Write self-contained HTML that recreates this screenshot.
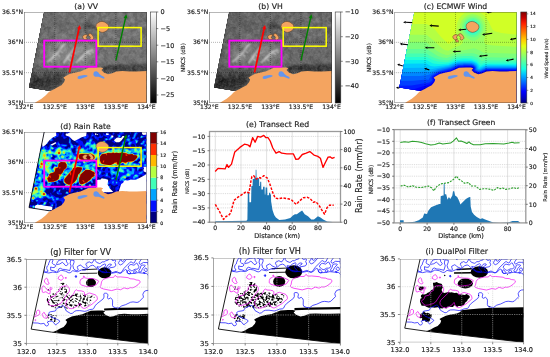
<!DOCTYPE html><html><head><meta charset="utf-8"><style>html,body{margin:0;padding:0;background:#fff;overflow:hidden}svg{display:block}</style></head><body><svg width="550" height="357" viewBox="0 0 550 357" font-family="DejaVu Sans, Liberation Sans, sans-serif"><defs><filter id="speck" x="0" y="0" width="1" height="1"><feTurbulence type="fractalNoise" baseFrequency="0.45" numOctaves="2" seed="3"/><feColorMatrix type="matrix" values="0 0 0 0 0.5  0 0 0 0 0.5  0 0 0 0 0.5  0 0 0 1.6 -0.55"/></filter><clipPath id="clipframe"><rect x="0" y="0" width="122.2" height="91.0"/></clipPath><clipPath id="clipswath"><polygon points="20.6,-3.0 4.8,75.6 25.1,78.8 124.0,91.2 124.0,-3.0"/></clipPath><linearGradient id="gg150" x1="0" y1="0" x2="0" y2="1"><stop offset="0" stop-color="#fff"/><stop offset="1" stop-color="#000"/></linearGradient><linearGradient id="gg335" x1="0" y1="0" x2="0" y2="1"><stop offset="0" stop-color="#fff"/><stop offset="1" stop-color="#000"/></linearGradient><linearGradient id="gj520" x1="0" y1="0" x2="0" y2="1"><stop offset="0.000" stop-color="#800000"/><stop offset="0.062" stop-color="#c40000"/><stop offset="0.125" stop-color="#ff1e00"/><stop offset="0.188" stop-color="#ff5900"/><stop offset="0.250" stop-color="#ff9400"/><stop offset="0.312" stop-color="#ffd000"/><stop offset="0.375" stop-color="#e4ff13"/><stop offset="0.438" stop-color="#b1ff46"/><stop offset="0.500" stop-color="#7dff7a"/><stop offset="0.562" stop-color="#49ffad"/><stop offset="0.625" stop-color="#16ffe1"/><stop offset="0.688" stop-color="#00c0ff"/><stop offset="0.750" stop-color="#0080ff"/><stop offset="0.812" stop-color="#0040ff"/><stop offset="0.875" stop-color="#0000ff"/><stop offset="0.938" stop-color="#0000c8"/><stop offset="1.000" stop-color="#000080"/></linearGradient></defs><rect width="550" height="357" fill="#fff"/><g transform="translate(24.20 12.00) scale(1.0000 1.0000)"><g clip-path="url(#clipframe)">
<rect x="0" y="0" width="122.2" height="91.0" fill="#fff"/>
<g clip-path="url(#clipswath)">
<rect x="-3" y="-3" width="128.2" height="97.0" fill="#060606"/>
<rect x="-3" y="-3" width="128.2" height="97.0" fill="#121212"/>
<rect x="-3" y="-3" width="128.2" height="97.0" fill="#1e1e1e"/>
<path d="M-1.5,-2.0L124.5,-2.0 124.5,93.0 -2.0,93.0 -2.0,-2.0ZM12.5,67.5L11.3,68.0 10.6,69.0 10.7,70.5 11.5,70.8 15.1,69.0 14.5,67.8 13.0,67.4ZM15.9,71.0L15.7,72.0 16.6,72.5 16.9,71.5 16.0,70.9ZM9.0,72.5L8.1,73.5 9.0,74.6 9.7,73.0 9.0,72.5Z" fill="#2a2a2a" fill-rule="evenodd"/>
<path d="M-1.5,-2.0L124.5,-2.0 124.5,93.0 -2.0,93.0 -2.0,-2.0ZM91.9,56.0L92.0,56.5 92.5,56.0 92.0,56.0ZM80.8,57.0L81.6,57.0 81.0,56.7ZM109.4,57.0L109.5,58.0 110.7,58.0 110.4,57.0 110.0,56.5 109.5,56.7ZM9.6,65.0L9.9,67.0 9.4,70.0 8.9,71.0 6.7,72.5 6.5,73.5 7.0,75.1 8.5,76.1 10.1,76.0 11.1,75.0 11.5,73.1 12.5,72.4 13.5,72.7 16.0,74.5 17.5,74.5 18.3,73.5 19.3,69.5 19.0,68.4 13.5,66.1 11.5,65.8 10.0,64.7ZM22.9,66.0L22.9,68.5 20.5,70.0 20.4,70.5 21.5,72.7 23.5,73.3 24.6,70.5 26.8,69.0 26.7,68.0 25.5,66.7 24.0,65.7 23.0,65.8Z" fill="#363636" fill-rule="evenodd"/>
<path d="M-1.5,-2.0L124.5,-2.0 124.5,93.0 -2.0,93.0 -2.0,-2.0ZM108.9,53.5L107.8,56.0 107.7,58.0 109.5,59.3 111.7,59.0 112.3,58.0 111.1,54.0 110.0,53.3 109.0,53.4ZM94.1,54.0L89.0,55.0 88.1,56.0 88.2,57.0 89.0,57.9 92.5,58.5 96.4,54.5 96.0,53.8 94.5,53.8ZM117.2,54.0L116.4,54.5 116.4,55.0 117.5,55.9 118.8,55.0 118.5,54.2 117.5,54.0ZM98.2,55.0L97.0,56.1 96.6,58.0 98.0,59.1 100.0,59.1 101.7,58.5 101.8,57.0 100.0,55.0 98.5,54.9ZM80.3,55.5L79.6,56.5 79.7,58.0 80.5,58.7 81.9,58.5 85.3,55.5 85.0,55.1 80.5,55.4ZM122.5,56.5L121.3,58.0 121.4,58.5 122.5,58.6 123.3,58.0 123.0,56.6 122.5,56.5ZM6.5,61.5L6.2,63.0 7.6,64.5 8.7,69.0 8.0,70.3 6.0,70.8 5.5,71.5 5.0,74.5 5.5,75.5 7.5,76.9 9.0,77.2 12.0,76.8 14.5,77.2 19.5,75.6 21.0,77.1 23.0,77.3 25.3,76.5 27.7,75.0 29.0,72.2 29.9,71.5 31.0,71.4 32.5,72.7 33.5,72.4 36.6,69.5 35.8,66.5 36.5,64.5 33.0,62.1 32.0,62.2 30.0,63.5 29.5,66.4 28.0,67.0 24.5,64.2 21.0,62.7 18.5,65.9 16.0,66.3 11.0,63.0 9.0,62.3 7.5,61.0 7.0,61.2Z" fill="#424242" fill-rule="evenodd"/>
<path d="M-1.5,-2.0L124.5,-2.0 124.5,55.0 122.5,53.5 121.5,53.3 113.5,53.5 109.5,52.3 106.0,54.1 99.0,53.6 95.5,52.6 92.0,53.9 85.0,53.8 80.0,54.6 79.0,55.5 78.8,57.0 79.4,59.0 81.0,59.7 85.5,57.7 88.0,59.1 91.5,59.7 95.0,58.6 99.0,59.9 105.0,58.8 110.0,60.0 115.5,58.7 120.5,59.6 124.5,59.1 124.5,93.0 -2.0,93.0 -2.0,7.1 -1.3,6.5 -2.0,5.3 -2.0,-2.0ZM62.4,13.5L61.5,14.5 62.0,15.1 65.5,15.0 66.5,14.5 65.3,13.5 62.5,13.5ZM7.7,59.5L6.5,60.1 5.5,61.3 5.0,63.0 5.1,65.5 4.0,67.4 4.5,70.0 3.6,74.5 4.1,76.0 7.5,78.1 14.5,78.0 17.5,77.4 22.5,78.7 29.5,75.8 32.5,75.4 35.5,73.1 37.9,69.5 37.8,66.5 40.0,65.0 39.5,62.8 36.0,62.5 32.5,60.6 30.0,61.9 28.0,62.2 26.0,61.6 24.5,62.2 23.0,61.1 21.5,61.0 19.5,61.7 17.5,64.6 16.5,65.2 10.4,61.5 8.0,59.5ZM113.5,55.8L115.0,56.0 115.8,57.5 115.0,58.2 114.5,58.1 113.4,56.0ZM27.0,63.4L27.5,63.3 28.2,64.0 28.5,65.0 28.2,65.5 26.9,65.0 26.9,63.5Z" fill="#4e4e4e" fill-rule="evenodd"/>
<path d="M-1.5,-2.0L124.5,-2.0 124.5,53.7 122.5,52.6 120.5,52.2 115.0,52.6 109.0,51.6 106.0,52.8 101.0,52.9 95.5,52.0 92.0,53.3 88.0,52.8 84.5,53.1 82.0,53.9 79.0,53.8 78.4,54.5 78.2,56.0 78.7,59.0 80.0,60.3 81.0,60.6 85.5,59.4 91.5,60.4 95.0,59.5 98.5,60.4 124.5,60.2 124.5,93.0 -2.0,93.0 -2.0,60.2 -0.7,60.0 -0.4,59.5 -2.0,58.8 -2.0,48.2 -1.2,47.0 -2.0,45.3 -2.0,19.5 -1.1,18.5 -1.1,18.0 -2.0,17.5 -2.0,8.3 0.5,9.0 2.0,11.8 3.5,11.5 4.4,10.5 3.8,9.5 1.3,8.0 -1.0,3.8 -2.0,3.1 -2.0,-2.0ZM14.0,2.5L12.6,3.5 12.7,4.5 13.5,4.8 14.5,4.4 15.0,3.5 14.0,2.5ZM6.4,9.5L5.8,10.5 7.6,11.0 8.1,9.5 7.5,9.1 6.5,9.4ZM62.9,10.5L60.5,12.3 59.7,13.5 60.0,15.0 61.0,16.3 71.5,16.0 71.7,15.5 71.2,15.0 67.5,12.8 65.2,12.0 63.5,10.4 63.0,10.4ZM16.7,12.0L17.5,12.2 17.0,11.9ZM3.3,24.5L3.5,26.1 4.2,26.0 4.5,24.7 4.0,24.1 3.5,24.2ZM1.9,30.5L0.8,32.0 0.6,33.5 2.0,33.9 3.5,33.4 4.0,32.5 3.9,31.5 3.0,30.4 2.0,30.4ZM11.1,36.5L10.9,38.0 12.0,38.1 12.6,37.0 11.5,36.4ZM10.9,41.5L10.9,43.0 12.0,43.4 12.4,43.0 12.1,42.0 11.0,41.4ZM8.2,56.0L5.5,59.7 3.5,64.0 2.5,64.7 1.0,64.6 0.6,65.5 0.7,66.5 3.1,70.0 2.2,73.0 2.3,75.5 6.0,79.6 9.5,79.6 12.0,78.8 17.0,78.3 22.5,80.0 26.0,78.1 37.0,74.8 37.7,74.0 38.0,71.5 39.9,69.5 41.5,66.5 40.9,63.5 41.3,61.0 40.0,59.5 39.5,59.2 38.0,61.0 37.0,61.3 32.5,59.5 31.5,59.6 29.5,60.8 28.5,60.5 27.0,58.8 23.0,57.8 22.2,58.0 21.1,59.5 19.0,60.5 17.0,62.3 16.0,62.4 10.9,60.5 9.7,58.5 9.0,56.0 8.5,55.8ZM2.1,57.0L2.0,58.0 3.0,57.8 3.1,57.0 2.5,56.6ZM13.6,57.5L13.7,59.0 14.5,59.6 14.7,58.0 14.0,57.0ZM2.5,89.0L2.0,89.5 2.5,89.7 2.8,89.5 2.5,89.0Z" fill="#5a5a5a" fill-rule="evenodd"/>
<path d="M-1.5,-2.0L1.4,-2.0 2.0,-0.9 2.9,-2.0 6.7,-2.0 6.2,0.5 9.5,4.0 9.9,5.5 9.0,7.0 5.0,8.4 3.4,7.5 1.4,4.5 1.5,1.0 -2.0,1.8 -2.0,-2.0ZM15.5,-2.0L30.5,-2.0 32.0,-1.1 32.9,-2.0 86.6,-2.0 87.0,-1.6 87.6,-2.0 124.5,-2.0 124.5,52.7 120.5,51.1 115.0,51.9 108.5,50.1 106.0,51.7 103.5,51.5 101.0,52.3 96.0,51.2 91.5,52.7 87.5,52.0 81.5,53.2 78.5,52.3 77.6,53.0 77.3,54.5 77.8,58.5 79.7,61.5 79.5,63.5 81.0,63.2 81.6,62.0 82.9,61.0 85.0,60.6 90.5,61.3 95.5,60.2 98.5,60.9 105.5,60.8 108.5,61.4 122.0,60.9 124.5,61.2 124.5,83.4 123.4,84.0 122.8,85.0 124.5,85.9 124.5,93.0 48.2,93.0 47.5,92.4 46.9,93.0 16.8,93.0 16.3,92.0 15.0,91.7 14.0,92.0 13.3,93.0 9.9,93.0 9.5,92.1 8.5,91.7 7.6,92.0 7.3,93.0 -2.0,93.0 -2.0,83.3 0.0,82.9 3.0,84.5 5.0,82.9 8.5,81.6 11.5,81.2 13.5,79.7 16.0,79.1 18.6,79.5 20.9,81.5 22.0,81.9 24.0,81.5 25.5,79.5 26.5,79.0 28.0,79.1 30.5,80.3 31.8,78.5 32.5,78.5 32.6,80.0 34.0,80.3 34.8,77.5 38.5,75.5 40.1,74.0 40.8,71.0 43.5,67.0 42.1,64.0 43.0,61.5 42.4,59.0 42.9,56.5 42.0,54.4 41.0,54.6 37.5,57.9 33.7,57.5 32.2,55.0 31.0,54.3 29.0,56.9 26.0,57.6 16.0,54.9 12.0,51.3 11.3,51.5 10.0,53.0 9.0,52.7 8.6,51.0 10.0,49.5 10.6,46.5 15.3,44.5 13.2,40.5 14.5,36.5 13.0,34.6 10.0,34.5 9.0,35.5 8.1,39.0 10.1,45.5 8.0,45.6 6.9,46.5 6.2,49.0 4.7,51.5 4.7,54.0 4.5,54.3 2.5,53.6 1.5,54.6 0.2,57.5 -2.0,57.7 -2.0,53.0 -0.8,52.5 -1.0,50.5 1.0,47.1 3.0,45.5 3.4,44.0 2.9,42.5 1.0,40.7 0.5,40.7 -1.0,42.6 -2.0,43.0 -2.0,37.6 0.5,36.5 2.0,38.3 3.2,38.0 5.3,32.5 4.9,30.0 5.5,28.3 6.5,27.9 9.0,30.5 10.0,30.7 10.7,30.0 11.1,28.0 17.0,23.0 17.5,21.0 17.0,20.1 16.0,19.9 14.5,20.5 13.5,20.0 13.4,19.0 14.5,18.5 14.8,17.5 14.0,16.5 13.2,16.5 10.0,18.9 9.1,21.5 9.3,23.5 7.5,24.6 6.5,24.6 4.7,20.5 4.6,16.5 2.0,15.2 -2.0,15.2 -2.0,9.2 -0.5,9.8 1.0,12.4 2.0,13.2 5.0,12.1 9.0,12.7 10.0,12.0 10.3,10.5 11.0,10.0 13.0,12.4 19.6,15.0 19.9,16.0 19.5,18.5 21.1,17.5 22.0,16.1 24.4,18.0 23.6,21.0 24.5,21.4 25.1,20.5 24.6,18.0 26.3,16.0 26.5,15.0 24.0,14.1 23.0,14.5 22.0,15.9 19.1,11.0 15.5,9.3 14.0,7.5 14.0,6.5 14.5,6.0 16.0,5.5 17.5,6.1 20.5,5.2 22.0,6.2 22.7,6.0 21.0,4.4 19.5,1.7 18.5,1.5 17.0,2.1 15.5,1.1 15.0,0.0 15.3,-2.0ZM101.3,-0.5L100.5,0.5 100.4,1.5 102.0,4.9 102.5,0.8 102.0,-0.5 101.5,-0.6ZM57.8,1.0L57.5,2.0 58.0,3.0 59.1,1.0 58.0,0.9ZM24.9,1.5L25.0,2.1 26.5,2.8 28.8,2.5 29.0,2.0 28.0,1.3 25.0,1.4ZM110.4,2.0L110.7,2.5 110.5,1.8ZM68.4,4.0L67.1,5.0 67.5,5.9 68.5,6.0 69.7,5.0 69.5,4.4 68.5,4.0ZM35.1,5.5L34.7,6.0 35.0,6.5 35.5,5.5ZM120.9,6.5L120.3,7.5 120.4,8.5 121.0,9.3 122.0,9.3 122.4,7.5 122.0,6.6 121.0,6.5ZM62.7,8.5L59.2,12.0 58.5,13.5 59.9,17.0 59.9,19.0 61.7,20.5 62.0,24.3 63.5,24.0 64.4,22.5 64.1,21.5 62.1,19.5 61.9,18.5 62.5,17.5 65.5,16.7 70.0,17.2 72.5,17.9 73.5,17.7 73.8,16.0 73.0,14.7 69.4,13.0 65.5,8.8 64.0,8.1 63.0,8.3ZM53.4,9.0L53.5,10.0 54.5,10.7 54.5,9.4 53.5,8.9ZM41.9,10.0L41.3,11.0 41.9,12.5 42.5,13.1 43.8,13.0 44.6,12.0 44.4,10.5 43.5,9.8 42.0,9.9ZM85.3,10.5L83.3,12.0 83.5,13.1 84.5,13.2 86.3,12.0 86.9,11.0 86.5,10.3 85.5,10.4ZM30.0,11.0L29.6,11.5 30.0,12.2 32.5,12.3 33.0,11.5 32.5,10.6 30.0,11.0ZM37.5,11.0L34.1,13.5 34.2,15.0 36.0,15.7 39.2,11.5 39.0,11.0 37.5,11.0ZM105.6,13.0L104.5,14.0 105.0,14.5 107.0,13.7 107.2,13.0 106.0,12.7ZM53.3,16.0L53.1,17.5 54.4,18.5 52.8,20.0 52.6,21.5 54.0,22.2 55.4,21.5 55.7,20.0 55.1,18.5 55.6,17.0 54.5,15.9 53.5,15.7ZM119.4,16.0L118.2,17.0 118.0,19.0 118.6,21.5 120.0,23.4 120.5,23.0 121.4,18.5 121.0,16.9 119.5,16.0ZM36.9,17.5L36.5,18.5 37.0,19.4 38.0,19.6 39.2,19.0 39.5,17.5 37.0,17.4ZM94.6,22.5L94.3,23.5 95.7,24.0 96.2,23.0 95.0,22.3ZM28.6,23.5L27.6,24.5 27.4,25.5 28.0,25.9 29.0,25.3 29.7,24.0 29.5,23.2 29.0,23.2ZM19.4,27.5L14.6,28.0 18.5,30.3 21.0,30.6 21.9,29.5 21.6,28.0 20.9,27.5 19.5,27.5ZM85.2,28.0L85.0,29.0 86.0,29.3 86.7,28.5 85.5,27.9ZM107.9,29.0L108.0,29.6 110.1,29.5 109.0,28.5 108.0,28.9ZM112.2,31.0L112.2,32.0 113.0,32.2 113.1,31.5 112.5,30.9ZM76.0,36.5L76.1,37.5 77.0,37.9 77.5,37.0 76.5,36.2ZM50.9,60.0L49.5,60.3 48.6,61.0 48.9,62.0 49.5,62.1 51.4,60.5 51.0,60.0ZM61.7,60.0L60.7,61.5 61.1,62.5 62.5,63.0 64.0,62.5 64.5,61.5 64.0,60.2 63.0,59.5 62.0,59.8ZM107.8,69.0L106.3,71.0 106.9,72.0 107.6,72.0 109.1,69.5 108.9,69.0 108.0,68.9ZM62.4,70.5L62.1,73.0 62.5,74.0 63.5,74.3 64.6,73.5 65.0,72.0 64.5,71.0 63.5,70.2 62.5,70.4ZM102.8,70.5L102.1,71.0 101.9,72.0 102.4,75.0 101.7,77.0 102.5,77.2 103.5,76.2 105.2,72.0 104.5,71.0 103.0,70.5ZM91.8,75.0L91.7,75.5 92.8,75.5 93.1,75.0 92.0,74.9ZM114.5,75.0L113.6,76.0 113.9,77.0 114.5,77.3 115.4,76.0 114.5,75.0ZM77.4,77.5L77.7,77.5 77.5,77.1ZM77.4,81.5L76.8,82.0 77.0,82.7 77.6,82.0 77.5,81.5ZM14.2,84.0L14.4,85.0 15.0,85.3 17.5,85.0 16.7,84.0 14.5,83.7ZM61.9,85.5L62.5,86.5 64.4,86.5 64.2,85.5 62.0,85.4ZM2.0,87.0L-0.0,89.0 0.1,90.5 2.0,91.6 4.0,91.5 5.2,91.0 5.6,89.5 4.6,87.5 3.0,86.7 2.0,87.0ZM65.5,88.0L65.3,89.0 65.7,89.5 67.5,89.7 68.5,89.2 68.7,88.5 68.2,88.0 65.5,88.0ZM99.7,89.5L99.5,90.5 100.5,90.8 101.0,90.0 100.0,89.3ZM1.0,19.0L2.3,20.0 2.6,22.0 1.5,24.5 1.5,27.5 -0.5,31.5 -1.5,32.4 -2.0,32.6 -2.0,20.8 0.9,19.0ZM2.5,59.9L3.5,59.7 4.0,60.4 3.0,62.6 2.0,62.7 0.7,62.0 2.4,60.0ZM-1.8,62.5L-1.1,63.5 -2.0,65.3 -2.0,62.5ZM-0.5,69.3L0.9,69.5 1.3,70.5 0.6,73.0 0.7,77.0 0.0,77.7 -2.0,77.7 -2.0,70.1 -0.8,69.5ZM3.0,78.5L3.6,79.0 3.5,80.3 3.0,80.0 3.0,78.5Z" fill="#666666" fill-rule="evenodd"/>
<path d="M-1.5,-2.0L0.1,-2.0 -0.0,-1.0 -0.5,0.2 -2.0,0.9 -2.0,-2.0ZM16.5,-2.0L19.7,-2.0 19.0,-0.7 17.5,-0.4 16.7,-1.0 16.5,-2.0ZM23.0,-2.0L28.0,-2.0 27.1,-0.5 24.5,-0.2 23.1,-0.5 22.8,-2.0ZM34.5,-2.0L37.1,-2.0 38.0,-0.6 41.0,-0.8 42.0,-0.2 41.7,5.0 40.4,6.5 40.6,8.0 39.0,9.0 38.0,8.7 37.6,8.0 38.7,6.0 37.5,4.5 36.5,3.6 34.0,3.2 33.0,2.5 32.8,1.5 34.4,-2.0ZM49.5,-2.0L58.3,-2.0 55.3,0.5 54.2,6.0 53.5,6.3 52.5,5.5 51.5,3.4 48.0,0.6 49.3,-2.0ZM63.5,-1.7L66.5,-0.2 67.1,-1.0 66.9,-2.0 68.3,-2.0 69.5,-1.3 70.1,-2.0 75.0,-2.0 74.8,-1.0 71.7,1.5 71.8,2.0 74.4,3.0 75.6,4.0 74.3,6.0 74.0,8.0 76.0,12.5 77.0,12.8 78.5,12.3 79.8,11.0 79.5,10.0 77.8,8.0 78.1,6.0 81.0,5.6 83.3,4.5 86.5,1.0 88.0,0.4 89.5,0.8 91.0,2.7 92.0,3.0 92.5,2.0 92.7,-0.5 90.5,-1.3 90.0,-2.0 93.2,-2.0 93.5,-1.3 95.1,-2.0 98.6,-2.0 98.9,2.0 99.9,4.5 100.1,6.5 101.0,7.8 102.0,8.2 104.0,7.7 104.8,6.5 103.6,3.5 103.6,-2.0 116.2,-2.0 116.5,0.5 115.9,1.5 115.6,4.5 118.2,6.5 114.5,8.6 112.9,5.0 113.2,0.5 111.0,-0.7 110.0,-0.3 108.9,1.0 108.6,2.5 109.0,4.0 111.2,6.0 110.9,8.0 111.1,11.0 110.1,13.0 110.9,14.5 110.5,15.7 108.5,17.7 106.0,18.1 105.8,18.5 106.3,20.0 107.5,20.7 109.0,19.2 111.0,19.2 112.0,18.5 113.7,14.5 114.5,10.3 116.5,10.3 118.5,9.4 121.5,10.6 123.3,10.0 122.9,5.5 122.0,4.7 119.5,4.8 119.0,1.5 120.1,-2.0 124.5,-2.0 124.5,0.5 123.6,1.5 123.3,2.5 123.7,3.5 124.5,3.8 124.5,37.5 123.0,36.4 122.5,36.6 121.8,37.5 119.5,38.6 118.1,40.5 115.1,41.5 114.7,42.5 116.0,45.4 117.0,46.1 118.8,45.5 122.0,41.8 124.5,43.1 124.5,51.3 121.5,49.2 119.5,49.6 116.9,51.0 114.5,51.0 112.1,49.5 110.8,47.5 109.5,46.5 106.5,47.2 105.5,46.9 104.0,43.8 103.0,43.3 100.5,43.8 99.0,46.0 96.9,47.0 97.5,47.9 100.5,48.4 101.7,50.0 101.8,51.0 101.1,51.5 98.5,51.3 94.8,49.5 94.3,47.0 94.7,45.0 93.0,42.0 94.0,41.1 97.0,42.9 98.5,43.0 99.2,42.0 99.0,39.0 100.8,38.0 98.0,37.1 94.0,39.7 92.5,39.0 90.5,36.9 89.5,36.6 88.5,37.0 87.7,38.5 87.9,39.5 89.7,42.0 89.3,45.0 91.1,47.0 91.7,49.0 93.6,50.0 93.5,50.5 92.0,51.7 88.5,50.5 85.5,51.3 84.0,51.0 83.3,50.0 83.7,48.0 83.3,45.5 84.4,42.5 83.0,39.0 82.5,38.3 80.5,37.9 78.5,34.8 76.5,34.5 74.8,36.0 72.7,42.5 73.5,43.0 74.5,42.5 76.0,39.9 78.5,39.8 79.5,40.3 80.5,43.0 79.5,46.5 80.6,48.5 80.8,50.0 80.5,50.6 77.0,50.3 75.0,52.2 71.0,51.7 70.5,52.0 70.3,53.0 70.6,54.5 71.5,55.4 75.5,54.9 76.5,56.5 78.2,61.5 75.0,64.0 73.0,67.2 72.0,67.5 69.5,66.9 68.5,67.0 66.0,69.6 63.5,68.6 61.5,68.6 60.9,69.0 61.0,72.0 60.0,74.0 57.5,75.4 54.5,75.1 52.0,76.6 50.5,76.2 50.0,75.5 49.9,70.5 51.8,66.5 50.7,65.0 50.4,63.5 51.5,61.9 54.0,60.9 55.0,60.0 55.6,58.5 55.3,57.5 53.5,57.2 51.0,58.5 47.0,59.3 44.6,56.0 43.6,53.5 42.5,52.9 40.0,53.3 38.7,56.0 37.0,56.9 35.0,56.1 31.5,52.3 31.0,52.3 29.6,53.5 28.1,56.0 26.0,56.8 24.5,56.4 21.8,54.5 21.5,54.0 22.1,53.0 20.0,50.3 18.5,50.5 16.4,53.0 14.6,52.5 13.2,50.0 13.4,48.5 15.0,47.2 17.5,47.4 18.9,46.5 18.5,45.0 15.6,40.5 15.5,38.5 16.5,37.1 19.0,36.3 19.3,35.5 18.0,33.5 16.0,34.2 15.0,33.8 13.5,31.0 14.5,30.3 15.9,30.5 18.5,32.9 20.0,32.9 22.0,33.8 23.5,32.5 24.2,31.0 24.3,27.5 23.5,26.0 22.0,25.8 18.0,26.4 16.8,26.0 16.6,25.5 18.0,23.6 19.0,21.3 21.0,19.9 21.5,20.1 22.3,22.5 24.5,25.6 25.3,30.5 26.3,31.5 29.0,32.7 29.3,32.0 28.9,28.5 31.3,25.0 31.5,22.0 30.8,21.0 29.5,20.3 27.5,20.4 27.1,19.0 27.5,18.0 28.9,17.0 29.0,14.9 29.9,14.0 31.2,14.5 30.5,16.7 34.0,17.2 34.9,18.0 34.8,20.0 33.0,21.5 33.5,22.3 34.0,22.6 36.0,21.1 40.0,21.0 43.5,22.5 45.5,25.2 50.0,26.6 51.5,26.4 52.6,24.5 56.0,22.9 57.5,20.8 58.5,20.3 59.5,20.5 60.5,21.5 60.6,22.5 59.7,25.0 60.5,26.4 62.0,27.1 63.4,27.0 66.0,23.4 68.0,22.2 68.7,22.5 70.0,24.4 74.0,28.2 76.0,29.5 77.2,29.0 79.0,25.2 80.0,24.9 82.5,25.3 82.8,23.5 82.1,21.0 82.0,19.0 81.5,18.5 80.0,18.2 77.9,19.0 77.5,19.5 78.8,21.5 78.8,23.0 78.0,23.7 76.5,23.9 73.5,23.7 70.0,19.5 70.5,19.1 74.1,19.0 75.0,18.5 75.2,17.5 75.0,14.0 70.4,12.5 68.2,9.0 68.4,7.5 70.8,5.5 71.0,4.0 70.5,3.1 67.5,2.6 65.3,3.5 64.8,6.0 62.4,7.0 59.0,10.8 57.0,11.7 55.7,9.0 55.5,7.3 59.6,6.0 60.2,2.5 63.1,-1.5ZM90.9,5.5L89.0,7.2 86.5,6.6 85.1,9.0 81.9,10.5 81.4,11.0 81.2,12.0 81.8,13.5 83.5,14.9 85.0,14.9 87.5,13.7 90.5,16.2 92.0,16.2 92.2,15.5 91.5,13.0 92.0,11.0 93.5,10.3 96.5,11.3 96.9,10.5 94.9,6.5 92.0,5.3 91.0,5.4ZM105.2,11.5L102.2,13.5 102.3,15.0 105.0,17.0 107.5,15.8 109.9,13.0 107.0,11.3 105.5,11.3ZM96.4,13.5L95.9,14.5 96.8,16.5 96.5,17.3 92.0,18.7 88.5,17.4 87.3,18.5 89.0,20.6 92.4,22.0 93.1,24.5 95.3,26.0 95.0,28.4 94.0,29.0 92.0,28.2 90.5,28.3 87.5,26.1 84.0,26.5 83.3,27.0 83.0,28.0 83.5,31.4 89.0,30.0 95.5,33.5 96.2,31.0 96.8,30.5 103.0,30.3 105.5,31.2 108.7,31.5 109.2,32.0 109.6,34.5 114.5,35.1 116.9,37.5 118.1,37.5 119.3,34.5 118.6,32.0 118.0,31.7 115.5,32.5 114.0,29.0 112.0,28.0 109.0,24.5 107.5,25.0 106.0,27.9 103.5,27.5 101.0,28.7 99.5,28.4 98.6,26.5 98.2,24.5 100.3,22.0 97.9,21.0 97.3,20.0 97.6,18.0 99.0,15.0 97.5,13.3 96.5,13.3ZM118.4,15.0L117.2,16.0 116.8,21.0 119.0,25.4 120.5,26.1 122.4,24.0 122.0,21.5 122.1,17.5 121.0,15.3 118.5,15.0ZM114.0,22.5L113.5,23.5 114.0,24.3 114.7,23.0 114.0,22.5ZM114.9,26.0L114.3,27.0 114.5,28.3 116.0,28.4 117.2,27.0 116.5,26.3 115.0,26.0ZM43.9,26.5L42.0,27.5 40.0,27.6 39.2,29.0 39.5,29.6 41.5,30.1 44.5,29.4 45.1,28.5 45.2,27.0 45.0,26.4 44.0,26.4ZM54.5,27.5L54.2,28.0 55.0,29.3 57.9,30.0 57.6,29.0 54.5,27.5ZM68.4,28.5L65.4,30.0 65.3,31.5 66.5,32.3 70.5,31.8 71.1,31.0 70.9,30.0 70.0,28.8 68.5,28.5ZM49.5,31.0L50.0,31.4 50.3,31.0 50.0,30.5 49.5,31.0ZM79.8,31.5L79.1,33.0 79.5,34.3 81.0,34.5 82.5,33.5 83.3,31.5 81.0,31.0 80.0,31.3ZM30.7,37.0L30.4,38.0 32.0,38.5 33.1,37.0 31.0,36.9ZM106.0,38.5L104.4,41.0 104.4,42.5 106.0,41.8 108.0,39.2 111.0,41.9 112.3,42.0 112.6,40.5 111.0,38.5 110.0,38.2 108.5,38.9 107.0,38.2 106.0,38.5ZM20.7,40.0L19.9,41.5 20.0,42.0 21.0,42.1 21.8,41.0 21.5,40.0 21.0,39.8ZM21.5,46.5L21.0,47.0 21.5,47.7 22.6,47.0 22.0,46.4ZM67.5,48.0L66.1,52.0 67.0,52.3 69.2,51.5 69.9,50.5 70.0,48.5 69.5,47.8 68.0,47.7ZM62.0,58.5L58.5,60.5 58.6,61.5 59.7,63.0 60.8,64.0 62.0,64.2 66.0,63.1 65.9,61.5 64.1,58.5 63.0,58.0 62.0,58.5ZM70.0,62.0L69.1,63.0 69.5,64.1 70.5,64.6 72.0,64.1 72.2,63.5 71.5,62.1 70.0,62.0ZM55.2,63.5L52.4,66.5 53.5,67.1 56.0,67.0 57.3,68.0 58.5,68.0 59.1,67.0 58.2,65.0 57.0,63.7 55.5,63.4ZM78.5,-2.0L81.7,-2.0 82.2,2.0 81.2,3.0 78.0,4.6 76.8,3.5 76.4,0.5 78.4,-2.0ZM5.0,2.4L8.2,4.5 8.3,5.5 7.5,6.5 6.0,7.1 4.9,6.5 4.9,2.5ZM47.5,4.7L48.5,5.4 52.2,10.5 52.5,11.5 52.0,12.7 51.0,13.0 49.5,11.0 47.0,10.3 45.0,8.4 42.2,7.0 45.0,6.4 47.1,5.0ZM20.0,7.5L22.1,9.0 22.6,11.0 22.0,11.8 19.0,9.0 19.2,8.0 20.0,7.5ZM-1.5,10.2L-0.7,11.0 -0.4,12.5 -1.0,13.1 -2.0,13.2 -2.0,10.1ZM26.0,11.0L27.0,11.5 26.7,12.5 26.0,12.8 24.4,12.0 25.8,11.0ZM56.5,12.4L57.0,13.5 57.0,15.3 55.2,14.0 55.4,13.0 56.3,12.5ZM44.0,14.4L45.0,14.0 45.7,14.5 45.5,15.5 44.5,16.5 43.5,16.6 42.7,16.0 42.7,15.0 43.6,14.5ZM49.5,14.3L51.0,14.2 51.5,15.5 50.4,18.5 50.4,21.0 49.7,22.0 44.5,21.9 43.6,20.0 43.8,19.0 44.5,18.2 47.0,18.7 48.5,18.0 48.4,15.5 49.2,14.5ZM9.0,14.9L10.5,15.0 10.5,15.9 10.0,16.3 8.9,16.0 8.8,15.0ZM17.5,15.8L18.1,16.5 17.5,17.5 16.8,17.0 17.0,16.0ZM64.5,17.9L66.2,18.0 66.4,18.5 66.0,19.1 64.5,19.2 63.9,18.5 64.2,18.0ZM6.5,18.3L7.5,18.2 7.8,19.5 7.0,19.8 6.5,19.5 6.4,18.5ZM0.0,21.9L0.3,22.0 0.0,22.6 -0.2,22.0ZM-1.5,25.5L-0.6,27.0 -1.1,29.5 -2.0,30.8 -2.0,25.3ZM5.0,39.4L6.0,39.4 6.5,40.0 6.5,41.0 6.0,41.7 5.0,41.5 3.9,40.5 4.9,39.5ZM4.0,47.9L4.2,48.5 2.8,50.5 2.0,50.8 1.8,50.0 3.9,48.0ZM81.0,50.8L82.0,51.2 82.0,51.6 81.4,52.0 80.8,51.0ZM-1.5,55.1L-0.8,56.0 -2.0,56.4 -2.0,55.0ZM95.0,60.9L98.5,61.5 105.5,61.7 106.7,62.5 105.5,66.4 102.0,69.0 100.7,70.5 101.2,74.5 99.0,77.0 98.7,78.0 99.5,79.5 101.0,79.9 102.5,79.7 105.0,78.1 106.0,78.1 107.1,79.0 107.4,80.5 104.1,82.5 102.7,85.0 102.8,86.0 103.5,86.6 107.0,85.7 110.0,85.9 112.5,84.7 113.1,84.0 113.3,82.5 111.4,81.0 111.4,80.0 112.5,79.3 115.5,79.4 116.9,78.5 116.6,75.0 114.5,73.5 113.5,73.4 112.6,74.0 111.8,77.5 111.0,78.3 108.5,77.7 106.5,76.3 106.5,74.6 108.5,73.9 109.6,71.0 111.0,69.4 114.5,69.3 115.7,68.5 116.8,66.5 118.5,66.1 119.5,66.2 120.5,67.0 121.0,69.0 124.5,68.3 124.5,74.2 121.5,74.3 120.5,75.5 120.7,76.5 121.5,77.2 124.5,76.5 124.5,81.8 121.5,83.8 115.5,86.0 114.9,87.0 116.5,89.3 117.0,89.3 118.5,87.1 124.5,87.4 124.5,90.7 123.2,91.5 122.9,93.0 120.7,93.0 120.0,92.1 118.0,91.5 117.9,93.0 114.1,93.0 112.2,89.0 111.0,87.9 110.0,88.3 108.9,90.0 109.5,93.0 93.5,93.0 90.5,91.3 90.0,91.5 89.9,93.0 78.4,93.0 78.0,92.0 77.5,91.8 76.5,92.1 75.7,93.0 61.7,93.0 63.0,90.6 68.5,90.8 70.5,88.5 70.4,87.5 67.0,86.1 67.3,83.5 67.0,83.0 66.0,82.8 64.0,83.5 61.5,83.1 59.3,85.0 58.9,90.0 60.6,93.0 50.0,93.0 50.2,91.5 52.0,89.0 52.5,88.6 55.5,88.6 56.6,87.0 56.2,85.5 52.5,83.2 49.5,85.3 48.1,89.5 46.0,91.6 45.3,93.0 42.7,93.0 44.7,89.5 45.2,85.5 45.0,84.7 44.5,84.7 43.0,85.7 42.9,88.5 41.5,90.6 38.9,92.0 38.2,93.0 34.3,93.0 34.1,90.0 33.5,88.0 33.4,83.5 34.0,82.5 35.6,81.5 36.5,78.5 37.5,77.5 39.9,77.5 41.5,79.3 43.0,78.2 45.5,78.4 47.0,77.2 48.0,77.1 50.5,79.5 52.5,79.8 55.0,79.4 57.5,77.2 58.5,77.1 60.5,78.0 61.4,81.0 62.0,81.5 62.7,81.0 63.3,78.5 66.0,73.7 67.5,71.9 69.0,71.4 71.2,73.5 73.5,73.8 78.5,67.1 79.5,66.8 83.0,67.2 84.5,66.6 84.9,65.5 84.0,63.0 85.0,62.3 86.0,62.9 86.6,65.0 88.0,67.0 88.1,70.0 88.5,70.4 89.5,70.2 91.0,68.5 90.7,66.0 93.2,64.5 93.3,62.0 94.8,61.0ZM96.8,71.5L94.5,73.2 90.5,74.0 89.0,76.1 86.5,78.3 82.0,76.9 80.9,73.0 79.5,72.9 78.1,73.5 75.6,76.5 75.5,77.5 76.3,79.5 76.1,80.5 74.1,84.5 71.9,87.0 72.0,87.5 73.0,87.8 75.0,87.8 76.7,85.0 79.1,82.5 80.0,78.5 81.0,78.6 82.3,80.5 84.0,81.5 87.0,79.0 90.5,79.8 91.9,77.5 94.5,76.8 97.3,73.5 97.7,72.0 97.0,71.4ZM94.6,81.5L93.4,83.5 92.3,87.5 92.5,88.0 94.0,88.3 96.4,87.5 96.5,84.0 97.2,82.0 96.5,81.3 95.0,81.2ZM83.6,83.5L82.0,85.0 82.1,87.5 80.0,88.0 79.4,89.0 79.5,90.0 80.5,90.8 85.0,91.9 86.9,91.5 90.5,89.0 91.0,88.0 88.8,86.5 86.5,85.8 84.5,83.3 84.0,83.3ZM36.7,85.0L37.6,87.0 38.5,87.3 39.1,87.0 39.4,86.0 39.0,85.4 37.0,84.6ZM98.6,88.0L98.1,89.0 98.5,91.4 99.0,92.3 100.0,92.6 101.7,91.5 102.7,89.0 101.8,88.0 99.0,87.9ZM45.5,61.9L46.0,61.6 47.0,62.3 48.1,64.5 46.5,74.0 45.5,74.8 43.5,74.7 42.7,74.0 42.0,72.0 42.7,69.5 45.2,67.5 45.2,66.5 43.9,64.0 45.5,62.0ZM111.5,62.0L114.1,62.5 115.0,63.5 115.1,64.5 114.7,65.5 111.5,67.2 110.0,66.7 109.2,65.5 109.9,63.0 111.3,62.0ZM121.5,62.0L122.7,62.0 124.5,62.9 124.5,65.0 121.4,63.0 121.1,62.5 121.4,62.0ZM-1.5,73.3L-0.9,75.0 -2.0,75.9 -2.0,73.1ZM15.5,80.3L16.9,80.5 17.2,81.0 16.8,81.5 15.3,81.5 15.0,80.5ZM26.0,82.4L27.5,82.4 30.0,84.4 30.9,86.0 31.3,88.0 29.5,89.1 24.0,88.8 21.9,93.0 18.1,93.0 17.5,91.3 14.0,90.0 13.6,89.0 14.7,87.5 16.5,86.7 24.0,88.2 24.0,87.3 21.0,87.3 19.9,83.5 25.7,82.5ZM9.0,82.9L11.0,82.7 12.0,83.5 12.2,88.0 12.8,89.5 12.2,90.5 11.0,90.7 8.1,90.0 6.7,88.5 6.4,85.5 8.9,83.0ZM-1.5,84.7L-0.7,85.0 -0.3,86.0 -1.0,86.9 -2.0,87.0 -2.0,84.6ZM61.5,88.6L62.5,88.9 62.5,89.5 61.3,89.0ZM-1.5,91.0L0.9,93.0 -2.0,93.0 -2.0,90.8ZM27.0,91.8L27.6,92.0 27.7,93.0 25.9,93.0 26.8,92.0Z" fill="#727272" fill-rule="evenodd"/>
<path d="M-1.5,-2.0L-0.8,-2.0 -0.9,-1.0 -2.0,-0.0 -2.0,-2.0ZM24.5,-2.0L26.8,-2.0 25.5,-1.2 24.5,-1.4 24.0,-2.0ZM72.5,-2.0L73.1,-2.0 72.5,-1.6 72.1,-2.0ZM105.5,-2.0L108.7,-2.0 108.0,-1.0 106.0,-0.6 105.1,-2.0ZM53.0,-0.6L53.0,-0.0 52.8,-0.5ZM79.0,-0.5L80.2,-0.5 80.7,0.5 80.5,1.7 79.5,2.2 78.5,1.6 78.3,0.5 79.0,-0.5ZM96.0,-0.6L97.0,-0.7 97.6,0.0 97.5,4.5 95.5,4.6 94.1,3.5 94.3,1.0 95.9,-0.5ZM35.5,-0.3L36.5,0.3 36.7,1.5 35.5,1.9 34.7,1.5 35.1,0.0ZM106.0,0.7L107.1,1.5 107.0,3.7 106.0,4.2 104.9,3.5 104.9,2.0 105.6,1.0ZM39.5,1.2L40.5,1.5 40.5,2.8 40.0,3.3 38.9,3.0 39.0,1.5ZM62.0,2.8L62.6,3.0 62.5,4.6 61.5,4.3 61.7,3.0ZM82.5,6.4L83.5,6.4 84.0,7.0 83.8,8.0 83.0,8.4 80.7,8.0 80.6,7.5 82.1,6.5ZM107.5,6.3L108.5,6.2 109.5,6.8 110.0,9.5 109.5,10.7 108.0,10.7 105.8,9.5 105.8,8.5 107.2,6.5ZM124.5,6.3L124.5,8.5 124.3,6.5ZM98.0,7.4L98.7,8.0 98.5,8.7 97.5,8.0 97.8,7.5ZM57.5,8.2L58.6,8.5 58.2,9.5 57.5,9.5 57.2,8.5ZM120.5,12.0L122.5,12.2 124.5,13.7 124.5,21.4 123.2,20.5 122.4,14.5 119.1,13.0 120.5,12.0ZM93.5,12.2L94.2,12.5 94.0,13.4 93.4,13.5 93.1,12.5ZM79.5,14.9L80.5,14.6 81.5,14.9 82.8,16.0 82.7,17.0 77.0,17.1 77.0,15.9 79.4,15.0ZM114.5,16.4L115.5,16.5 116.1,17.5 115.8,19.0 115.0,19.9 114.0,19.9 113.3,19.0 113.5,17.5 114.3,16.5ZM101.0,16.8L101.8,17.0 102.4,18.0 102.5,19.5 102.0,20.0 100.5,20.2 99.5,19.5 100.8,17.0ZM74.5,20.4L76.6,21.5 76.8,22.0 76.2,22.5 75.0,22.5 74.0,22.0 73.6,21.0 74.3,20.5ZM84.0,20.2L86.3,20.5 88.0,22.4 91.2,22.5 92.0,24.0 91.5,25.8 90.0,26.1 88.0,24.0 85.5,24.8 84.6,24.5 83.5,22.0 83.6,20.5ZM110.0,20.8L111.0,20.8 111.6,21.5 111.7,23.0 111.2,24.0 110.5,24.0 109.2,23.0 109.0,22.0 109.6,21.0ZM38.0,22.4L40.0,22.2 42.2,23.5 43.1,25.0 42.3,26.0 37.5,25.5 37.3,23.5 37.9,22.5ZM105.0,22.3L106.2,23.0 106.0,23.8 105.0,23.8 104.8,22.5ZM20.0,23.2L20.5,23.5 20.3,24.0 19.8,24.0 19.8,23.5ZM100.0,24.3L101.1,24.5 101.8,25.5 101.7,26.5 101.0,27.0 100.0,26.9 99.5,26.3 99.7,24.5ZM56.0,25.0L57.5,24.7 58.4,26.5 58.0,26.9 56.4,26.0 56.0,25.0ZM67.0,24.8L68.0,24.9 68.7,26.0 67.5,27.4 66.5,27.7 65.6,27.0 65.6,26.0 66.6,25.0ZM35.5,26.5L37.1,26.5 38.4,30.5 41.0,30.7 43.4,32.5 43.9,33.5 43.7,35.5 45.0,38.5 46.0,38.1 46.8,36.5 45.2,34.0 45.2,33.0 46.0,31.9 49.5,33.6 51.0,33.3 53.0,31.9 55.0,32.6 58.5,32.2 59.5,31.4 60.5,28.4 62.0,28.5 62.9,29.0 63.7,32.0 64.2,32.5 66.5,33.6 68.5,33.6 69.9,35.5 71.0,36.1 71.7,35.5 71.7,33.5 72.5,31.8 73.5,30.8 74.4,31.5 74.9,33.5 72.1,37.5 70.6,43.0 70.9,45.0 70.5,45.6 65.5,47.0 65.0,47.1 64.0,46.2 63.4,46.5 63.5,47.1 64.7,47.5 64.7,49.5 62.5,50.8 62.5,53.8 60.6,55.5 61.1,57.0 60.0,58.3 58.8,57.5 59.6,55.5 58.4,54.5 55.8,53.5 55.0,51.7 52.5,52.3 50.0,51.6 49.3,55.5 47.5,56.1 45.6,55.0 44.0,52.1 39.5,52.3 38.5,51.8 37.9,50.5 38.0,47.9 36.5,48.5 35.7,51.0 36.0,53.1 38.0,53.9 38.3,54.5 37.5,55.8 36.1,55.5 35.0,54.0 33.5,53.1 32.7,50.0 31.0,49.2 30.1,49.5 29.5,51.5 27.9,53.0 27.0,55.1 26.0,55.6 25.0,55.1 25.3,54.0 27.0,53.0 27.6,52.0 26.0,50.6 24.5,51.3 23.0,51.4 21.7,50.0 21.8,49.0 23.7,47.0 24.1,46.0 21.2,44.5 23.2,41.5 23.1,38.0 25.7,36.5 24.6,34.5 25.5,33.3 26.5,33.6 27.2,34.5 27.3,35.5 26.7,36.5 27.4,37.5 30.5,39.3 32.0,39.2 33.0,38.5 34.0,37.0 33.9,36.0 30.5,35.7 29.9,35.0 31.9,30.5 34.4,27.0 35.4,26.5ZM60.2,33.5L60.5,35.0 61.5,36.5 63.1,36.5 63.4,36.0 62.1,33.5 60.5,33.2ZM47.0,27.1L48.9,28.0 48.8,29.0 48.0,30.1 46.5,31.0 46.2,30.5 46.6,27.5ZM86.5,31.9L87.5,31.5 88.5,31.9 89.9,34.0 88.0,34.6 87.0,34.3 86.1,33.0 86.4,32.0ZM106.0,32.8L107.0,32.5 107.6,33.0 107.8,35.0 107.0,36.0 106.0,36.0 105.3,35.5 105.1,34.0 105.7,33.0ZM91.0,34.1L92.5,34.4 94.2,35.5 94.9,36.5 94.7,37.5 93.5,38.0 92.5,37.5 90.7,34.5ZM17.5,37.8L19.0,37.9 19.6,38.5 18.5,40.8 17.5,40.7 16.8,40.0 16.6,39.0 17.1,38.0ZM77.5,42.3L78.5,42.2 79.0,43.0 78.5,45.0 76.0,46.8 75.0,46.8 74.4,46.0 74.9,44.5 77.4,42.5ZM106.5,44.8L106.9,45.0 106.4,45.0ZM72.5,47.9L74.0,48.1 74.3,49.0 73.9,50.0 73.0,50.2 72.0,49.7 72.4,48.0ZM116.0,47.8L117.9,48.0 118.0,48.5 117.0,49.4 115.5,49.4 115.6,48.0ZM53.5,53.8L55.1,54.0 54.9,55.0 54.0,55.8 51.6,56.0 51.8,55.0 53.0,54.0ZM67.0,54.5L68.5,54.4 70.1,57.5 69.7,60.0 68.5,61.2 67.5,61.2 66.5,60.1 64.6,56.0 65.0,55.2 66.9,54.5ZM73.0,57.4L74.7,57.5 76.3,60.0 76.1,61.0 74.5,62.2 73.5,62.2 72.9,61.5 72.8,57.5ZM52.5,62.9L52.5,63.6 52.1,63.5 52.3,63.0ZM97.0,62.7L99.2,63.0 98.5,65.2 98.0,65.5 97.0,65.0 96.5,64.0 96.6,63.0ZM104.0,63.4L104.5,63.2 104.6,64.0 104.0,64.0 104.0,63.5ZM79.5,69.0L80.5,69.5 80.7,70.5 79.5,71.6 78.5,71.3 78.2,70.5 78.6,69.5 79.4,69.0ZM92.5,68.9L94.0,68.6 95.0,69.5 95.2,70.5 94.5,71.8 93.0,72.6 90.5,72.3 90.5,71.5 92.5,69.0ZM58.5,70.0L59.5,70.1 60.0,71.5 59.5,72.6 58.5,73.3 57.5,73.5 56.8,73.0 57.5,71.0 58.4,70.0ZM116.5,69.8L118.0,69.8 119.8,72.0 119.6,73.0 118.5,74.3 114.0,72.0 110.5,73.4 110.2,72.0 111.3,70.5 114.0,70.7 116.0,70.0ZM123.5,69.9L124.5,69.7 124.5,73.0 123.0,72.8 122.1,72.0 122.2,71.0 123.2,70.0ZM44.0,70.2L44.7,70.5 44.5,71.6 43.8,71.5 43.8,70.5ZM52.0,70.4L53.0,70.3 53.0,71.3 52.0,71.6 51.9,70.5ZM70.5,75.5L71.5,76.0 71.0,76.7 69.9,76.0 70.4,75.5ZM57.5,78.9L58.5,78.5 59.5,79.5 59.1,82.0 56.0,83.0 55.0,82.5 55.0,81.4 57.4,79.0ZM65.5,78.9L66.6,79.0 67.3,80.0 67.2,81.0 66.5,81.3 64.6,81.0 64.4,80.0 65.2,79.0ZM48.0,79.8L49.0,81.0 48.5,81.2 47.6,80.0ZM119.5,79.8L120.5,79.6 122.0,80.5 122.1,81.5 121.5,82.5 119.0,83.4 117.0,83.0 116.8,82.5 119.3,80.0ZM38.0,80.3L39.0,80.6 41.3,83.0 40.0,83.2 37.9,82.5 37.4,81.5 37.9,80.5ZM87.5,81.3L91.5,82.3 91.6,83.5 91.0,84.6 88.0,84.6 87.0,84.2 86.6,83.0 87.1,81.5ZM10.0,84.1L10.7,84.5 10.5,85.3 10.0,85.5 9.6,84.5ZM69.5,84.9L70.0,85.1 69.5,85.4 69.3,85.0ZM79.0,84.9L79.6,85.0 79.1,86.0 78.4,86.0 78.8,85.0ZM28.0,85.4L29.5,85.7 29.9,86.5 29.5,87.5 28.0,87.0 27.7,85.5ZM16.5,87.9L18.5,88.3 18.9,89.0 18.5,89.6 16.0,89.1 16.3,88.0ZM39.0,89.0L40.5,88.7 40.4,89.5 37.0,91.7 36.5,91.5 36.8,90.0 38.9,89.0ZM95.0,89.5L96.5,89.4 97.0,89.9 97.1,91.0 96.5,91.6 93.2,90.5 94.8,89.5ZM71.5,89.9L72.5,89.5 74.0,89.8 74.4,90.5 74.0,91.1 71.5,92.0 70.9,91.0 71.4,90.0ZM105.0,90.4L107.0,91.3 107.6,93.0 102.7,93.0 103.5,91.1 104.6,90.5ZM52.5,91.9L52.9,93.0 51.9,93.0 52.4,92.0ZM66.0,92.5L66.8,93.0 64.2,93.0 65.9,92.5ZM58.0,92.6L58.4,93.0 57.7,93.0ZM80.5,92.6L81.2,93.0 80.2,93.0Z" fill="#7e7e7e" fill-rule="evenodd"/>
<path d="M108.0,8.4L108.5,8.6 108.5,9.1 108.0,9.1 107.9,8.5ZM35.5,28.4L36.5,29.2 36.5,31.1 34.2,32.5 33.9,34.0 33.0,34.5 32.0,34.0 33.8,32.0 34.1,30.0 35.2,28.5ZM39.5,31.0L41.0,31.2 41.8,32.0 42.1,33.5 41.3,35.5 42.9,37.5 43.0,39.0 42.0,39.5 40.0,39.5 39.4,41.0 38.5,41.5 36.5,40.8 36.1,41.0 35.4,42.0 36.9,44.5 36.1,46.5 34.5,47.9 33.0,47.8 32.0,48.5 31.0,48.4 30.0,47.5 28.2,49.0 28.5,50.0 28.0,50.8 26.0,49.9 23.5,50.9 22.4,50.0 22.5,49.0 25.7,45.0 24.6,43.5 25.6,40.5 27.0,39.7 30.5,40.1 32.5,39.4 34.2,37.5 35.2,34.0 36.3,32.5 39.4,31.0ZM57.5,34.0L59.0,35.0 59.5,36.5 57.8,40.5 55.6,41.5 53.5,43.6 51.5,43.5 49.3,41.5 48.5,41.5 48.5,42.5 49.9,43.5 50.1,44.5 49.5,45.5 47.6,46.5 47.2,49.5 46.0,50.2 44.0,49.2 42.1,51.0 40.0,51.9 38.9,51.5 38.3,50.0 40.5,46.0 41.5,42.5 45.5,39.6 49.5,34.6 51.0,34.3 55.0,35.3 57.2,34.0ZM68.0,36.0L69.5,36.8 70.5,38.0 70.5,40.5 70.0,41.4 67.9,42.0 66.0,44.8 63.0,43.4 63.9,45.0 63.0,45.8 61.2,46.0 60.8,48.5 60.0,49.4 57.5,48.8 52.5,51.7 51.0,51.0 50.8,50.0 54.0,46.1 55.0,43.8 57.2,42.5 62.0,38.1 67.8,36.0ZM105.5,92.0L106.5,93.0 104.4,93.0 105.4,92.0Z" fill="#8a8a8a" fill-rule="evenodd"/>
<path d="M39.5,31.4L41.0,31.6 41.3,33.0 36.9,38.5 39.0,39.8 39.0,40.9 38.0,41.0 36.0,39.9 34.6,42.0 36.1,43.5 36.0,44.8 35.0,45.1 33.3,44.0 31.4,45.5 32.3,47.0 32.0,48.0 31.5,48.2 30.0,46.9 29.5,47.1 27.7,48.5 28.1,50.0 27.6,50.5 26.0,49.5 23.5,50.5 22.9,50.0 22.9,49.0 26.8,45.0 28.2,42.0 33.5,39.0 36.9,33.0 39.2,31.5ZM50.0,34.9L51.5,35.2 52.0,36.5 49.0,39.5 51.5,40.2 52.3,41.0 51.0,41.9 48.5,40.5 48.0,41.0 47.3,42.5 49.4,44.5 48.5,45.4 46.5,44.6 46.0,46.5 46.9,48.0 46.5,49.3 45.5,49.4 44.0,48.3 43.5,48.4 41.5,50.6 40.0,51.5 39.0,51.1 38.7,50.0 41.0,46.3 42.1,43.5 45.0,40.9 49.8,35.0ZM67.0,36.9L68.0,36.7 69.3,37.5 69.7,41.0 69.0,41.4 67.0,40.7 66.9,42.5 66.0,43.3 63.5,42.5 62.2,43.0 61.9,43.5 63.4,45.0 63.0,45.4 60.9,45.0 59.3,46.5 59.2,47.0 60.1,48.0 59.9,49.0 57.0,48.3 52.5,51.3 51.5,50.8 51.5,49.7 55.6,44.5 62.0,38.8 66.8,37.0ZM54.0,38.4L55.5,39.2 55.0,40.2 53.5,40.5 53.2,39.5 53.9,38.5Z" fill="#969696" fill-rule="evenodd"/>
<path d="M39.5,31.8L40.7,32.0 40.7,33.0 36.3,38.5 36.3,39.0 38.7,40.5 37.8,40.5 36.0,39.2 34.0,42.0 36.0,44.0 35.5,44.6 33.5,43.2 33.0,43.3 30.6,45.5 31.7,47.0 31.5,47.7 30.0,46.4 29.5,46.5 27.1,48.5 27.0,49.4 26.5,48.9 23.5,50.0 23.4,49.0 27.0,45.5 29.3,42.5 33.5,39.5 35.1,37.5 37.0,33.6 39.2,32.0ZM50.0,35.4L51.1,35.5 51.4,36.5 48.7,39.0 46.7,42.5 49.0,44.5 48.5,45.0 46.2,44.0 45.3,46.0 45.2,46.5 46.6,48.5 46.2,49.0 43.5,47.8 40.1,51.0 39.5,51.0 39.2,50.0 42.8,43.5 46.0,40.5 49.8,35.5ZM67.0,37.4L68.0,37.1 68.6,37.5 69.0,38.5 68.6,39.5 69.4,40.0 69.5,40.7 69.0,41.0 66.5,40.0 65.9,40.5 66.7,42.0 66.0,42.8 63.5,41.9 62.0,42.5 61.3,43.5 62.2,44.5 60.5,44.3 58.5,46.5 59.5,48.0 59.5,48.7 57.0,47.8 52.5,50.8 51.9,50.5 52.2,49.5 56.0,44.7 62.0,39.3 64.0,38.2 66.8,37.5ZM50.0,40.4L51.5,40.8 51.0,41.5 49.6,40.5Z" fill="#a2a2a2" fill-rule="evenodd"/>
<path d="M39.5,32.4L40.0,32.5 39.4,34.0 38.0,35.9 36.5,37.1 36.2,36.5 37.0,34.3 39.3,32.5ZM50.5,35.8L50.7,36.5 50.0,37.0 50.1,36.0ZM67.0,37.9L68.0,37.6 68.5,38.5 64.9,40.5 66.1,41.5 66.3,42.0 66.0,42.4 63.5,41.5 62.0,42.0 57.9,46.5 58.1,47.5 57.0,47.3 53.5,49.5 53.3,49.0 56.0,45.2 62.4,39.5 64.0,38.5 66.8,38.0ZM35.0,38.7L33.6,42.5 27.0,48.0 24.5,49.0 25.0,48.0 30.0,42.6 34.8,39.0ZM45.5,41.8L46.0,41.5 46.2,42.0 44.7,46.5 46.0,48.6 43.5,47.3 40.5,50.1 39.9,50.0 43.0,44.0 45.3,42.0Z" fill="#aeaeae" fill-rule="evenodd"/>
<path d="M38.0,33.8L38.5,33.6 38.7,34.0 38.0,35.2 37.2,35.5 37.8,34.0ZM64.0,39.0L65.1,39.0 65.2,39.5 64.0,41.0 62.0,41.3 61.6,41.0 63.9,39.0ZM32.5,41.3L33.1,41.5 32.4,42.5 28.0,46.6 27.5,46.8 27.4,46.5 29.5,43.8 32.2,41.5ZM64.5,41.3L65.3,41.5 64.4,41.5ZM44.5,43.2L45.1,43.5 44.5,45.5 43.0,47.1 42.2,47.0 42.4,46.0 44.1,43.5ZM59.0,43.4L59.7,43.5 59.1,44.5 56.0,47.6 55.0,47.5 55.9,46.0 58.9,43.5Z" fill="#bababa" fill-rule="evenodd"/>
<path d="M44.0,44.5L43.5,46.0 43.2,45.5 44.0,44.5Z" fill="#c6c6c6" fill-rule="evenodd"/>
<rect x="0" y="0" width="122.2" height="91.0" filter="url(#speck)" opacity="0.25"/>
</g>
<line x1="30.55" y1="0" x2="30.55" y2="91.0" stroke="#000" stroke-width="0.50" stroke-dasharray="0.6 1.4"/>
<line x1="61.10" y1="0" x2="61.10" y2="91.0" stroke="#000" stroke-width="0.50" stroke-dasharray="0.6 1.4"/>
<line x1="91.65" y1="0" x2="91.65" y2="91.0" stroke="#000" stroke-width="0.50" stroke-dasharray="0.6 1.4"/>
<line x1="0" y1="30.33" x2="122.2" y2="30.33" stroke="#000" stroke-width="0.50" stroke-dasharray="0.6 1.4"/>
<line x1="0" y1="60.67" x2="122.2" y2="60.67" stroke="#000" stroke-width="0.50" stroke-dasharray="0.6 1.4"/>
<polygon points="9.8,92.0 11.1,90.6 17.3,86.7 21.6,83.2 24.7,80.1 26.8,78.8 30.3,77.1 33.8,74.9 37.3,73.2 39.9,70.1 40.8,67.5 39.1,65.7 40.8,64.4 45.4,62.0 50.2,60.8 56.2,59.6 60.8,57.5 64.6,55.8 71.8,55.4 76.5,55.5 79.0,56.2 77.2,58.0 79.6,60.4 83.8,62.2 87.4,61.6 92.2,59.4 98.2,59.0 105.4,59.4 112.6,59.4 124.0,59.0 124.0,92.0" fill="#f4a460"/>
<polygon points="53.4,65.1 54.7,64.1 57.3,63.5 60.0,63.1 62.6,63.3 63.6,64.1 61.9,65.1 59.3,65.7 56.7,66.7 54.7,67.1 53.5,66.4" fill="#6495ed"/>
<polygon points="69.5,60.5 70.4,59.5 72.4,59.2 74.0,60.2 75.0,61.8 77.0,63.5 79.6,64.8 80.6,66.1 79.6,66.7 77.0,65.7 74.4,64.8 71.1,64.8 69.8,64.1 69.1,62.5" fill="#6495ed"/>
<polygon points="72.1,12.4 73.7,10.7 75.8,9.7 77.9,9.4 80.2,10.0 82.6,11.4 84.2,13.1 84.6,15.4 83.6,17.8 81.9,19.1 79.9,20.1 77.9,20.4 75.8,19.8 73.7,18.4 72.4,16.7 71.7,14.4" fill="#f4a460" stroke="#5a3a20" stroke-width="0.5"/>
<polygon points="58.3,24.8 59.6,23.1 61.6,22.5 63.3,23.1 62.7,24.5 61.6,25.5 63.0,26.5 62.3,27.8 60.3,27.5 59.0,26.5" fill="#f4a460" stroke="#5a3a20" stroke-width="0.5"/>
<polygon points="64.3,22.1 66.3,21.6 68.0,22.8 69.0,24.5 69.7,26.1 68.4,27.5 66.7,28.2 65.7,26.8 66.3,25.5 65.3,24.1 64.3,23.5" fill="#f4a460" stroke="#5a3a20" stroke-width="0.5"/>
<polygon points="61.0,28.2 63.0,27.8 64.3,28.8 63.7,30.0 61.6,30.0" fill="#f4a460" stroke="#5a3a20" stroke-width="0.5"/>
<rect x="20.0" y="28.6" width="52.2" height="26.1" fill="none" stroke="#ff00ff" stroke-width="1.8"/>
<rect x="73.9" y="15.6" width="43.0" height="18.6" fill="none" stroke="#ffff00" stroke-width="1.5"/>
<line x1="45.2" y1="60.5" x2="54.8" y2="16.8" stroke="#ff0000" stroke-width="1.7"/>
<polygon points="55.7,12.9 56.8,17.2 52.9,16.4" fill="#ff0000"/>
<line x1="91.7" y1="48.4" x2="101.3" y2="6.1" stroke="#008000" stroke-width="1.4"/>
<polygon points="102.2,2.2 103.3,6.5 99.4,5.7" fill="#008000"/>
<rect x="0" y="0" width="122.2" height="91.0" fill="none" stroke="#333" stroke-width="0.70"/>
</g></g>
<text x="86.2" y="8.5" font-size="7.70" text-anchor="middle" fill="#262626" stroke="#262626" stroke-width="0.18">(a) VV</text>
<text x="23.2" y="13.9" font-size="6.10" text-anchor="end" fill="#262626" stroke="#262626" stroke-width="0.18">36.5°N</text>
<text x="23.2" y="44.2" font-size="6.10" text-anchor="end" fill="#262626" stroke="#262626" stroke-width="0.18">36°N</text>
<text x="23.2" y="74.6" font-size="6.10" text-anchor="end" fill="#262626" stroke="#262626" stroke-width="0.18">35.5°N</text>
<text x="23.2" y="104.9" font-size="6.10" text-anchor="end" fill="#262626" stroke="#262626" stroke-width="0.18">35°N</text>
<text x="24.2" y="108.6" font-size="6.10" text-anchor="middle" fill="#262626" stroke="#262626" stroke-width="0.18">132°E</text>
<text x="54.8" y="108.6" font-size="6.10" text-anchor="middle" fill="#262626" stroke="#262626" stroke-width="0.18">132.5°E</text>
<text x="85.3" y="108.6" font-size="6.10" text-anchor="middle" fill="#262626" stroke="#262626" stroke-width="0.18">133°E</text>
<text x="115.9" y="108.6" font-size="6.10" text-anchor="middle" fill="#262626" stroke="#262626" stroke-width="0.18">133.5°E</text>
<text x="146.4" y="108.6" font-size="6.10" text-anchor="middle" fill="#262626" stroke="#262626" stroke-width="0.18">134°E</text>
<rect x="150.4" y="12.0" width="5.9" height="91.0" fill="url(#gg150)" stroke="#333" stroke-width="0.6"/>
<line x1="156.3" y1="12.0" x2="158.3" y2="12.0" stroke="#333" stroke-width="0.6"/>
<text x="160.6" y="14.3" font-size="6.50" text-anchor="start" fill="#262626" stroke="#262626" stroke-width="0.18">0</text>
<line x1="156.3" y1="28.6" x2="158.3" y2="28.6" stroke="#333" stroke-width="0.6"/>
<text x="160.6" y="30.9" font-size="6.50" text-anchor="start" fill="#262626" stroke="#262626" stroke-width="0.18">−5</text>
<line x1="156.3" y1="45.2" x2="158.3" y2="45.2" stroke="#333" stroke-width="0.6"/>
<text x="160.6" y="47.5" font-size="6.50" text-anchor="start" fill="#262626" stroke="#262626" stroke-width="0.18">−10</text>
<line x1="156.3" y1="61.8" x2="158.3" y2="61.8" stroke="#333" stroke-width="0.6"/>
<text x="160.6" y="64.1" font-size="6.50" text-anchor="start" fill="#262626" stroke="#262626" stroke-width="0.18">−15</text>
<line x1="156.3" y1="78.4" x2="158.3" y2="78.4" stroke="#333" stroke-width="0.6"/>
<text x="160.6" y="80.7" font-size="6.50" text-anchor="start" fill="#262626" stroke="#262626" stroke-width="0.18">−20</text>
<line x1="156.3" y1="95.0" x2="158.3" y2="95.0" stroke="#333" stroke-width="0.6"/>
<text x="160.6" y="97.3" font-size="6.50" text-anchor="start" fill="#262626" stroke="#262626" stroke-width="0.18">−25</text>
<text transform="translate(184.9 57.5) rotate(-90)" font-size="5.60" text-anchor="middle" fill="#262626" stroke="#262626" stroke-width="0.15">NRCS (dB)</text>
<g transform="translate(209.30 12.00) scale(1.0000 1.0000)"><g clip-path="url(#clipframe)">
<rect x="0" y="0" width="122.2" height="91.0" fill="#fff"/>
<g clip-path="url(#clipswath)">
<rect x="-3" y="-3" width="128.2" height="97.0" fill="#060606"/>
<rect x="-3" y="-3" width="128.2" height="97.0" fill="#121212"/>
<path d="M-1.5,-2.0L124.5,-2.0 124.5,93.0 -2.0,93.0 -2.0,-2.0ZM11.8,68.0L11.0,68.7 10.9,70.0 11.5,70.5 12.5,70.2 14.5,69.0 14.6,68.5 13.5,67.7 12.0,67.9ZM8.7,73.5L9.0,73.7 9.0,73.3Z" fill="#1e1e1e" fill-rule="evenodd"/>
<path d="M-1.5,-2.0L124.5,-2.0 124.5,93.0 -2.0,93.0 -2.0,-2.0ZM10.7,66.5L9.5,70.5 6.8,73.0 7.2,75.0 8.5,75.9 10.0,75.8 10.8,75.0 11.5,72.6 13.0,72.0 16.0,74.1 17.0,74.3 18.2,73.0 18.5,68.5 13.5,66.3 11.0,66.4ZM23.5,66.5L23.0,68.9 20.9,70.5 21.5,72.1 23.0,72.6 24.2,70.5 26.5,68.5 25.6,67.0 24.0,66.2Z" fill="#2a2a2a" fill-rule="evenodd"/>
<path d="M-1.5,-2.0L124.5,-2.0 124.5,93.0 -2.0,93.0 -2.0,-2.0ZM94.7,54.0L89.5,55.1 88.6,56.0 89.0,57.5 92.0,58.4 93.4,57.5 95.8,54.5 95.0,53.9ZM108.8,54.0L107.9,57.0 108.3,58.5 110.0,59.2 111.9,58.5 112.0,57.5 110.8,54.0 110.0,53.5 109.0,53.8ZM116.8,54.5L117.0,55.4 118.0,55.5 118.3,54.5 117.0,54.4ZM80.8,55.5L80.0,56.0 79.7,57.5 80.4,58.5 81.5,58.5 82.8,57.5 83.4,56.0 81.0,55.5ZM98.1,55.5L96.8,57.5 97.2,58.5 99.0,59.2 101.3,58.5 101.7,57.5 100.7,56.0 99.5,55.2 98.5,55.3ZM122.3,57.5L121.9,58.0 122.7,58.0 122.5,57.3ZM7.0,61.5L6.5,62.9 7.9,64.0 8.8,69.0 8.1,70.5 5.8,71.5 5.2,73.5 5.8,75.5 7.5,76.7 9.0,77.0 12.0,76.6 14.5,77.1 20.0,74.9 21.5,76.8 23.0,77.0 25.0,76.4 27.2,75.0 28.1,74.0 28.7,72.0 29.5,71.4 31.0,71.0 32.5,72.0 33.5,71.9 36.0,70.1 36.5,69.0 35.4,67.0 35.6,64.5 34.0,63.7 32.9,62.5 32.0,62.5 30.4,63.5 29.8,66.5 28.0,67.3 24.5,64.5 21.5,63.2 20.5,63.5 19.0,66.0 17.5,66.6 16.0,66.5 11.0,63.2 8.5,62.6 7.6,61.5 7.0,61.5ZM33.0,67.8L33.0,68.3 32.5,68.0Z" fill="#363636" fill-rule="evenodd"/>
<path d="M-1.5,-2.0L124.5,-2.0 124.5,55.4 123.0,54.0 121.5,53.5 117.5,53.2 113.5,53.9 109.5,52.5 106.0,54.4 104.0,53.9 101.5,54.2 95.5,52.8 92.0,54.0 85.0,53.9 80.0,54.8 79.2,55.5 79.0,57.0 79.2,58.5 80.5,59.5 82.0,59.3 85.5,57.4 86.5,57.6 88.4,59.0 91.0,59.5 92.5,59.5 95.0,58.4 99.0,59.8 105.0,58.3 108.0,59.5 110.5,59.9 112.3,59.5 113.8,58.5 112.9,56.0 113.0,55.1 113.5,54.8 115.5,56.0 116.8,58.0 119.5,59.3 122.5,59.5 124.5,58.8 124.5,93.0 -2.0,93.0 -2.0,-2.0ZM63.6,13.5L62.2,14.5 64.0,15.0 65.7,14.5 65.5,14.0 64.0,13.5ZM6.9,60.0L5.8,61.0 5.3,62.5 5.3,64.0 6.2,66.0 6.0,66.6 5.0,66.7 4.4,67.5 4.8,70.0 3.8,74.5 4.4,76.0 6.5,77.6 8.5,78.0 11.5,77.6 14.0,77.9 18.0,77.3 22.0,78.5 30.0,75.3 33.0,74.9 37.5,70.0 37.8,69.0 37.4,66.5 39.5,65.3 39.8,64.5 39.0,62.8 36.0,62.7 33.4,61.0 32.0,60.9 28.2,63.0 28.8,65.0 28.0,65.9 27.0,65.4 26.0,63.4 22.5,61.4 21.0,61.3 19.5,62.0 17.5,65.0 16.5,65.5 10.1,61.5 8.5,60.0 7.0,59.9ZM120.0,56.4L119.5,57.2 119.2,57.0 119.8,56.5Z" fill="#424242" fill-rule="evenodd"/>
<path d="M-1.5,-2.0L124.5,-2.0 124.5,53.8 122.5,52.7 120.5,52.4 115.0,52.7 109.0,51.7 106.0,53.0 101.5,53.1 95.5,52.1 92.0,53.4 88.0,53.0 84.5,53.2 82.0,54.0 79.1,54.0 78.5,54.6 78.3,56.5 78.8,59.0 80.0,60.2 81.0,60.4 85.5,59.2 91.5,60.3 95.0,59.4 98.5,60.3 105.5,59.9 110.0,60.5 117.0,59.9 124.5,60.0 124.5,93.0 -2.0,93.0 -2.0,59.6 -1.6,59.5 -2.0,59.3 -2.0,47.7 -1.6,47.0 -2.0,45.9 -2.0,19.2 -1.4,18.5 -2.0,17.8 -2.0,8.2 0.0,8.2 0.5,7.5 -0.5,5.1 -2.0,3.5 -2.0,-2.0ZM13.6,3.0L13.0,4.0 14.0,4.3 14.6,3.5 14.0,2.9ZM1.0,9.0L2.0,11.5 3.2,11.5 4.0,10.5 2.6,9.0 1.0,8.9ZM6.5,10.0L6.6,10.5 7.5,10.5 7.5,9.7 7.0,9.7ZM62.2,11.5L59.9,13.5 60.0,14.6 61.0,16.0 62.0,16.3 70.9,15.5 67.5,13.1 63.5,11.4 62.5,11.4ZM1.8,31.0L0.9,33.0 1.6,33.5 3.0,33.5 3.8,32.5 3.6,31.5 3.0,30.9 2.0,30.9ZM11.4,42.0L11.1,42.5 11.5,43.0 11.8,42.5 11.5,42.0ZM8.4,57.5L5.9,59.5 4.0,63.7 1.9,66.5 3.4,70.0 2.5,73.0 2.5,75.5 6.5,79.4 17.0,78.2 22.5,79.7 26.0,78.0 33.0,76.1 37.0,74.4 37.7,71.5 39.5,69.5 41.1,66.5 41.0,61.5 40.5,60.5 39.5,60.2 38.0,61.4 36.5,61.5 34.0,60.1 32.0,59.7 30.0,60.9 29.0,61.0 26.8,59.0 23.0,58.1 21.5,59.6 19.0,60.8 17.0,62.7 16.0,62.8 11.0,60.8 8.5,57.4Z" fill="#4e4e4e" fill-rule="evenodd"/>
<path d="M-1.5,-2.0L7.0,-2.0 6.5,0.5 9.8,4.0 10.2,5.5 9.0,7.4 5.0,8.6 3.0,7.5 1.0,4.8 1.0,1.8 -2.0,1.9 -2.0,-2.0ZM11.5,-1.8L13.2,0.5 12.5,1.1 11.5,0.8 11.0,-0.5 11.3,-1.5ZM15.5,-2.0L124.5,-2.0 124.5,52.8 120.5,51.3 115.0,52.1 109.0,50.6 106.0,51.9 103.5,51.7 101.0,52.4 95.5,51.3 91.5,52.8 87.5,52.1 81.5,53.3 78.5,52.7 77.9,53.0 77.5,54.5 78.1,59.0 80.5,62.0 84.5,60.4 91.0,61.1 95.0,60.1 98.5,60.8 105.5,60.7 109.0,61.2 124.5,61.0 124.5,83.7 123.4,85.0 124.5,85.6 124.5,93.0 16.6,93.0 16.0,92.1 15.0,91.9 13.7,93.0 9.6,93.0 8.5,92.1 7.6,93.0 -2.0,93.0 -2.0,83.1 0.0,82.4 3.0,83.8 5.0,82.4 8.5,81.3 11.0,81.1 13.0,79.7 15.5,79.0 19.0,79.5 22.0,81.6 24.0,81.0 26.0,78.9 30.0,79.0 31.5,77.9 34.0,77.4 38.8,75.0 39.8,73.5 40.2,71.5 43.2,67.0 41.9,64.0 42.7,61.5 42.0,59.0 42.6,57.0 42.0,55.0 41.0,55.1 38.5,57.5 37.0,58.2 33.3,58.0 31.5,54.9 30.8,55.0 29.0,57.3 27.0,57.8 17.0,55.8 14.5,54.2 12.0,51.7 10.0,53.5 8.8,53.0 8.2,51.0 9.5,49.3 9.8,48.0 9.6,46.5 9.0,46.0 7.2,46.5 6.3,49.5 5.2,51.0 5.0,55.3 2.5,54.2 0.5,57.5 -0.5,58.0 -2.0,57.8 -2.0,50.8 0.1,48.0 0.2,45.0 0.5,44.7 2.0,45.6 3.1,44.0 2.5,42.5 1.0,41.3 0.3,41.5 -1.0,43.2 -2.0,43.4 -2.0,37.1 1.0,36.0 2.0,37.5 3.0,37.5 3.2,35.5 5.1,32.5 4.7,29.5 5.5,27.6 6.0,27.2 6.5,27.4 9.0,29.9 10.0,30.1 10.9,27.5 16.5,23.1 17.1,21.5 16.5,20.5 14.0,20.9 12.9,20.0 12.3,18.5 11.0,18.5 10.1,19.5 9.6,21.0 9.9,23.0 9.6,24.0 6.5,25.1 3.9,20.5 4.6,17.5 4.1,16.5 1.5,15.5 -2.0,15.7 -2.0,9.1 -0.5,9.6 1.0,12.1 2.0,12.9 5.0,11.9 8.5,12.5 9.3,12.0 10.3,9.5 11.0,9.3 13.3,12.0 15.5,13.3 17.0,13.8 20.0,14.1 19.0,11.2 15.2,9.5 13.7,7.5 14.0,6.0 16.0,5.0 16.9,3.5 14.6,0.5 15.1,-2.0ZM101.2,0.5L101.0,2.0 101.5,3.0 102.0,2.7 102.0,0.6 101.5,0.2ZM18.3,2.0L17.7,2.5 17.5,3.5 18.5,4.5 19.5,4.6 20.1,4.0 20.0,3.0 19.5,2.2 18.5,1.9ZM26.0,2.0L27.6,2.0 26.0,2.0ZM67.8,4.5L67.6,5.5 69.0,5.6 69.4,5.0 69.2,4.5 68.0,4.4ZM120.8,7.0L120.6,8.5 121.0,9.0 122.0,9.1 122.0,7.0 121.0,6.8ZM63.2,8.5L58.8,13.0 58.8,14.5 60.2,17.0 60.5,19.0 61.3,19.0 62.1,17.5 65.0,16.6 73.0,17.6 73.6,16.5 73.0,15.0 69.5,13.2 65.2,9.0 63.5,8.4ZM42.0,10.5L41.8,11.5 42.2,12.5 43.0,12.9 44.0,12.5 44.4,11.5 44.0,10.6 43.0,10.1 42.0,10.5ZM84.9,11.0L83.8,12.0 84.0,12.7 85.0,12.5 86.2,11.0 85.0,11.0ZM30.4,11.5L30.8,12.0 31.6,12.0 32.0,11.4 30.5,11.4ZM35.7,12.5L34.5,13.5 34.4,14.5 35.0,15.2 36.0,15.3 37.3,12.5 36.0,12.4ZM23.8,14.5L23.1,16.0 24.5,17.1 25.9,16.0 26.0,15.0 24.0,14.4ZM54.0,16.5L53.9,17.0 54.5,17.3 54.8,17.0 54.0,16.5ZM118.8,16.5L118.2,17.5 118.2,19.5 119.0,21.8 120.0,22.7 121.2,18.0 120.5,16.6 119.0,16.3ZM13.5,17.5L14.0,17.5 13.5,17.5ZM37.2,18.0L37.1,19.0 38.4,19.0 38.7,18.0 37.5,17.8ZM53.6,20.0L53.2,20.5 53.3,21.5 54.0,21.8 55.0,21.5 55.1,20.0 54.0,19.8ZM62.3,21.5L62.5,23.7 63.8,23.0 63.9,22.0 62.5,21.1ZM18.1,28.0L16.7,28.5 17.1,29.0 19.0,30.2 20.5,30.3 21.5,29.5 21.1,28.0 18.5,27.9ZM9.8,35.0L8.4,38.5 9.3,42.5 11.0,45.2 14.0,44.8 14.5,44.5 14.6,43.5 12.8,40.0 13.9,38.0 14.1,36.5 13.0,34.9 10.0,34.9ZM62.0,60.0L61.1,61.0 61.1,62.0 62.0,62.8 63.7,62.5 64.3,61.5 64.0,60.5 63.0,59.8 62.0,60.0ZM49.8,60.5L49.1,61.0 49.5,61.6 50.4,61.0 50.5,60.5 50.0,60.5ZM107.4,70.0L107.1,71.0 107.5,71.4 108.0,71.0 108.4,70.0 108.0,69.5 107.5,69.9ZM62.7,71.0L62.6,73.5 63.5,74.0 64.3,73.5 64.5,71.6 63.0,70.5ZM102.5,71.0L102.2,73.0 103.0,75.0 103.5,74.9 104.7,72.0 104.0,71.1 103.0,70.8ZM114.0,76.0L114.7,76.5 114.5,75.6ZM1.8,87.5L0.1,89.5 0.5,90.6 2.5,91.4 5.0,90.6 5.3,89.5 4.5,87.8 3.0,87.1 2.0,87.3ZM65.9,88.5L65.9,89.0 66.5,89.3 68.2,89.0 68.0,88.3 66.0,88.4ZM99.9,90.0L100.0,90.4 100.5,90.2 100.0,89.8ZM0.5,18.7L2.0,19.0 3.4,21.0 1.8,24.5 1.8,27.5 -1.0,32.4 -2.0,32.8 -2.0,20.6 0.2,19.0ZM3.0,59.5L4.0,59.4 4.3,60.0 3.5,62.4 2.5,63.0 0.0,62.6 -2.0,65.8 -2.0,61.9 0.0,61.9 3.0,59.5ZM-0.5,69.0L0.7,69.0 1.6,70.0 0.9,73.5 1.3,77.5 0.8,78.0 -2.0,78.8 -2.0,69.7 -0.6,69.0ZM2.5,77.9L3.5,78.1 4.1,79.0 4.3,80.5 3.5,81.3 2.6,80.5 2.1,78.0Z" fill="#5a5a5a" fill-rule="evenodd"/>
<path d="M-1.5,-2.0L0.2,-2.0 0.2,-1.0 -0.5,0.4 -2.0,1.0 -2.0,-2.0ZM16.5,-2.0L20.0,-2.0 19.6,-0.5 17.5,-0.0 16.6,-0.5 16.3,-2.0ZM23.0,-2.0L28.2,-2.0 28.1,-1.5 27.0,-0.2 23.0,0.3 22.6,2.5 22.0,2.6 21.2,1.0 22.4,0.0 22.5,-2.0ZM34.5,-2.0L37.4,-2.0 38.5,-0.8 41.5,-1.3 42.1,-2.0 45.0,-2.0 45.0,-1.5 42.8,-0.5 42.3,1.5 42.4,5.5 44.0,6.1 45.5,5.7 46.7,4.5 46.7,3.0 45.6,-0.5 48.0,-0.9 48.8,-2.0 58.7,-2.0 55.5,0.8 54.7,5.0 55.0,6.3 55.5,6.5 59.5,5.6 59.8,3.0 62.2,-2.0 75.3,-2.0 75.0,-0.6 73.1,0.5 72.3,1.5 75.5,3.0 76.2,2.5 76.0,-0.0 78.1,-2.0 82.1,-2.0 82.5,2.0 82.0,2.8 79.4,4.5 79.1,5.0 80.0,5.5 82.7,4.5 86.0,1.0 87.5,0.3 89.0,0.2 91.0,2.2 92.0,2.3 92.3,0.0 90.0,-1.2 89.6,-2.0 98.9,-2.0 99.1,2.0 100.0,4.1 100.4,6.5 101.1,7.5 102.5,7.9 103.8,7.5 104.4,6.5 103.4,3.5 103.4,-2.0 116.5,-2.0 117.0,-0.1 118.0,1.4 119.9,-2.0 124.5,-2.0 124.5,1.0 123.8,2.5 124.5,3.3 124.5,38.1 120.0,38.8 118.5,40.6 115.7,41.5 115.2,42.5 116.1,45.0 117.5,45.9 118.9,45.0 122.0,41.3 124.5,42.8 124.5,51.6 121.0,49.7 119.5,49.9 116.5,51.2 114.0,51.0 111.5,49.5 110.4,47.5 109.5,46.8 106.5,47.4 105.5,47.2 103.5,44.0 102.5,43.7 100.9,44.0 98.5,47.0 101.0,48.4 101.7,49.5 102.1,51.0 101.0,51.7 99.0,51.6 95.0,50.2 92.0,51.9 88.0,50.8 85.5,51.5 83.5,51.3 81.5,52.3 79.0,50.8 77.0,50.7 75.9,52.0 75.5,53.5 78.4,61.5 75.8,63.5 73.5,67.2 72.0,67.9 69.5,67.2 68.5,67.4 66.5,70.0 63.5,68.8 61.5,69.0 61.1,72.5 60.0,74.5 57.5,76.0 54.5,75.6 53.0,76.8 52.0,77.0 49.6,76.0 49.6,70.5 51.0,67.0 50.1,63.5 51.2,62.0 54.6,60.0 55.2,58.5 54.5,57.5 53.5,57.4 51.5,58.6 48.0,59.6 46.9,60.5 46.8,61.5 48.1,63.5 48.4,65.0 46.9,74.0 46.0,75.2 43.0,75.1 42.4,74.5 41.8,71.0 42.5,69.4 44.9,67.0 43.5,64.0 44.9,62.0 44.4,60.0 45.6,58.0 43.2,53.5 42.0,53.1 40.1,53.5 38.8,56.0 37.0,57.0 35.0,56.3 32.0,53.1 31.0,52.6 29.8,53.5 28.4,56.0 27.0,56.8 25.5,56.9 20.6,54.5 20.9,52.5 20.0,50.7 18.5,50.8 16.9,53.0 16.0,53.4 14.0,52.1 12.7,49.5 12.9,48.5 14.5,47.0 17.5,47.1 18.4,46.5 18.2,45.0 15.8,41.5 15.1,39.5 16.0,37.2 18.7,36.0 18.8,35.5 18.0,34.5 16.0,34.6 14.8,34.0 12.9,31.5 13.0,30.5 14.5,30.0 16.0,30.3 18.5,32.1 22.0,33.3 23.0,32.7 23.7,31.5 23.6,27.5 23.0,26.4 21.5,26.1 18.0,26.7 16.1,26.0 16.0,25.5 17.5,24.0 19.4,20.5 21.6,19.5 22.5,22.3 25.2,25.5 25.8,30.5 27.0,31.6 28.5,32.1 28.7,28.0 30.8,25.5 31.2,24.0 31.0,22.0 30.0,20.9 28.5,20.8 27.0,22.0 26.8,21.5 26.8,18.5 28.2,16.5 29.1,14.0 30.0,13.7 31.4,14.0 31.7,16.5 34.0,16.9 35.0,17.5 35.5,20.6 40.0,20.7 43.0,21.8 44.0,17.5 42.5,16.5 42.0,15.0 45.0,13.7 46.0,13.8 46.1,15.0 44.6,17.5 47.5,18.3 48.3,17.5 48.3,15.0 50.2,13.5 49.5,11.6 47.0,11.0 45.5,9.2 44.0,8.3 41.5,8.1 39.0,9.3 37.5,8.7 37.2,8.0 38.0,6.0 37.6,5.0 36.5,3.9 33.5,3.4 32.6,2.5 32.5,1.5 34.2,-2.0ZM110.0,0.0L108.9,1.5 109.0,3.5 111.8,6.0 111.1,8.0 111.5,11.0 111.1,13.0 111.3,15.0 109.2,18.0 110.0,18.8 111.5,18.6 113.0,14.9 113.9,9.0 112.3,5.5 112.8,1.0 112.0,-0.0 110.5,-0.3ZM117.3,2.0L116.5,3.0 116.4,4.5 117.5,4.9 118.2,4.5 118.4,2.5 118.0,1.6 117.5,1.8ZM67.2,3.0L65.5,4.0 65.2,6.5 62.5,7.3 57.3,12.5 57.7,15.0 58.5,16.5 58.0,17.5 54.8,14.0 54.8,13.0 56.3,11.5 55.0,7.5 52.5,6.2 51.0,3.5 50.0,3.1 49.2,3.5 48.8,5.0 52.4,10.5 52.8,12.0 51.5,14.0 51.7,16.0 50.7,18.5 50.5,21.6 49.5,22.4 46.5,22.1 45.0,22.4 44.7,23.5 45.5,24.7 50.5,26.4 52.8,24.0 56.0,22.6 57.5,20.4 59.0,20.1 60.7,21.5 60.1,25.5 61.0,26.5 62.5,26.9 63.3,26.5 66.5,22.5 68.5,21.7 70.0,24.0 72.0,25.4 74.1,28.0 75.5,29.0 76.5,29.1 79.0,24.5 82.0,25.0 82.5,24.6 81.7,19.0 80.0,18.4 78.5,19.0 78.1,19.5 79.1,21.5 79.0,23.5 78.5,24.1 75.5,24.3 73.0,23.8 71.5,21.6 68.8,19.5 68.4,19.0 69.0,18.4 72.5,19.1 74.5,18.5 75.0,17.5 74.9,16.0 74.2,14.0 70.5,12.7 69.2,11.5 67.8,8.0 70.2,6.0 70.8,4.5 70.0,3.2 67.5,2.9ZM75.5,5.0L74.3,6.5 74.5,8.7 76.5,12.1 77.5,12.3 78.9,11.5 79.3,10.5 77.5,8.0 77.3,5.5 76.5,4.7 75.5,5.0ZM119.7,5.5L118.8,8.5 120.5,10.2 122.5,10.3 123.2,9.0 122.6,5.5 121.5,5.0 120.0,5.3ZM91.0,6.0L89.0,7.8 86.5,7.6 85.0,9.4 82.0,11.0 81.6,12.0 82.0,13.5 83.5,14.7 85.0,14.6 88.0,13.3 90.0,15.1 91.0,15.4 92.0,10.5 93.0,9.9 96.2,10.5 94.5,6.8 92.0,5.8 91.0,6.0ZM116.1,8.0L115.4,9.5 117.0,9.7 117.9,8.5 117.5,7.9 116.5,7.8ZM105.5,11.5L102.4,14.0 103.5,15.9 105.5,16.3 108.0,15.0 109.1,13.5 108.8,12.5 108.1,12.0 106.0,11.3ZM96.9,14.0L96.6,15.0 98.0,15.7 98.0,14.6 97.0,14.0ZM117.9,15.5L117.2,17.0 117.2,21.5 119.5,25.5 121.0,25.3 122.1,23.5 121.8,17.0 120.5,15.3 118.0,15.4ZM95.2,18.0L92.5,19.1 88.5,18.1 88.1,19.0 89.4,20.5 92.5,21.6 93.4,24.5 95.5,26.0 95.2,29.5 95.5,30.0 97.5,29.9 99.9,29.5 99.0,28.3 98.0,25.0 99.3,22.0 97.3,21.0 96.9,18.5 95.5,17.9ZM106.9,19.0L106.8,19.5 107.5,20.0 107.5,19.0 107.0,19.0ZM107.8,25.0L106.5,27.9 105.5,28.4 103.5,28.0 102.1,29.0 102.0,29.5 105.5,30.9 109.2,31.5 110.0,34.1 113.5,34.4 114.7,34.0 115.1,33.0 114.0,29.7 111.5,28.0 109.5,25.1 108.0,24.9ZM85.6,26.5L84.0,26.9 83.3,28.0 83.6,30.0 85.0,30.7 89.7,29.0 88.0,26.7 86.0,26.5ZM115.2,26.5L114.8,27.0 115.0,27.9 116.0,28.0 116.7,27.0 115.5,26.4ZM43.5,27.0L42.0,27.8 40.1,28.0 39.5,29.0 40.0,29.6 41.5,29.8 44.5,29.1 45.0,28.0 44.9,27.0 44.5,26.6 43.5,27.0ZM67.9,29.0L65.6,30.5 65.7,31.5 67.0,32.0 70.3,31.5 70.8,30.5 70.0,29.2 69.0,28.7 68.0,29.0ZM93.2,31.0L94.4,32.5 95.3,32.5 95.0,30.8 93.5,30.7ZM79.9,32.0L79.5,33.0 80.0,33.8 81.0,33.9 82.0,33.1 82.2,32.5 81.5,31.7 80.0,31.9ZM117.1,32.5L115.9,33.5 115.6,34.5 116.5,36.5 117.6,37.0 118.5,35.8 118.9,34.0 118.5,32.6 117.5,32.3ZM76.0,35.0L74.7,36.5 74.8,39.0 79.5,39.7 80.7,43.0 79.8,46.5 81.5,49.5 82.5,49.7 83.2,48.0 83.1,45.0 84.1,43.0 83.0,39.5 82.0,38.5 80.0,38.3 77.9,35.0 76.0,35.0ZM31.5,37.0L30.8,37.5 30.9,38.0 32.0,38.2 32.7,37.5 32.6,37.0 32.0,36.9ZM89.2,37.0L88.0,38.5 88.3,39.5 90.2,42.0 89.7,45.0 91.5,47.0 92.0,48.5 93.5,49.1 94.2,45.0 92.4,42.0 93.2,40.0 90.5,37.2 89.5,36.9ZM96.1,39.0L94.6,40.0 94.6,40.5 97.0,42.5 98.4,42.5 98.8,41.5 98.2,39.0 97.5,38.5 96.5,38.8ZM109.4,39.0L109.4,40.0 110.0,40.7 111.0,41.3 112.0,41.0 112.0,40.0 111.2,39.0 110.5,38.7 109.5,38.9ZM106.4,39.5L104.9,41.0 105.0,41.7 105.5,41.6 106.5,39.5ZM20.6,40.5L20.3,41.5 21.0,41.7 21.4,41.0 21.0,40.3ZM73.9,40.5L73.4,42.0 74.0,42.2 74.5,41.7 74.5,40.4 74.0,40.4ZM67.8,48.5L66.8,51.5 67.5,51.7 68.9,51.0 69.5,50.0 69.5,48.8 69.0,48.2 68.0,48.3ZM71.4,52.0L70.6,53.0 70.9,54.5 71.5,55.1 73.0,55.2 74.3,54.5 74.9,53.5 73.5,52.2 71.5,52.0ZM62.4,58.5L59.3,60.5 59.1,61.5 59.6,62.5 61.5,63.9 65.5,63.0 65.8,62.0 64.6,59.5 63.5,58.4 62.5,58.4ZM69.8,62.5L69.5,63.5 69.9,64.0 71.5,64.0 71.8,63.5 71.5,62.5 71.0,62.1 70.0,62.3ZM55.0,64.0L53.5,65.5 53.5,66.2 58.0,67.2 58.2,66.0 57.4,64.5 56.5,63.8 55.0,64.0ZM4.5,1.3L8.4,4.5 8.4,6.0 7.0,7.0 5.5,7.3 4.5,6.5 4.1,1.5ZM19.5,7.3L20.5,7.3 22.2,8.5 23.5,11.3 27.0,10.6 27.5,11.5 27.0,12.7 25.5,13.1 23.5,12.1 21.5,12.2 18.7,9.0 19.2,7.5ZM-1.6,10.0L-0.5,11.0 -0.2,12.5 -0.5,13.3 -2.0,13.4 -2.0,9.9ZM4.5,13.7L5.5,14.0 5.1,14.5 4.1,14.0ZM9.0,14.4L10.5,14.5 11.0,15.0 10.9,16.0 10.0,16.7 8.7,16.5 7.6,15.5 7.5,15.0 8.5,14.5ZM17.5,15.4L18.4,16.5 17.5,17.9 16.6,17.5 16.3,16.5 17.2,15.5ZM7.0,17.4L8.2,18.5 8.2,19.5 7.5,20.3 6.5,20.0 6.0,19.2 6.2,18.0 6.8,17.5ZM65.0,17.5L66.0,17.6 67.3,18.5 65.5,19.7 64.2,19.5 63.5,18.5 64.8,17.5ZM-0.5,21.5L0.8,21.5 0.5,23.0 -0.5,23.3 -1.1,23.0 -1.3,22.5 -0.6,21.5ZM-1.5,24.7L-0.3,26.0 -0.0,27.0 -1.0,30.2 -2.0,31.2 -2.0,24.6ZM6.5,30.0L7.0,30.7 6.5,30.8 6.5,30.0ZM5.0,38.9L6.0,38.8 6.9,40.0 6.5,42.6 4.0,41.5 3.2,40.5 4.9,39.0ZM4.5,46.8L5.0,47.1 5.0,48.1 3.0,51.0 1.5,51.3 1.1,50.5 4.2,47.0ZM-1.5,54.7L-0.5,55.2 -0.3,56.0 -0.6,56.5 -2.0,56.7 -2.0,54.7ZM94.5,60.9L105.5,61.5 107.1,62.5 105.5,67.5 102.5,68.9 101.0,70.5 101.2,75.0 99.4,77.0 99.0,78.0 99.5,79.0 100.5,79.5 102.5,79.3 106.0,77.3 106.0,74.5 108.5,73.4 109.5,71.0 111.0,69.0 111.5,68.7 114.0,69.2 115.7,68.0 115.7,66.5 115.0,66.1 111.5,67.7 109.1,66.5 108.8,65.5 109.2,63.5 110.5,62.0 112.5,61.8 114.9,62.5 115.8,63.5 116.5,65.5 120.0,66.2 121.5,68.3 124.5,68.0 124.5,74.5 122.0,74.6 121.0,75.5 121.3,76.5 122.0,76.8 124.5,76.2 124.5,82.1 118.0,86.0 116.0,86.1 115.3,87.0 115.6,88.0 116.5,88.6 118.5,86.5 124.5,87.1 124.5,91.0 123.5,91.7 123.2,93.0 120.1,93.0 119.0,92.3 118.3,93.0 113.9,93.0 112.0,89.2 111.0,88.5 110.0,89.0 109.6,90.0 110.7,93.0 93.1,93.0 91.0,91.8 90.5,92.0 90.2,93.0 78.1,93.0 77.5,92.4 76.5,93.0 49.7,93.0 49.9,91.5 52.0,88.2 55.0,88.5 56.3,87.0 55.7,85.5 52.5,83.8 49.5,85.9 48.4,89.5 46.0,92.0 45.6,93.0 42.3,93.0 44.2,89.5 44.6,86.0 44.0,85.5 43.3,86.5 43.2,89.0 41.6,91.0 39.2,92.0 38.4,93.0 33.9,93.0 33.9,90.5 33.0,88.0 33.3,83.0 35.5,81.1 36.5,78.0 37.5,77.2 42.0,76.8 45.0,77.8 47.0,76.6 48.0,76.6 49.0,77.1 50.2,79.0 52.0,79.4 55.0,79.2 58.0,76.6 60.5,77.5 61.3,78.5 62.0,80.6 63.7,76.5 67.5,71.3 69.5,70.8 70.9,73.0 73.0,73.5 73.7,73.0 74.5,70.9 76.5,69.5 78.5,66.4 79.5,66.1 82.5,66.8 84.0,66.5 84.4,65.5 83.6,62.5 84.5,61.9 86.4,62.5 87.0,65.0 88.4,67.0 88.5,69.5 89.5,69.9 90.7,68.5 90.2,66.0 92.4,64.5 92.9,62.0 94.3,61.0ZM95.9,72.5L94.5,73.5 91.5,73.8 90.2,74.5 87.8,78.0 88.4,79.0 90.0,79.4 91.5,77.4 94.0,76.7 94.9,76.0 97.2,73.0 97.0,72.1 96.0,72.4ZM78.7,73.5L75.9,76.5 75.7,77.5 76.5,80.0 74.5,84.8 72.5,86.5 73.0,87.5 74.5,87.5 78.9,82.5 79.2,79.0 80.0,77.9 81.0,77.6 81.4,78.0 82.3,80.0 83.5,80.9 84.5,80.9 85.6,79.5 85.2,78.5 81.5,77.3 80.9,73.5 79.0,73.4ZM112.9,74.0L112.3,75.5 112.4,78.5 114.5,79.1 116.2,78.5 116.7,77.0 116.4,75.0 114.5,73.7 113.0,73.9ZM107.8,78.5L108.5,79.9 110.0,79.6 109.8,79.0 108.0,78.4ZM95.3,81.5L93.7,83.5 92.9,87.5 93.5,88.0 95.0,88.0 95.9,87.5 96.4,86.5 96.1,84.0 96.6,82.0 95.5,81.4ZM106.9,81.5L104.6,82.5 103.4,85.0 103.5,85.8 110.0,85.4 112.5,84.1 112.6,82.5 110.0,81.3 107.0,81.5ZM61.7,83.5L59.8,85.0 59.5,86.5 60.0,87.6 63.0,88.5 63.5,90.0 64.2,90.5 68.0,90.7 69.5,89.7 70.2,88.0 66.9,86.5 66.6,85.5 66.9,83.5 66.0,83.1 64.0,83.8 62.0,83.4ZM83.3,84.0L82.2,85.5 82.9,87.5 80.0,88.5 79.9,90.0 81.5,90.8 85.5,91.6 86.5,91.4 89.7,88.0 88.5,86.8 86.0,85.9 84.5,83.8 83.5,83.9ZM37.3,85.5L38.0,86.8 39.0,86.5 38.6,85.5 37.5,85.1ZM98.6,88.5L98.4,90.0 99.0,91.8 100.0,92.3 101.0,91.9 102.1,90.5 102.3,89.0 101.5,88.3 99.0,88.2ZM59.8,89.5L59.5,90.5 60.0,91.5 61.0,92.5 61.5,92.3 62.0,90.5 60.0,89.4ZM121.0,61.9L122.5,61.7 124.5,62.4 124.5,65.5 120.8,63.0 120.4,62.5 120.7,62.0ZM-1.5,72.9L-0.9,73.5 -0.6,75.0 -1.0,75.8 -2.0,76.2 -2.0,72.8ZM15.5,80.0L17.7,80.5 18.0,81.5 17.0,82.0 15.5,82.0 14.6,81.5 14.5,80.5 15.3,80.0ZM27.0,81.5L27.5,81.4 30.5,84.8 31.7,88.0 30.0,89.4 24.5,89.2 22.2,93.0 17.9,93.0 17.4,91.5 16.0,90.8 13.5,90.5 11.5,91.4 8.0,90.2 6.5,88.5 5.9,85.0 9.0,82.7 11.5,82.7 12.3,83.5 12.9,87.5 13.5,88.0 16.0,86.6 20.0,86.7 19.6,83.0 23.5,82.9 27.0,81.5ZM-1.5,84.4L-0.2,85.0 0.1,86.0 -0.5,87.1 -2.0,87.3 -2.0,84.4ZM-1.8,90.5L1.4,93.0 -2.0,93.0 -2.0,90.4ZM27.5,90.7L28.3,91.5 28.3,93.0 25.5,93.0 27.0,91.0Z" fill="#666666" fill-rule="evenodd"/>
<path d="M-1.5,-2.0L-0.6,-2.0 -0.8,-1.0 -2.0,0.2 -2.0,-2.0ZM24.0,-2.0L27.0,-2.0 26.5,-1.3 25.5,-1.0 24.5,-1.1 23.8,-2.0ZM52.0,-1.6L52.2,-2.0 55.6,-2.0 54.1,-1.0 53.0,1.3 51.9,0.5 52.0,-1.5ZM72.0,-2.0L73.5,-2.0 72.5,-1.1 71.7,-2.0ZM105.0,-2.0L109.2,-2.0 107.5,0.5 107.5,3.5 106.5,4.7 105.5,4.5 104.6,3.5 105.2,0.5 104.8,-2.0ZM122.0,-1.9L122.4,-1.0 122.0,0.6 121.5,1.0 120.9,0.5 121.7,-1.5ZM79.5,-1.2L80.0,-1.2 80.8,0.0 80.9,1.5 80.5,2.1 79.0,2.5 78.1,1.5 78.2,0.0 79.3,-1.0ZM96.5,-1.1L97.5,-0.8 97.8,0.0 98.2,4.0 97.5,5.2 95.0,4.8 93.8,3.5 94.2,0.5 96.3,-1.0ZM35.5,-0.8L36.5,-0.2 37.3,1.0 37.1,2.0 34.5,1.9 34.3,1.0 35.2,-0.5ZM39.5,0.8L40.5,0.9 40.9,1.5 40.8,3.0 40.0,3.8 38.8,3.5 37.8,2.0 39.0,1.0ZM62.5,2.0L63.2,2.0 63.2,2.5 62.7,5.0 61.6,5.0 61.0,4.0 61.2,3.0 62.4,2.0ZM88.0,1.9L89.1,2.5 89.0,3.7 87.8,3.5 87.5,2.5 87.8,2.0ZM73.0,3.9L73.5,4.5 72.6,6.0 72.5,8.0 72.0,8.7 70.0,8.7 69.7,8.0 72.3,6.0 72.8,4.0ZM107.5,5.7L109.0,5.9 109.7,6.5 110.1,9.5 109.5,11.0 108.5,11.0 105.5,9.9 103.5,10.9 103.1,10.5 103.5,9.7 105.5,8.4 107.1,6.0ZM124.5,5.8L124.5,8.9 123.9,7.5 124.3,6.0ZM81.5,6.5L83.0,6.0 84.0,6.3 84.3,7.5 83.5,8.6 81.5,8.8 80.0,8.0 80.0,7.5 81.4,6.5ZM97.5,6.8L98.5,6.9 99.5,9.1 99.0,9.5 97.5,8.7 97.0,8.0 97.4,7.0ZM47.5,7.4L48.2,8.0 48.0,8.5 47.1,8.0 47.2,7.5ZM57.5,7.8L59.0,8.0 59.2,8.5 58.0,10.0 57.0,9.5 57.0,8.0ZM72.5,10.2L73.5,10.6 73.5,11.6 72.0,11.7 72.1,10.5ZM-1.8,11.5L-2.0,11.8 -2.0,11.2ZM93.0,12.0L94.5,12.3 94.5,13.5 94.0,14.0 93.0,13.7 92.7,13.0 93.0,12.0ZM119.0,12.0L122.5,11.8 124.5,13.2 124.5,21.9 123.5,21.6 123.0,20.8 122.6,16.5 122.0,14.7 117.6,13.0 119.0,12.0ZM79.5,14.5L80.5,14.2 82.0,15.0 83.5,16.5 83.0,17.3 76.9,17.5 76.3,16.5 76.8,15.5 79.5,14.5ZM101.0,16.3L102.0,16.6 102.7,17.5 103.0,20.2 101.0,20.5 99.3,20.0 99.2,19.0 100.7,16.5ZM114.0,16.4L115.0,16.0 116.0,16.6 116.2,18.5 115.5,19.9 114.0,20.3 113.1,19.5 113.1,18.0 113.9,16.5ZM84.0,19.7L86.0,20.1 88.5,22.1 91.5,22.5 92.2,24.5 91.5,26.1 90.0,26.4 87.5,24.4 85.5,25.0 84.5,24.8 83.2,21.5 83.7,20.0ZM73.5,20.5L75.0,20.1 75.9,20.5 77.1,21.5 77.0,22.5 75.5,22.9 74.2,22.5 73.3,21.5 73.5,20.5ZM110.0,20.5L111.8,21.0 112.0,23.0 111.5,24.4 110.5,24.3 108.8,23.0 108.9,21.5 110.0,20.5ZM104.5,21.3L106.9,23.0 106.0,24.6 105.0,24.6 104.2,24.0 104.2,21.5ZM38.5,21.9L40.0,22.0 41.5,22.8 43.0,24.0 43.4,25.0 42.0,26.4 39.5,26.1 38.1,26.5 37.8,27.5 38.3,30.0 44.5,31.9 45.5,30.9 46.5,27.1 47.5,26.8 49.3,28.0 49.1,29.0 47.2,31.5 47.7,32.5 49.0,33.2 51.0,32.9 53.0,31.0 55.0,32.1 58.5,31.8 59.5,30.7 59.8,28.5 60.5,28.0 63.3,29.0 63.8,31.5 64.6,32.5 66.5,33.4 69.3,33.5 70.5,35.4 71.2,35.0 71.3,33.5 73.0,29.9 73.5,29.8 74.7,31.0 75.3,33.5 72.3,38.0 71.1,42.5 71.7,45.5 71.1,46.0 67.5,46.5 65.8,47.5 65.0,50.1 63.3,51.5 62.9,54.5 61.9,55.5 61.3,57.5 60.0,58.6 58.6,58.0 58.6,55.5 57.0,54.3 56.0,54.3 54.1,56.0 50.8,56.5 50.7,55.5 54.4,53.0 54.5,52.2 52.5,52.5 50.5,52.2 49.8,56.0 48.0,56.5 45.7,55.5 44.5,53.0 43.5,52.2 39.5,52.5 38.5,52.0 37.7,50.5 37.5,48.4 36.2,49.5 35.8,51.5 36.4,53.0 38.3,54.0 38.4,55.0 37.5,56.0 36.0,55.7 33.5,53.3 32.0,49.8 30.7,50.0 27.5,55.0 26.0,55.9 24.9,55.5 24.5,54.5 26.8,52.5 26.9,51.5 26.0,50.9 23.5,51.6 21.7,50.5 21.6,49.0 23.7,46.5 23.5,45.8 20.5,44.5 23.0,41.0 22.0,37.5 22.3,37.0 24.5,36.5 24.3,34.0 25.0,33.1 26.0,32.9 28.1,35.0 27.7,37.0 28.7,38.0 31.0,39.2 32.8,38.5 33.7,37.0 33.5,36.0 29.3,35.5 31.0,31.5 30.2,29.0 31.0,28.4 32.0,29.4 32.5,29.2 34.0,26.9 36.6,25.5 36.9,23.0 38.2,22.0ZM60.6,34.0L61.5,35.9 62.7,36.0 62.0,34.0 61.0,33.6ZM44.4,35.0L45.2,38.0 46.0,37.7 46.4,37.0 46.1,36.0 44.5,34.8ZM58.5,21.7L59.5,22.0 58.1,24.0 59.0,27.2 58.5,27.5 57.0,27.0 55.2,25.0 57.8,23.5 58.2,22.0ZM20.0,22.4L21.0,23.3 20.7,24.5 19.3,24.5 19.9,22.5ZM100.5,24.0L101.7,24.5 102.2,25.5 101.6,27.0 100.5,27.3 99.5,26.7 99.1,25.5 99.5,24.3 100.5,24.0ZM67.0,24.4L68.0,24.3 69.0,25.5 69.2,26.5 68.6,27.0 66.5,28.0 65.5,27.4 65.3,26.0 66.8,24.5ZM124.0,25.8L124.5,25.7 124.5,29.1 123.1,27.0 123.6,26.0ZM80.0,26.7L81.0,27.1 81.0,28.6 79.9,28.5 79.5,28.0 79.5,27.0ZM87.0,31.4L88.5,31.5 90.0,33.0 92.5,33.9 94.7,35.5 95.2,37.0 94.0,38.2 92.5,37.7 90.5,35.2 89.5,34.8 87.5,35.0 86.5,34.5 85.7,32.5 86.7,31.5ZM106.0,32.4L107.5,32.4 108.0,33.0 107.9,35.5 107.0,36.3 105.5,36.2 104.8,35.0 104.8,33.5 105.9,32.5ZM121.0,32.3L121.5,32.5 121.5,33.2 121.0,33.3 120.8,32.5ZM98.5,32.9L99.2,33.5 99.0,34.7 98.0,34.1 98.3,33.0ZM17.0,37.9L18.5,37.5 19.9,38.5 18.5,41.2 17.5,41.1 16.6,40.0 16.4,39.0 16.9,38.0ZM85.0,37.9L85.8,38.5 85.5,39.7 85.0,39.8 84.5,39.3 84.9,38.0ZM101.0,40.5L102.4,40.5 102.2,41.5 101.0,41.5 101.0,40.5ZM78.0,41.4L79.2,42.5 79.0,44.6 77.5,46.6 75.0,47.7 74.5,50.0 73.5,50.5 71.8,50.0 71.8,48.0 72.5,47.2 73.5,47.0 74.0,45.0 77.5,41.5ZM106.5,43.8L107.7,44.0 107.4,45.5 106.5,45.8 106.0,45.5 106.2,44.0ZM116.0,47.4L118.9,48.0 116.5,50.0 115.0,49.5 114.9,48.5 115.7,47.5ZM99.0,49.5L100.3,50.0 100.0,50.7 98.9,50.5 98.5,50.0 98.9,49.5ZM15.0,49.9L16.0,49.5 16.2,50.5 15.5,51.1 15.0,50.0ZM67.5,53.9L68.7,54.0 70.0,56.2 71.0,57.0 74.0,56.7 75.0,57.1 76.8,60.5 74.5,62.6 73.5,62.6 72.9,62.0 72.4,59.0 71.5,58.2 68.5,61.6 67.0,61.1 63.7,55.5 64.0,55.0 67.3,54.0ZM96.0,62.5L99.5,62.6 99.8,63.0 98.6,66.0 97.5,65.9 96.4,65.0 96.0,62.5ZM52.0,62.8L53.0,62.6 53.3,63.0 53.0,63.7 52.0,64.1 51.8,63.0ZM104.0,62.8L105.2,63.0 105.2,64.0 104.5,64.8 103.5,64.3 103.6,63.0ZM112.0,63.4L112.8,64.0 112.5,64.8 111.8,64.5 111.9,63.5ZM46.0,64.1L46.3,64.5 45.8,64.5ZM63.0,65.4L64.7,65.5 64.2,66.5 63.5,66.8 61.8,66.5 62.6,65.5ZM99.5,66.8L101.0,67.5 100.0,68.8 99.2,68.5 99.2,67.0ZM86.0,68.4L86.0,71.5 85.0,72.6 84.4,70.5 85.5,68.5ZM93.0,68.3L94.5,68.6 95.4,70.0 95.3,71.0 94.0,72.4 92.5,72.8 89.7,72.5 92.7,68.5ZM79.0,68.8L80.0,68.8 80.8,69.5 81.0,70.5 80.4,71.5 79.0,71.8 78.2,71.5 77.9,70.5 78.7,69.0ZM118.0,68.8L120.3,72.0 118.5,74.8 114.0,72.3 113.0,72.4 111.0,73.9 110.5,73.9 110.0,73.0 110.2,71.5 111.5,70.2 114.5,70.4 117.8,69.0ZM44.0,69.7L45.1,70.0 44.7,72.5 44.0,72.5 43.5,72.0 43.2,71.0 43.6,70.0ZM52.0,69.8L53.6,70.0 53.9,71.0 53.5,71.7 52.5,72.3 51.5,72.1 51.2,71.0 51.7,70.0ZM58.0,69.9L59.0,69.7 60.1,70.5 60.2,71.5 59.5,72.9 57.5,73.9 56.4,73.5 56.5,72.5 57.9,70.0ZM123.0,69.9L124.5,69.5 124.5,73.2 122.9,73.0 121.6,72.0 122.8,70.0ZM99.5,73.1L100.0,73.5 99.8,74.5 98.8,74.5 99.1,73.5ZM69.0,74.5L71.0,75.0 72.7,76.0 72.6,77.0 71.5,77.8 69.0,76.5 68.5,75.0 69.0,74.5ZM83.0,74.4L84.0,74.3 84.1,75.5 83.0,75.6 82.9,74.5ZM97.0,76.4L97.0,79.2 96.0,79.3 95.5,78.5 96.9,76.5ZM58.0,78.3L59.1,78.5 59.8,79.5 59.8,81.5 59.0,82.6 56.0,83.4 54.7,82.5 54.9,81.0 57.6,78.5ZM65.0,78.8L66.0,78.6 67.2,79.0 67.8,80.5 67.5,81.2 65.5,81.7 64.5,81.3 64.2,80.0 64.7,79.0ZM47.5,79.3L48.5,79.5 50.6,81.5 50.5,82.1 49.5,82.6 48.5,82.2 47.0,80.5 47.3,79.5ZM74.0,79.1L74.7,79.5 74.5,80.6 73.7,80.5 73.6,79.5ZM119.5,79.3L120.5,79.2 122.2,80.0 122.5,81.0 121.8,82.5 119.0,83.6 115.9,83.5 116.0,82.0 119.3,79.5ZM38.0,79.7L41.0,81.7 42.5,82.1 42.8,82.5 42.1,83.5 40.5,84.2 37.5,82.6 37.1,81.5 37.6,80.0ZM87.5,80.9L90.0,81.6 92.0,81.5 92.0,83.5 91.0,85.3 86.9,84.5 86.3,82.5 87.2,81.0ZM81.5,82.4L81.5,83.1 80.9,83.0 81.3,82.5ZM9.5,84.0L10.5,83.8 11.0,84.2 11.1,85.0 10.5,85.9 9.3,86.0 9.5,84.0ZM25.0,83.9L26.0,83.9 29.5,85.4 30.1,87.0 29.5,87.8 28.0,87.4 26.5,85.6 24.0,84.8 23.8,84.5 24.8,84.0ZM69.0,84.3L70.5,84.5 70.7,85.5 70.0,85.9 69.0,85.8 68.6,85.0 68.9,84.5ZM79.0,84.4L80.0,84.1 80.3,84.5 80.2,85.5 79.5,86.3 77.9,86.5 77.9,85.5 78.9,84.5ZM22.5,84.8L23.4,85.0 22.1,85.0ZM8.5,86.7L9.3,87.0 9.5,88.5 9.0,88.8 8.0,88.4 8.1,87.0ZM47.0,87.4L47.0,88.2 46.5,88.2 46.6,87.5ZM16.0,87.9L17.0,87.6 18.6,88.0 19.4,89.0 19.0,90.0 16.0,89.5 15.5,89.0 15.9,88.0ZM40.5,88.0L41.2,88.5 40.8,89.5 37.9,91.5 36.7,93.0 36.2,93.0 35.9,92.0 36.2,89.5 40.4,88.0ZM96.0,89.0L97.0,89.4 97.4,90.5 97.2,91.5 96.5,92.1 94.0,91.5 92.5,90.5 93.0,89.8 95.9,89.0ZM71.5,89.5L73.5,89.3 75.0,90.0 74.7,91.0 72.4,93.0 71.2,93.0 70.4,91.5 70.6,90.5 71.5,89.5ZM104.0,90.4L105.0,90.1 106.5,90.6 107.4,91.5 107.8,93.0 102.3,93.0 103.8,90.5ZM53.0,91.0L53.5,91.5 53.4,93.0 51.4,93.0 52.0,91.5 52.9,91.0ZM57.5,91.8L58.9,93.0 57.1,93.0 57.3,92.0ZM64.0,92.4L66.5,92.1 67.3,93.0 63.5,93.0 63.9,92.5ZM80.0,92.4L81.0,92.2 81.7,93.0 79.8,93.0 79.9,92.5Z" fill="#727272" fill-rule="evenodd"/>
<path d="M-1.9,-1.5L-2.0,-2.0 -1.7,-2.0ZM108.0,7.9L108.9,8.5 108.5,9.7 107.4,9.0 107.8,8.0ZM124.5,17.4L124.5,19.2 124.1,18.5 124.4,17.5ZM85.0,21.5L86.0,22.0 86.0,22.8 85.0,23.0 84.7,22.0ZM90.5,23.5L90.9,24.0 90.5,24.7 89.9,24.0 90.4,23.5ZM35.0,28.2L36.0,28.2 36.5,28.6 37.5,31.3 40.0,30.7 41.7,31.5 42.3,33.0 42.1,35.5 43.5,38.5 43.0,39.6 40.1,40.0 39.6,41.0 38.5,41.7 36.5,41.0 35.8,42.0 36.8,43.5 37.2,45.5 35.0,48.3 34.5,48.6 33.0,48.2 31.5,48.7 30.0,47.8 28.4,49.0 28.7,50.0 28.0,51.0 26.0,50.1 23.5,51.0 22.5,50.5 22.1,49.5 25.1,45.5 25.0,44.7 23.8,44.0 23.7,43.5 25.5,39.7 27.5,39.2 31.0,39.9 32.9,39.0 34.0,37.5 34.5,34.9 32.0,34.8 31.5,34.0 34.7,28.5ZM56.5,33.9L58.0,33.8 59.5,35.5 59.9,37.0 59.0,38.9 59.0,40.1 61.7,38.0 67.5,35.7 69.5,36.6 70.8,38.5 70.5,41.0 69.5,42.0 68.0,42.5 66.8,45.0 66.0,45.4 64.5,44.5 63.5,45.8 61.8,46.0 60.8,49.0 60.0,49.6 57.5,49.0 53.0,51.8 51.2,51.5 50.6,50.5 50.7,49.5 53.5,46.5 54.2,45.0 54.0,44.1 53.0,44.0 51.0,44.5 48.5,46.5 47.9,47.5 47.7,49.5 47.0,50.4 45.5,50.7 44.0,49.9 42.6,51.0 40.0,52.0 39.0,51.8 38.2,50.5 40.5,45.5 41.1,42.5 46.0,38.8 48.5,35.0 50.0,34.2 54.5,34.7 56.2,34.0ZM56.3,41.5L55.3,42.5 55.5,43.0 56.0,42.9 57.6,41.5 56.5,41.4ZM47.0,53.3L47.6,53.5 47.5,54.2 46.8,54.0 46.8,53.5ZM93.5,70.0L93.8,71.0 93.0,71.6 92.3,71.0 93.4,70.0ZM105.0,91.8L106.0,91.8 106.7,93.0 104.1,93.0 104.6,92.0Z" fill="#7e7e7e" fill-rule="evenodd"/>
<path d="M39.0,31.4L40.5,31.2 41.6,32.5 39.2,36.5 37.2,38.5 39.0,39.6 39.1,41.0 38.0,41.2 36.0,40.3 34.9,42.0 36.3,43.5 36.0,45.0 35.0,45.4 33.5,44.5 32.0,45.4 31.8,46.0 32.4,47.0 32.2,48.0 31.5,48.3 30.0,47.1 29.5,47.3 28.0,48.5 28.0,50.5 27.5,50.7 26.0,49.6 23.5,50.6 22.7,50.0 22.7,49.0 26.5,45.0 27.2,42.0 33.0,39.3 34.4,37.5 36.7,33.0 38.8,31.5ZM49.5,35.0L50.5,34.7 51.5,35.0 52.4,36.5 51.9,37.5 49.4,39.5 52.5,40.0 53.0,38.4 54.0,37.7 55.0,38.1 56.4,39.5 55.4,40.5 51.5,42.1 48.3,41.0 47.6,42.5 49.6,44.5 48.5,45.6 47.0,45.1 46.5,45.5 46.4,46.5 47.1,48.5 46.5,49.5 45.5,49.5 44.0,48.4 41.3,51.0 40.0,51.6 39.0,51.3 38.6,50.0 41.0,46.0 42.2,43.0 45.0,40.6 49.5,35.0ZM66.5,37.0L68.0,36.5 69.5,37.5 69.9,41.0 69.0,41.5 67.0,41.0 67.0,42.5 66.0,43.5 63.5,42.8 62.5,43.0 62.2,43.5 63.6,45.0 63.0,45.6 61.0,45.2 59.7,46.5 59.5,47.0 60.4,48.5 60.0,49.1 59.5,49.3 57.5,48.4 52.5,51.5 51.4,51.0 51.4,49.5 55.5,44.4 62.0,38.6 66.5,37.0Z" fill="#8a8a8a" fill-rule="evenodd"/>
<path d="M40.0,31.4L41.0,32.0 41.0,33.0 36.5,38.5 39.0,40.5 38.5,40.9 36.0,39.6 34.3,42.0 36.0,43.7 35.9,44.5 35.0,44.7 33.5,43.4 33.0,43.6 30.9,45.5 32.0,47.6 31.5,48.0 30.0,46.7 29.5,46.7 27.3,48.5 27.5,50.2 26.5,49.2 23.5,50.2 23.0,49.5 23.1,49.0 26.8,45.5 29.0,42.5 33.5,39.3 36.8,33.5 39.7,31.5ZM50.0,35.2L51.4,35.5 51.7,36.5 48.7,39.5 51.5,40.5 51.8,41.0 51.0,41.7 48.5,40.2 48.0,40.5 47.0,42.5 49.2,44.5 48.5,45.2 46.5,44.1 46.1,44.5 45.4,46.5 46.6,48.0 46.5,49.0 45.5,49.1 44.0,48.0 40.0,51.2 39.2,51.0 38.9,50.0 42.6,43.5 45.2,41.0 49.6,35.5ZM67.5,37.0L68.5,37.2 69.1,38.0 68.9,39.5 69.6,40.0 69.5,40.9 69.0,41.2 66.5,40.3 66.2,41.0 66.8,42.0 66.5,42.7 65.5,42.9 63.5,42.1 62.0,42.8 61.6,43.5 63.1,45.0 60.5,44.6 58.7,46.5 60.0,48.4 59.5,49.0 57.0,48.0 52.5,51.1 51.6,50.5 51.9,49.5 56.0,44.5 62.0,39.1 63.5,38.2 67.5,37.0Z" fill="#969696" fill-rule="evenodd"/>
<path d="M40.0,31.9L40.5,32.0 40.3,33.0 36.3,38.0 33.8,42.0 35.5,43.7 35.5,44.3 33.0,42.9 30.3,45.5 30.9,46.5 29.5,46.2 27.0,48.3 24.0,49.8 23.4,49.5 23.7,49.0 29.5,42.7 33.8,39.5 37.3,33.5 39.5,32.0ZM50.5,35.5L51.1,36.5 48.3,39.0 46.4,42.5 48.8,44.5 48.0,44.6 46.0,43.5 45.0,46.0 44.9,46.5 46.4,48.5 46.0,48.9 43.5,47.6 40.0,50.8 39.5,50.7 39.4,50.0 42.8,44.0 50.5,35.5ZM67.5,37.4L68.7,38.0 68.0,39.5 69.3,40.5 69.0,40.8 66.5,39.7 65.3,40.5 66.5,41.9 66.0,42.6 63.5,41.7 62.0,42.3 61.0,43.5 61.5,44.2 60.5,44.1 58.1,46.5 59.0,48.1 57.0,47.5 52.5,50.5 52.3,50.0 52.9,49.0 56.0,45.0 62.5,39.2 67.2,37.5Z" fill="#a2a2a2" fill-rule="evenodd"/>
<path d="M39.0,32.8L39.6,33.0 39.1,34.0 37.0,36.4 36.5,36.5 36.5,36.0 37.0,34.6 38.6,33.0ZM67.5,37.9L68.1,38.0 68.0,38.6 66.5,38.7 64.6,40.5 66.0,42.2 63.5,41.2 62.0,41.8 57.5,47.0 55.0,48.5 54.0,48.5 56.0,45.5 62.6,39.5 64.0,38.7 66.0,38.6 67.3,38.0ZM33.5,40.3L34.0,40.0 34.2,40.5 32.8,42.5 26.5,48.0 25.5,48.4 25.8,47.5 29.9,43.0 33.2,40.5ZM45.0,42.5L45.5,42.3 45.6,43.0 44.3,46.5 45.2,47.5 45.0,47.8 43.5,47.1 40.9,49.0 43.0,44.3 45.0,42.5Z" fill="#aeaeae" fill-rule="evenodd"/>
<path d="M63.5,39.4L64.7,39.5 63.8,40.5 62.4,41.0 62.3,40.5 63.3,39.5ZM32.0,42.0L32.0,42.5 30.0,44.6 29.5,44.8 29.7,44.0 32.0,42.0ZM44.0,43.8L44.5,43.6 44.7,44.5 43.5,46.5 43.0,46.8 42.5,46.5 43.8,44.0ZM58.5,43.9L59.1,44.0 58.5,45.0 56.5,47.0 55.5,47.0 56.0,46.2 58.4,44.0Z" fill="#bababa" fill-rule="evenodd"/>
<rect x="0" y="0" width="122.2" height="91.0" filter="url(#speck)" opacity="0.25"/>
</g>
<line x1="30.55" y1="0" x2="30.55" y2="91.0" stroke="#000" stroke-width="0.50" stroke-dasharray="0.6 1.4"/>
<line x1="61.10" y1="0" x2="61.10" y2="91.0" stroke="#000" stroke-width="0.50" stroke-dasharray="0.6 1.4"/>
<line x1="91.65" y1="0" x2="91.65" y2="91.0" stroke="#000" stroke-width="0.50" stroke-dasharray="0.6 1.4"/>
<line x1="0" y1="30.33" x2="122.2" y2="30.33" stroke="#000" stroke-width="0.50" stroke-dasharray="0.6 1.4"/>
<line x1="0" y1="60.67" x2="122.2" y2="60.67" stroke="#000" stroke-width="0.50" stroke-dasharray="0.6 1.4"/>
<polygon points="9.8,92.0 11.1,90.6 17.3,86.7 21.6,83.2 24.7,80.1 26.8,78.8 30.3,77.1 33.8,74.9 37.3,73.2 39.9,70.1 40.8,67.5 39.1,65.7 40.8,64.4 45.4,62.0 50.2,60.8 56.2,59.6 60.8,57.5 64.6,55.8 71.8,55.4 76.5,55.5 79.0,56.2 77.2,58.0 79.6,60.4 83.8,62.2 87.4,61.6 92.2,59.4 98.2,59.0 105.4,59.4 112.6,59.4 124.0,59.0 124.0,92.0" fill="#f4a460"/>
<polygon points="53.4,65.1 54.7,64.1 57.3,63.5 60.0,63.1 62.6,63.3 63.6,64.1 61.9,65.1 59.3,65.7 56.7,66.7 54.7,67.1 53.5,66.4" fill="#6495ed"/>
<polygon points="69.5,60.5 70.4,59.5 72.4,59.2 74.0,60.2 75.0,61.8 77.0,63.5 79.6,64.8 80.6,66.1 79.6,66.7 77.0,65.7 74.4,64.8 71.1,64.8 69.8,64.1 69.1,62.5" fill="#6495ed"/>
<polygon points="72.1,12.4 73.7,10.7 75.8,9.7 77.9,9.4 80.2,10.0 82.6,11.4 84.2,13.1 84.6,15.4 83.6,17.8 81.9,19.1 79.9,20.1 77.9,20.4 75.8,19.8 73.7,18.4 72.4,16.7 71.7,14.4" fill="#f4a460" stroke="#5a3a20" stroke-width="0.5"/>
<polygon points="58.3,24.8 59.6,23.1 61.6,22.5 63.3,23.1 62.7,24.5 61.6,25.5 63.0,26.5 62.3,27.8 60.3,27.5 59.0,26.5" fill="#f4a460" stroke="#5a3a20" stroke-width="0.5"/>
<polygon points="64.3,22.1 66.3,21.6 68.0,22.8 69.0,24.5 69.7,26.1 68.4,27.5 66.7,28.2 65.7,26.8 66.3,25.5 65.3,24.1 64.3,23.5" fill="#f4a460" stroke="#5a3a20" stroke-width="0.5"/>
<polygon points="61.0,28.2 63.0,27.8 64.3,28.8 63.7,30.0 61.6,30.0" fill="#f4a460" stroke="#5a3a20" stroke-width="0.5"/>
<rect x="20.0" y="28.6" width="52.2" height="26.1" fill="none" stroke="#ff00ff" stroke-width="1.8"/>
<rect x="73.9" y="15.6" width="43.0" height="18.6" fill="none" stroke="#ffff00" stroke-width="1.5"/>
<line x1="45.2" y1="60.5" x2="54.8" y2="16.8" stroke="#ff0000" stroke-width="1.7"/>
<polygon points="55.7,12.9 56.8,17.2 52.9,16.4" fill="#ff0000"/>
<line x1="91.7" y1="48.4" x2="101.3" y2="6.1" stroke="#008000" stroke-width="1.4"/>
<polygon points="102.2,2.2 103.3,6.5 99.4,5.7" fill="#008000"/>
<rect x="0" y="0" width="122.2" height="91.0" fill="none" stroke="#333" stroke-width="0.70"/>
</g></g>
<text x="270.5" y="8.5" font-size="7.70" text-anchor="middle" fill="#262626" stroke="#262626" stroke-width="0.18">(b) VH</text>
<text x="208.3" y="13.9" font-size="6.10" text-anchor="end" fill="#262626" stroke="#262626" stroke-width="0.18">36.5°N</text>
<text x="208.3" y="44.2" font-size="6.10" text-anchor="end" fill="#262626" stroke="#262626" stroke-width="0.18">36°N</text>
<text x="208.3" y="74.6" font-size="6.10" text-anchor="end" fill="#262626" stroke="#262626" stroke-width="0.18">35.5°N</text>
<text x="208.3" y="104.9" font-size="6.10" text-anchor="end" fill="#262626" stroke="#262626" stroke-width="0.18">35°N</text>
<text x="209.3" y="108.6" font-size="6.10" text-anchor="middle" fill="#262626" stroke="#262626" stroke-width="0.18">132°E</text>
<text x="239.9" y="108.6" font-size="6.10" text-anchor="middle" fill="#262626" stroke="#262626" stroke-width="0.18">132.5°E</text>
<text x="270.4" y="108.6" font-size="6.10" text-anchor="middle" fill="#262626" stroke="#262626" stroke-width="0.18">133°E</text>
<text x="301.0" y="108.6" font-size="6.10" text-anchor="middle" fill="#262626" stroke="#262626" stroke-width="0.18">133.5°E</text>
<text x="331.5" y="108.6" font-size="6.10" text-anchor="middle" fill="#262626" stroke="#262626" stroke-width="0.18">134°E</text>
<rect x="335.2" y="12.0" width="5.6" height="91.0" fill="url(#gg335)" stroke="#333" stroke-width="0.6"/>
<line x1="340.8" y1="12.0" x2="342.8" y2="12.0" stroke="#333" stroke-width="0.6"/>
<text x="345.1" y="14.3" font-size="6.50" text-anchor="start" fill="#262626" stroke="#262626" stroke-width="0.18">−10</text>
<line x1="340.8" y1="36.7" x2="342.8" y2="36.7" stroke="#333" stroke-width="0.6"/>
<text x="345.1" y="39.0" font-size="6.50" text-anchor="start" fill="#262626" stroke="#262626" stroke-width="0.18">−20</text>
<line x1="340.8" y1="61.3" x2="342.8" y2="61.3" stroke="#333" stroke-width="0.6"/>
<text x="345.1" y="63.6" font-size="6.50" text-anchor="start" fill="#262626" stroke="#262626" stroke-width="0.18">−30</text>
<line x1="340.8" y1="86.0" x2="342.8" y2="86.0" stroke="#333" stroke-width="0.6"/>
<text x="345.1" y="88.3" font-size="6.50" text-anchor="start" fill="#262626" stroke="#262626" stroke-width="0.18">−40</text>
<text transform="translate(370.6 57.5) rotate(-90)" font-size="5.60" text-anchor="middle" fill="#262626" stroke="#262626" stroke-width="0.15">NRCS (dB)</text>
<g transform="translate(394.50 12.00) scale(0.9984 1.0000)"><g clip-path="url(#clipframe)">
<rect x="0" y="0" width="122.2" height="91.0" fill="#fff"/>
<g clip-path="url(#clipswath)">
<rect x="-3" y="-3" width="128.2" height="97.0" fill="#000092"/>
<rect x="-3" y="-3" width="128.2" height="97.0" fill="#0000bb"/>
<path d="M-1.5,-2.0L124.5,-2.0 124.5,93.0 34.7,93.0 54.0,92.0 124.0,92.4 124.4,92.0 124.4,59.5 124.0,59.1 92.0,59.1 87.5,61.6 83.5,62.1 82.0,61.1 80.0,60.6 77.4,58.0 78.9,56.5 78.0,55.6 77.0,55.6 76.5,55.1 64.5,55.8 57.5,59.4 54.5,60.0 54.0,60.5 54.0,76.5 53.5,76.8 30.5,77.0 25.0,79.7 17.5,85.8 10.5,89.5 8.6,91.5 8.9,93.0 -2.0,93.0 -2.0,-2.0Z" fill="#0000e3" fill-rule="evenodd"/>
<path d="M-1.5,-2.0L124.5,-2.0 124.5,58.7 92.0,58.5 87.0,61.0 84.0,61.5 80.5,60.0 78.3,58.0 79.5,56.5 78.5,55.2 76.5,54.5 64.5,55.1 55.5,59.2 45.5,61.7 39.2,65.5 40.6,68.0 39.3,70.5 36.4,73.0 24.0,78.3 18.9,82.0 14.0,84.5 2.5,88.9 -2.0,89.7 -2.0,-2.0ZM49.5,93.0L124.5,93.0 49.3,93.0Z" fill="#0000ff" fill-rule="evenodd"/>
<path d="M-1.5,-2.0L124.5,-2.0 124.5,58.1 92.0,57.9 87.0,60.3 84.0,60.8 80.5,59.3 79.2,58.0 80.0,57.0 79.7,55.5 77.0,54.0 70.0,53.9 68.5,54.5 64.2,54.5 57.0,57.9 45.0,61.0 40.5,63.6 38.3,65.5 38.3,66.5 39.2,68.0 38.9,69.0 38.2,70.0 35.5,72.0 19.5,77.3 13.0,78.9 -2.0,79.9 -2.0,-2.0Z" fill="#001cff" fill-rule="evenodd"/>
<path d="M-1.5,-2.0L124.5,-2.0 124.5,57.4 92.0,57.3 86.5,59.8 84.0,60.1 80.6,58.5 80.1,58.0 80.6,57.0 80.4,55.5 79.0,54.1 77.0,53.4 70.0,53.3 68.5,53.8 64.0,53.8 56.5,57.2 45.0,60.1 40.0,62.8 38.0,64.0 37.3,65.0 37.1,66.5 37.6,68.5 34.8,70.5 17.0,73.5 -2.0,74.0 -2.0,-2.0Z" fill="#0040ff" fill-rule="evenodd"/>
<path d="M-1.5,-2.0L124.5,-2.0 124.5,56.8 92.0,56.7 86.5,59.1 84.0,59.4 81.0,58.0 81.3,56.5 80.9,55.0 79.5,53.6 77.5,52.8 70.0,52.6 68.0,53.0 64.0,53.0 56.5,56.3 44.5,59.3 42.0,60.5 36.6,63.5 34.0,68.0 32.0,67.6 18.5,68.8 -2.0,69.0 -2.0,-2.0Z" fill="#0064ff" fill-rule="evenodd"/>
<path d="M-1.5,-2.0L124.5,-2.0 124.5,56.1 92.0,56.0 86.0,58.5 84.0,58.6 82.0,57.7 81.7,55.0 79.5,52.8 77.0,51.9 69.5,51.8 68.0,52.2 63.5,52.3 56.0,55.5 44.0,58.4 33.5,62.9 25.5,63.9 -2.0,64.0 -2.0,-2.0Z" fill="#0088ff" fill-rule="evenodd"/>
<path d="M-1.5,-2.0L124.5,-2.0 124.5,55.3 91.5,55.2 86.0,57.7 84.5,57.8 83.0,57.2 82.0,54.0 79.5,51.9 77.0,51.1 69.5,50.9 63.0,51.5 55.5,54.7 44.0,57.1 36.5,59.7 34.0,59.9 32.0,59.4 23.5,60.0 -2.0,60.1 -2.0,-2.0Z" fill="#00acff" fill-rule="evenodd"/>
<path d="M-1.5,-2.0L124.5,-2.0 124.5,54.4 91.5,54.3 86.0,56.7 84.5,56.9 83.8,56.5 82.5,53.1 80.0,51.1 77.0,50.2 69.5,50.0 63.0,50.4 54.0,54.0 36.5,57.2 34.5,57.0 32.0,55.7 -2.0,56.1 -2.0,-2.0Z" fill="#00ccff" fill-rule="evenodd"/>
<path d="M-1.5,-2.0L124.5,-2.0 124.5,53.4 91.5,53.2 85.0,55.7 83.7,53.0 81.9,51.0 78.5,49.4 76.5,49.1 63.5,49.2 54.0,52.9 40.0,54.5 36.0,54.1 32.0,51.5 -2.0,51.7 -2.0,-2.0ZM77.5,13.5L76.6,14.5 76.7,16.0 77.5,16.8 79.0,16.8 79.8,16.0 79.9,14.5 79.0,13.5 77.5,13.5Z" fill="#09f0ee" fill-rule="evenodd"/>
<path d="M-1.5,-2.0L124.5,-2.0 124.5,52.2 91.5,52.0 89.5,52.4 86.0,54.0 82.5,49.9 77.0,47.8 69.5,47.6 63.0,48.0 54.0,51.5 46.0,52.2 38.5,51.5 32.0,47.9 -2.0,47.9 -2.0,-2.0ZM77.1,11.0L75.5,11.8 74.5,13.0 74.0,16.0 74.6,17.5 76.0,18.9 77.5,19.5 79.2,19.5 80.5,18.9 81.8,17.5 82.3,14.5 81.8,13.0 80.5,11.5 79.0,10.9 77.5,10.9Z" fill="#26ffd1" fill-rule="evenodd"/>
<path d="M-1.5,-2.0L124.5,-2.0 124.5,50.7 91.5,50.4 89.0,50.9 86.5,52.0 83.0,48.3 77.0,46.2 69.5,46.0 63.0,46.5 58.5,47.9 54.0,50.0 51.0,50.3 42.9,49.5 37.5,47.8 32.0,45.1 -2.0,45.1 -2.0,-2.0ZM76.2,9.5L74.4,10.5 72.9,12.5 72.3,14.5 72.5,17.0 73.5,19.0 75.5,20.7 77.5,21.4 80.0,21.3 82.0,20.1 83.5,18.0 84.1,16.0 83.8,13.5 82.8,11.5 81.0,9.9 79.0,9.2 76.5,9.4Z" fill="#43ffb4" fill-rule="evenodd"/>
<path d="M-1.5,-2.0L124.5,-2.0 124.5,48.7 91.5,48.3 87.5,49.2 83.0,45.8 77.5,44.1 69.5,44.1 62.5,44.7 54.0,48.2 51.0,48.3 45.0,47.4 40.4,46.0 35.6,44.0 32.0,41.4 -2.0,41.4 -2.0,-2.0ZM75.8,8.0L73.3,9.5 71.5,11.8 70.7,14.5 71.0,17.5 72.2,20.0 74.5,22.2 77.5,23.3 80.5,23.0 83.0,21.5 84.9,19.0 85.7,16.0 85.3,13.0 84.0,10.5 81.5,8.4 79.0,7.6 76.0,7.9Z" fill="#60ff97" fill-rule="evenodd"/>
<path d="M-1.5,-2.0L124.5,-2.0 124.5,46.0 92.0,45.3 88.0,45.8 83.5,42.7 80.0,41.5 77.0,41.2 69.5,41.5 62.0,42.5 52.5,46.1 48.0,45.4 43.4,44.0 32.0,37.0 -2.0,37.0 -2.0,-2.0ZM75.4,6.5L72.5,8.1 70.2,11.0 69.2,14.5 69.5,18.0 71.0,21.3 73.5,23.7 77.0,25.3 80.5,25.3 83.6,23.5 86.1,20.5 87.2,17.0 87.0,13.0 85.2,9.5 82.5,7.1 79.0,6.0 75.5,6.5Z" fill="#7dff7a" fill-rule="evenodd"/>
<path d="M-1.5,-2.0L124.5,-2.0 124.5,41.9 89.5,40.8 85.0,38.2 80.0,36.2 62.0,39.4 54.0,42.9 52.0,43.1 47.1,41.5 42.7,39.0 39.6,37.0 32.0,30.3 -2.0,30.3 -2.0,-2.0ZM76.3,4.5L72.5,6.0 69.4,9.0 67.7,13.0 67.5,17.5 69.1,22.0 72.0,25.6 76.0,28.1 80.0,28.9 84.0,26.6 87.2,23.0 89.0,18.5 89.1,14.0 87.5,9.7 84.5,6.4 80.5,4.5 76.5,4.5Z" fill="#97ff60" fill-rule="evenodd"/>
<path d="M-1.5,-2.0L124.5,-2.0 124.5,35.0 99.5,33.5 91.5,32.4 90.3,31.0 89.7,29.0 91.7,18.0 91.5,14.0 90.4,10.5 88.3,7.0 85.5,4.4 82.0,2.7 78.0,2.1 74.0,3.0 70.5,4.9 67.6,8.0 65.9,11.5 65.3,14.5 65.3,18.0 66.2,22.0 68.7,28.5 68.5,31.0 65.5,33.6 60.0,35.6 54.0,38.8 51.0,38.2 48.4,37.0 39.1,28.5 32.0,22.8 -2.0,22.8 -2.0,-2.0Z" fill="#b4ff43" fill-rule="evenodd"/>
<path d="M-1.5,-2.0L124.5,-2.0 124.5,22.9 107.0,20.9 100.5,19.3 98.0,17.2 93.4,8.0 89.3,3.0 86.0,0.7 83.0,-0.6 80.0,-1.4 77.0,-1.2 73.5,-0.3 70.5,1.1 67.5,3.3 65.2,6.0 63.3,9.5 62.2,13.0 61.5,23.0 60.8,25.5 58.5,28.5 55.0,31.6 54.0,32.0 46.6,25.0 40.0,17.0 36.5,14.3 32.0,12.0 -2.0,12.0 -2.0,-2.0Z" fill="#d1ff26" fill-rule="evenodd"/>
</g>
<line x1="30.55" y1="0" x2="30.55" y2="91.0" stroke="#000" stroke-width="0.50" stroke-dasharray="0.6 1.4"/>
<line x1="61.10" y1="0" x2="61.10" y2="91.0" stroke="#000" stroke-width="0.50" stroke-dasharray="0.6 1.4"/>
<line x1="91.65" y1="0" x2="91.65" y2="91.0" stroke="#000" stroke-width="0.50" stroke-dasharray="0.6 1.4"/>
<line x1="0" y1="30.33" x2="122.2" y2="30.33" stroke="#000" stroke-width="0.50" stroke-dasharray="0.6 1.4"/>
<line x1="0" y1="60.67" x2="122.2" y2="60.67" stroke="#000" stroke-width="0.50" stroke-dasharray="0.6 1.4"/>
<polygon points="9.8,92.0 11.1,90.6 17.3,86.7 21.6,83.2 24.7,80.1 26.8,78.8 30.3,77.1 33.8,74.9 37.3,73.2 39.9,70.1 40.8,67.5 39.1,65.7 40.8,64.4 45.4,62.0 50.2,60.8 56.2,59.6 60.8,57.5 64.6,55.8 71.8,55.4 76.5,55.5 79.0,56.2 77.2,58.0 79.6,60.4 83.8,62.2 87.4,61.6 92.2,59.4 98.2,59.0 105.4,59.4 112.6,59.4 124.0,59.0 124.0,92.0" fill="#f4a460"/>
<polygon points="53.4,65.1 54.7,64.1 57.3,63.5 60.0,63.1 62.6,63.3 63.6,64.1 61.9,65.1 59.3,65.7 56.7,66.7 54.7,67.1 53.5,66.4" fill="#6495ed"/>
<polygon points="69.5,60.5 70.4,59.5 72.4,59.2 74.0,60.2 75.0,61.8 77.0,63.5 79.6,64.8 80.6,66.1 79.6,66.7 77.0,65.7 74.4,64.8 71.1,64.8 69.8,64.1 69.1,62.5" fill="#6495ed"/>
<polygon points="72.1,12.4 73.7,10.7 75.8,9.7 77.9,9.4 80.2,10.0 82.6,11.4 84.2,13.1 84.6,15.4 83.6,17.8 81.9,19.1 79.9,20.1 77.9,20.4 75.8,19.8 73.7,18.4 72.4,16.7 71.7,14.4" fill="#f4a460" stroke="#5a3a20" stroke-width="0.5"/>
<polygon points="58.3,24.8 59.6,23.1 61.6,22.5 63.3,23.1 62.7,24.5 61.6,25.5 63.0,26.5 62.3,27.8 60.3,27.5 59.0,26.5" fill="#f4a460" stroke="#5a3a20" stroke-width="0.5"/>
<polygon points="64.3,22.1 66.3,21.6 68.0,22.8 69.0,24.5 69.7,26.1 68.4,27.5 66.7,28.2 65.7,26.8 66.3,25.5 65.3,24.1 64.3,23.5" fill="#f4a460" stroke="#5a3a20" stroke-width="0.5"/>
<polygon points="61.0,28.2 63.0,27.8 64.3,28.8 63.7,30.0 61.6,30.0" fill="#f4a460" stroke="#5a3a20" stroke-width="0.5"/>
<line x1="17.8" y1="10.6" x2="11.2" y2="10.3" stroke="#000" stroke-width="1.1"/>
<polygon points="8.6,10.2 11.3,9.0 11.2,11.6" fill="#000"/>
<line x1="44.3" y1="14.1" x2="37.4" y2="13.6" stroke="#000" stroke-width="1.1"/>
<polygon points="34.9,13.4 37.5,12.3 37.4,14.9" fill="#000"/>
<line x1="13.4" y1="32.7" x2="7.8" y2="32.1" stroke="#000" stroke-width="1.1"/>
<polygon points="5.2,31.8 7.9,30.8 7.7,33.4" fill="#000"/>
<line x1="39.9" y1="35.8" x2="33.0" y2="35.7" stroke="#000" stroke-width="1.1"/>
<polygon points="30.4,35.6 33.1,34.4 33.0,37.0" fill="#000"/>
<line x1="71.9" y1="17.2" x2="66.4" y2="17.7" stroke="#000" stroke-width="1.1"/>
<polygon points="63.8,17.9 66.3,16.4 66.5,19.0" fill="#000"/>
<line x1="97.9" y1="21.3" x2="90.3" y2="22.4" stroke="#000" stroke-width="1.1"/>
<polygon points="87.7,22.8 90.1,21.1 90.5,23.7" fill="#000"/>
<line x1="121.8" y1="26.4" x2="118.0" y2="27.1" stroke="#000" stroke-width="1.1"/>
<polygon points="115.5,27.6 117.8,25.8 118.3,28.4" fill="#000"/>
<line x1="66.3" y1="39.3" x2="60.8" y2="39.5" stroke="#000" stroke-width="1.1"/>
<polygon points="58.2,39.6 60.7,38.2 60.8,40.8" fill="#000"/>
<line x1="8.3" y1="54.1" x2="5.2" y2="53.0" stroke="#000" stroke-width="1.1"/>
<polygon points="2.7,52.1 5.6,51.7 4.7,54.2" fill="#000"/>
<line x1="34.9" y1="57.9" x2="32.2" y2="57.1" stroke="#000" stroke-width="1.1"/>
<polygon points="29.7,56.3 32.6,55.8 31.8,58.3" fill="#000"/>
<line x1="5.0" y1="75.6" x2="4.0" y2="75.7" stroke="#000" stroke-width="1.1"/>
<polygon points="1.4,75.8 3.9,74.4 4.1,77.0" fill="#000"/>
<line x1="93.2" y1="43.3" x2="87.1" y2="44.0" stroke="#000" stroke-width="1.1"/>
<polygon points="84.5,44.3 87.0,42.7 87.3,45.3" fill="#000"/>
<line x1="119.3" y1="47.1" x2="113.9" y2="48.2" stroke="#000" stroke-width="1.1"/>
<polygon points="111.4,48.7 113.7,46.9 114.2,49.5" fill="#000"/>
<line x1="97.2" y1="0.0" x2="94.7" y2="0.2" stroke="#000" stroke-width="1.1"/>
<polygon points="92.2,0.4 94.6,-1.1 94.8,1.5" fill="#000"/>
<rect x="0" y="0" width="122.2" height="91.0" fill="none" stroke="#333" stroke-width="0.70"/>
</g></g>
<text x="455.5" y="8.5" font-size="7.70" text-anchor="middle" fill="#262626" stroke="#262626" stroke-width="0.18">(c) ECMWF Wind</text>
<text x="393.5" y="13.9" font-size="6.10" text-anchor="end" fill="#262626" stroke="#262626" stroke-width="0.18">36.5°N</text>
<text x="393.5" y="44.2" font-size="6.10" text-anchor="end" fill="#262626" stroke="#262626" stroke-width="0.18">36°N</text>
<text x="393.5" y="74.6" font-size="6.10" text-anchor="end" fill="#262626" stroke="#262626" stroke-width="0.18">35.5°N</text>
<text x="393.5" y="104.9" font-size="6.10" text-anchor="end" fill="#262626" stroke="#262626" stroke-width="0.18">35°N</text>
<text x="394.5" y="108.6" font-size="6.10" text-anchor="middle" fill="#262626" stroke="#262626" stroke-width="0.18">132°E</text>
<text x="425.0" y="108.6" font-size="6.10" text-anchor="middle" fill="#262626" stroke="#262626" stroke-width="0.18">132.5°E</text>
<text x="455.5" y="108.6" font-size="6.10" text-anchor="middle" fill="#262626" stroke="#262626" stroke-width="0.18">133°E</text>
<text x="486.0" y="108.6" font-size="6.10" text-anchor="middle" fill="#262626" stroke="#262626" stroke-width="0.18">133.5°E</text>
<text x="516.5" y="108.6" font-size="6.10" text-anchor="middle" fill="#262626" stroke="#262626" stroke-width="0.18">134°E</text>
<rect x="520.8" y="12.0" width="6.0" height="91.0" fill="url(#gj520)" stroke="#333" stroke-width="0.6"/>
<line x1="526.8" y1="103.0" x2="528.3" y2="103.0" stroke="#333" stroke-width="0.5"/>
<text x="530.3" y="104.5" font-size="4.20" text-anchor="start" fill="#262626" stroke="#262626" stroke-width="0.18">0</text>
<line x1="526.8" y1="90.3" x2="528.3" y2="90.3" stroke="#333" stroke-width="0.5"/>
<text x="530.3" y="91.8" font-size="4.20" text-anchor="start" fill="#262626" stroke="#262626" stroke-width="0.18">2</text>
<line x1="526.8" y1="77.5" x2="528.3" y2="77.5" stroke="#333" stroke-width="0.5"/>
<text x="530.3" y="79.0" font-size="4.20" text-anchor="start" fill="#262626" stroke="#262626" stroke-width="0.18">4</text>
<line x1="526.8" y1="64.8" x2="528.3" y2="64.8" stroke="#333" stroke-width="0.5"/>
<text x="530.3" y="66.3" font-size="4.20" text-anchor="start" fill="#262626" stroke="#262626" stroke-width="0.18">6</text>
<line x1="526.8" y1="52.1" x2="528.3" y2="52.1" stroke="#333" stroke-width="0.5"/>
<text x="530.3" y="53.6" font-size="4.20" text-anchor="start" fill="#262626" stroke="#262626" stroke-width="0.18">8</text>
<line x1="526.8" y1="39.4" x2="528.3" y2="39.4" stroke="#333" stroke-width="0.5"/>
<text x="530.3" y="40.9" font-size="4.20" text-anchor="start" fill="#262626" stroke="#262626" stroke-width="0.18">10</text>
<line x1="526.8" y1="26.6" x2="528.3" y2="26.6" stroke="#333" stroke-width="0.5"/>
<text x="530.3" y="28.1" font-size="4.20" text-anchor="start" fill="#262626" stroke="#262626" stroke-width="0.18">12</text>
<line x1="526.8" y1="13.9" x2="528.3" y2="13.9" stroke="#333" stroke-width="0.5"/>
<text x="530.3" y="15.4" font-size="4.20" text-anchor="start" fill="#262626" stroke="#262626" stroke-width="0.18">14</text>
<text transform="translate(548.3 58.5) rotate(-90)" font-size="4.50" text-anchor="middle" fill="#262626" stroke="#262626" stroke-width="0.15">Wind Speed (m/s)</text>
<g transform="translate(24.20 132.00) scale(1.0000 1.0000)"><g clip-path="url(#clipframe)">
<rect x="0" y="0" width="122.2" height="91.0" fill="#fff"/>
<line x1="30.55" y1="0" x2="30.55" y2="91.0" stroke="#000" stroke-width="0.50" stroke-dasharray="0.6 1.4"/>
<line x1="61.10" y1="0" x2="61.10" y2="91.0" stroke="#000" stroke-width="0.50" stroke-dasharray="0.6 1.4"/>
<line x1="91.65" y1="0" x2="91.65" y2="91.0" stroke="#000" stroke-width="0.50" stroke-dasharray="0.6 1.4"/>
<line x1="0" y1="30.33" x2="122.2" y2="30.33" stroke="#000" stroke-width="0.50" stroke-dasharray="0.6 1.4"/>
<line x1="0" y1="60.67" x2="122.2" y2="60.67" stroke="#000" stroke-width="0.50" stroke-dasharray="0.6 1.4"/>
<g clip-path="url(#clipswath)">
<rect x="-3" y="-3" width="128.2" height="97.0" fill="#000080"/>
<path d="M-1.5,-2.0L7.3,-2.0 7.0,-0.7 4.0,-1.1 3.0,1.0 1.0,0.1 0.0,-1.2 -1.0,-0.1 -2.0,0.1 -2.0,-2.0ZM12.0,-2.0L14.1,-2.0 13.9,-1.0 14.5,-0.5 19.5,0.6 19.8,1.5 18.6,2.5 17.9,4.5 16.5,5.7 14.7,6.0 16.5,8.5 17.8,9.5 18.2,10.5 18.0,11.4 17.0,11.5 16.2,12.5 16.5,13.1 18.0,13.3 19.0,14.0 21.5,13.7 22.5,14.0 23.4,15.0 22.9,16.0 24.0,16.8 24.6,16.5 23.7,15.5 24.5,15.0 25.6,12.5 26.5,12.0 28.0,12.1 28.3,12.5 27.9,14.5 28.5,14.8 32.5,15.1 32.8,14.0 31.2,11.0 32.0,10.5 33.0,10.7 33.5,9.4 34.0,9.2 36.0,12.2 38.0,11.8 43.1,12.5 43.2,13.5 42.6,14.5 40.1,15.5 41.5,16.7 43.0,16.7 44.0,14.9 45.0,15.6 45.5,15.4 46.0,13.5 44.3,11.0 45.0,6.0 44.8,5.5 43.5,4.6 42.0,6.1 40.0,7.2 39.5,7.0 38.0,4.2 37.0,4.8 36.9,4.5 37.0,3.4 38.1,2.0 38.0,0.5 39.0,-0.5 40.1,0.5 39.4,2.5 40.5,4.4 41.5,4.8 44.0,4.0 43.7,2.5 44.0,1.3 41.9,1.5 42.1,0.0 41.6,-2.0 43.1,-2.0 44.0,-0.0 45.9,0.0 46.5,0.7 48.5,-0.8 50.8,-0.5 50.2,1.5 47.9,2.5 49.0,4.0 48.9,4.5 46.7,5.5 46.3,6.5 46.7,9.5 47.7,11.5 49.0,13.0 50.5,12.6 52.5,13.5 54.0,13.0 54.5,12.0 54.2,11.5 52.4,11.0 48.9,7.0 52.6,6.5 53.1,5.0 55.0,4.6 56.3,6.0 54.8,7.5 58.5,9.5 59.5,12.8 60.0,12.7 62.0,10.4 62.0,8.4 64.0,8.2 66.3,5.5 67.2,2.0 68.3,0.0 67.2,-2.0 76.0,-2.0 75.0,-0.8 73.0,-0.3 71.0,-1.1 68.6,0.0 68.9,1.5 70.0,2.8 73.5,5.2 74.9,4.5 75.3,3.5 75.3,2.5 73.9,1.5 75.7,1.5 77.5,4.3 79.1,3.0 78.6,1.0 79.0,0.5 80.0,2.3 81.0,2.2 83.0,0.0 82.3,-2.0 85.5,-2.0 85.0,0.3 83.5,1.0 84.0,2.5 85.5,2.1 86.5,2.4 89.0,5.4 91.0,5.5 91.3,6.0 91.0,7.3 89.0,6.2 87.4,7.0 86.0,8.4 83.5,8.3 81.5,9.0 81.5,10.3 82.7,11.0 83.5,12.7 84.5,13.3 85.8,15.0 85.9,15.5 85.0,16.5 86.5,17.5 87.4,17.0 87.1,15.5 89.0,13.2 92.0,14.0 93.0,15.9 94.5,15.6 96.0,13.5 97.6,12.5 97.4,10.5 99.0,8.7 101.0,8.2 102.8,6.0 103.5,3.6 104.5,2.7 105.8,3.0 105.5,5.2 107.3,5.5 106.3,7.5 106.5,8.9 107.5,9.1 109.3,8.5 109.9,7.5 108.0,7.2 107.6,5.5 109.0,4.2 110.0,0.0 112.3,-0.5 112.1,-2.0 115.1,-2.0 115.1,0.0 116.5,1.0 114.0,1.0 112.9,3.0 111.8,4.0 111.2,6.0 111.2,6.5 112.5,6.7 113.5,5.1 115.2,6.0 115.0,6.5 113.4,7.0 113.2,7.5 114.4,8.0 114.5,8.5 113.2,11.0 111.4,12.0 113.0,15.7 114.0,15.8 114.5,14.5 115.5,13.8 117.5,16.7 120.5,16.0 119.8,14.0 117.9,13.0 116.5,12.9 115.9,11.5 120.0,7.4 122.5,6.4 123.6,7.5 123.5,8.1 122.0,8.8 120.8,11.5 121.0,12.0 122.5,11.3 123.5,12.0 123.3,13.5 122.2,14.5 122.2,16.5 122.5,17.4 124.0,18.2 124.5,19.6 123.0,21.0 120.4,19.5 119.7,21.0 120.0,22.1 121.0,22.6 123.0,22.7 124.5,21.7 124.5,24.0 123.5,26.0 124.0,26.5 124.5,25.9 124.5,35.1 122.5,36.3 118.6,35.5 119.4,37.5 118.6,38.0 119.5,39.0 119.5,41.4 121.3,42.5 121.3,43.0 119.8,44.0 120.7,45.5 120.6,47.0 121.0,48.1 122.0,48.5 123.0,46.5 122.8,45.5 124.4,43.5 123.9,41.5 123.1,40.5 124.0,38.5 124.5,38.2 124.5,49.0 122.5,48.9 121.8,50.5 121.0,51.0 115.0,47.9 114.0,48.1 112.0,49.6 110.0,47.9 109.5,50.2 106.5,49.6 106.1,50.0 106.0,53.3 104.5,53.4 104.0,53.0 103.5,51.1 99.0,50.3 97.5,53.0 98.0,55.0 97.0,55.7 96.0,53.9 95.0,53.8 95.1,57.0 92.8,58.5 95.0,61.2 95.5,59.7 96.8,60.5 96.0,63.0 91.4,66.5 91.8,68.0 90.5,71.7 89.5,71.6 89.1,71.0 89.4,67.0 90.4,65.5 90.2,64.0 92.1,63.5 92.0,63.0 91.5,62.1 90.0,61.6 89.9,61.0 91.6,59.0 91.0,57.0 91.1,55.5 94.0,53.5 93.0,52.6 90.0,54.1 87.5,52.8 86.5,51.4 83.0,53.6 81.8,51.0 83.0,49.3 85.0,49.3 85.5,48.5 86.5,48.1 86.5,45.6 85.5,46.2 84.0,45.4 82.0,45.5 79.0,43.9 77.5,45.2 75.5,45.9 73.5,44.4 71.6,47.5 68.5,48.0 69.0,50.5 68.5,51.6 66.0,49.8 65.0,50.7 61.4,52.0 61.4,53.5 62.5,55.2 64.5,55.4 65.3,56.0 65.1,56.5 63.8,57.0 63.5,58.6 63.0,58.7 62.4,58.0 62.3,57.0 63.0,56.5 59.0,56.1 58.0,57.9 57.5,58.0 55.0,56.3 53.0,56.0 51.0,56.5 49.5,54.3 46.2,55.5 49.6,58.0 49.0,59.4 47.0,60.4 46.0,60.2 43.5,57.4 42.5,58.0 42.0,57.8 41.0,56.3 40.0,57.7 38.5,57.9 37.1,57.0 38.5,54.1 39.5,53.8 41.0,55.2 41.6,55.0 40.7,54.0 40.8,52.5 38.5,50.0 38.5,48.9 37.5,48.4 37.0,49.2 34.5,48.7 34.2,49.0 34.2,49.5 36.4,52.0 36.2,52.5 34.5,52.4 33.0,53.1 32.5,53.0 31.7,50.0 31.0,49.5 29.6,50.5 29.9,52.5 29.5,53.2 28.0,52.5 26.9,53.0 27.0,54.7 29.5,53.8 32.0,54.5 31.9,58.5 29.0,60.5 28.0,60.5 29.0,58.9 29.0,57.1 27.1,56.5 26.5,55.5 25.7,56.0 25.0,57.3 22.5,57.0 22.0,57.4 20.8,59.5 23.0,62.3 25.1,62.0 25.0,63.0 26.0,64.0 26.5,63.0 25.8,61.5 26.5,60.5 27.0,61.0 27.2,62.5 30.0,63.7 31.5,64.9 34.0,65.1 35.5,66.5 37.2,66.0 39.5,63.7 41.5,63.5 42.7,64.5 42.8,66.5 40.1,68.5 40.2,69.5 39.6,71.0 41.8,73.0 41.6,76.5 41.0,76.4 40.6,77.0 42.0,79.5 42.4,82.5 43.8,84.0 43.7,84.5 43.0,84.6 38.5,84.1 38.1,83.5 38.2,82.5 39.5,81.9 40.2,81.0 40.2,80.5 38.1,78.5 39.6,76.5 38.4,74.5 37.5,70.0 37.0,69.3 34.5,68.5 32.7,69.0 32.0,70.0 32.8,72.5 32.4,75.0 34.0,75.9 35.5,74.6 36.5,74.8 37.6,76.0 37.5,77.4 34.0,76.9 35.1,79.0 34.7,80.5 34.0,81.1 33.4,81.0 31.9,78.0 30.4,76.5 30.9,74.5 30.5,73.5 31.1,72.0 30.5,71.4 29.5,71.3 29.2,74.0 27.5,75.5 26.7,77.0 26.7,79.5 27.7,81.0 26.5,80.5 25.5,82.5 22.5,83.0 21.9,81.0 22.5,80.6 23.7,81.0 23.1,79.0 23.8,78.0 23.9,75.5 26.5,72.7 24.7,70.5 24.9,70.0 28.0,70.4 28.7,69.5 27.0,67.7 24.0,66.9 22.0,65.6 20.5,65.6 18.4,67.5 18.5,68.3 20.5,68.9 22.0,67.7 23.0,67.6 24.0,69.5 23.0,70.1 22.0,73.0 20.0,74.1 19.0,77.7 17.5,77.5 16.5,76.0 14.5,76.5 13.0,74.8 11.0,74.7 10.5,76.5 9.0,78.4 7.5,79.2 6.3,77.5 8.0,76.5 8.0,75.6 7.4,75.0 6.0,75.0 4.5,74.3 3.5,76.2 1.5,77.6 1.0,77.5 0.9,77.0 2.4,76.0 1.7,74.5 2.5,73.6 6.0,73.1 7.5,73.6 9.5,73.1 11.0,73.7 12.0,73.3 12.5,71.8 13.6,71.0 11.5,69.3 11.0,67.6 9.2,68.5 9.3,69.5 8.7,70.0 7.5,70.0 7.0,69.0 4.5,70.1 2.5,72.0 1.5,72.2 1.0,71.5 0.7,68.0 -2.0,67.5 -2.0,66.0 -1.1,65.5 -0.7,64.5 -2.0,63.9 -2.0,62.5 -1.0,61.4 0.2,61.5 0.2,64.0 1.0,64.3 2.0,64.5 3.5,62.5 3.3,61.0 1.5,60.6 0.0,59.5 -2.0,59.7 -2.0,56.7 0.0,56.5 0.6,57.0 0.5,58.2 1.5,58.0 3.0,58.8 4.0,58.5 4.5,57.4 6.5,59.2 7.5,59.1 7.8,58.5 7.5,57.1 6.0,55.5 5.6,53.5 4.5,52.9 2.0,54.0 0.5,52.7 0.1,53.0 0.4,53.5 -0.1,54.5 -2.0,54.5 -2.0,50.4 0.5,52.5 2.5,50.0 6.0,50.8 6.6,50.5 7.0,49.5 5.5,47.6 3.0,47.5 1.0,46.0 -1.0,46.4 -2.0,47.5 -1.6,46.0 -2.0,45.8 -2.0,43.0 -1.0,43.0 -1.2,40.5 -0.7,39.5 -2.0,37.8 -2.0,31.7 -1.3,32.5 -1.1,34.5 1.0,39.4 1.6,39.0 2.0,37.4 4.0,38.3 4.3,39.0 3.0,41.3 1.0,41.1 -0.8,42.0 1.3,43.5 2.3,45.0 6.0,46.1 9.0,45.6 9.4,44.5 9.0,43.3 4.0,43.2 3.3,43.0 3.0,42.0 3.3,41.5 7.5,40.1 9.0,37.6 10.5,37.7 10.7,36.5 9.5,35.2 6.5,34.8 6.1,35.0 7.3,36.5 7.3,37.0 5.5,37.3 4.9,35.0 2.3,34.0 2.6,32.5 1.9,30.5 3.5,29.1 4.5,29.2 5.3,30.5 3.9,32.0 5.0,33.2 5.7,31.5 7.0,30.8 7.7,31.5 7.3,33.0 12.5,33.8 14.0,35.0 14.3,34.5 11.8,31.0 12.5,30.4 12.8,29.0 11.1,27.5 11.7,24.5 10.3,23.5 10.4,23.0 11.5,22.7 11.6,21.0 10.7,20.0 10.8,19.0 10.1,17.0 11.0,15.5 14.2,14.5 14.3,13.5 15.8,12.5 15.9,12.0 14.0,11.6 13.5,11.0 13.5,7.5 13.0,7.3 11.5,8.2 9.0,8.3 8.7,7.5 9.5,5.5 8.5,4.1 7.0,3.9 5.0,5.1 4.1,4.5 5.0,2.9 6.5,2.7 8.0,1.8 12.5,2.9 14.0,4.2 15.8,3.5 16.0,2.4 12.5,0.0 11.9,-2.0ZM79.2,3.5L78.7,5.0 77.5,6.0 74.5,6.1 74.7,8.0 74.0,8.6 73.0,8.4 72.0,7.0 71.0,7.0 69.5,4.2 68.1,4.5 67.2,5.5 69.0,7.0 68.1,9.0 68.5,9.5 69.5,8.9 71.0,9.9 71.4,11.5 73.3,12.5 74.8,14.5 78.0,14.1 79.4,15.0 80.0,16.0 81.5,15.5 82.0,15.0 81.3,12.0 78.5,11.0 78.2,10.0 78.5,9.0 80.3,8.0 80.1,7.0 80.5,6.1 83.2,6.0 82.7,5.0 81.0,4.6 79.5,3.2ZM84.6,4.5L84.7,5.5 85.5,5.5 85.6,4.5 85.0,4.2ZM102.9,9.5L102.0,10.0 100.5,11.9 100.9,13.5 100.6,15.5 101.5,16.4 105.0,16.9 105.5,16.5 105.4,14.5 103.2,12.5 104.1,10.5 103.0,9.5ZM55.4,10.5L55.9,10.5 55.5,10.0ZM107.8,12.0L106.7,13.0 106.6,14.0 107.5,15.6 108.5,16.3 109.5,16.2 110.7,15.0 110.8,13.5 109.9,12.0 108.0,11.8ZM57.1,13.5L56.3,14.5 56.5,15.9 58.1,14.0 57.5,13.4ZM49.8,14.5L50.5,15.4 50.7,14.5 50.0,14.3ZM63.4,14.5L64.0,15.4 64.4,15.0 64.0,14.2 63.5,14.3ZM50.3,16.0L47.9,17.5 47.9,19.0 49.0,20.8 50.0,21.5 51.3,20.0 50.9,18.0 51.5,16.5 50.5,15.6ZM83.3,16.0L83.5,16.6 85.0,16.5 83.5,15.8ZM29.4,17.5L27.8,18.5 29.7,18.5 29.5,17.4ZM66.9,17.5L66.1,18.5 66.5,18.9 67.5,18.6 67.5,17.6 67.0,17.4ZM12.9,19.0L13.0,19.6 13.0,19.0ZM109.3,22.0L110.0,22.6 111.3,22.5 111.7,22.0 109.5,21.7ZM116.1,22.5L116.0,27.1 114.5,27.3 112.5,29.1 111.0,28.9 109.2,30.5 113.5,31.3 114.7,29.5 116.0,28.6 117.2,28.5 116.9,27.5 117.4,25.5 117.1,23.0 116.5,22.4ZM28.5,23.0L28.5,24.5 27.7,26.0 28.5,27.2 29.5,27.5 30.0,26.0 31.5,24.5 28.5,23.0ZM52.4,23.5L53.1,24.5 53.2,23.5 53.0,23.2 52.5,23.4ZM74.9,25.5L74.5,26.5 75.0,27.1 75.0,25.4ZM121.5,26.5L120.6,29.5 122.0,29.6 122.3,26.5 121.5,26.5ZM46.2,28.0L45.9,28.5 47.5,28.9 48.0,28.0 47.5,27.6 46.5,27.9ZM71.4,28.0L69.9,29.5 71.7,30.0 72.0,28.0 71.5,27.9ZM117.0,32.0L116.2,32.5 117.0,33.6 117.5,33.5 117.5,31.5ZM28.7,32.5L27.6,35.5 28.5,35.9 30.3,33.5 29.0,32.4ZM73.7,33.5L71.6,35.5 71.5,36.7 74.0,37.4 76.0,37.4 76.7,35.5 78.0,34.5 77.0,33.9 76.0,34.5 75.5,33.4 74.0,33.4ZM31.7,34.0L32.5,34.0 32.0,33.8ZM92.0,34.0L91.8,37.0 89.9,38.0 90.5,38.7 93.0,38.7 92.7,36.5 93.0,35.5 94.0,34.7 95.7,34.5 95.5,33.9 94.0,34.3 92.5,33.7 92.0,34.0ZM81.5,34.5L80.5,35.7 79.0,35.8 78.3,37.0 78.0,38.0 79.5,39.5 80.5,38.8 81.3,36.5 82.6,35.5 82.6,34.5 82.0,34.4ZM108.5,34.5L109.2,35.5 111.0,35.9 111.5,36.5 111.2,39.5 112.5,39.3 112.5,35.0 109.0,34.1ZM84.0,36.5L83.5,38.0 84.5,38.8 85.5,38.7 85.4,36.5 84.0,36.5ZM116.9,37.0L115.0,37.3 114.4,38.5 114.5,39.0 116.5,39.2 118.4,38.0 118.0,36.7 117.0,37.0ZM106.0,37.5L106.3,38.5 107.1,38.5 107.0,37.4 106.5,37.1 106.0,37.4ZM10.3,39.0L10.3,41.0 11.5,42.2 12.4,41.5 11.5,39.2 10.5,38.7ZM72.2,39.0L71.9,41.0 73.0,42.1 73.4,42.0 74.2,40.5 73.3,39.0 72.5,38.8ZM77.9,40.5L77.0,42.0 77.5,42.8 78.5,42.9 81.0,41.7 81.0,40.8 80.0,40.1 78.0,40.4ZM84.5,40.5L84.0,41.0 83.7,42.5 84.5,43.7 85.9,44.0 86.5,45.4 86.9,44.5 86.5,42.5 85.5,40.4 84.5,40.5ZM96.9,41.5L97.5,41.7 97.0,41.5ZM7.6,42.0L8.5,43.0 9.4,42.0 8.0,41.8ZM89.4,43.0L88.5,45.0 90.5,44.5 90.8,43.5 90.5,43.0 89.5,42.9ZM116.4,43.0L114.4,45.0 115.0,46.4 116.0,47.0 116.5,47.1 119.9,45.0 117.5,42.7 116.5,42.9ZM102.5,45.5L101.2,47.0 101.5,47.2 104.0,46.8 105.2,46.0 105.3,45.5 104.5,45.2 102.5,45.4ZM90.6,46.0L90.5,47.2 91.0,47.6 91.8,47.5 91.9,46.5 91.0,45.8ZM94.0,47.0L93.8,47.5 94.5,49.4 96.0,50.4 96.2,50.0 94.7,49.0 95.2,47.5 94.5,46.8ZM106.7,47.0L108.2,47.0 107.0,46.7ZM18.3,48.0L17.8,49.5 18.5,49.8 19.4,49.5 19.4,48.0 19.0,47.5 18.5,47.8ZM21.8,50.0L21.1,50.5 21.1,51.0 22.0,52.6 22.9,51.5 23.0,50.5 22.0,50.0ZM53.3,51.0L52.1,52.5 53.5,53.2 54.5,51.5 54.0,50.8 53.5,50.9ZM9.4,52.5L9.0,54.0 9.7,54.0 9.5,52.3ZM55.7,53.5L55.3,54.0 55.5,54.8 58.0,55.3 59.0,56.0 59.5,55.7 59.5,54.4 57.5,54.8 56.5,53.1 56.0,53.3ZM43.4,55.5L43.5,56.9 44.0,56.5 44.4,55.5 43.5,55.4ZM6.4,64.5L5.6,65.0 6.0,66.1 7.3,64.5 6.5,64.5ZM2.6,66.5L2.3,67.5 4.0,68.2 4.6,67.0 4.4,66.5 3.0,66.1ZM13.3,67.0L14.0,67.4 14.1,67.0 13.5,66.9ZM39.4,68.5L39.9,68.5 39.5,68.4ZM16.3,70.0L16.0,71.5 14.7,72.0 15.0,74.1 16.3,73.5 16.9,72.5 18.5,72.0 19.0,71.2 19.0,70.3 16.5,69.7ZM23.8,81.5L24.0,82.0 24.0,81.2ZM19.0,-2.0L23.4,-2.0 24.1,-0.5 26.6,-0.5 27.5,0.5 26.3,2.5 26.0,5.0 28.5,6.2 29.4,9.0 26.0,9.4 25.0,7.4 22.0,5.8 22.5,7.6 24.0,7.4 24.2,8.0 23.8,11.5 22.5,12.2 21.5,11.8 20.4,10.5 19.7,6.5 21.5,3.2 23.0,2.9 23.4,0.0 21.5,-1.9 20.0,-0.3 19.5,-0.3 18.6,-2.0ZM28.0,-2.0L33.5,-2.0 32.5,-1.0 31.5,-0.7 30.0,-1.2 29.0,-0.4 28.1,-1.0 27.7,-2.0ZM54.0,-2.0L57.8,-2.0 58.2,-0.5 57.4,1.5 57.7,2.5 56.5,2.9 54.3,0.5 54.7,-1.0 54.0,-2.0ZM61.5,-2.0L65.9,-2.0 64.0,-0.4 62.0,-1.3 61.4,-2.0ZM79.0,-2.0L81.2,-2.0 80.0,-1.0 79.0,-1.3 78.6,-2.0ZM87.5,-2.0L89.5,-2.0 88.5,-1.3 87.3,-2.0ZM93.0,-2.0L98.1,-2.0 98.5,-0.9 100.1,0.5 99.5,1.9 97.1,3.0 97.3,4.0 96.7,5.0 94.7,6.0 95.3,7.5 94.5,9.0 92.5,8.0 93.3,6.0 94.2,5.5 92.7,2.5 94.5,2.0 95.4,0.0 95.0,-0.8 93.3,-1.0 92.6,-2.0ZM101.5,-2.0L108.0,-2.0 107.5,-1.4 106.5,-1.4 105.5,-0.7 104.0,-0.9 102.0,-0.3 101.0,-2.0ZM121.5,-2.0L123.0,-1.4 124.5,-2.0 124.5,1.8 122.5,1.8 122.5,4.0 120.5,5.3 116.0,6.5 115.7,5.5 117.0,3.6 120.0,3.8 120.9,3.0 121.1,-2.0ZM7.5,-0.6L7.5,-0.2 7.3,-0.5ZM35.5,-0.6L37.0,0.0 37.3,1.0 36.5,1.4 35.1,0.5 34.9,0.0 35.3,-0.5ZM106.0,-0.3L106.9,0.5 106.7,1.5 106.0,1.8 105.7,1.5 105.7,0.0ZM89.0,0.3L90.0,0.5 90.5,1.5 89.5,2.9 88.5,2.8 88.0,2.0 88.7,0.5ZM118.0,0.3L118.5,0.0 118.9,0.5 118.0,0.8 117.7,0.5ZM31.5,0.7L34.7,1.5 34.9,2.5 34.0,4.9 32.5,5.1 31.0,6.4 29.5,5.7 29.4,4.5 30.0,3.6 32.1,4.0 31.9,2.0 31.1,1.0ZM61.0,0.8L61.7,1.0 61.5,2.6 60.2,2.0 60.7,1.0ZM52.5,1.3L53.5,1.4 53.2,2.0 52.5,2.2 52.3,1.5ZM63.0,2.2L64.1,2.5 64.6,5.0 62.0,7.3 60.0,7.0 58.8,5.0 59.5,3.9 62.0,4.0 62.6,2.5ZM124.5,3.7L124.5,5.5 124.0,5.0 124.2,4.0ZM1.0,4.1L2.2,4.5 3.4,6.0 6.0,5.5 6.5,6.0 6.2,8.0 3.8,12.0 6.5,18.5 4.7,20.0 4.5,21.0 3.5,20.3 2.5,21.3 1.5,21.2 0.8,20.5 0.9,18.5 0.0,18.0 -1.9,19.0 -2.0,20.3 -2.0,15.7 1.5,14.8 2.5,11.5 2.2,11.0 2.5,9.2 2.0,8.4 -0.1,9.5 -0.5,7.5 -1.0,7.1 -2.0,7.3 -2.0,5.4 -0.5,6.3 0.5,4.5ZM2.9,17.0L2.0,18.1 2.5,18.5 4.0,18.3 4.3,17.5 3.0,17.0ZM38.5,8.4L38.6,9.0 38.4,8.5ZM87.5,8.7L91.0,8.6 91.4,9.5 91.0,10.8 90.5,11.2 87.2,9.0ZM0.5,11.7L0.9,12.0 0.5,12.3 0.4,12.0ZM10.5,11.9L11.0,11.5 11.7,12.0 10.5,12.8 10.4,12.0ZM124.5,16.8L124.5,17.5 124.1,17.0ZM5.0,20.9L6.5,22.5 8.0,22.7 8.7,23.5 9.2,26.5 8.5,29.3 8.0,28.6 8.2,27.5 7.5,26.8 5.5,27.0 3.5,26.0 3.2,25.0 5.8,23.0 4.3,22.0 4.8,21.5 4.6,21.0ZM0.5,23.9L2.5,23.8 3.0,24.5 -2.0,31.3 -2.0,25.1 0.0,24.0ZM74.0,34.5L74.5,34.6 74.5,35.2 73.9,35.0 74.0,34.5ZM80.0,46.5L82.0,46.2 82.5,47.0 81.9,48.0 80.3,49.0 80.8,51.0 79.5,52.5 78.0,51.7 75.5,52.3 74.1,50.0 73.2,49.5 73.1,48.5 74.5,47.0 76.0,48.9 77.0,49.1 79.5,47.9 80.0,46.5ZM30.5,52.0L31.1,52.0 31.0,52.5 30.5,52.7 30.4,52.0ZM69.0,51.9L70.0,52.5 71.5,51.7 71.8,52.5 71.5,53.2 70.5,53.1 69.9,54.5 68.1,55.5 67.3,56.5 68.0,57.0 68.0,58.0 69.5,58.5 70.2,60.0 73.5,60.9 74.1,60.0 73.3,58.5 74.5,57.7 75.2,58.5 75.2,60.5 74.0,62.5 72.0,63.8 71.5,66.1 70.5,66.2 69.0,64.2 67.5,64.4 65.5,63.9 64.5,65.5 63.1,64.5 64.5,63.1 65.0,61.7 66.5,61.0 67.3,58.5 67.0,57.0 65.7,56.0 65.5,55.0 63.4,53.5 63.6,53.0 65.5,52.1 66.5,52.2 67.2,53.0 67.5,54.6 68.9,52.0ZM117.0,52.3L120.0,53.0 120.7,54.0 120.5,54.5 118.0,56.8 117.0,56.9 116.0,54.5 116.8,52.5ZM78.5,52.9L79.0,52.6 81.0,55.9 82.4,56.5 78.5,57.8 78.0,58.4 77.5,58.5 76.1,57.0 76.1,56.5 77.5,55.5 77.0,53.5 78.1,53.0ZM109.0,52.9L109.7,54.0 111.0,53.4 114.1,54.0 112.5,55.8 110.5,57.1 109.5,59.0 108.0,59.2 106.5,57.8 106.0,58.2 105.8,59.0 106.5,59.8 108.5,60.5 110.2,62.0 109.9,63.0 108.5,64.6 107.0,64.0 106.7,62.0 106.0,61.4 104.6,63.0 103.0,63.5 102.4,63.0 102.0,60.8 101.5,60.5 100.0,60.7 98.5,62.3 97.5,61.9 97.1,60.5 99.6,58.0 99.5,56.0 100.5,56.4 100.9,58.0 102.5,58.5 104.5,56.0 106.3,56.0 106.8,54.5 108.0,54.5 108.8,53.0ZM85.5,53.4L86.0,53.0 86.6,53.5 86.3,57.0 86.9,59.0 84.5,61.1 84.0,60.0 80.8,59.5 81.3,61.5 82.9,63.0 82.5,63.8 81.1,64.5 81.0,65.3 82.5,64.1 85.0,63.8 87.9,66.0 88.2,68.0 87.0,68.7 85.5,68.3 84.6,71.0 83.0,71.7 82.0,71.1 81.7,69.5 83.9,68.0 83.9,67.5 81.0,66.1 79.9,68.0 81.1,70.5 80.5,71.7 79.3,70.5 79.4,69.0 77.6,67.0 78.3,65.0 76.6,62.0 76.9,61.0 77.7,60.5 78.0,59.3 81.0,58.8 83.8,57.5 84.5,56.5 84.4,54.5 85.4,53.5ZM124.0,54.5L124.5,54.1 124.5,60.2 122.9,61.0 122.1,62.0 122.8,63.0 123.0,64.9 124.5,65.6 124.5,67.0 123.0,67.6 122.4,68.5 123.5,70.1 124.5,70.5 124.5,71.7 121.5,71.6 119.8,74.0 119.7,75.0 120.7,76.0 121.0,77.5 120.5,78.8 118.5,78.8 117.7,80.0 117.3,85.5 117.5,86.1 118.5,84.7 121.5,84.4 123.5,81.3 124.5,80.9 124.5,86.8 121.0,86.9 119.0,87.9 117.0,87.3 116.1,88.0 117.2,89.5 117.0,90.6 116.0,90.4 115.0,89.5 116.0,88.0 114.2,86.0 114.9,84.5 114.0,83.5 113.9,82.5 114.5,81.7 115.5,81.8 117.1,80.0 117.3,77.5 116.7,75.5 115.8,74.5 116.3,72.5 117.3,71.0 120.0,69.0 119.9,68.0 120.8,66.5 120.0,64.9 118.0,65.5 116.5,64.0 114.5,64.0 113.4,62.5 111.6,61.5 112.0,60.5 113.0,60.1 114.5,61.6 116.5,61.7 117.5,63.4 119.5,64.0 120.0,63.5 120.0,61.9 121.1,61.0 121.7,59.0 122.7,58.0 122.9,55.5 124.0,54.5ZM2.0,54.6L2.5,55.5 2.3,56.0 1.8,56.0 1.7,55.0ZM71.0,55.0L71.0,56.0 70.0,56.9 69.0,56.6 68.9,56.0 69.5,55.2 70.8,55.0ZM73.5,54.8L74.0,54.5 74.1,55.0 74.0,55.3 73.5,55.0ZM89.5,55.3L90.0,56.6 89.2,56.5 89.3,55.5ZM3.0,55.9L3.5,56.1 2.7,56.0ZM35.5,57.0L36.5,56.5 36.8,57.0 36.3,57.5 36.2,59.5 35.4,60.5 37.3,61.0 37.8,61.5 37.6,62.5 34.0,62.7 32.0,61.0 32.5,59.4 33.0,58.9 34.0,59.0 35.5,57.0ZM89.0,58.1L89.3,58.5 89.0,59.0 88.9,58.5ZM53.0,58.8L55.2,61.0 56.0,63.8 56.5,61.6 57.7,62.0 57.5,64.1 58.6,63.5 58.2,62.5 59.2,61.0 59.4,59.5 60.0,59.2 61.0,59.6 62.2,64.0 60.9,66.5 59.5,67.7 57.5,67.0 56.0,64.6 54.5,64.5 52.5,62.8 52.0,61.0 52.6,59.0ZM42.5,59.2L44.5,59.9 44.7,62.0 46.0,63.4 46.5,62.9 48.5,63.8 50.0,63.1 50.7,64.5 50.5,69.0 51.5,70.1 52.0,69.3 54.5,68.7 56.5,70.8 56.5,71.6 55.3,73.5 54.5,73.4 54.0,71.0 52.0,70.2 51.0,72.5 49.3,75.0 48.8,77.5 47.5,78.0 46.0,77.0 45.9,76.0 47.2,74.5 47.5,73.0 46.1,70.5 47.5,69.8 49.6,70.5 48.0,67.9 47.0,67.4 46.0,67.6 44.5,68.9 43.5,68.6 43.7,67.5 46.0,66.4 46.5,65.0 46.0,63.6 44.1,63.5 43.0,62.2 41.0,61.8 41.2,60.5 42.0,59.5ZM98.0,63.2L99.0,63.5 99.8,66.0 102.4,67.5 100.5,71.7 97.0,70.5 95.5,70.7 93.5,72.4 92.5,72.4 91.8,71.5 94.1,69.5 93.8,68.0 93.0,67.5 93.5,66.5 94.3,67.0 94.2,68.0 95.0,68.3 96.0,68.2 96.9,67.5 97.6,63.5ZM74.5,64.0L75.6,64.5 76.0,65.6 74.4,64.5 74.5,64.0ZM107.0,65.3L108.5,65.9 111.5,66.0 112.5,65.4 113.0,66.8 115.3,67.5 115.4,68.5 113.8,71.5 113.9,73.5 113.0,74.6 111.5,74.2 111.0,72.6 109.0,72.2 108.4,72.5 108.1,74.5 107.0,74.8 106.0,74.8 104.5,73.9 103.0,73.8 103.0,73.0 104.0,72.2 104.2,70.5 104.8,70.0 104.3,69.0 104.4,67.0 106.5,65.5ZM107.5,67.5L106.3,68.0 105.1,70.5 105.4,71.0 107.5,72.0 109.5,69.9 111.0,69.9 111.5,70.6 112.0,69.5 111.5,67.6 109.0,68.0 107.5,67.5ZM61.5,66.4L62.5,66.4 64.5,67.4 67.0,66.7 68.5,69.0 71.1,68.0 71.5,68.5 71.3,70.5 68.7,72.0 69.5,73.1 72.5,71.3 74.0,69.6 74.5,69.4 75.4,70.5 75.6,71.5 75.0,72.4 73.0,71.9 71.5,74.1 70.0,73.6 69.1,74.0 69.0,77.0 68.0,78.3 67.0,78.2 66.6,76.5 67.0,75.0 68.0,74.0 65.0,73.6 63.9,71.0 64.0,70.5 66.2,69.5 66.3,69.0 65.0,67.6 63.0,68.7 62.5,68.5 61.3,66.5ZM60.0,71.3L61.4,71.5 60.9,75.0 61.6,76.0 61.6,77.0 61.0,77.4 58.0,76.8 57.1,78.0 58.0,78.5 60.5,78.5 61.3,80.0 61.0,80.8 55.0,82.2 54.0,80.5 54.5,79.1 56.7,79.0 56.9,78.5 55.6,77.0 56.0,75.0 56.5,74.1 58.5,73.5 59.8,71.5ZM79.0,71.6L79.5,71.5 79.7,72.0 79.5,72.7 79.0,72.0ZM-1.9,72.5L-0.9,73.5 -0.6,75.5 -1.0,76.3 -2.0,76.4 -2.0,72.5ZM86.0,72.4L88.0,73.6 88.6,76.0 89.0,76.3 90.1,75.0 91.2,75.0 92.6,77.5 92.2,79.0 88.5,79.0 88.4,76.0 86.0,74.7 85.5,75.2 85.3,77.0 84.5,78.0 84.0,78.2 82.5,77.5 81.0,78.3 79.0,81.0 78.0,81.1 76.0,80.0 74.3,77.5 75.1,76.0 75.0,74.1 79.0,73.7 80.5,74.8 81.5,74.9 84.5,73.0 85.5,73.3 85.9,72.5ZM77.2,76.5L77.0,78.0 77.5,78.5 79.5,78.3 80.5,77.6 80.6,76.5 79.0,76.1 77.5,76.4ZM124.5,73.0L124.5,76.7 123.9,73.5 124.4,73.0ZM52.0,74.4L52.5,74.3 52.7,75.0 51.7,76.0 52.5,76.5 52.9,77.5 52.0,78.0 49.8,77.0 51.2,76.0 52.0,74.5ZM99.5,74.5L101.4,75.0 101.0,75.9 99.1,75.5 99.5,74.5ZM103.0,74.3L104.0,74.3 104.3,76.0 105.0,76.9 107.0,76.8 107.5,78.4 109.0,78.0 110.0,78.2 111.0,79.7 112.8,80.5 110.1,81.5 109.5,82.8 106.0,82.6 105.3,83.5 106.2,85.5 105.5,85.7 105.0,84.0 103.5,83.1 102.0,83.3 101.8,83.0 101.8,80.0 102.6,78.5 101.9,77.0 102.9,74.5ZM104.3,78.0L103.3,78.5 103.3,79.5 105.0,81.8 106.0,81.6 107.1,79.5 107.0,78.5 104.5,77.9ZM93.5,75.0L94.0,75.5 94.0,76.6 93.5,76.5 93.5,75.0ZM96.5,75.7L97.5,75.9 98.7,77.0 99.3,80.5 100.9,83.0 100.7,83.5 99.5,83.9 96.9,83.0 97.1,79.5 96.3,76.0ZM113.5,76.9L115.0,77.5 114.7,78.5 113.0,78.3 113.3,77.0ZM71.5,77.5L73.0,77.9 73.1,79.0 71.4,80.5 71.2,82.0 72.0,82.8 75.6,83.5 76.2,85.0 75.5,86.3 73.0,86.6 72.0,86.2 71.5,87.3 69.7,88.0 71.0,85.2 71.5,85.2 72.0,85.9 72.4,85.5 70.7,83.5 67.8,81.5 70.4,80.0 70.6,78.5 71.4,77.5ZM27.5,78.0L27.5,78.5 27.3,78.0ZM63.0,78.0L65.9,79.0 66.8,80.5 65.7,82.0 66.3,83.0 65.8,86.0 66.7,88.5 65.5,90.5 64.0,90.4 62.5,89.4 61.0,90.3 60.0,90.4 58.8,89.5 59.1,88.0 61.0,86.7 63.0,86.5 63.5,86.0 61.6,83.5 62.0,82.7 64.0,82.5 64.9,82.0 64.3,80.0 62.9,78.0ZM1.0,78.9L2.0,78.8 3.7,81.0 3.9,81.5 3.1,83.5 4.0,84.7 3.9,85.5 3.0,86.3 2.2,84.0 0.5,83.1 -1.9,85.0 0.4,87.0 -0.5,87.7 -2.0,87.9 -2.0,82.6 -0.2,82.5 0.9,79.0ZM9.5,79.2L12.0,79.2 13.9,81.0 13.0,83.8 12.0,83.9 10.5,83.1 9.0,83.5 7.5,82.8 6.4,81.5 6.4,80.5 9.1,79.5ZM48.5,79.3L49.2,79.5 49.7,80.5 48.1,83.0 49.2,85.0 48.0,87.3 46.5,87.7 45.1,86.0 45.7,84.0 47.4,82.5 46.5,82.0 44.5,82.8 43.8,81.0 44.5,79.9 47.5,80.6 48.3,79.5ZM86.0,79.5L86.8,79.5 87.0,80.0 86.0,81.1 85.3,80.5 85.9,79.5ZM93.5,80.4L94.2,81.0 94.0,82.4 93.0,81.5 93.4,80.5ZM87.0,81.4L88.5,81.9 89.5,81.3 91.0,81.8 92.5,81.7 92.9,82.0 92.7,84.0 93.4,85.0 95.0,85.8 97.0,85.3 97.5,86.0 97.0,88.2 96.0,88.1 95.0,87.2 93.0,86.5 91.0,89.0 94.0,91.0 94.2,91.5 93.4,93.0 91.4,93.0 90.5,90.2 89.9,90.0 88.0,89.8 87.1,90.5 88.6,93.0 85.9,93.0 83.0,90.9 81.5,88.9 80.5,89.1 79.0,90.4 78.3,90.0 79.0,87.0 78.4,85.0 77.4,84.0 78.0,83.0 79.0,82.6 81.8,82.5 82.5,87.6 83.3,85.5 84.5,85.3 85.5,86.0 84.2,88.0 84.8,89.0 86.0,89.3 87.5,88.2 89.5,86.0 88.5,84.5 86.3,85.0 86.0,83.5 86.8,81.5ZM17.0,82.0L18.0,81.8 19.5,83.2 22.0,83.7 22.4,85.0 21.7,86.5 23.0,87.5 22.5,88.0 21.5,87.8 18.5,85.1 17.5,86.8 16.0,86.2 15.1,85.0 16.9,83.5 17.0,82.0ZM34.5,81.7L36.0,82.1 36.0,83.3 34.5,83.2 33.9,82.5 34.0,82.0ZM28.5,82.4L30.0,82.2 32.5,83.1 33.5,84.1 34.3,87.0 33.2,87.5 32.0,89.5 30.4,89.5 31.0,90.1 33.7,90.5 33.2,91.5 34.1,93.0 30.7,93.0 30.0,90.5 29.0,89.1 27.5,88.1 26.5,88.1 25.0,89.4 24.2,89.0 27.0,86.6 27.5,86.4 28.5,87.3 30.8,86.0 30.8,85.5 30.0,85.1 27.5,85.2 28.4,82.5ZM6.5,83.7L8.0,84.6 9.5,84.5 12.5,85.7 12.7,86.5 11.9,88.5 11.0,88.7 8.0,86.2 6.5,85.6 6.1,84.0ZM52.5,83.9L53.5,83.5 55.0,83.9 57.2,87.0 56.1,90.0 56.3,93.0 53.6,93.0 53.8,90.5 53.0,89.7 51.5,89.5 50.0,90.0 48.2,89.5 48.5,88.8 51.0,89.0 52.5,88.0 55.6,88.0 55.5,86.2 53.0,86.8 52.1,86.0 51.8,85.0 52.4,84.0ZM37.5,84.9L38.5,84.8 38.0,86.0 37.5,86.0 37.4,85.0ZM102.5,84.9L103.4,86.5 103.0,88.6 102.0,89.2 99.5,89.3 98.8,91.0 98.0,91.5 97.0,91.5 96.5,90.5 100.0,86.4 102.1,85.0ZM111.0,85.3L112.6,85.5 113.0,86.0 112.5,86.7 111.0,86.6 110.7,85.5ZM14.5,87.4L15.0,87.2 16.1,88.0 15.5,89.4 14.5,89.8 14.2,89.5 14.3,87.5ZM42.0,88.5L42.5,88.0 44.0,88.9 45.5,88.8 46.8,90.0 47.0,91.3 50.0,91.2 52.0,92.3 52.3,93.0 45.3,93.0 45.3,92.0 43.5,90.5 42.1,91.0 42.0,92.8 41.5,93.0 40.5,92.7 36.8,93.0 38.1,90.5 39.5,90.2 42.0,88.5ZM110.0,88.4L111.0,88.3 113.9,90.0 114.4,93.0 107.6,93.0 108.5,92.1 109.8,92.0 108.8,90.5 109.1,89.0 109.8,88.5ZM18.5,88.7L20.5,88.7 21.5,89.7 23.0,89.2 23.4,89.5 23.2,91.5 24.1,92.0 24.2,93.0 19.2,93.0 20.3,92.0 20.6,90.5 18.5,91.8 18.0,90.5 18.1,89.0ZM122.0,89.4L123.0,89.3 123.5,90.6 124.5,91.1 124.5,93.0 120.5,93.0 121.0,90.5 121.9,89.5ZM0.0,90.4L1.1,90.5 2.5,91.7 4.5,90.6 6.5,90.6 7.2,91.5 6.9,93.0 -2.0,93.0 -2.0,92.1 -1.0,92.0 -0.3,90.5ZM10.5,90.4L12.0,90.4 14.5,91.4 15.3,93.0 12.5,93.0 12.0,91.9 11.0,91.6 9.9,93.0 8.5,93.0 9.0,91.1 10.2,90.5ZM69.5,90.2L73.5,90.2 75.5,91.7 76.5,90.9 78.0,91.7 79.0,91.2 82.3,92.5 82.5,93.0 69.5,93.0 68.7,91.0 69.1,90.5ZM26.0,90.9L26.7,91.0 27.2,92.0 28.5,92.2 29.4,93.0 27.1,93.0 27.0,92.2 25.9,91.0ZM106.0,90.9L107.0,91.0 107.4,91.5 107.0,92.0 106.0,92.0 105.8,91.0ZM99.5,91.1L102.0,91.1 103.4,93.0 98.6,93.0 99.0,91.5ZM62.0,92.4L65.5,92.2 66.6,93.0 61.7,93.0 61.9,92.5Z" fill="#0010ff" fill-rule="evenodd"/>
<path d="M0.5,-2.0L3.4,-2.0 2.7,-0.5 2.0,-0.1 1.0,-0.5 0.3,-2.0ZM5.0,-2.0L6.7,-2.0 5.5,-1.4 4.5,-2.0ZM12.5,-2.0L13.0,-2.0 13.0,-0.8 12.5,-0.9 12.3,-2.0ZM28.5,-2.0L30.3,-2.0 29.0,-1.5 28.4,-2.0ZM31.0,-2.0L33.2,-2.0 32.0,-1.3 30.8,-2.0ZM62.0,-2.0L64.9,-2.0 64.0,-1.2 61.9,-2.0ZM72.0,-2.0L75.0,-2.0 73.0,-0.9 71.6,-2.0ZM79.0,-2.0L80.9,-2.0 80.0,-1.2 78.9,-2.0ZM84.0,-2.0L84.7,-2.0 84.7,-1.5 84.0,-0.6 83.6,-1.0 83.7,-2.0ZM94.0,-2.0L97.7,-2.0 98.7,0.0 98.1,1.0 96.5,1.6 96.4,0.5 95.0,-1.7 93.9,-2.0ZM101.5,-2.0L105.9,-2.0 105.5,-1.5 102.5,-1.0 101.5,-2.0ZM113.0,-2.0L114.8,-2.0 113.5,-1.1 112.5,-2.0ZM124.5,-1.5L124.5,1.4 123.1,1.0 122.3,0.0 123.0,-1.0 124.3,-1.5ZM56.0,-1.2L57.0,-1.4 57.3,0.5 56.5,1.4 56.0,1.1 55.6,0.5 55.9,-1.0ZM25.0,-0.1L26.5,-0.2 27.1,0.5 26.5,1.7 25.5,2.4 25.0,2.4 24.0,1.0 24.6,0.0ZM36.0,-0.0L36.6,0.5 36.0,0.7 35.6,0.0ZM49.0,0.4L49.3,0.5 48.8,0.5ZM111.5,0.5L112.5,0.1 113.1,1.0 112.1,1.5 110.5,6.0 109.0,7.1 108.5,7.0 108.3,6.0 109.6,5.0 109.6,3.5 111.2,0.5ZM89.0,0.9L89.4,1.0 89.3,1.5 88.8,1.5 88.9,1.0ZM18.0,1.4L18.7,1.5 17.8,1.5ZM46.5,1.7L47.5,4.0 46.0,5.2 45.5,4.8 45.3,3.5 46.3,2.5 46.0,2.0ZM8.0,3.0L12.0,3.2 12.9,4.0 12.5,4.3 10.0,4.4 8.0,3.0ZM17.0,3.0L17.5,2.6 17.7,3.5 16.5,5.3 15.0,5.1 14.8,4.5 17.0,3.0ZM24.5,2.9L25.3,3.0 25.3,5.0 27.2,6.5 27.8,8.5 26.3,9.0 25.5,7.1 23.2,5.0 23.1,4.5 24.4,3.0ZM68.0,2.9L68.5,2.7 69.1,3.5 68.0,3.9 68.0,3.0ZM81.5,2.9L82.5,3.0 82.3,3.5 81.5,3.5 81.4,3.0ZM95.5,2.9L96.4,4.0 95.5,5.2 94.5,5.1 94.0,4.5 94.1,3.5 95.2,3.0ZM105.0,3.0L105.5,4.0 104.0,5.2 103.7,4.0 104.8,3.0ZM5.0,3.4L6.3,3.5 6.0,4.2 4.9,4.5 4.9,3.5ZM33.0,3.4L33.4,4.0 33.0,4.3 33.0,3.5ZM117.0,3.9L117.5,3.7 119.5,4.5 119.1,5.0 116.5,5.9 116.3,5.0 116.9,4.0ZM30.0,4.4L31.0,4.6 31.3,5.5 30.5,5.8 30.0,5.5 29.9,4.5ZM76.0,4.4L76.4,5.0 76.0,5.3 75.7,5.0 75.9,4.5ZM86.5,4.4L87.8,5.0 88.0,6.0 85.5,7.9 84.2,7.5 85.5,6.3 86.4,4.5ZM1.5,4.9L1.9,6.5 1.5,6.8 0.8,6.0 1.2,5.0ZM40.0,5.1L40.5,5.5 39.9,5.5ZM54.5,5.2L55.1,5.5 54.7,6.0 54.1,5.5ZM60.0,5.1L61.9,5.5 61.0,6.6 59.9,5.5ZM71.5,5.3L72.2,6.0 71.5,6.1 71.3,5.5ZM9.5,6.4L12.1,6.5 12.3,7.0 11.5,7.7 9.5,8.1 9.1,7.5 9.4,6.5ZM45.5,6.4L46.3,8.0 46.3,10.5 45.5,11.2 44.8,10.5 45.5,6.5ZM82.0,6.4L83.8,7.0 83.9,7.5 82.5,8.2 81.2,8.0 81.1,7.0 81.8,6.5ZM103.5,6.4L105.2,6.5 105.6,7.5 105.1,9.5 107.8,10.5 106.0,12.7 105.0,13.0 103.8,12.0 105.0,10.0 105.0,9.5 102.5,8.3 102.5,7.5 103.4,6.5ZM3.5,6.8L4.9,7.0 5.0,7.5 4.5,9.0 4.5,10.5 4.0,11.0 3.0,11.0 2.8,10.5 2.6,8.0 3.3,7.0ZM20.5,6.8L21.0,7.0 20.5,7.0ZM66.5,6.8L67.4,7.0 67.6,8.0 67.5,9.3 66.7,10.0 67.0,12.0 68.0,12.4 69.0,12.1 70.5,10.6 71.0,12.0 72.5,12.8 73.3,14.5 74.6,15.0 74.9,15.5 74.6,17.0 75.0,17.2 76.2,17.0 76.7,15.0 77.5,14.7 78.5,15.2 79.5,16.9 82.0,15.8 82.5,16.7 84.0,17.8 87.0,18.0 87.6,17.5 87.6,15.5 89.0,14.2 90.5,16.8 91.5,17.0 95.5,15.8 96.5,17.1 99.0,16.3 103.3,17.0 105.5,18.1 108.0,16.9 109.5,16.8 111.5,15.4 113.0,16.6 114.0,16.8 115.5,15.1 117.5,17.5 118.5,17.6 120.5,16.6 121.5,16.9 122.3,18.5 123.0,18.6 123.5,19.5 122.5,20.1 121.5,18.8 119.5,18.9 119.3,22.0 120.0,22.9 122.8,23.5 123.3,24.5 120.6,26.5 120.3,28.5 119.0,31.2 118.3,30.5 117.7,27.5 118.0,23.0 117.5,22.0 116.5,21.4 115.0,22.0 115.8,24.0 115.5,26.5 114.5,26.5 114.0,25.9 112.5,28.5 111.0,28.5 107.9,31.0 108.5,31.5 110.5,31.3 113.0,32.2 114.5,31.9 115.0,32.3 115.1,33.5 116.2,34.0 116.4,35.0 116.0,36.0 114.7,36.5 113.8,38.5 113.2,38.5 112.9,38.0 113.0,35.5 113.5,34.5 112.5,33.7 110.5,33.9 108.0,33.2 106.5,34.2 104.5,34.5 103.0,33.4 100.5,33.4 99.5,32.5 99.0,31.0 98.5,30.9 94.5,33.7 91.5,32.8 90.8,36.0 90.5,36.5 89.0,36.7 88.4,37.5 90.5,39.5 93.7,39.5 93.8,36.0 96.0,34.9 96.5,33.6 97.0,33.4 99.5,34.7 101.0,34.4 102.5,36.0 102.0,37.0 99.5,37.0 99.3,37.5 100.4,39.5 100.1,40.5 99.5,40.9 94.5,40.1 94.9,43.0 93.0,45.7 92.2,45.0 91.0,42.3 89.0,42.2 88.0,43.4 87.5,43.3 86.3,41.0 86.2,36.5 83.5,35.5 83.5,34.2 81.5,33.8 80.5,33.0 76.5,33.2 75.5,32.6 73.5,32.6 70.5,35.2 70.4,36.5 71.0,37.4 73.4,37.5 75.5,39.8 77.0,39.1 76.8,41.0 75.5,42.9 75.0,42.9 74.5,42.0 74.9,40.5 73.8,39.0 73.0,38.3 71.7,38.5 71.1,40.5 73.1,43.5 72.5,45.1 72.0,45.9 70.0,46.9 69.0,46.9 68.5,46.0 67.8,47.5 68.5,50.7 67.5,50.7 66.5,49.0 66.0,49.1 61.0,51.9 60.8,53.0 62.0,55.5 61.3,56.0 60.3,56.0 59.5,53.8 58.0,54.5 57.2,54.0 57.0,53.0 56.5,52.8 55.0,53.3 54.9,51.5 54.0,48.5 53.6,50.0 51.5,52.0 51.0,52.1 50.0,51.0 48.5,52.0 49.5,53.0 48.8,54.0 47.5,54.2 46.5,53.8 43.5,54.7 41.5,54.4 40.9,53.5 41.7,52.0 40.0,51.2 39.1,50.0 39.5,45.6 39.0,45.7 38.5,47.1 37.0,46.9 36.5,48.7 35.0,47.9 34.0,48.1 33.3,49.5 34.3,51.0 34.0,51.3 33.0,51.4 32.1,49.5 31.5,49.3 29.0,50.3 26.6,50.5 27.9,51.5 26.3,53.0 26.1,55.0 23.0,56.3 21.9,55.5 23.4,52.0 23.0,49.1 21.0,49.5 20.5,49.2 19.0,46.0 18.2,46.5 16.7,50.0 20.0,50.5 21.0,52.0 20.9,53.0 19.3,53.5 19.6,54.5 21.5,56.5 21.1,58.0 20.0,59.5 22.0,61.5 22.6,63.0 24.4,63.5 25.5,65.2 26.5,65.1 27.5,64.0 29.3,65.0 29.3,67.0 30.4,67.5 30.0,68.8 28.7,68.5 27.5,66.1 24.5,66.4 21.5,64.3 19.3,64.5 18.5,65.9 16.5,66.5 13.5,65.5 8.5,68.2 7.3,67.5 7.0,66.5 8.3,64.0 5.5,63.9 4.5,65.1 3.0,65.2 2.7,64.5 4.0,63.0 4.0,61.0 4.5,60.4 7.9,59.5 9.1,58.0 9.0,56.0 9.5,55.5 11.5,54.4 13.1,54.5 14.8,53.0 14.0,52.2 11.5,53.5 10.7,53.0 10.3,52.0 9.0,51.5 8.0,51.5 7.0,52.3 6.4,52.0 7.9,49.5 8.1,47.0 9.8,45.5 10.0,42.3 10.5,42.1 11.5,42.8 13.9,43.0 11.3,46.0 11.5,46.5 13.0,47.1 14.0,45.0 15.5,44.0 14.6,43.0 15.2,42.0 13.5,41.3 12.7,40.0 13.7,38.5 13.6,37.5 12.0,37.3 10.8,35.0 11.5,34.5 12.5,34.7 14.0,37.1 15.2,36.5 14.8,35.5 15.0,33.5 13.5,32.0 13.1,28.5 11.8,25.5 12.5,23.5 12.0,21.5 13.0,20.6 15.0,19.9 15.1,19.0 13.0,17.9 11.5,19.0 10.7,17.5 11.0,16.3 16.0,15.5 16.9,17.5 17.5,17.6 18.5,17.0 19.0,15.5 20.5,15.0 20.4,16.5 23.0,18.3 24.5,18.0 25.9,16.5 25.5,16.0 26.0,15.0 26.1,13.0 27.0,12.5 27.4,14.5 29.8,16.0 29.4,17.0 28.5,17.7 27.0,17.3 27.1,18.5 27.5,19.1 30.0,19.8 31.0,19.0 31.0,17.2 34.5,14.9 36.0,14.6 38.5,16.5 42.5,17.6 44.1,16.5 46.0,16.3 46.5,13.5 46.0,11.3 46.5,11.3 48.5,13.3 49.3,15.0 49.0,16.1 46.5,16.6 47.8,20.0 49.5,23.2 53.0,25.2 53.5,25.0 53.5,22.5 52.0,22.1 51.5,21.5 52.3,19.5 51.8,18.0 52.5,16.5 52.5,14.8 55.0,13.6 55.3,16.0 56.0,16.7 59.0,15.5 60.5,17.6 62.0,17.5 63.0,16.2 64.5,16.8 65.3,15.0 64.5,13.4 63.5,13.3 61.5,15.1 60.5,14.6 60.4,13.5 62.5,10.3 64.5,10.0 65.2,8.0 66.3,7.0ZM66.9,16.0L65.5,17.5 64.0,17.2 63.0,18.0 63.1,18.5 65.0,19.6 68.0,19.3 68.4,18.5 68.1,16.5 67.0,15.9ZM37.1,17.5L37.0,18.1 37.8,18.5 38.3,17.5 38.0,17.1 37.5,17.3ZM70.5,17.5L69.3,21.0 69.5,21.6 70.4,21.5 72.2,20.0 72.0,18.0 71.0,17.3ZM22.5,18.5L21.9,19.5 23.0,19.5 22.5,18.4ZM99.5,19.5L100.0,20.0 100.5,19.5 99.5,19.5ZM107.9,20.0L106.4,21.5 107.8,21.0 108.4,20.0 108.0,19.9ZM74.2,20.5L74.1,21.0 75.2,22.0 75.0,23.9 77.0,21.6 78.6,21.0 75.5,20.9 74.5,20.5ZM109.3,21.0L108.8,21.5 109.5,22.6 112.5,22.5 112.9,22.0 112.0,20.9 109.5,20.9ZM41.8,21.5L40.6,22.5 41.0,23.0 42.0,23.0 42.0,21.2ZM44.2,21.5L44.5,22.6 45.5,22.0 45.4,21.5 44.5,21.1ZM22.5,22.5L22.7,23.5 23.6,23.5 24.0,23.0 23.6,22.5 22.5,22.5ZM27.5,22.5L28.4,24.0 27.9,25.0 26.7,25.5 26.6,26.5 28.0,28.2 31.0,28.7 30.4,26.5 32.8,25.0 32.5,23.5 30.5,23.3 28.5,22.3 27.5,22.5ZM36.9,23.0L35.6,24.0 36.5,24.2 37.5,23.0 37.0,23.0ZM43.7,24.5L42.0,24.9 41.8,25.5 42.5,26.5 43.5,26.6 44.7,25.0 44.5,24.0 44.0,24.3ZM74.6,25.0L69.0,29.2 66.5,29.4 65.0,30.3 62.5,31.0 62.6,32.0 64.0,32.3 68.0,30.2 69.3,31.0 72.5,31.0 72.2,29.0 73.0,27.4 74.0,27.5 75.0,28.7 75.4,26.0 75.0,24.6ZM47.5,26.5L46.0,27.4 44.0,27.8 43.8,29.0 45.0,28.8 46.2,29.5 46.5,32.6 48.5,30.5 49.4,28.5 48.5,26.4 47.5,26.5ZM36.8,27.5L37.0,29.3 38.2,29.0 38.6,28.0 38.3,27.5 37.0,27.3ZM53.3,28.5L50.9,29.5 51.5,30.4 54.0,31.3 55.5,30.2 57.1,31.5 56.4,33.0 54.5,33.5 54.4,34.0 55.7,34.5 58.5,33.8 59.8,32.0 58.7,30.5 58.7,29.5 57.0,28.9 55.0,29.1 54.5,28.5 53.5,28.4ZM103.7,30.5L104.0,31.7 104.8,30.5 104.0,30.3ZM28.3,32.0L26.9,35.0 27.5,37.4 29.5,35.6 30.5,34.0 33.0,35.0 33.4,34.5 33.0,33.2 31.2,33.0 29.5,31.9 28.5,31.8ZM53.5,32.5L53.9,33.5 54.5,33.5 53.5,32.1ZM66.8,33.0L65.6,34.0 65.7,34.5 67.0,34.5 67.8,33.0 67.0,32.9ZM87.9,33.5L86.5,34.0 86.5,35.3 88.4,34.5 88.0,33.4ZM42.7,36.0L40.1,38.5 40.0,39.1 42.5,37.8 45.4,37.5 45.7,37.0 45.3,36.5 43.0,35.7ZM58.9,36.0L58.4,37.0 59.0,37.8 60.0,38.0 61.0,37.5 60.8,36.5 59.0,35.8ZM65.4,37.0L65.2,37.5 67.3,38.0 66.5,36.9 65.5,36.9ZM17.6,38.5L17.9,40.0 17.5,41.5 18.0,42.5 19.0,42.3 21.0,40.8 20.9,40.0 18.0,38.1ZM23.1,42.0L23.0,43.8 23.5,44.2 24.3,42.5 24.2,42.0 23.5,41.8ZM39.1,42.0L40.0,43.1 41.0,43.0 41.2,42.5 40.6,42.0 39.5,41.8ZM11.9,49.0L12.0,50.6 13.5,50.5 14.5,51.5 15.6,51.0 16.2,50.0 15.5,49.5 12.0,48.9ZM25.0,51.0L24.4,52.0 25.0,52.1 25.9,51.0 25.5,50.6 25.0,51.0ZM14.5,57.0L15.0,57.3 14.5,56.9ZM122.5,6.9L123.1,7.5 122.8,8.0 121.9,8.0 121.6,7.5 122.1,7.0ZM14.5,7.5L15.7,8.0 15.5,8.4 14.5,7.5ZM51.5,7.0L52.7,7.5 51.0,7.5ZM21.0,7.6L22.8,9.5 23.3,11.5 22.5,11.9 21.1,11.0 20.6,8.0ZM111.0,7.7L113.6,8.5 113.0,10.8 112.5,11.2 111.5,11.1 111.4,9.5 110.7,8.0ZM52.5,8.7L53.2,9.0 53.3,10.0 52.5,10.0 52.2,9.0ZM79.0,8.9L80.5,8.7 81.4,11.0 78.9,11.0 78.4,10.0 78.8,9.0ZM119.0,8.8L120.0,8.8 120.5,9.5 119.0,12.2 117.0,12.6 116.3,12.0 116.9,11.0 118.1,11.0 118.7,9.0ZM99.5,9.4L100.5,9.4 100.9,10.0 99.6,12.0 100.2,13.5 99.5,15.3 98.5,15.9 96.8,15.0 96.7,14.5 98.4,12.5 98.4,11.0 99.4,9.5ZM34.0,10.5L35.9,13.0 35.5,13.4 34.5,13.3 34.0,12.8 34.0,10.5ZM81.5,11.3L82.5,11.5 82.7,13.0 82.5,13.6 81.5,11.5ZM58.0,11.9L58.5,12.0 57.9,12.0ZM122.5,11.9L123.2,12.5 122.5,13.9 121.0,14.3 120.3,13.5 120.3,13.0 122.4,12.0ZM3.0,12.4L3.5,13.0 3.6,14.0 4.5,14.9 4.5,16.3 3.0,16.3 2.3,15.5 2.8,14.5 2.5,13.0 2.9,12.5ZM37.5,12.8L42.0,12.9 42.4,13.5 42.0,14.0 40.0,14.3 37.5,13.6 37.0,13.0ZM15.5,13.3L16.0,13.5 16.0,14.5 15.0,14.2 15.0,13.5ZM50.5,13.2L51.5,13.5 52.0,14.1 51.0,14.1 50.2,13.5ZM83.0,13.9L84.0,13.8 84.5,15.0 83.5,14.9 82.9,14.0ZM-1.5,16.0L0.0,16.1 0.2,16.5 -1.0,17.9 -2.0,18.2 -2.0,16.0ZM5.5,18.1L5.6,18.5 5.1,18.5ZM1.5,20.0L2.0,19.7 2.1,20.5 1.5,20.0ZM124.0,22.4L124.5,22.1 124.5,23.1 123.9,22.5ZM5.5,23.9L7.0,24.0 6.7,26.0 6.0,26.7 4.5,26.3 3.7,25.5 4.0,24.7 5.3,24.0ZM-0.5,24.9L1.5,24.6 1.8,25.0 -0.2,26.5 -0.7,28.5 -2.0,29.8 -2.0,25.5 -0.6,25.0ZM116.5,29.0L117.2,29.5 117.4,30.5 116.5,31.7 114.5,31.2 114.2,30.5 116.0,29.0ZM4.0,29.9L4.0,30.6 3.5,30.5 3.8,30.0ZM124.5,30.4L124.5,31.7 124.0,31.0 124.3,30.5ZM122.0,31.9L123.5,33.0 122.5,33.8 121.0,34.2 119.2,33.0 119.5,32.4 121.9,32.0ZM-1.9,32.5L-1.1,36.0 -1.5,36.9 -2.0,36.9 -2.0,32.5ZM3.0,33.3L4.0,33.3 4.2,34.0 3.2,34.0 2.9,33.5ZM7.0,33.8L9.0,33.7 9.5,34.1 8.5,34.5 6.9,34.0ZM78.5,35.0L78.0,36.9 77.0,37.8 77.0,36.0 78.4,35.0ZM107.5,35.2L110.4,37.0 109.5,42.3 107.0,42.6 106.0,44.4 102.5,44.7 101.5,46.5 99.9,47.0 99.8,47.5 100.5,47.8 102.4,48.0 100.5,49.6 97.5,48.3 96.0,49.0 95.5,48.5 96.1,45.5 98.4,43.5 101.5,42.7 103.3,40.5 102.2,39.0 102.5,37.1 104.5,37.3 105.5,39.1 107.5,39.5 107.9,37.5 107.2,35.5ZM122.5,35.3L123.1,35.5 122.4,35.5ZM82.5,36.9L82.5,38.0 82.5,37.0ZM124.0,39.0L124.5,38.6 124.5,40.4 124.0,39.0ZM2.5,39.5L2.5,40.5 1.9,40.5 1.7,40.0 2.4,39.5ZM118.0,39.2L118.5,39.3 118.6,40.0 117.7,41.5 115.0,42.2 114.1,41.0 117.6,39.5ZM-0.5,39.9L0.2,40.0 0.5,40.5 0.1,41.0 -0.5,41.0 -0.6,40.0ZM8.0,40.5L8.5,40.1 9.0,40.7 8.4,41.0 8.0,40.5ZM6.0,41.0L6.7,41.0 6.7,41.5 5.0,42.6 4.2,42.5 4.2,42.0 5.9,41.0ZM82.5,40.9L83.2,41.0 83.5,44.2 82.5,44.3 81.1,43.5 82.3,42.5 82.4,41.0ZM124.5,41.4L124.5,42.8 124.5,41.5ZM111.0,42.4L112.5,42.2 114.4,43.5 113.5,45.2 111.5,45.5 110.0,46.9 109.0,46.5 108.7,45.0 110.9,42.5ZM-1.5,43.7L-0.3,44.5 -0.5,45.2 -1.0,45.3 -2.0,44.7 -2.0,43.6ZM85.0,44.4L85.5,44.6 84.7,44.5ZM124.0,44.9L124.5,44.5 124.5,45.6 124.0,45.5 123.9,45.0ZM89.0,45.4L90.0,45.3 90.0,46.4 88.0,47.5 87.3,47.0 87.2,46.0 88.7,45.5ZM3.0,45.7L4.2,46.5 3.0,47.1 2.6,46.0ZM119.0,46.0L120.0,46.5 121.0,49.5 120.5,50.0 118.6,49.5 117.4,48.0 117.7,47.0 119.0,46.0ZM80.5,46.5L81.5,47.0 81.1,48.0 80.2,48.0 80.5,46.5ZM113.5,46.3L114.1,46.5 113.5,47.7 112.0,48.7 111.4,48.0 111.5,47.5 113.3,46.5ZM124.0,46.9L124.5,46.8 124.5,48.4 123.4,48.0 123.8,47.0ZM106.0,47.5L107.0,47.5 107.8,48.0 108.0,48.5 107.5,49.0 106.0,48.7 105.6,48.0 106.0,47.5ZM74.5,47.9L76.5,49.7 78.5,48.8 79.5,48.8 80.2,51.0 79.5,51.8 75.0,50.2 73.7,49.0 74.4,48.0ZM89.0,49.0L89.5,49.0 89.4,51.5 88.5,51.7 87.9,50.5 87.8,50.0 89.0,49.0ZM92.0,49.8L93.0,49.7 93.4,51.0 92.0,51.7 91.5,51.0 91.8,50.0ZM3.0,50.4L4.0,50.4 5.0,51.5 4.8,52.0 2.5,53.3 1.5,53.2 1.2,52.5 2.8,50.5ZM83.5,50.1L84.5,50.8 84.4,52.0 83.5,52.7 82.5,52.0 82.4,51.0 83.2,50.5ZM-1.5,50.9L-0.6,52.5 -1.0,53.7 -2.0,54.0 -2.0,50.7ZM7.5,52.4L8.0,52.3 8.3,53.0 8.0,54.0 8.5,55.5 8.0,56.2 7.0,55.9 6.5,55.0 7.2,52.5ZM65.5,52.4L66.9,53.0 67.0,54.0 66.5,54.8 64.8,54.0 64.7,53.0 65.3,52.5ZM51.0,53.1L53.2,54.0 54.3,55.0 52.0,55.8 50.7,54.5 50.6,53.5ZM69.0,53.5L69.1,54.0 69.0,53.5ZM117.5,53.4L119.9,53.5 119.9,54.5 118.0,56.1 117.0,56.1 116.5,55.0 117.5,53.5ZM78.5,53.7L79.0,53.7 79.6,54.5 79.2,56.5 77.5,57.0 77.3,56.5 78.3,55.5 78.1,54.0ZM111.0,53.9L112.4,54.5 110.5,55.8 110.0,55.7 109.8,55.0 110.6,54.0ZM85.5,54.3L86.0,54.7 85.6,56.5 86.5,58.5 86.0,59.6 85.0,59.9 82.8,59.0 85.2,56.5 84.8,55.0 85.2,54.5ZM29.0,54.8L29.8,55.0 30.0,55.5 29.5,55.8 28.3,55.5 28.5,55.0ZM39.0,55.2L39.8,55.5 39.7,57.0 38.8,57.0 38.8,55.5ZM56.5,55.4L58.2,56.0 58.4,56.5 57.5,57.2 55.8,56.0 56.1,55.5ZM30.5,56.0L31.0,56.0 31.4,57.0 31.0,58.5 29.7,58.5 30.4,56.0ZM45.5,55.9L47.3,57.0 46.0,58.4 44.9,57.5 44.8,56.5 45.3,56.0ZM63.5,55.9L64.5,56.1 64.0,56.5 63.4,56.0ZM93.5,56.1L93.9,56.5 93.1,56.5ZM-1.5,56.9L-0.5,56.9 0.1,57.5 -0.2,58.5 -1.0,58.8 -2.0,58.6 -2.0,56.9ZM124.0,56.8L124.5,56.5 124.5,59.9 122.3,60.0 124.0,57.0ZM35.0,58.0L36.0,58.0 35.7,59.5 35.0,59.8 34.5,59.5 35.0,58.0ZM100.5,59.0L101.1,59.5 100.5,59.6 99.8,59.5 100.5,59.0ZM103.5,58.9L104.5,58.7 105.6,60.0 104.5,62.6 103.5,63.1 102.6,62.5 102.1,59.5 103.4,59.0ZM42.5,59.7L43.9,60.0 44.0,61.8 41.5,61.5 42.0,60.0ZM53.0,59.7L54.4,61.0 54.5,62.8 52.5,62.0 52.8,60.0ZM60.0,59.8L60.5,59.7 60.9,60.5 61.3,64.0 60.0,64.5 59.1,63.0 59.8,60.0ZM79.0,60.0L79.9,60.5 81.6,63.0 79.7,64.5 80.2,66.0 79.5,67.8 79.0,67.9 78.1,67.0 79.1,65.5 77.4,62.0 78.9,60.0ZM92.5,59.9L93.9,60.5 93.0,61.8 91.9,60.5 92.2,60.0ZM33.5,60.4L34.5,61.0 34.0,62.0 32.9,61.5 33.1,60.5ZM68.0,60.2L69.2,61.5 69.3,62.5 68.6,63.5 67.0,63.8 65.5,62.5 67.7,60.5ZM98.0,60.3L98.8,60.5 99.0,61.5 98.0,61.7 97.9,60.5ZM112.5,60.5L113.5,61.0 113.5,62.0 112.2,61.5 112.5,60.5ZM71.5,60.8L73.8,61.5 73.5,62.5 71.0,63.1 70.6,62.0 71.0,61.0ZM107.0,61.0L108.0,60.8 109.4,61.5 109.7,62.5 109.0,63.3 107.8,63.5 107.0,61.0ZM-1.0,61.9L-0.5,61.6 0.1,62.0 -0.5,63.9 -1.7,63.5 -1.8,63.0 -1.1,62.0ZM114.5,62.3L116.0,62.3 116.5,63.0 115.3,63.5 114.3,62.5ZM121.5,62.7L122.3,63.0 122.4,65.0 123.8,66.5 123.3,67.0 122.0,67.4 121.7,66.0 120.4,64.5 121.1,63.0ZM40.0,64.4L41.5,64.3 42.5,65.0 42.6,66.0 42.0,66.8 41.0,66.7 40.5,65.6 39.2,65.5 39.8,64.5ZM49.0,64.5L50.0,65.0 50.3,66.5 50.0,68.5 49.5,68.9 47.1,66.5 47.5,64.6 48.8,64.5ZM70.5,64.5L71.0,64.2 71.1,65.5 70.5,65.5 70.5,64.5ZM91.5,64.5L92.2,64.5 92.0,65.2 91.1,65.0 91.4,64.5ZM98.0,64.5L98.5,64.2 99.4,66.5 101.6,67.5 101.0,68.5 101.1,70.0 100.0,71.3 95.7,70.0 97.8,67.5 98.0,64.5ZM118.0,64.3L118.5,64.7 117.9,64.5ZM82.5,64.7L83.5,64.5 85.0,65.0 85.9,66.0 85.3,67.0 84.0,67.2 82.0,66.0 81.8,65.5 82.1,65.0ZM58.5,65.5L59.5,65.5 59.8,66.5 59.4,67.0 58.5,66.9 58.1,66.0 58.5,65.5ZM1.0,65.7L1.3,66.0 0.9,66.0ZM32.5,65.9L34.2,66.0 34.6,67.0 34.0,67.7 32.0,67.9 31.5,67.0 32.3,66.0ZM86.5,66.5L87.3,67.0 87.1,67.5 86.5,66.5ZM90.0,66.4L90.5,66.3 91.4,68.0 90.5,71.1 90.0,71.4 89.3,70.5 89.9,66.5ZM66.5,67.3L67.0,67.5 67.0,68.4 66.3,67.5ZM112.5,67.0L114.8,68.0 114.9,68.5 113.0,70.6 112.2,67.5ZM12.0,67.9L13.7,68.0 13.8,69.0 12.5,69.4 11.9,69.0 11.9,68.0ZM37.5,68.4L38.0,68.4 38.7,69.5 37.5,69.1 37.4,68.5ZM105.5,68.3L105.5,69.2 105.0,69.2 105.1,68.5ZM121.0,68.5L121.5,68.1 121.8,68.5 122.8,70.5 122.0,70.6 121.5,70.1 121.0,70.4 120.4,72.5 118.5,75.8 117.5,75.7 116.4,74.5 116.7,72.5 117.8,71.0 120.3,69.5 121.0,68.5ZM2.0,68.6L3.4,69.5 3.0,70.5 2.0,70.9 1.6,69.0ZM8.0,68.9L8.5,68.9 8.6,69.5 8.0,69.6 7.9,69.0ZM30.5,69.3L31.1,69.5 31.0,70.5 30.2,70.0 30.2,69.5ZM67.5,69.2L70.5,69.4 70.8,70.0 70.5,70.5 68.2,71.5 67.5,72.8 66.0,73.0 65.3,72.5 65.4,71.0 67.2,69.5ZM83.0,69.3L84.0,69.3 83.9,70.5 83.0,70.8 82.6,70.5 82.8,69.5ZM20.5,69.9L22.0,69.7 22.2,71.0 21.0,72.8 19.5,73.4 18.5,74.5 19.1,76.0 18.5,77.3 17.6,76.5 18.4,75.0 17.5,74.7 17.3,74.0 20.3,70.0ZM74.0,70.4L75.0,70.6 75.0,71.8 74.0,71.6 74.0,70.5ZM93.5,70.3L94.5,70.5 93.5,72.0 92.6,72.0 92.3,71.5 93.2,70.5ZM109.5,70.4L110.5,70.3 110.8,71.5 110.0,72.0 109.5,71.8 109.5,70.5ZM13.0,71.8L14.1,72.0 14.4,72.5 14.0,73.4 13.5,73.8 12.7,73.5 12.8,72.0ZM39.0,71.9L40.0,72.0 41.2,73.0 40.7,75.5 40.0,75.8 39.0,75.0 38.6,73.5 38.9,72.0ZM105.5,71.7L107.5,73.0 107.0,74.3 106.0,74.3 105.0,73.5 105.1,72.0ZM112.5,71.8L113.0,73.5 112.3,73.5 112.4,72.0ZM27.5,72.3L28.5,72.2 28.8,74.0 28.0,74.4 27.2,74.0 27.3,72.5ZM32.0,72.2L32.0,73.6 31.5,73.5 31.8,72.5ZM48.5,72.9L49.0,72.6 49.1,73.0 48.5,73.0ZM-1.9,73.5L-1.1,75.5 -2.0,76.0 -2.0,73.1ZM9.0,73.5L10.5,74.0 10.5,75.0 10.0,76.3 8.0,78.4 7.0,78.0 8.6,76.5 8.1,74.5 8.9,73.5ZM124.5,73.5L124.5,74.1 124.5,73.5ZM6.0,73.9L6.5,74.3 5.8,74.0ZM87.0,73.9L87.0,74.4 86.8,74.0ZM48.5,74.1L48.0,76.8 47.0,77.1 46.7,76.0 48.3,74.5ZM57.0,74.5L58.0,74.9 59.5,74.7 60.1,75.5 59.5,75.9 58.0,75.7 56.5,77.3 56.1,76.0 56.9,74.5ZM76.5,74.5L77.5,74.5 78.4,75.5 76.0,76.5 75.4,75.0 76.1,74.5ZM14.0,75.0L14.7,75.0 14.8,75.5 14.0,75.5 14.0,75.0ZM25.5,74.9L26.3,75.0 26.4,75.5 25.9,77.0 25.8,80.0 25.0,81.4 23.9,79.0 24.5,76.0 25.4,75.0ZM68.0,75.0L68.5,76.0 68.0,77.7 67.5,77.8 67.0,76.5 67.2,75.5 67.9,75.0ZM82.5,74.9L84.5,74.8 85.1,76.5 84.4,77.5 83.5,77.5 81.1,76.0 81.2,75.5 82.3,75.0ZM31.5,75.2L33.2,76.5 33.0,77.3 32.5,77.6 31.5,77.0 30.9,76.0 31.3,75.5ZM103.5,75.3L104.3,77.0 103.5,77.9 103.0,78.0 102.4,77.0 103.1,75.5ZM97.0,76.3L97.9,77.0 97.5,77.4 96.8,76.5ZM90.0,76.9L91.0,76.6 91.5,76.9 92.1,78.0 91.5,78.6 89.0,78.3 88.6,77.5 89.8,77.0ZM119.5,76.6L120.5,76.9 120.3,78.0 119.2,78.0 119.2,77.0ZM33.0,77.7L33.6,78.0 34.0,79.1 33.0,79.0 32.7,78.0ZM39.0,78.0L40.0,77.6 41.0,79.7 40.5,79.9 39.0,79.2 39.0,78.0ZM71.5,78.2L72.4,78.5 72.2,79.5 71.3,79.5 71.2,78.5ZM109.0,78.3L110.0,78.6 110.6,80.0 110.4,80.5 109.2,81.0 108.5,82.2 107.4,82.0 106.9,81.0 108.5,78.5ZM57.5,78.8L60.5,79.0 61.0,80.0 60.5,80.9 55.0,81.3 54.7,80.0 56.5,79.7 57.2,79.0ZM48.5,79.9L49.1,80.0 49.2,81.0 48.2,81.0 48.4,80.0ZM77.5,79.8L78.5,79.8 78.9,80.0 78.6,80.5 77.3,80.0ZM102.5,79.7L103.0,79.8 103.6,81.5 102.7,81.5 102.3,80.0ZM1.5,80.0L3.3,81.5 2.5,83.3 1.2,82.5 1.1,80.5ZM7.5,80.6L10.3,81.0 9.5,81.5 9.7,82.5 9.0,82.9 8.0,82.6 7.2,81.0ZM11.0,80.9L11.5,80.6 12.0,81.5 11.5,81.7 10.9,81.0ZM69.5,81.1L70.0,81.0 70.3,82.0 69.5,82.0 69.2,81.5ZM98.5,81.4L99.5,82.5 99.1,83.0 97.9,83.0 97.5,82.5 98.4,81.5ZM40.5,81.8L41.0,81.7 41.3,82.5 41.0,83.4 39.9,83.0 40.3,82.0ZM87.5,82.4L88.4,83.0 88.0,83.8 87.3,84.0 87.0,83.5 87.3,82.5ZM90.5,82.4L92.1,82.5 92.0,84.1 91.2,85.0 92.4,86.0 92.4,86.5 90.0,89.1 88.5,88.8 88.1,88.0 90.5,85.5 91.1,85.5 90.0,85.2 89.1,83.5 90.1,82.5ZM114.5,82.4L115.3,82.5 115.5,83.1 115.0,83.5 114.5,82.5ZM64.0,83.0L65.0,82.7 65.7,83.0 65.0,85.5 66.3,88.0 65.5,89.3 64.5,89.6 62.5,88.8 60.5,90.1 59.3,89.5 60.5,87.6 63.0,87.2 64.3,86.0 63.0,84.0 63.0,83.5 64.0,83.0ZM-1.5,83.3L-1.0,83.2 -0.7,83.5 -1.0,83.7 -2.0,83.4ZM30.0,83.3L32.5,83.5 33.8,85.5 33.5,86.7 32.5,86.5 31.0,84.7 29.3,84.0 29.6,83.5ZM47.0,83.4L48.0,83.6 48.7,85.0 48.6,86.0 47.5,87.1 46.5,87.0 45.5,86.0 46.9,83.5ZM79.0,83.4L80.5,83.9 81.5,83.1 81.1,84.5 81.7,85.5 81.3,88.0 80.0,88.5 79.9,85.0 78.9,83.5ZM20.0,83.8L20.9,84.5 20.5,85.8 20.0,85.5 19.7,84.0ZM74.0,83.9L75.1,84.0 75.5,85.5 74.0,85.1 73.8,84.0ZM17.0,84.4L17.4,85.5 17.0,86.1 15.9,85.0 16.6,84.5ZM53.5,84.3L54.8,85.0 54.0,85.9 52.8,85.5 53.1,84.5ZM115.5,84.9L116.0,84.9 116.3,85.5 116.0,86.4 115.1,86.0 115.4,85.0ZM121.5,84.9L124.5,85.1 124.5,86.3 121.0,86.5 119.5,87.3 118.5,87.2 118.1,86.5 118.5,85.4 121.2,85.0ZM-1.5,85.8L-0.8,86.5 -0.9,87.0 -2.0,87.5 -2.0,85.6ZM9.5,85.6L12.0,86.5 11.5,87.0 10.0,86.9 9.3,86.0ZM83.5,85.9L84.5,85.5 85.1,86.0 84.9,86.5 84.0,87.2 83.5,86.9 83.5,86.0ZM71.0,86.3L71.5,86.5 70.9,86.5ZM96.5,86.4L96.7,87.5 96.0,87.5 96.4,86.5ZM101.5,86.3L102.5,86.3 102.0,87.4 100.9,87.5 101.3,86.5ZM82.5,88.4L83.5,88.2 84.5,89.4 86.2,90.0 86.6,91.0 86.0,91.9 83.0,90.0 82.4,88.5ZM19.0,88.9L20.4,89.5 19.0,90.9 18.5,90.9 18.2,90.0 18.8,89.0ZM42.5,88.6L43.0,88.7 43.4,89.5 40.1,91.0 42.2,89.0ZM54.5,88.9L55.3,89.0 55.4,89.5 55.5,93.0 54.2,93.0 54.3,89.0ZM45.5,90.2L46.0,90.3 46.0,90.8 45.1,90.5ZM91.5,90.3L92.5,90.3 93.6,91.0 93.2,93.0 91.7,93.0 91.3,90.5ZM110.0,90.3L110.0,90.8 109.7,90.5ZM0.5,91.0L0.9,91.5 0.0,92.5 -0.2,91.5 0.3,91.0ZM4.5,90.8L6.5,91.1 6.7,93.0 0.6,93.0 0.7,92.5 2.5,92.3 4.0,91.0ZM21.5,90.9L22.0,90.6 22.4,91.0 22.8,93.0 20.7,93.0 21.4,91.0ZM31.0,90.9L32.2,91.0 32.0,92.9 31.4,93.0 30.9,91.0ZM39.5,91.0L40.0,91.5 39.5,93.0 37.2,93.0 39.1,91.0ZM71.0,90.9L73.5,90.9 74.9,93.0 69.9,93.0 70.2,91.5 70.7,91.0ZM112.5,90.7L113.2,91.0 114.1,93.0 110.2,93.0 112.4,91.5 112.2,91.0ZM100.5,91.5L102.0,92.0 102.7,93.0 99.4,93.0 99.6,92.0 100.3,91.5ZM122.0,91.1L123.5,91.6 124.5,91.4 124.5,93.0 121.0,93.0 121.7,91.5ZM13.5,91.6L14.5,91.9 14.8,93.0 12.9,93.0 13.2,92.0ZM47.0,92.0L48.8,93.0 46.0,93.0 47.0,92.0ZM79.0,91.8L81.6,93.0 78.5,93.0 78.7,92.0ZM49.5,92.5L50.5,92.1 51.7,93.0 49.1,93.0 49.4,92.5ZM65.0,92.5L66.1,93.0 63.7,93.0 64.8,92.5ZM77.0,92.7L77.2,93.0 76.6,93.0Z" fill="#00a4ff" fill-rule="evenodd"/>
<path d="M1.0,-2.0L2.6,-2.0 2.1,-1.0 1.5,-0.9 0.7,-2.0ZM32.0,-2.0L32.9,-2.0 32.5,-1.6 31.7,-2.0ZM72.5,-2.0L73.7,-2.0 73.0,-1.6 72.5,-2.0ZM79.5,-2.0L80.6,-2.0 80.0,-1.5 79.2,-2.0ZM95.5,-2.0L97.3,-2.0 97.7,-0.5 97.0,0.2 95.4,-2.0ZM102.0,-2.0L104.8,-2.0 103.0,-1.4 101.9,-2.0ZM113.0,-2.0L114.3,-2.0 113.5,-1.6 113.0,-2.0ZM124.0,-1.1L124.5,-1.2 124.5,1.1 123.0,0.0 123.7,-1.0ZM25.0,0.3L26.6,0.5 26.0,1.7 24.7,1.5 24.6,0.5ZM95.0,3.8L95.6,4.0 95.5,4.7 94.6,4.5 94.8,4.0ZM117.5,4.0L118.2,4.5 117.6,5.5 116.8,5.5 116.6,5.0 117.5,4.0ZM16.0,4.2L16.5,4.3 16.5,4.8 15.9,5.0 15.5,4.5ZM24.0,4.9L24.8,5.5 24.0,5.0ZM87.0,5.2L87.4,5.5 87.3,6.0 86.5,6.2 86.5,5.5ZM10.0,6.9L10.5,7.5 9.5,7.5 9.6,7.0ZM82.0,6.8L82.9,7.0 82.5,7.8 81.5,7.5 81.7,7.0ZM3.5,7.3L4.3,7.5 4.0,9.0 3.5,9.3 3.0,8.5 3.2,7.5ZM66.5,7.9L67.1,8.5 66.5,9.2 65.9,8.5 66.3,8.0ZM21.5,8.9L22.9,10.5 22.7,11.5 22.0,11.4 21.1,10.5 21.4,9.0ZM79.5,8.9L80.6,9.5 80.5,10.9 79.5,11.0 78.7,10.5 79.3,9.0ZM112.5,8.8L113.0,8.8 113.2,9.5 112.5,10.8 111.8,10.5 112.2,9.0ZM62.5,10.9L63.5,10.6 64.5,11.4 65.5,10.8 65.9,11.5 65.5,12.5 64.0,11.9 61.5,13.8 61.3,13.0 62.2,12.0 62.4,11.0ZM105.0,11.2L105.7,11.5 105.6,12.0 104.6,12.0 104.6,11.5ZM117.0,11.5L117.8,11.5 118.0,12.0 117.0,12.1 116.9,11.5ZM70.0,11.9L72.1,13.5 72.3,15.5 72.0,16.0 69.5,17.3 69.0,17.1 68.3,15.5 66.2,14.5 66.4,13.5 69.5,12.6 69.8,12.0ZM122.0,12.9L122.5,12.6 122.5,13.3 121.4,13.5 121.8,13.0ZM47.5,13.4L48.5,14.3 48.5,15.6 47.0,15.4 46.9,14.5 47.4,13.5ZM98.0,13.4L99.0,13.3 99.5,13.9 99.0,15.2 97.5,15.0 97.2,14.5 97.9,13.5ZM3.5,14.8L4.0,15.7 3.0,15.5 3.2,15.0ZM27.0,15.1L29.2,16.0 29.0,17.0 27.5,17.0 26.6,15.5ZM36.0,15.3L37.3,16.5 36.3,17.5 37.5,19.5 39.5,17.8 43.5,18.7 45.0,17.3 46.8,19.5 46.8,20.5 46.0,20.6 44.5,19.8 43.0,20.1 41.5,19.4 41.3,21.0 40.5,22.0 39.0,22.1 37.5,21.2 35.2,23.0 34.7,24.0 34.9,25.0 36.5,26.0 35.5,27.3 34.3,26.0 33.0,22.4 30.5,22.7 29.0,21.6 25.5,22.2 23.5,21.6 22.0,22.2 22.5,24.4 24.5,24.3 25.4,25.0 25.3,27.0 24.3,28.0 24.5,28.9 26.0,28.2 27.5,30.0 29.5,29.2 31.0,30.9 32.6,31.5 32.1,32.5 31.5,32.5 30.0,31.2 28.5,30.8 27.8,31.5 27.0,33.6 24.7,36.0 26.3,37.0 27.9,39.5 27.7,40.5 29.5,40.1 30.2,39.0 28.6,37.5 28.6,37.0 30.5,34.6 32.5,35.2 33.6,34.5 33.7,32.5 34.5,31.0 32.7,30.5 33.0,28.8 34.5,28.8 35.2,30.0 35.9,30.0 39.0,29.1 40.5,27.4 41.5,27.1 42.5,27.6 43.2,29.5 43.0,31.3 42.5,31.5 44.6,33.5 47.0,33.6 48.0,31.9 50.0,30.3 52.5,32.0 52.2,34.5 53.5,34.2 58.0,35.1 58.4,36.0 57.0,40.6 58.6,40.0 61.5,37.2 62.3,37.0 60.6,34.5 60.9,33.5 63.0,32.7 64.4,33.0 64.3,35.0 65.1,36.0 64.3,37.0 68.5,38.6 68.8,38.5 68.2,38.0 67.6,36.0 68.5,35.3 70.6,38.0 70.5,38.6 68.8,39.0 70.0,39.2 72.5,42.8 72.5,44.0 72.0,44.6 71.0,43.8 68.6,45.5 67.0,48.3 60.9,51.5 60.0,53.5 59.5,53.3 58.0,54.4 57.4,54.0 57.0,52.6 55.5,52.2 54.4,49.5 53.9,47.0 54.1,45.5 53.5,45.3 53.0,46.0 53.0,48.3 52.5,48.5 53.0,48.5 53.0,50.0 52.0,51.1 50.0,50.8 48.0,52.4 45.9,53.0 44.5,54.1 43.5,54.1 43.0,52.7 42.7,54.0 42.0,54.3 41.4,54.0 41.5,52.7 42.8,52.5 40.1,51.0 39.5,50.0 39.6,47.0 40.5,46.0 39.6,44.0 42.0,43.7 43.0,42.5 40.3,41.0 40.2,40.5 41.5,39.5 42.5,39.4 43.5,41.6 44.0,41.6 48.1,37.0 47.5,35.5 45.6,35.5 44.3,34.0 43.0,33.6 42.9,35.5 40.0,38.4 38.8,41.0 37.5,42.0 39.0,43.5 38.9,44.0 36.5,45.0 36.6,46.5 36.0,47.6 34.5,47.4 32.0,49.2 25.0,50.4 24.0,51.2 22.5,47.5 21.5,48.7 20.0,47.1 19.4,45.5 20.7,44.5 21.5,42.5 23.0,44.9 24.0,44.1 24.7,42.0 21.0,38.8 17.5,36.8 16.0,36.5 15.1,35.5 15.6,33.0 14.3,31.5 13.3,27.5 12.2,26.0 12.4,24.5 13.5,23.0 12.6,22.0 13.0,21.5 14.5,21.6 15.5,20.8 16.0,18.7 17.1,19.0 17.5,20.3 18.5,20.2 17.6,18.5 18.5,17.6 20.0,17.4 21.4,18.0 21.5,20.2 23.5,20.2 24.0,19.2 26.0,17.5 27.0,19.5 30.0,20.9 31.0,20.2 32.0,18.0 33.8,16.0 35.5,15.5ZM14.9,24.5L15.0,25.7 15.9,25.5 15.0,24.3ZM19.4,27.0L17.5,28.0 18.6,29.0 18.7,30.5 19.9,32.0 21.5,31.7 22.3,28.5 22.0,28.1 20.5,28.0 19.5,26.9ZM26.6,39.5L26.2,40.0 26.5,40.2 27.0,39.2ZM55.3,42.0L54.5,43.0 54.5,43.7 55.0,43.5 55.8,42.0 55.5,41.9ZM88.5,15.2L89.5,15.5 91.0,18.0 95.0,17.1 96.8,18.5 96.7,19.5 98.0,19.2 100.0,20.5 101.8,19.5 100.3,18.0 100.8,17.5 103.0,17.3 105.0,18.9 107.1,19.0 106.0,21.1 104.9,22.0 108.5,21.6 110.0,22.9 113.0,22.8 113.9,21.5 112.5,20.2 110.2,20.0 109.7,17.5 111.0,16.3 112.0,16.5 113.5,18.5 114.5,18.9 115.5,17.2 118.3,18.5 118.0,20.1 115.0,20.7 114.1,21.5 115.5,24.0 115.0,25.2 114.0,25.2 112.3,27.5 107.4,31.0 106.5,33.3 105.0,33.8 104.1,33.5 104.1,32.5 105.4,30.5 104.5,30.0 103.3,30.5 103.1,32.5 102.5,32.8 100.5,32.7 99.6,31.0 98.5,30.5 96.5,31.5 94.5,33.4 93.5,33.4 91.5,32.4 90.3,32.5 90.0,33.8 88.5,32.7 88.0,32.9 85.7,34.0 85.2,35.5 84.5,35.0 84.5,33.5 82.0,33.4 79.0,32.5 77.0,32.7 73.5,31.8 72.5,29.5 72.6,28.5 73.5,27.8 75.5,29.8 75.2,28.0 75.6,24.0 77.5,21.6 80.2,21.0 78.7,19.5 80.5,18.0 81.0,16.6 81.7,16.5 84.0,18.8 86.5,19.0 88.0,17.7 88.1,15.5ZM86.5,19.5L84.2,20.0 87.5,20.6 87.5,20.0 86.5,19.3ZM92.8,20.5L93.8,20.5 93.0,20.1ZM102.8,20.5L103.3,21.5 104.7,21.5 104.0,20.1 103.0,20.2ZM-1.5,16.4L-1.1,17.0 -2.0,17.6 -2.0,16.3ZM11.5,16.5L12.3,17.0 12.0,18.0 11.5,18.1 11.1,17.5 11.5,16.5ZM54.0,16.4L56.0,17.4 57.5,16.8 59.0,16.8 60.0,18.2 61.5,18.7 61.5,19.2 59.2,20.0 58.7,20.5 59.5,20.7 63.5,20.7 65.0,21.1 67.0,20.1 68.5,20.4 68.7,21.5 70.5,22.4 72.5,21.4 73.5,21.8 74.2,23.0 74.1,24.5 72.0,25.8 70.0,28.2 65.0,29.4 61.5,29.2 61.0,29.3 61.2,30.5 60.5,31.2 59.1,30.5 59.0,29.2 55.0,28.3 53.5,26.8 52.0,28.3 50.5,28.0 49.6,27.0 49.8,25.5 50.5,25.1 53.5,26.2 54.2,21.5 57.3,20.5 53.5,19.1 52.9,18.0 53.9,16.5ZM120.5,17.0L121.3,17.5 121.3,18.0 120.5,18.3 119.3,18.0 120.3,17.0ZM75.5,17.9L77.1,18.0 76.9,19.5 76.0,20.0 73.6,19.0 73.5,18.4 75.2,18.0ZM53.0,20.9L53.6,21.0 53.0,21.0ZM27.5,23.2L28.2,24.0 27.5,24.9 26.7,24.5 27.0,23.5ZM37.5,23.5L38.5,23.3 40.5,24.5 39.4,26.5 38.5,26.6 36.7,25.5 36.8,24.5 37.5,23.5ZM43.0,23.4L43.0,23.8 42.8,23.5ZM46.0,23.2L47.5,23.4 48.2,24.0 46.1,27.0 45.0,27.0 44.8,26.5 45.7,25.5 45.5,23.5ZM5.0,24.4L6.5,24.5 6.0,26.4 5.0,26.3 4.0,25.5 4.7,24.5ZM121.5,24.4L122.0,24.5 121.5,24.5ZM-1.5,26.0L-0.7,26.0 -2.0,27.4 -1.7,26.0ZM119.0,25.8L120.0,27.0 119.5,28.7 119.0,28.9 118.2,27.5 118.7,26.0ZM31.5,26.3L32.5,26.5 32.5,27.7 31.5,27.5 31.2,26.5ZM-1.5,27.7L-1.5,28.5 -2.0,28.8 -2.0,27.5ZM44.5,29.1L45.9,29.5 45.5,31.8 44.1,30.5 44.1,29.5ZM116.0,29.3L117.1,30.0 116.5,31.4 115.0,31.0 114.6,30.5 115.5,29.5ZM70.5,31.8L71.6,32.0 71.8,32.5 70.0,34.3 69.0,33.9 68.7,33.0 70.0,32.0ZM109.5,31.9L111.1,32.0 111.6,32.5 111.4,33.0 110.5,33.3 109.5,33.0 109.4,32.0ZM97.5,34.4L99.5,35.4 99.5,36.1 97.1,34.5ZM115.5,34.5L115.5,35.4 114.0,36.3 113.5,36.1 113.5,35.5 115.3,34.5ZM12.0,35.3L12.5,36.0 12.0,36.0 11.7,35.5ZM96.5,35.5L97.0,35.6 97.2,37.0 99.0,38.5 99.3,39.5 98.9,40.0 97.0,39.9 94.5,38.9 94.5,37.0 96.4,35.5ZM101.0,35.5L101.4,36.0 101.0,36.0 100.9,35.5ZM103.5,38.2L104.0,38.5 103.8,39.0 103.1,38.5ZM14.0,38.8L16.5,38.7 17.0,39.2 17.2,40.0 16.5,42.3 16.0,42.5 15.5,41.2 13.5,40.6 13.2,40.0 13.7,39.0ZM87.5,38.9L90.6,40.5 90.7,41.0 88.8,41.0 87.2,39.5 87.4,39.0ZM124.5,39.0L124.5,39.7 124.5,39.0ZM93.0,40.8L93.7,41.5 93.5,43.6 93.0,43.9 92.5,43.4 92.6,41.0ZM103.5,41.4L104.5,41.3 105.4,42.0 105.8,43.0 105.2,44.0 102.5,43.9 102.5,42.5 103.3,41.5ZM111.5,42.9L113.1,43.5 113.0,44.6 110.5,44.2 110.4,43.5 111.0,43.0ZM11.0,43.4L11.8,43.5 12.1,44.0 11.0,45.1 10.4,44.5 10.8,43.5ZM99.5,44.0L101.7,44.5 101.9,45.5 101.0,46.5 99.0,45.8 97.4,46.5 97.5,47.3 96.8,47.0 97.0,46.0 99.4,44.0ZM15.0,44.8L16.0,44.8 16.7,45.5 16.5,48.3 16.0,48.6 15.5,48.0 14.9,48.5 14.1,46.5 14.6,45.0ZM88.5,46.0L89.6,46.0 88.5,46.6 87.9,46.5 88.3,46.0ZM119.0,46.4L119.8,47.0 120.4,48.5 120.0,49.7 119.0,49.5 118.2,48.5 118.1,47.5 118.7,46.5ZM9.5,46.8L11.0,47.5 11.0,51.3 10.0,51.4 8.6,50.5 9.2,47.0ZM81.0,47.0L81.0,47.4 80.9,47.0ZM99.0,48.0L100.5,48.5 100.0,48.9 98.8,48.0ZM74.5,48.9L75.0,48.9 75.1,49.5 74.5,49.0ZM68.0,49.5L68.0,50.3 67.6,50.0 68.0,49.5ZM78.5,49.3L79.5,49.9 79.5,50.9 78.0,50.5 77.7,50.0 78.0,49.5ZM92.5,50.2L92.9,51.0 92.0,51.0 92.0,50.5ZM-1.9,51.0L-1.0,52.0 -2.0,53.4 -2.0,50.9ZM3.0,51.4L4.0,51.5 2.5,53.0 1.9,53.0 1.8,52.5 2.8,51.5ZM17.0,51.5L18.0,51.5 18.4,54.0 20.6,57.0 19.4,59.5 22.0,62.0 22.2,63.0 21.5,63.9 18.5,63.9 17.3,64.5 17.0,65.5 16.0,66.1 14.9,65.5 14.5,64.5 13.1,64.5 12.0,65.2 10.0,63.3 6.0,63.6 5.1,63.0 4.5,61.7 5.0,60.7 8.5,59.6 9.7,58.0 9.7,56.0 11.5,54.7 12.5,54.7 13.6,55.5 13.9,58.0 14.5,58.9 15.5,58.2 16.1,57.0 14.6,55.0 15.9,54.0 16.3,52.0 16.9,51.5ZM14.4,60.5L12.4,61.5 12.5,62.2 14.0,62.4 15.5,61.5 14.5,60.4ZM19.0,51.4L19.7,51.5 19.5,52.1 18.5,51.5ZM65.5,52.6L66.7,53.0 66.5,54.3 65.5,54.3 65.0,53.0ZM25.0,53.4L25.5,53.5 25.7,54.5 24.5,55.4 23.1,55.0 23.5,54.1 24.7,53.5ZM51.5,53.9L52.5,54.4 52.4,55.0 51.5,54.9 51.4,54.0ZM119.0,54.0L119.1,54.5 118.0,55.5 117.4,55.5 117.3,55.0 118.7,54.0ZM61.0,54.4L61.4,55.0 61.0,55.6 60.5,55.1 60.7,54.5ZM57.0,55.9L57.6,56.0 57.5,56.7 56.6,56.0ZM45.5,56.7L46.2,57.0 46.1,57.5 45.4,57.0ZM-1.5,57.3L-0.4,57.5 -0.5,58.2 -1.0,58.3 -2.0,58.1 -2.0,57.3ZM85.0,57.5L86.1,58.5 85.5,59.4 84.5,59.3 83.9,58.5 85.0,57.5ZM124.0,57.9L124.5,57.7 124.5,59.6 123.5,59.0 123.9,58.0ZM103.5,59.4L104.5,59.4 104.9,60.0 104.5,62.0 104.0,62.6 103.1,62.5 102.9,62.0 102.7,60.0 103.1,59.5ZM42.5,60.3L43.5,60.3 43.5,61.3 42.0,61.0 42.2,60.5ZM53.0,60.5L53.5,60.6 53.8,61.5 53.0,61.9 52.7,61.0ZM60.0,61.0L60.5,60.6 60.9,63.5 60.0,63.8 59.5,63.0 60.0,61.0ZM79.0,60.7L80.1,61.5 80.0,62.5 79.0,63.0 78.5,62.5 78.8,61.0ZM67.5,61.4L68.5,61.5 68.5,63.1 67.5,63.6 66.5,63.0 66.4,62.5 67.4,61.5ZM72.0,61.4L72.9,62.0 72.0,62.4 71.5,62.0 71.8,61.5ZM108.0,61.2L109.3,62.0 109.0,62.9 108.0,63.0 107.5,61.5ZM121.5,63.4L122.0,64.0 121.5,64.8 121.0,64.4 121.4,63.5ZM4.0,63.8L4.6,64.0 4.0,64.7 3.3,64.5 3.6,64.0ZM23.0,64.0L23.9,64.0 24.0,64.5 23.0,64.5 23.0,64.0ZM9.0,64.4L10.1,65.0 10.7,66.0 10.2,67.0 9.0,67.7 8.0,67.4 7.5,66.5 7.6,65.5 8.5,64.5ZM41.0,65.0L42.0,65.3 42.0,66.1 41.2,66.0 41.0,65.0ZM83.0,65.0L85.0,65.7 85.0,66.7 82.8,66.0 82.4,65.5 83.0,65.0ZM48.0,65.4L49.0,65.2 50.0,66.4 49.5,68.3 47.8,66.5 47.9,65.5ZM79.0,66.2L79.5,66.2 79.5,67.0 79.0,67.3 78.7,66.5ZM29.0,67.4L29.5,67.5 29.5,68.2 29.0,68.2 28.9,67.5ZM90.0,67.3L90.5,67.0 90.9,68.5 90.5,70.2 90.0,70.8 89.7,70.5 90.0,67.5ZM12.5,68.4L13.0,68.3 13.0,68.8 12.4,68.5ZM98.5,68.8L100.6,69.0 100.7,70.0 100.0,70.9 97.4,70.0 97.1,69.5 98.2,69.0ZM68.0,69.9L69.1,70.5 68.5,70.9 67.8,70.5 67.9,70.0ZM20.5,70.3L21.7,70.5 21.0,72.2 20.0,72.5 19.5,72.0 20.2,70.5ZM119.0,70.5L120.0,70.3 120.4,71.0 119.5,72.8 117.5,72.5 119.0,70.5ZM67.0,70.9L67.3,71.5 67.0,72.0 66.3,71.5 66.7,71.0ZM93.5,70.9L93.5,71.5 92.9,71.5 93.3,71.0ZM13.0,72.4L13.5,72.1 13.9,72.5 13.5,73.1 13.0,72.5ZM39.5,72.5L40.8,73.0 40.5,74.9 39.5,74.9 39.0,74.0 39.5,72.5ZM106.0,72.4L107.0,73.0 107.0,73.8 106.5,74.1 105.5,73.5 105.5,72.5ZM28.0,72.8L28.5,73.5 28.0,73.9 27.5,73.5 27.7,73.0ZM117.5,73.2L118.5,73.4 118.3,74.0 117.5,74.5 117.4,73.5ZM9.0,73.9L10.0,74.0 10.2,74.5 9.5,76.1 8.6,75.0 8.8,74.0ZM-1.7,75.0L-2.0,75.6 -2.0,74.6ZM76.5,75.0L77.2,75.0 77.0,75.5 76.4,75.5 76.5,75.0ZM57.0,75.2L57.0,76.1 56.8,75.5ZM83.0,75.4L84.0,75.4 84.5,76.0 84.0,77.1 82.4,76.0 82.7,75.5ZM103.0,76.5L103.5,76.5 103.5,77.2 103.0,77.1 103.0,76.5ZM39.5,78.2L40.0,78.2 40.4,79.0 39.5,79.1 39.2,78.5ZM59.0,79.0L60.0,79.0 60.5,79.5 60.5,80.5 59.5,80.9 56.6,80.5 57.5,79.3 58.8,79.0ZM109.0,78.8L110.1,79.5 109.5,80.4 108.2,80.0 108.6,79.0ZM25.0,79.1L25.0,80.1 24.7,79.5ZM8.0,81.0L9.1,81.5 9.0,82.4 7.9,82.0 8.0,81.0ZM2.0,81.3L2.7,81.5 2.5,82.6 1.8,82.5 1.8,81.5ZM98.5,81.9L98.9,82.5 98.0,82.5 98.4,82.0ZM91.0,83.0L91.2,83.5 90.5,84.1 90.1,83.5 90.9,83.0ZM64.5,83.5L64.5,84.5 63.6,84.0 64.2,83.5ZM31.5,83.8L32.5,84.1 33.5,86.0 32.5,86.1 31.2,84.0ZM47.0,83.9L47.7,84.0 48.3,85.0 47.7,86.5 47.0,86.7 45.9,86.0 46.9,84.0ZM119.0,85.7L120.3,86.0 120.0,86.5 119.0,86.9 118.7,86.0ZM-1.5,86.3L-1.5,87.0 -2.0,87.2 -2.0,86.0ZM91.0,86.2L91.5,86.0 91.9,86.5 90.2,88.5 89.0,88.6 88.5,88.0 90.7,86.5ZM64.5,86.6L65.0,86.6 65.8,87.5 65.5,88.8 64.0,89.0 63.1,88.5 64.0,87.0ZM60.5,88.0L61.5,88.1 61.0,89.5 59.9,89.5 60.5,88.0ZM19.0,89.4L19.6,89.5 19.5,90.0 19.0,90.3 18.9,89.5ZM85.0,90.0L86.0,90.2 86.0,91.3 84.8,91.0 85.0,90.0ZM4.5,91.0L5.7,91.0 6.4,91.5 6.5,93.0 1.4,93.0 2.5,92.9 4.5,91.0ZM91.5,91.0L92.0,90.5 93.2,91.0 93.5,91.5 93.0,93.0 91.9,93.0 91.5,91.0ZM71.5,91.5L73.5,91.8 73.1,93.0 70.4,93.0 71.4,91.5ZM14.0,92.0L14.6,93.0 13.2,93.0 13.9,92.0ZM100.5,92.0L102.0,93.0 99.9,93.0 100.4,92.0ZM112.5,92.0L113.5,92.0 113.9,93.0 110.9,93.0 112.4,92.0ZM124.0,91.8L124.5,91.7 124.5,93.0 123.1,93.0 123.7,92.0ZM79.5,92.4L80.7,93.0 79.0,93.0 79.2,92.5ZM122.0,92.3L122.6,93.0 121.5,93.0 121.9,92.5ZM38.0,92.7L38.9,93.0 37.7,93.0Z" fill="#40ffb7" fill-rule="evenodd"/>
<path d="M124.0,-0.7L124.5,-0.9 124.5,0.8 123.8,0.5 123.7,-0.5ZM25.5,0.7L26.0,1.0 25.1,1.0ZM117.5,4.4L117.5,5.1 117.1,5.0 117.3,4.5ZM79.5,9.3L80.2,9.5 80.3,10.5 79.0,10.6 79.1,9.5ZM112.5,9.4L112.5,10.0 112.5,9.5ZM21.5,9.9L22.0,9.8 22.6,11.0 21.9,11.0 21.5,10.0ZM70.0,13.5L70.8,13.5 70.5,14.5 69.6,14.0 69.9,13.5ZM98.0,14.0L98.7,14.0 98.5,14.9 97.8,14.5 98.0,14.0ZM27.5,15.9L28.5,15.9 28.9,16.5 28.0,16.8 27.4,16.0ZM88.5,15.8L89.0,15.7 89.6,16.5 90.3,19.0 89.5,20.0 90.0,20.6 92.0,20.3 95.5,20.6 98.0,19.7 100.0,20.7 102.0,20.2 102.9,21.5 105.0,22.2 108.0,21.7 109.5,22.8 112.0,23.0 113.5,24.1 114.0,22.7 115.0,24.0 114.5,24.5 114.0,24.1 112.5,26.8 107.0,30.8 105.0,30.0 103.7,30.0 103.0,30.5 102.6,32.0 102.0,32.4 100.5,32.1 100.0,31.0 98.5,30.4 96.2,31.5 95.0,33.1 93.5,33.2 92.0,32.3 90.5,32.2 88.5,32.3 85.5,33.8 77.0,32.2 75.5,31.3 74.0,31.6 72.7,29.0 73.5,28.2 75.5,30.3 75.7,30.0 75.3,28.0 75.6,24.5 77.3,22.0 84.5,20.3 88.0,20.5 88.4,20.0 88.3,16.0ZM34.0,16.9L35.0,16.6 35.5,17.0 36.7,19.5 36.8,21.0 36.3,22.0 34.5,22.8 33.0,21.6 30.9,22.0 31.3,20.5 33.9,17.0ZM57.0,17.4L58.5,17.4 59.2,18.5 58.6,19.5 57.5,19.8 56.1,19.0 56.9,17.5ZM111.0,17.1L111.9,17.5 111.7,19.0 111.0,19.1 110.7,17.5ZM18.5,17.8L19.8,18.5 19.3,19.0 18.2,19.0 17.8,18.5 18.2,18.0ZM45.0,17.9L45.0,18.7 44.9,18.0ZM94.0,18.0L95.2,19.0 95.0,19.9 93.1,19.0 93.8,18.0ZM102.0,17.8L103.4,18.0 103.8,18.5 103.5,19.2 102.5,19.2 101.7,18.0ZM25.5,18.6L26.3,19.0 27.0,21.0 25.5,21.5 24.5,21.0 24.4,20.0 25.1,19.0ZM39.0,19.0L39.8,19.0 40.8,20.0 40.5,21.5 39.5,21.7 38.6,21.0 38.4,20.0 39.0,19.0ZM117.0,18.8L117.5,19.2 116.7,19.0ZM16.5,19.1L17.0,20.6 16.5,20.8 16.0,19.5ZM20.0,19.7L21.0,20.9 22.5,20.3 23.3,21.0 22.5,21.7 21.5,21.3 21.3,22.0 22.0,25.4 24.0,25.4 24.2,26.5 23.5,26.9 22.5,26.4 22.0,27.5 21.0,27.9 20.2,27.5 20.0,25.6 19.0,25.7 18.0,26.7 17.1,26.5 18.6,25.0 18.3,23.0 19.9,20.0ZM58.0,20.9L65.0,21.5 67.5,21.1 71.0,23.3 72.0,22.5 73.0,22.5 73.5,23.5 73.1,24.5 71.7,25.0 70.8,27.0 69.0,28.4 65.0,29.1 58.5,28.8 55.3,28.0 53.8,26.0 53.9,23.5 55.0,21.5 57.6,21.0ZM15.5,22.4L16.0,22.1 16.2,23.0 15.5,23.0 15.4,22.5ZM27.5,23.4L28.1,24.0 27.5,24.7 26.8,24.0 27.3,23.5ZM13.5,23.8L14.5,24.5 14.3,26.5 15.8,27.0 14.5,28.9 13.9,27.0 12.5,26.0 12.5,25.0 13.1,24.0ZM37.5,23.8L39.0,24.1 39.2,25.0 38.8,25.5 37.4,25.5 37.3,24.0ZM4.5,25.0L6.0,24.8 5.8,26.0 5.0,26.0 4.5,25.0ZM35.0,25.6L35.7,26.0 35.5,26.4 34.8,26.0ZM45.5,26.5L46.0,26.5 45.5,26.5ZM51.5,26.6L52.1,27.0 51.2,27.0ZM17.0,28.6L18.3,29.0 18.3,30.5 19.3,31.5 19.5,32.7 21.0,32.7 22.0,33.6 23.5,33.8 25.5,33.2 23.1,36.5 25.0,38.0 24.7,39.0 25.3,40.5 25.0,40.9 23.5,40.0 21.7,37.5 21.9,36.5 20.5,35.0 19.0,34.8 18.0,34.0 18.3,35.0 17.8,36.0 16.0,36.3 15.3,35.5 15.3,34.5 16.6,33.5 15.3,31.5 16.5,30.4 16.6,29.0ZM40.5,28.9L41.5,29.0 41.9,29.5 41.9,31.0 42.8,32.5 42.7,35.5 40.0,38.2 38.8,40.5 37.3,42.0 37.0,43.0 37.5,44.0 35.5,44.5 35.3,45.5 35.9,46.5 32.5,48.8 29.0,49.9 24.0,50.4 23.0,47.7 20.5,46.6 20.2,45.5 21.5,44.8 23.0,45.3 24.0,44.3 25.5,41.3 27.0,40.6 28.5,40.7 30.0,39.9 30.5,39.0 29.3,37.0 30.5,35.2 32.5,35.5 33.5,35.2 33.9,32.5 35.5,30.2 40.2,29.0ZM44.5,29.4L45.6,29.5 45.5,30.7 44.3,30.5 44.3,29.5ZM59.5,29.2L60.5,29.2 60.7,30.5 59.5,30.7 59.3,29.5ZM115.5,29.8L116.8,30.0 116.5,31.1 115.0,30.7 115.2,30.0ZM24.0,30.3L25.0,30.5 25.7,31.5 25.0,32.9 23.6,32.0 23.2,31.0 23.6,30.5ZM49.5,31.5L50.5,31.2 51.5,32.0 51.5,32.5 50.0,33.3 49.7,34.0 50.8,35.0 54.0,34.6 57.5,35.2 58.2,36.0 57.1,39.5 54.4,42.5 54.2,44.0 53.0,45.8 52.8,47.5 51.5,50.0 48.0,52.2 44.0,53.7 43.1,52.5 40.1,50.5 39.6,48.5 41.0,44.5 42.5,43.6 48.0,37.7 48.4,35.0 49.5,34.0 48.5,33.5 48.5,32.5 49.5,31.5ZM105.5,32.0L106.0,31.9 105.9,32.5 105.2,32.5 105.5,32.0ZM69.5,32.8L70.4,33.0 70.0,33.8 69.2,33.5 69.2,33.0ZM63.0,33.4L63.0,34.3 62.4,34.0 62.8,33.5ZM62.0,37.3L64.0,37.3 69.5,39.3 70.9,41.0 71.2,43.0 65.5,48.7 59.0,52.6 58.4,54.0 58.0,54.2 57.3,53.5 57.8,52.5 56.0,52.3 54.8,50.5 54.7,45.5 56.5,41.5 61.6,37.5ZM95.0,38.0L95.5,37.5 96.1,38.5 95.5,38.7 95.0,38.0ZM97.5,38.8L98.1,39.0 97.4,39.0ZM14.0,39.3L15.5,39.2 16.2,40.0 15.9,40.5 14.0,40.7 13.8,39.5ZM104.0,42.0L104.8,42.5 104.5,43.5 103.5,43.6 103.0,43.0 103.8,42.0ZM100.5,44.4L101.6,45.0 101.0,46.3 100.0,46.1 99.7,45.5 100.3,44.5ZM15.0,45.4L16.0,45.5 16.0,47.0 15.0,46.9 14.9,45.5ZM119.0,46.9L120.0,48.3 120.0,49.2 119.0,49.1 118.6,48.5 118.4,47.5 118.8,47.0ZM10.0,48.2L10.8,49.5 10.5,50.9 9.2,50.5 9.6,48.5ZM52.0,49.9L52.0,50.2 51.7,50.0ZM-1.6,51.5L-1.4,52.5 -2.0,52.9 -2.0,51.3ZM42.0,52.7L42.8,53.5 42.4,54.0 41.5,53.9 41.5,53.0ZM65.5,52.9L66.5,53.1 66.5,54.0 65.5,54.1 65.4,53.0ZM17.0,53.7L18.0,54.8 18.6,56.5 17.5,56.9 16.6,56.5 16.3,55.5 16.8,54.0ZM11.5,54.8L12.7,55.0 13.6,56.5 12.9,58.5 13.6,59.0 13.9,60.0 13.0,60.7 11.5,60.7 10.5,62.2 9.0,61.7 8.6,62.5 7.5,63.2 6.0,63.1 5.4,62.5 5.1,61.5 5.6,61.0 7.0,60.4 8.5,60.5 10.2,58.5 10.1,56.0 11.2,55.0ZM17.5,57.2L18.5,58.3 18.7,60.0 20.5,60.4 21.2,61.0 21.8,62.5 21.4,63.5 19.5,63.7 16.7,63.0 16.5,62.5 17.0,62.0 15.4,59.5 17.1,57.5ZM85.0,58.1L85.5,58.6 85.0,59.0 84.6,58.5ZM124.5,58.3L124.5,59.3 124.0,59.0 124.1,58.5ZM104.0,60.0L104.2,61.5 103.5,62.1 103.3,60.5 103.8,60.0ZM79.5,61.4L79.5,62.4 79.0,62.3 79.0,61.5ZM67.5,62.0L68.0,61.9 68.3,62.5 68.0,63.1 67.0,63.0 67.5,62.0ZM108.0,61.9L108.9,62.0 108.5,62.6 108.0,62.0ZM60.0,62.2L60.4,62.5 60.0,63.0 59.9,62.5ZM15.5,64.3L16.7,64.5 16.5,65.7 15.3,65.5 15.3,64.5ZM8.5,64.8L9.5,64.8 10.2,65.5 9.8,67.0 9.0,67.3 8.0,66.8 7.8,66.0 8.3,65.0ZM48.5,65.9L49.6,66.5 49.5,67.7 48.9,67.5 48.4,66.0ZM98.5,69.4L100.2,69.5 100.0,70.3 99.5,70.5 98.3,70.0 98.2,69.5ZM20.5,70.8L21.1,71.0 21.0,71.6 20.5,71.9 20.0,71.5 20.3,71.0ZM119.0,71.0L119.9,71.0 119.5,72.3 118.7,72.0 119.0,71.0ZM40.0,72.9L40.5,73.5 40.0,74.3 39.5,74.0 39.5,73.0ZM9.5,74.3L9.5,75.1 9.1,74.5ZM58.5,79.4L60.0,79.3 60.3,80.0 60.0,80.5 57.7,80.0 58.1,79.5ZM47.0,84.7L47.8,85.0 47.6,86.0 46.6,86.0 46.7,85.0ZM64.5,87.2L65.4,87.5 65.2,88.5 63.9,88.5 64.1,87.5ZM89.5,87.5L90.0,87.5 90.0,88.1 89.0,88.1 89.4,87.5ZM92.0,91.0L93.1,91.5 92.7,93.0 92.0,92.1 92.0,91.0ZM4.5,91.2L6.1,91.5 6.2,93.0 3.1,93.0 4.0,91.5ZM112.5,92.3L113.0,92.2 113.6,93.0 111.7,93.0 112.2,92.5ZM124.0,92.2L124.5,92.0 124.5,93.0 123.5,93.0 123.7,92.5ZM13.5,92.9L14.0,92.5 14.2,93.0 13.5,93.0Z" fill="#b7ff40" fill-rule="evenodd"/>
<path d="M124.5,-0.5L124.5,0.4 124.1,0.0 124.5,-0.5ZM79.5,9.8L79.5,10.3 79.2,10.0ZM88.5,16.4L89.2,16.5 88.5,17.3 88.5,16.5ZM89.5,17.0L89.5,19.2 89.0,19.5 88.8,18.0 89.5,17.0ZM34.5,17.7L35.0,17.6 36.3,19.5 36.0,22.0 34.5,22.4 33.5,21.5 33.3,21.0 34.0,19.6 35.6,19.5 34.0,18.5 34.3,18.0ZM18.5,18.2L18.8,18.5 18.2,18.5ZM39.5,19.8L40.5,20.5 40.0,21.3 39.2,21.0 39.2,20.0ZM98.0,20.0L100.0,20.9 102.0,20.5 102.6,21.5 105.0,22.4 108.0,21.8 110.0,23.1 112.5,23.3 113.5,25.0 112.5,26.6 109.5,29.2 106.0,30.2 103.5,30.0 101.5,32.0 100.5,31.0 98.0,30.2 94.5,33.0 91.6,32.0 92.0,31.2 90.5,31.4 90.0,32.0 88.5,32.1 86.0,33.4 77.4,32.0 76.2,31.0 75.5,28.5 75.8,24.5 77.6,22.0 81.3,21.5 83.0,20.8 87.0,20.9 89.0,20.2 90.0,20.8 94.0,20.9 97.8,20.0ZM32.5,20.1L32.5,21.0 31.8,21.0 32.0,20.5ZM56.5,21.5L65.0,21.8 67.0,21.5 69.5,22.5 71.0,24.5 70.5,27.0 69.5,27.8 65.5,28.8 65.0,28.4 58.5,28.5 55.0,27.3 54.0,25.5 54.1,23.5 55.0,22.0 56.4,21.5ZM20.0,21.9L21.5,23.3 20.5,25.0 20.0,25.0 20.3,24.5 19.3,24.5 19.5,23.7 19.0,24.0 19.0,22.9 19.8,22.0ZM19.9,22.5L20.3,22.5 20.0,22.3ZM19.3,23.0L19.5,23.3 19.5,22.9ZM38.0,24.0L38.6,24.5 38.0,25.1 37.5,24.5 37.9,24.0ZM13.0,24.4L14.1,24.5 14.0,26.0 12.9,26.0 12.9,24.5ZM20.5,26.4L21.5,26.3 21.6,27.5 20.5,27.5 20.4,26.5ZM17.0,28.9L18.0,29.0 17.8,30.5 19.0,31.5 18.5,33.5 17.0,33.5 16.0,32.5 16.2,31.0 17.2,30.5 16.9,29.0ZM73.5,28.6L74.0,29.6 73.5,29.8 73.1,29.0ZM45.0,29.4L45.6,30.0 45.0,30.6 44.4,30.0 44.8,29.5ZM60.0,29.4L60.6,30.0 60.0,30.6 59.4,30.0 59.8,29.5ZM36.5,29.9L41.0,29.8 42.6,32.5 42.7,35.0 39.6,38.5 38.5,40.7 37.0,42.0 36.4,43.0 36.7,43.5 35.2,44.5 35.2,46.5 34.6,47.0 32.5,48.6 29.5,49.6 24.5,50.2 23.9,50.0 22.5,46.0 23.8,45.0 25.5,41.7 27.0,40.8 29.0,40.6 30.5,39.5 30.0,37.0 30.5,36.0 31.0,35.5 33.5,35.4 34.5,31.5 36.4,30.0ZM74.5,29.9L74.6,31.0 73.6,30.5 74.4,30.0ZM116.0,29.9L116.5,30.5 116.0,30.9 115.3,30.5 115.8,30.0ZM24.0,30.9L25.1,31.0 25.0,32.1 23.9,32.0 23.8,31.0ZM16.0,34.0L17.0,33.7 17.5,34.5 17.6,35.5 17.1,36.0 16.0,36.0 15.5,35.5 15.5,34.5 16.0,34.0ZM22.0,34.4L23.0,34.4 23.1,35.5 22.0,35.6 21.9,34.5ZM53.0,34.8L57.5,35.4 58.0,36.0 57.6,38.0 55.9,41.0 54.2,42.5 52.5,47.6 50.8,50.0 48.0,52.1 45.0,53.1 44.0,53.0 41.5,51.5 40.3,50.5 40.1,47.0 46.2,39.5 48.0,37.9 49.0,35.6 51.5,35.5 52.6,35.0ZM62.0,37.5L65.5,37.9 69.5,39.5 70.9,41.5 70.4,44.0 62.5,50.7 59.0,52.3 56.5,52.3 55.4,51.5 54.7,49.5 54.9,45.5 56.4,42.0 61.9,37.5ZM14.5,39.7L14.8,40.0 14.5,40.3 14.2,40.0ZM101.0,44.9L101.5,45.5 101.0,46.1 100.0,45.5 100.6,45.0ZM10.0,49.3L10.5,49.6 10.4,50.5 9.5,50.4 9.6,49.5ZM-1.8,52.0L-2.0,52.5 -2.0,51.7ZM42.0,52.9L42.6,53.5 42.1,54.0 41.4,53.5 41.9,53.0ZM58.0,52.9L58.6,53.5 58.1,54.0 57.4,53.5 57.9,53.0ZM66.0,52.9L66.6,53.5 66.0,54.1 65.4,53.5 65.8,53.0ZM11.0,55.4L12.5,55.2 13.4,56.5 13.0,57.7 12.0,58.4 11.2,58.5 10.5,57.7 10.3,56.5 10.7,55.5ZM16.5,58.9L17.6,59.0 17.6,60.0 16.5,60.1 16.4,59.0ZM19.0,60.7L20.0,60.5 20.9,61.0 21.5,62.7 20.0,63.5 19.0,63.2 18.1,62.0 18.7,61.0ZM6.5,61.3L7.7,61.5 7.5,62.7 6.3,62.5 6.3,61.5ZM16.0,64.5L16.5,65.0 16.1,65.5 15.5,65.0 15.9,64.5ZM9.0,65.0L10.0,66.0 9.0,67.0 8.0,66.0 8.9,65.0ZM59.0,79.7L59.5,79.5 59.9,80.0 58.8,80.0ZM4.5,91.5L6.0,91.8 5.8,93.0 3.5,93.0 4.0,91.9 4.7,92.0 4.4,91.5ZM124.5,92.4L124.5,93.0 123.9,93.0 124.3,92.5ZM112.5,92.8L113.3,93.0 112.3,93.0Z" fill="#ffb900" fill-rule="evenodd"/>
<path d="M34.5,19.9L35.9,20.5 35.5,22.0 34.5,22.1 33.9,21.5 33.9,20.5 34.4,20.0ZM98.0,20.4L101.5,21.1 105.0,22.6 108.0,21.9 109.5,23.0 112.5,23.5 113.2,24.5 113.1,25.5 110.5,28.3 109.0,29.2 104.0,29.7 101.5,30.9 98.0,30.0 94.0,32.9 92.2,32.0 92.7,31.0 92.0,30.2 91.2,31.0 90.0,31.0 89.5,31.7 86.0,33.3 77.5,31.7 76.7,31.0 75.5,27.5 75.9,24.5 77.9,22.0 81.5,21.6 84.5,20.7 87.0,21.0 89.0,20.5 90.0,20.9 92.0,20.7 94.5,21.1 97.8,20.5ZM56.0,21.9L60.5,21.7 68.7,22.5 70.0,23.5 70.5,25.0 70.3,26.5 69.3,27.5 61.5,28.3 56.0,27.5 54.8,26.5 54.3,25.0 54.6,23.0 55.8,22.0ZM13.5,24.8L13.7,25.0 13.3,25.0ZM37.0,29.9L41.0,30.2 42.4,32.5 42.5,35.3 39.8,38.0 38.5,40.5 36.0,43.2 35.5,42.6 34.7,43.0 35.6,43.5 34.9,44.5 34.8,46.5 34.4,47.0 32.5,48.4 29.0,49.7 24.0,49.7 23.0,46.1 24.0,45.2 25.5,41.9 27.0,41.0 29.0,40.7 30.5,39.7 30.9,36.5 31.5,36.0 33.9,35.5 34.3,32.0 36.6,30.0ZM17.5,30.9L18.5,31.5 18.5,32.5 18.0,33.0 16.5,32.5 16.5,31.5 17.0,31.0ZM24.5,31.3L24.7,31.5 24.3,31.5ZM16.5,34.4L17.1,35.0 16.5,35.6 15.9,35.0 16.2,34.5ZM53.0,35.0L57.4,35.5 57.9,36.0 57.6,37.5 55.7,41.0 54.1,42.5 52.4,47.5 50.4,50.0 47.9,52.0 44.5,52.8 41.8,51.5 40.2,49.5 40.2,47.0 46.3,39.5 48.1,38.0 49.0,36.0 51.5,35.8 52.9,35.0ZM61.5,37.8L65.7,38.0 70.0,40.0 70.7,41.5 70.2,44.0 67.9,45.5 65.5,48.3 62.5,50.6 59.0,52.1 57.0,52.3 55.6,51.5 54.8,49.5 54.9,46.0 56.3,42.5 61.2,38.0ZM42.0,53.3L42.2,53.5 41.8,53.5ZM58.0,53.3L58.2,53.5 57.8,53.5ZM66.0,53.3L66.0,53.7 65.8,53.5ZM11.5,55.4L12.8,56.0 12.9,57.0 12.5,57.6 11.5,57.8 10.7,57.0 10.8,56.0 11.3,55.5ZM19.5,60.9L20.8,61.5 20.8,62.5 20.3,63.0 19.5,63.1 18.8,62.5 18.8,61.5 19.3,61.0ZM9.0,65.5L9.5,66.0 9.1,66.5 8.5,66.0 8.9,65.5Z" fill="#ff3000" fill-rule="evenodd"/>
<path d="M34.5,20.4L35.4,20.5 35.4,21.5 34.4,21.5 34.4,20.5ZM83.5,20.9L87.0,21.2 89.0,20.8 90.5,21.2 92.0,20.8 95.5,21.2 98.0,20.6 104.5,22.6 108.0,22.1 109.5,23.2 112.0,23.3 113.0,24.5 112.9,25.5 110.5,28.2 109.0,29.1 104.0,29.6 101.0,30.5 98.0,29.7 94.0,32.7 92.7,32.0 93.1,31.0 92.0,29.8 91.0,30.6 90.0,30.5 89.4,31.5 86.0,33.2 78.5,32.1 77.0,30.9 75.8,28.5 76.0,24.5 77.5,22.5 78.5,22.0 82.0,21.9 81.9,23.0 82.5,23.6 83.0,22.0 82.4,21.5 83.3,21.0ZM101.3,22.5L101.5,23.7 103.0,23.9 103.2,23.5 102.5,22.3 101.5,22.3ZM78.9,28.5L78.5,30.5 79.0,30.8 79.5,30.5 80.3,28.5 79.0,28.4ZM58.0,22.0L67.5,22.5 69.6,23.5 70.2,25.5 69.5,27.0 62.5,28.0 57.5,27.7 55.2,26.5 54.6,25.0 55.0,23.1 56.0,22.3 57.7,22.0ZM37.0,30.0L41.0,30.6 42.3,32.5 42.4,35.0 41.4,36.5 39.5,37.8 38.0,40.9 36.5,42.3 35.5,41.9 34.1,42.5 35.0,44.0 34.2,47.0 32.5,48.2 29.0,49.6 24.5,49.7 23.3,46.5 24.3,45.5 24.5,44.5 26.5,45.9 26.8,45.5 26.5,44.2 26.0,43.3 25.0,43.9 25.0,42.6 26.5,41.5 28.5,41.0 30.3,40.0 31.6,36.5 34.3,35.5 34.2,33.0 34.7,31.5 36.9,30.0ZM35.4,35.0L34.6,36.5 36.0,36.4 36.3,35.5 36.0,34.9 35.5,34.9ZM28.0,47.0L29.2,47.5 29.3,47.0 28.0,46.9ZM17.5,31.5L18.0,32.0 17.5,32.5 17.0,32.0ZM53.0,35.2L57.1,35.5 57.7,36.0 57.5,37.5 55.6,41.0 53.8,42.5 53.6,44.0 52.2,47.5 50.2,50.0 48.0,51.7 45.0,52.6 42.5,51.7 40.4,49.5 40.2,47.5 45.0,41.7 45.7,41.5 46.0,43.4 46.5,43.3 47.1,42.0 46.5,39.5 48.3,38.0 49.0,36.3 50.0,35.9 51.5,36.3 52.5,35.5ZM50.2,37.0L49.4,38.0 50.5,38.4 51.2,37.5 50.5,36.9ZM61.5,37.9L65.4,38.0 67.5,39.0 68.0,39.8 70.0,40.2 70.5,41.5 69.5,42.5 70.3,43.5 70.0,44.0 67.5,45.2 67.0,46.5 65.6,48.0 64.0,48.7 62.5,50.4 60.5,50.7 58.5,52.1 57.0,52.2 55.7,51.5 54.9,49.5 55.1,46.0 56.0,44.5 56.5,42.5 61.4,38.0ZM58.2,48.5L59.5,50.2 60.5,50.1 59.0,48.1 58.5,48.1ZM11.5,55.9L12.6,56.5 12.0,57.3 11.2,57.0 11.4,56.0ZM19.5,61.4L20.3,61.5 20.3,62.5 19.3,62.5 19.3,61.5Z" fill="#800000" fill-rule="evenodd"/>
<path d="M20.5,-2.0L31.4,-2.0 32.1,0.5 31.8,2.0 32.3,3.0 32.0,3.8 28.6,5.5 25.5,8.0 21.3,13.0 18.5,14.9 17.3,10.0 17.6,7.0 18.9,3.0 18.7,1.0 20.2,-2.0ZM46.0,-2.0L62.6,-2.0 62.0,4.0 57.5,5.3 50.5,9.0 48.5,7.9 45.0,4.5 41.6,3.5 41.4,2.0 41.9,1.5 43.5,1.4 45.5,0.4 45.9,-2.0ZM117.5,-2.0L124.3,-2.0 124.3,1.0 123.6,2.5 119.5,2.9 118.0,2.2 117.2,-2.0ZM71.0,1.2L72.1,1.5 72.5,2.5 71.0,3.2 70.8,1.5ZM82.0,1.3L84.5,1.4 84.6,2.5 84.1,3.0 82.0,3.0 81.8,1.5ZM73.5,2.0L74.1,2.5 73.5,3.1 72.5,2.5 73.3,2.0ZM87.5,3.4L89.0,3.5 89.2,5.0 88.5,5.5 87.0,5.5 87.1,3.5ZM98.5,3.9L99.5,3.9 100.3,4.5 96.8,9.0 95.0,10.3 92.0,10.2 90.2,9.0 89.9,8.0 92.5,5.7 94.0,5.5 96.0,6.1 97.3,5.5 98.3,4.0ZM31.0,10.3L32.0,10.5 31.7,11.5 28.0,13.6 26.5,13.0 26.7,12.5 30.6,10.5ZM119.5,34.8L123.5,34.8 124.5,35.9 124.1,38.5 124.5,42.6 123.7,43.5 124.5,45.8 124.5,51.3 124.1,52.0 124.5,53.7 124.1,54.5 124.5,55.1 124.5,60.3 121.0,60.0 117.0,60.7 114.0,60.1 110.0,60.6 108.5,59.9 106.5,60.5 102.5,59.7 100.5,60.2 96.5,59.7 95.5,60.4 94.5,59.5 97.0,52.0 99.0,50.7 99.4,49.5 101.0,48.2 103.5,48.5 106.5,47.8 112.0,47.7 120.0,43.6 123.3,41.0 119.6,39.5 119.2,38.0 119.8,36.5 119.3,35.0ZM77.5,46.3L83.5,47.4 84.0,48.5 83.3,52.5 84.7,54.5 85.1,56.0 88.5,59.2 88.8,60.0 82.0,60.3 80.5,60.0 78.0,60.4 76.0,59.9 73.5,60.1 72.5,59.6 72.5,57.5 71.6,55.5 72.6,54.0 72.7,52.0 72.2,51.0 72.5,48.5 73.0,48.1 76.5,47.6 77.3,46.5ZM12.0,72.9L17.0,72.7 19.0,73.5 26.5,74.4 28.0,74.9 28.2,75.5 28.0,77.5 27.5,77.9 23.5,78.4 11.0,78.2 10.5,77.5 10.7,74.5 11.6,73.0Z" fill="#ffffff" fill-rule="evenodd"/>
</g>
<polyline points="20.6,-3.0 4.8,75.6 25.1,78.8 124.0,91.2" fill="none" stroke="#000" stroke-width="0.8"/>
<polygon points="9.8,92.0 11.1,90.6 17.3,86.7 21.6,83.2 24.7,80.1 26.8,78.8 30.3,77.1 33.8,74.9 37.3,73.2 39.9,70.1 40.8,67.5 39.1,65.7 40.8,64.4 45.4,62.0 50.2,60.8 56.2,59.6 60.8,57.5 64.6,55.8 71.8,55.4 76.5,55.5 79.0,56.2 77.2,58.0 79.6,60.4 83.8,62.2 87.4,61.6 92.2,59.4 98.2,59.0 105.4,59.4 112.6,59.4 124.0,59.0 124.0,92.0" fill="#f4a460"/>
<polygon points="53.4,65.1 54.7,64.1 57.3,63.5 60.0,63.1 62.6,63.3 63.6,64.1 61.9,65.1 59.3,65.7 56.7,66.7 54.7,67.1 53.5,66.4" fill="#6495ed"/>
<polygon points="69.5,60.5 70.4,59.5 72.4,59.2 74.0,60.2 75.0,61.8 77.0,63.5 79.6,64.8 80.6,66.1 79.6,66.7 77.0,65.7 74.4,64.8 71.1,64.8 69.8,64.1 69.1,62.5" fill="#6495ed"/>
<polygon points="72.1,12.4 73.7,10.7 75.8,9.7 77.9,9.4 80.2,10.0 82.6,11.4 84.2,13.1 84.6,15.4 83.6,17.8 81.9,19.1 79.9,20.1 77.9,20.4 75.8,19.8 73.7,18.4 72.4,16.7 71.7,14.4" fill="#f4a460" stroke="#5a3a20" stroke-width="0.5"/>
<polygon points="58.3,24.8 59.6,23.1 61.6,22.5 63.3,23.1 62.7,24.5 61.6,25.5 63.0,26.5 62.3,27.8 60.3,27.5 59.0,26.5" fill="#f4a460" stroke="#5a3a20" stroke-width="0.5"/>
<polygon points="64.3,22.1 66.3,21.6 68.0,22.8 69.0,24.5 69.7,26.1 68.4,27.5 66.7,28.2 65.7,26.8 66.3,25.5 65.3,24.1 64.3,23.5" fill="#f4a460" stroke="#5a3a20" stroke-width="0.5"/>
<polygon points="61.0,28.2 63.0,27.8 64.3,28.8 63.7,30.0 61.6,30.0" fill="#f4a460" stroke="#5a3a20" stroke-width="0.5"/>
<rect x="20.0" y="28.6" width="52.2" height="26.1" fill="none" stroke="#ff00ff" stroke-width="1.8"/>
<rect x="73.9" y="15.6" width="43.0" height="18.6" fill="none" stroke="#ffff00" stroke-width="1.5"/>
<line x1="45.2" y1="60.5" x2="54.8" y2="16.8" stroke="#ff0000" stroke-width="1.7"/>
<polygon points="55.7,12.9 56.8,17.2 52.9,16.4" fill="#ff0000"/>
<line x1="91.7" y1="48.4" x2="101.3" y2="6.1" stroke="#008000" stroke-width="1.4"/>
<polygon points="102.2,2.2 103.3,6.5 99.4,5.7" fill="#008000"/>
<rect x="0" y="0" width="122.2" height="91.0" fill="none" stroke="#333" stroke-width="0.70"/>
</g></g>
<text x="85.5" y="128.6" font-size="7.70" text-anchor="middle" fill="#262626" stroke="#262626" stroke-width="0.18">(d) Rain Rate</text>
<text x="23.2" y="133.9" font-size="6.10" text-anchor="end" fill="#262626" stroke="#262626" stroke-width="0.18">36.5°N</text>
<text x="23.2" y="164.2" font-size="6.10" text-anchor="end" fill="#262626" stroke="#262626" stroke-width="0.18">36°N</text>
<text x="23.2" y="194.6" font-size="6.10" text-anchor="end" fill="#262626" stroke="#262626" stroke-width="0.18">35.5°N</text>
<text x="23.2" y="224.9" font-size="6.10" text-anchor="end" fill="#262626" stroke="#262626" stroke-width="0.18">35°N</text>
<text x="24.2" y="228.6" font-size="6.10" text-anchor="middle" fill="#262626" stroke="#262626" stroke-width="0.18">132°E</text>
<text x="54.8" y="228.6" font-size="6.10" text-anchor="middle" fill="#262626" stroke="#262626" stroke-width="0.18">132.5°E</text>
<text x="85.3" y="228.6" font-size="6.10" text-anchor="middle" fill="#262626" stroke="#262626" stroke-width="0.18">133°E</text>
<text x="115.9" y="228.6" font-size="6.10" text-anchor="middle" fill="#262626" stroke="#262626" stroke-width="0.18">133.5°E</text>
<text x="146.4" y="228.6" font-size="6.10" text-anchor="middle" fill="#262626" stroke="#262626" stroke-width="0.18">134°E</text>
<rect x="150.3" y="211.58" width="6.5" height="11.38" fill="#000080"/>
<rect x="150.3" y="200.25" width="6.5" height="11.38" fill="#0010ff"/>
<rect x="150.3" y="188.93" width="6.5" height="11.38" fill="#00a4ff"/>
<rect x="150.3" y="177.60" width="6.5" height="11.38" fill="#40ffb7"/>
<rect x="150.3" y="166.28" width="6.5" height="11.38" fill="#b7ff40"/>
<rect x="150.3" y="154.95" width="6.5" height="11.38" fill="#ffb900"/>
<rect x="150.3" y="143.62" width="6.5" height="11.38" fill="#ff3000"/>
<rect x="150.3" y="132.30" width="6.5" height="11.38" fill="#800000"/>
<rect x="150.3" y="132.3" width="6.5" height="90.6" fill="none" stroke="#333" stroke-width="0.6"/>
<line x1="156.8" y1="222.9" x2="158.3" y2="222.9" stroke="#333" stroke-width="0.5"/>
<text x="160.3" y="224.5" font-size="4.60" text-anchor="start" fill="#262626" stroke="#262626" stroke-width="0.18">0</text>
<line x1="156.8" y1="211.6" x2="158.3" y2="211.6" stroke="#333" stroke-width="0.5"/>
<text x="160.3" y="213.2" font-size="4.60" text-anchor="start" fill="#262626" stroke="#262626" stroke-width="0.18">2</text>
<line x1="156.8" y1="200.2" x2="158.3" y2="200.2" stroke="#333" stroke-width="0.5"/>
<text x="160.3" y="201.8" font-size="4.60" text-anchor="start" fill="#262626" stroke="#262626" stroke-width="0.18">4</text>
<line x1="156.8" y1="188.9" x2="158.3" y2="188.9" stroke="#333" stroke-width="0.5"/>
<text x="160.3" y="190.5" font-size="4.60" text-anchor="start" fill="#262626" stroke="#262626" stroke-width="0.18">6</text>
<line x1="156.8" y1="177.6" x2="158.3" y2="177.6" stroke="#333" stroke-width="0.5"/>
<text x="160.3" y="179.2" font-size="4.60" text-anchor="start" fill="#262626" stroke="#262626" stroke-width="0.18">8</text>
<line x1="156.8" y1="166.3" x2="158.3" y2="166.3" stroke="#333" stroke-width="0.5"/>
<text x="160.3" y="167.9" font-size="4.60" text-anchor="start" fill="#262626" stroke="#262626" stroke-width="0.18">10</text>
<line x1="156.8" y1="155.0" x2="158.3" y2="155.0" stroke="#333" stroke-width="0.5"/>
<text x="160.3" y="156.6" font-size="4.60" text-anchor="start" fill="#262626" stroke="#262626" stroke-width="0.18">12</text>
<line x1="156.8" y1="143.6" x2="158.3" y2="143.6" stroke="#333" stroke-width="0.5"/>
<text x="160.3" y="145.2" font-size="4.60" text-anchor="start" fill="#262626" stroke="#262626" stroke-width="0.18">14</text>
<line x1="156.8" y1="132.3" x2="158.3" y2="132.3" stroke="#333" stroke-width="0.5"/>
<text x="160.3" y="133.9" font-size="4.60" text-anchor="start" fill="#262626" stroke="#262626" stroke-width="0.18">16</text>
<text transform="translate(176.8 182.2) rotate(-90)" font-size="6.80" text-anchor="middle" fill="#262626" stroke="#262626" stroke-width="0.15">Rain Rate (mm/hr)</text>
<line x1="215.3" y1="131.5" x2="215.3" y2="222.2" stroke="#d4d4d4" stroke-width="0.7"/>
<line x1="241.0" y1="131.5" x2="241.0" y2="222.2" stroke="#d4d4d4" stroke-width="0.7"/>
<line x1="266.6" y1="131.5" x2="266.6" y2="222.2" stroke="#d4d4d4" stroke-width="0.7"/>
<line x1="292.2" y1="131.5" x2="292.2" y2="222.2" stroke="#d4d4d4" stroke-width="0.7"/>
<line x1="317.9" y1="131.5" x2="317.9" y2="222.2" stroke="#d4d4d4" stroke-width="0.7"/>
<line x1="209.5" y1="136.4" x2="340.5" y2="136.4" stroke="#b8b8b8" stroke-width="0.5" stroke-dasharray="1.2 1.0"/>
<line x1="209.5" y1="150.7" x2="340.5" y2="150.7" stroke="#b8b8b8" stroke-width="0.5" stroke-dasharray="1.2 1.0"/>
<line x1="209.5" y1="165.0" x2="340.5" y2="165.0" stroke="#b8b8b8" stroke-width="0.5" stroke-dasharray="1.2 1.0"/>
<line x1="209.5" y1="179.3" x2="340.5" y2="179.3" stroke="#b8b8b8" stroke-width="0.5" stroke-dasharray="1.2 1.0"/>
<line x1="209.5" y1="193.6" x2="340.5" y2="193.6" stroke="#b8b8b8" stroke-width="0.5" stroke-dasharray="1.2 1.0"/>
<line x1="209.5" y1="207.9" x2="340.5" y2="207.9" stroke="#b8b8b8" stroke-width="0.5" stroke-dasharray="1.2 1.0"/>
<line x1="209.5" y1="149.6" x2="340.5" y2="149.6" stroke="#c8c8c8" stroke-width="0.5" stroke-dasharray="1.2 1.0"/>
<line x1="209.5" y1="167.8" x2="340.5" y2="167.8" stroke="#c8c8c8" stroke-width="0.5" stroke-dasharray="1.2 1.0"/>
<line x1="209.5" y1="185.9" x2="340.5" y2="185.9" stroke="#c8c8c8" stroke-width="0.5" stroke-dasharray="1.2 1.0"/>
<line x1="209.5" y1="204.1" x2="340.5" y2="204.1" stroke="#c8c8c8" stroke-width="0.5" stroke-dasharray="1.2 1.0"/>
<polygon points="215.3,222.2 215.3,221.2 246.5,220.8 247.4,219.5 247.8,192.8 249.2,192.8 249.4,202.2 251.1,202.2 251.4,185.9 252.5,185.9 252.8,179.1 254.3,179.1 254.5,177.4 255.6,177.4 255.7,169.7 256.4,169.7 256.6,179.1 257.8,179.1 258.0,178.2 259.1,178.2 259.3,185.9 260.0,185.9 260.2,181.7 261.2,181.7 261.4,189.4 262.9,189.4 263.1,186.8 264.6,186.8 264.8,194.5 265.4,194.5 265.6,187.6 267.2,187.6 267.4,195.3 268.9,195.3 269.1,192.8 270.2,192.8 270.4,194.5 271.0,194.5 271.1,201.3 272.5,209.9 274.2,215.0 275.9,217.6 279.3,220.1 285.0,219.4 290.3,218.1 292.9,215.5 294.9,214.2 296.8,214.2 299.5,212.2 302.1,210.5 304.7,214.2 308.0,216.2 311.3,219.4 314.0,219.4 317.9,216.2 320.5,217.5 323.2,219.4 327.1,221.4 332.4,222.0 332.4,222.2" fill="#1f77b4"/>
<polyline points="215.2,171.5 218.0,168.4 221.9,168.7 225.1,168.9 227.0,164.5 228.6,167.4 231.5,164.1 234.8,151.9 239.9,147.4 244.4,144.2 247.7,144.8 250.0,146.8 252.6,137.7 255.1,142.2 257.7,136.4 260.5,137.1 263.8,135.4 265.7,137.5 268.0,137.7 270.2,141.0 272.8,148.0 276.0,153.2 279.2,151.6 281.7,153.2 286.9,153.8 293.3,153.8 295.9,159.4 298.5,159.0 302.3,154.5 306.2,153.2 309.8,151.6 314.0,155.1 317.8,156.4 320.4,158.3 323.0,167.4 325.5,162.2 328.1,157.1 330.0,156.8 332.0,158.3 334.6,157.3" fill="none" stroke="#ff0000" stroke-width="1.35" stroke-linejoin="round"/>
<polyline points="215.3,204.3 219.5,211.5 223.5,219.4 226.1,216.5 228.7,215.2 230.7,212.9 234.0,200.4 238.0,197.1 243.2,193.8 245.9,191.8 249.0,192.8 251.1,180.0 252.0,176.5 253.7,175.7 256.2,179.1 258.8,177.4 260.5,178.2 263.9,175.7 267.4,178.2 269.9,184.2 272.5,191.9 275.0,197.9 278.5,198.8 282.7,197.9 287.9,198.8 291.3,199.6 294.7,203.0 296.2,204.3 299.5,201.0 303.4,197.7 307.4,197.3 310.0,198.4 313.3,202.3 315.9,201.7 319.2,205.6 321.9,210.2 324.5,214.2 327.1,207.6 329.8,205.0 331.7,205.6 333.7,205.0" fill="none" stroke="#ff0000" stroke-width="1.45" stroke-linejoin="round" stroke-dasharray="2.6 1.4"/>
<rect x="209.5" y="131.5" width="131.0" height="90.7" fill="none" stroke="#9a9a9a" stroke-width="1.3"/>
<line x1="207.5" y1="136.4" x2="209.5" y2="136.4" stroke="#333" stroke-width="0.6"/>
<text x="205.3" y="138.6" font-size="6.20" text-anchor="end" fill="#262626" stroke="#262626" stroke-width="0.18">−10</text>
<line x1="207.5" y1="150.7" x2="209.5" y2="150.7" stroke="#333" stroke-width="0.6"/>
<text x="205.3" y="152.9" font-size="6.20" text-anchor="end" fill="#262626" stroke="#262626" stroke-width="0.18">−15</text>
<line x1="207.5" y1="165.0" x2="209.5" y2="165.0" stroke="#333" stroke-width="0.6"/>
<text x="205.3" y="167.2" font-size="6.20" text-anchor="end" fill="#262626" stroke="#262626" stroke-width="0.18">−20</text>
<line x1="207.5" y1="179.3" x2="209.5" y2="179.3" stroke="#333" stroke-width="0.6"/>
<text x="205.3" y="181.5" font-size="6.20" text-anchor="end" fill="#262626" stroke="#262626" stroke-width="0.18">−25</text>
<line x1="207.5" y1="193.6" x2="209.5" y2="193.6" stroke="#333" stroke-width="0.6"/>
<text x="205.3" y="195.8" font-size="6.20" text-anchor="end" fill="#262626" stroke="#262626" stroke-width="0.18">−30</text>
<line x1="207.5" y1="207.9" x2="209.5" y2="207.9" stroke="#333" stroke-width="0.6"/>
<text x="205.3" y="210.1" font-size="6.20" text-anchor="end" fill="#262626" stroke="#262626" stroke-width="0.18">−35</text>
<line x1="207.5" y1="222.2" x2="209.5" y2="222.2" stroke="#333" stroke-width="0.6"/>
<text x="205.3" y="224.4" font-size="6.20" text-anchor="end" fill="#262626" stroke="#262626" stroke-width="0.18">−40</text>
<line x1="340.5" y1="131.5" x2="342.5" y2="131.5" stroke="#333" stroke-width="0.6"/>
<text x="343.5" y="133.7" font-size="6.20" text-anchor="start" fill="#262626" stroke="#262626" stroke-width="0.18">100</text>
<line x1="340.5" y1="149.6" x2="342.5" y2="149.6" stroke="#333" stroke-width="0.6"/>
<text x="343.5" y="151.8" font-size="6.20" text-anchor="start" fill="#262626" stroke="#262626" stroke-width="0.18">80</text>
<line x1="340.5" y1="167.8" x2="342.5" y2="167.8" stroke="#333" stroke-width="0.6"/>
<text x="343.5" y="170.0" font-size="6.20" text-anchor="start" fill="#262626" stroke="#262626" stroke-width="0.18">60</text>
<line x1="340.5" y1="185.9" x2="342.5" y2="185.9" stroke="#333" stroke-width="0.6"/>
<text x="343.5" y="188.1" font-size="6.20" text-anchor="start" fill="#262626" stroke="#262626" stroke-width="0.18">40</text>
<line x1="340.5" y1="204.1" x2="342.5" y2="204.1" stroke="#333" stroke-width="0.6"/>
<text x="343.5" y="206.3" font-size="6.20" text-anchor="start" fill="#262626" stroke="#262626" stroke-width="0.18">20</text>
<line x1="340.5" y1="222.2" x2="342.5" y2="222.2" stroke="#333" stroke-width="0.6"/>
<text x="343.5" y="224.4" font-size="6.20" text-anchor="start" fill="#262626" stroke="#262626" stroke-width="0.18">0</text>
<line x1="215.3" y1="222.2" x2="215.3" y2="224.2" stroke="#333" stroke-width="0.6"/>
<text x="215.3" y="230.4" font-size="6.20" text-anchor="middle" fill="#262626" stroke="#262626" stroke-width="0.18">0</text>
<line x1="241.0" y1="222.2" x2="241.0" y2="224.2" stroke="#333" stroke-width="0.6"/>
<text x="241.0" y="230.4" font-size="6.20" text-anchor="middle" fill="#262626" stroke="#262626" stroke-width="0.18">20</text>
<line x1="266.6" y1="222.2" x2="266.6" y2="224.2" stroke="#333" stroke-width="0.6"/>
<text x="266.6" y="230.4" font-size="6.20" text-anchor="middle" fill="#262626" stroke="#262626" stroke-width="0.18">40</text>
<line x1="292.2" y1="222.2" x2="292.2" y2="224.2" stroke="#333" stroke-width="0.6"/>
<text x="292.2" y="230.4" font-size="6.20" text-anchor="middle" fill="#262626" stroke="#262626" stroke-width="0.18">60</text>
<line x1="317.9" y1="222.2" x2="317.9" y2="224.2" stroke="#333" stroke-width="0.6"/>
<text x="317.9" y="230.4" font-size="6.20" text-anchor="middle" fill="#262626" stroke="#262626" stroke-width="0.18">80</text>
<text x="277.6" y="126.6" font-size="7.75" text-anchor="middle" fill="#262626" stroke="#262626" stroke-width="0.18">(e) Transect Red</text>
<text transform="translate(189.0 181.3) rotate(-90)" font-size="4.90" text-anchor="middle" fill="#262626" stroke="#262626" stroke-width="0.15">NRCS (dB)</text>
<text transform="translate(362.0 175.7) rotate(-90)" font-size="8.10" text-anchor="middle" fill="#262626" stroke="#262626" stroke-width="0.15">Rain Rate (mm/hr)</text>
<text x="277.2" y="238.4" font-size="6.50" text-anchor="middle" fill="#262626" stroke="#262626" stroke-width="0.18">Distance (km)</text>
<line x1="400.2" y1="129.6" x2="400.2" y2="222.9" stroke="#d4d4d4" stroke-width="0.7"/>
<line x1="427.1" y1="129.6" x2="427.1" y2="222.9" stroke="#d4d4d4" stroke-width="0.7"/>
<line x1="453.9" y1="129.6" x2="453.9" y2="222.9" stroke="#d4d4d4" stroke-width="0.7"/>
<line x1="480.8" y1="129.6" x2="480.8" y2="222.9" stroke="#d4d4d4" stroke-width="0.7"/>
<line x1="507.6" y1="129.6" x2="507.6" y2="222.9" stroke="#d4d4d4" stroke-width="0.7"/>
<line x1="394.1" y1="141.3" x2="525.8" y2="141.3" stroke="#b8b8b8" stroke-width="0.5" stroke-dasharray="1.2 1.0"/>
<line x1="394.1" y1="152.9" x2="525.8" y2="152.9" stroke="#b8b8b8" stroke-width="0.5" stroke-dasharray="1.2 1.0"/>
<line x1="394.1" y1="164.6" x2="525.8" y2="164.6" stroke="#b8b8b8" stroke-width="0.5" stroke-dasharray="1.2 1.0"/>
<line x1="394.1" y1="176.2" x2="525.8" y2="176.2" stroke="#b8b8b8" stroke-width="0.5" stroke-dasharray="1.2 1.0"/>
<line x1="394.1" y1="187.9" x2="525.8" y2="187.9" stroke="#b8b8b8" stroke-width="0.5" stroke-dasharray="1.2 1.0"/>
<line x1="394.1" y1="199.6" x2="525.8" y2="199.6" stroke="#b8b8b8" stroke-width="0.5" stroke-dasharray="1.2 1.0"/>
<line x1="394.1" y1="211.2" x2="525.8" y2="211.2" stroke="#b8b8b8" stroke-width="0.5" stroke-dasharray="1.2 1.0"/>
<line x1="394.1" y1="148.5" x2="525.8" y2="148.5" stroke="#c8c8c8" stroke-width="0.5" stroke-dasharray="1.2 1.0"/>
<line x1="394.1" y1="167.1" x2="525.8" y2="167.1" stroke="#c8c8c8" stroke-width="0.5" stroke-dasharray="1.2 1.0"/>
<line x1="394.1" y1="185.7" x2="525.8" y2="185.7" stroke="#c8c8c8" stroke-width="0.5" stroke-dasharray="1.2 1.0"/>
<line x1="394.1" y1="204.3" x2="525.8" y2="204.3" stroke="#c8c8c8" stroke-width="0.5" stroke-dasharray="1.2 1.0"/>
<polygon points="400.0,222.9 400.0,220.3 403.6,220.3 403.8,222.7 407.7,222.4 414.6,221.7 418.7,220.3 422.8,217.6 424.2,213.4 427.0,214.1 428.3,210.7 431.1,207.3 435.2,205.5 439.3,204.1 440.5,204.1 440.7,196.3 442.7,195.6 443.6,195.6 443.8,183.2 444.6,183.2 444.8,194.2 446.2,194.2 447.5,199.7 448.9,197.0 450.3,199.0 452.3,195.6 453.0,191.2 454.2,191.2 455.1,195.6 457.2,197.0 458.5,199.7 459.2,201.1 460.4,204.5 463.1,201.8 465.9,199.0 467.9,197.7 469.7,197.0 470.3,197.0 470.7,206.6 472.0,212.1 474.1,214.8 476.8,216.9 480.3,218.9 482.3,218.2 485.1,219.6 489.2,221.0 493.3,222.4 500.2,223.0 508.4,222.4 512.5,221.0 518.0,221.0 520.1,222.4 520.1,222.9" fill="#1f77b4"/>
<polyline points="400.3,142.5 404.5,141.8 408.5,142.2 412.4,141.2 417.7,141.8 421.6,142.5 425.6,143.8 430.9,145.1 434.8,144.5 439.4,143.1 442.7,144.1 450.6,143.1 453.2,141.2 456.5,137.9 458.5,141.2 461.0,140.9 464.3,142.2 466.9,143.5 468.9,141.8 470.8,143.5 473.5,144.8 480.1,144.8 485.3,143.8 493.2,143.5 503.8,144.1 509.0,143.1 512.3,142.2 514.3,143.1 519.6,142.7" fill="none" stroke="#2ca02c" stroke-width="1.05" stroke-linejoin="round"/>
<polyline points="400.6,186.0 404.3,185.3 408.4,187.1 412.5,185.7 416.0,187.1 420.8,187.6 425.6,186.7 428.3,186.0 431.8,188.0 433.8,190.8 436.6,186.7 440.7,183.9 444.8,183.2 448.9,182.6 453.0,179.8 456.5,176.1 458.5,179.1 461.1,180.5 464.5,183.2 468.6,182.6 471.4,186.0 475.5,186.0 479.6,189.4 483.7,188.7 486.5,188.7 490.6,189.4 494.0,190.4 497.4,187.6 500.2,188.7 502.9,188.0 505.7,189.4 509.8,188.7 513.9,187.6 516.7,188.7 519.4,187.4" fill="none" stroke="#2ca02c" stroke-width="1.15" stroke-linejoin="round" stroke-dasharray="2.0 1.1"/>
<rect x="394.1" y="129.6" width="131.7" height="93.3" fill="none" stroke="#9a9a9a" stroke-width="1.3"/>
<line x1="392.1" y1="129.6" x2="394.1" y2="129.6" stroke="#333" stroke-width="0.6"/>
<text x="389.9" y="131.8" font-size="6.20" text-anchor="end" fill="#262626" stroke="#262626" stroke-width="0.18">−10</text>
<line x1="392.1" y1="141.3" x2="394.1" y2="141.3" stroke="#333" stroke-width="0.6"/>
<text x="389.9" y="143.5" font-size="6.20" text-anchor="end" fill="#262626" stroke="#262626" stroke-width="0.18">−15</text>
<line x1="392.1" y1="152.9" x2="394.1" y2="152.9" stroke="#333" stroke-width="0.6"/>
<text x="389.9" y="155.1" font-size="6.20" text-anchor="end" fill="#262626" stroke="#262626" stroke-width="0.18">−20</text>
<line x1="392.1" y1="164.6" x2="394.1" y2="164.6" stroke="#333" stroke-width="0.6"/>
<text x="389.9" y="166.8" font-size="6.20" text-anchor="end" fill="#262626" stroke="#262626" stroke-width="0.18">−25</text>
<line x1="392.1" y1="176.2" x2="394.1" y2="176.2" stroke="#333" stroke-width="0.6"/>
<text x="389.9" y="178.4" font-size="6.20" text-anchor="end" fill="#262626" stroke="#262626" stroke-width="0.18">−30</text>
<line x1="392.1" y1="187.9" x2="394.1" y2="187.9" stroke="#333" stroke-width="0.6"/>
<text x="389.9" y="190.1" font-size="6.20" text-anchor="end" fill="#262626" stroke="#262626" stroke-width="0.18">−35</text>
<line x1="392.1" y1="199.6" x2="394.1" y2="199.6" stroke="#333" stroke-width="0.6"/>
<text x="389.9" y="201.8" font-size="6.20" text-anchor="end" fill="#262626" stroke="#262626" stroke-width="0.18">−40</text>
<line x1="392.1" y1="211.2" x2="394.1" y2="211.2" stroke="#333" stroke-width="0.6"/>
<text x="389.9" y="213.4" font-size="6.20" text-anchor="end" fill="#262626" stroke="#262626" stroke-width="0.18">−45</text>
<line x1="392.1" y1="222.9" x2="394.1" y2="222.9" stroke="#333" stroke-width="0.6"/>
<text x="389.9" y="225.1" font-size="6.20" text-anchor="end" fill="#262626" stroke="#262626" stroke-width="0.18">−50</text>
<line x1="525.8" y1="129.9" x2="527.8" y2="129.9" stroke="#333" stroke-width="0.6"/>
<text x="528.8" y="132.1" font-size="6.20" text-anchor="start" fill="#262626" stroke="#262626" stroke-width="0.18">50</text>
<line x1="525.8" y1="148.5" x2="527.8" y2="148.5" stroke="#333" stroke-width="0.6"/>
<text x="528.8" y="150.7" font-size="6.20" text-anchor="start" fill="#262626" stroke="#262626" stroke-width="0.18">40</text>
<line x1="525.8" y1="167.1" x2="527.8" y2="167.1" stroke="#333" stroke-width="0.6"/>
<text x="528.8" y="169.3" font-size="6.20" text-anchor="start" fill="#262626" stroke="#262626" stroke-width="0.18">30</text>
<line x1="525.8" y1="185.7" x2="527.8" y2="185.7" stroke="#333" stroke-width="0.6"/>
<text x="528.8" y="187.9" font-size="6.20" text-anchor="start" fill="#262626" stroke="#262626" stroke-width="0.18">20</text>
<line x1="525.8" y1="204.3" x2="527.8" y2="204.3" stroke="#333" stroke-width="0.6"/>
<text x="528.8" y="206.5" font-size="6.20" text-anchor="start" fill="#262626" stroke="#262626" stroke-width="0.18">10</text>
<line x1="525.8" y1="222.9" x2="527.8" y2="222.9" stroke="#333" stroke-width="0.6"/>
<text x="528.8" y="225.1" font-size="6.20" text-anchor="start" fill="#262626" stroke="#262626" stroke-width="0.18">0</text>
<line x1="400.2" y1="222.9" x2="400.2" y2="224.9" stroke="#333" stroke-width="0.6"/>
<text x="400.2" y="231.1" font-size="6.20" text-anchor="middle" fill="#262626" stroke="#262626" stroke-width="0.18">0</text>
<line x1="427.1" y1="222.9" x2="427.1" y2="224.9" stroke="#333" stroke-width="0.6"/>
<text x="427.1" y="231.1" font-size="6.20" text-anchor="middle" fill="#262626" stroke="#262626" stroke-width="0.18">20</text>
<line x1="453.9" y1="222.9" x2="453.9" y2="224.9" stroke="#333" stroke-width="0.6"/>
<text x="453.9" y="231.1" font-size="6.20" text-anchor="middle" fill="#262626" stroke="#262626" stroke-width="0.18">40</text>
<line x1="480.8" y1="222.9" x2="480.8" y2="224.9" stroke="#333" stroke-width="0.6"/>
<text x="480.8" y="231.1" font-size="6.20" text-anchor="middle" fill="#262626" stroke="#262626" stroke-width="0.18">60</text>
<line x1="507.6" y1="222.9" x2="507.6" y2="224.9" stroke="#333" stroke-width="0.6"/>
<text x="507.6" y="231.1" font-size="6.20" text-anchor="middle" fill="#262626" stroke="#262626" stroke-width="0.18">80</text>
<text x="461.2" y="125.4" font-size="7.60" text-anchor="middle" fill="#262626" stroke="#262626" stroke-width="0.18">(f) Transect Green</text>
<text transform="translate(373.0 179.4) rotate(-90)" font-size="5.70" text-anchor="middle" fill="#262626" stroke="#262626" stroke-width="0.15">NRCS (dB)</text>
<text transform="translate(546.9 177.2) rotate(-90)" font-size="5.30" text-anchor="middle" fill="#262626" stroke="#262626" stroke-width="0.15">Rain Rate (mm/hr)</text>
<text x="461.0" y="238.4" font-size="6.50" text-anchor="middle" fill="#262626" stroke="#262626" stroke-width="0.18">Distance (km)</text>
<g transform="translate(26.40 259.10) scale(0.9967 0.9264)"><g clip-path="url(#clipframe)">
<rect x="0" y="0" width="122.2" height="91.0" fill="#fff"/>
<g clip-path="url(#clipswath)">
<polygon points="9.8,92.0 11.1,90.6 17.3,86.7 21.6,83.2 24.7,80.1 26.8,78.8 30.3,77.1 33.8,74.9 37.3,73.2 39.9,70.1 40.8,67.5 39.1,65.7 40.8,64.4 45.4,62.0 50.2,60.8 56.2,59.6 60.8,57.5 64.6,55.8 71.8,55.4 76.5,55.5 79.0,56.2 77.2,58.0 79.6,60.4 83.8,62.2 87.4,61.6 92.2,59.4 98.2,59.0 105.4,59.4 112.6,59.4 124.0,59.0 124.0,92.0" fill="#000"/>
<polygon points="78.0,53.2 92.0,52.6 124.0,52.2 124.0,54.6 92.0,55.0 78.0,55.6" fill="#000"/>
<ellipse cx="78.4" cy="14.8" rx="6.8" ry="6.0" fill="#000"/>
<ellipse cx="64.8" cy="25.5" rx="5.0" ry="4.7" fill="#000"/>
<path d="M56 11.5 L71 10.8 M53.5 15.5 L71 15.2" stroke="#000" stroke-width="0.9" fill="none"/>
<path d="M36.0,25.5L37.0,25.5 38.0,26.1 38.2,26.5 37.4,27.5 36.0,28.2 35.7,27.0 34.5,26.9 34.2,26.5 34.5,26.0 36.5,26.2 36.5,25.7 36.0,25.5ZM40.0,27.0L40.5,27.5 40.5,27.8 40.0,27.6 39.9,27.0ZM33.0,27.1L33.1,28.0 33.0,27.5ZM38.5,28.9L39.2,29.5 39.0,30.5 38.5,30.6 37.5,30.0 38.4,29.0ZM33.5,29.3L33.8,30.0 33.5,30.5 33.5,29.5ZM36.0,29.8L37.1,31.0 36.1,32.0 36.3,33.0 36.0,33.6 35.0,33.4 34.5,33.0 34.6,32.0 34.3,31.5 35.9,31.5 35.6,30.5 35.8,30.0ZM41.5,30.4L41.8,30.5 41.5,30.9 41.2,30.5ZM20.0,31.2L20.2,31.5 20.0,31.7 19.5,31.5ZM24.0,31.5L24.0,31.8 23.6,31.5ZM32.5,32.0L32.7,32.5 32.5,33.3 32.0,33.4 31.9,33.0 32.5,32.0ZM38.0,31.9L39.5,31.9 40.8,33.0 40.6,34.0 40.9,35.0 40.2,36.5 38.5,36.4 38.3,36.0 38.1,35.0 39.5,34.6 40.0,33.5 39.5,32.9 38.5,33.2 38.0,33.1 37.9,32.0ZM22.0,32.3L22.5,32.5 22.6,34.0 21.2,34.0 21.7,32.5ZM31.5,34.4L32.0,34.0 32.9,35.0 32.5,35.2 31.4,34.5ZM34.0,34.5L34.5,34.3 35.2,35.0 34.5,35.5 34.0,35.3 34.0,34.5ZM36.0,35.9L36.5,35.7 36.8,36.5 36.5,37.3 35.7,37.5 35.4,38.0 36.4,38.5 36.0,39.3 35.5,39.4 35.0,38.5 33.8,38.0 33.9,37.5 33.0,37.0 33.0,36.5 34.0,36.3 34.5,37.3 35.5,36.7 35.9,36.0ZM27.0,36.9L28.1,37.0 27.5,37.5 28.2,38.0 28.1,38.5 27.0,38.5 25.8,38.0 26.0,37.4 26.9,37.0ZM29.0,36.9L30.6,38.0 30.5,38.5 29.6,38.5 28.8,37.0ZM40.5,36.7L41.5,36.7 42.0,37.5 40.5,37.5 40.4,37.0ZM47.5,37.0L48.0,37.0 47.5,37.2 47.3,37.0ZM49.5,36.8L50.0,37.4 51.5,37.2 52.0,38.0 50.5,38.5 50.5,39.0 51.3,40.0 51.0,40.8 50.5,41.0 49.0,39.6 48.0,39.6 46.5,40.2 46.0,40.0 45.4,41.5 43.7,42.5 43.5,43.8 44.0,44.1 45.0,43.8 46.5,42.5 47.0,42.6 47.2,43.0 46.6,44.0 45.6,44.5 45.4,45.5 44.5,45.8 43.8,45.5 43.4,44.0 42.3,43.5 42.4,43.0 42.0,42.0 41.5,42.0 40.0,40.5 39.7,39.0 40.5,38.9 41.8,40.5 41.8,41.0 43.5,42.2 44.5,40.2 45.7,39.0 47.0,38.6 48.0,39.3 49.3,37.5 49.4,37.0ZM54.5,37.4L55.2,37.5 54.5,38.3 54.1,37.5ZM56.0,37.5L56.6,37.5 56.5,38.5 55.9,37.5ZM37.5,37.6L38.1,38.0 37.5,38.6 37.0,38.0ZM24.5,38.5L25.0,40.8 26.0,40.2 28.0,40.6 27.0,40.8 25.5,41.8 24.5,41.6 24.0,41.2 23.8,40.5 24.0,39.1 24.5,38.5ZM58.5,38.5L59.8,38.5 59.5,39.4 59.1,39.5 59.8,40.5 59.8,41.0 58.0,41.5 58.6,42.5 58.8,43.5 57.1,44.5 57.4,46.0 58.0,46.6 59.0,46.1 61.0,46.5 59.5,47.0 60.2,48.0 59.6,49.0 60.5,50.5 59.5,50.6 59.0,51.1 57.7,51.0 58.0,50.0 59.4,49.0 59.2,48.5 56.5,47.2 55.4,46.0 56.0,45.8 56.4,45.0 56.5,43.0 57.5,41.5 58.0,41.5 57.6,40.5 58.0,40.1 58.8,40.0 58.9,39.5 57.0,39.7 56.7,39.0 57.0,38.7 58.0,38.8 58.2,38.5ZM33.0,39.0L33.5,38.8 33.5,39.1 32.9,39.0ZM42.5,38.6L43.5,38.7 43.7,39.5 42.3,39.0ZM54.0,38.6L54.5,38.8 54.7,40.0 55.1,40.5 55.4,42.5 54.2,43.5 54.4,45.5 53.5,45.7 52.0,45.0 53.3,44.5 54.1,42.5 54.3,41.0 54.0,40.7 53.5,40.5 53.0,41.2 52.5,41.2 52.2,40.5 52.5,40.2 53.5,40.5 53.9,40.0 53.6,39.0ZM37.5,39.2L38.4,39.5 37.5,40.5 36.9,40.0 37.1,39.5ZM61.5,39.2L62.1,39.5 62.3,40.0 62.0,40.2 61.5,40.4 61.1,39.5ZM63.5,39.1L63.6,39.5 63.5,39.7 63.3,39.5ZM65.5,39.4L66.0,39.2 66.4,39.5 66.3,40.0 65.0,41.6 63.5,41.8 63.2,41.5 63.3,41.0 65.0,40.2 65.4,39.5ZM67.5,39.5L67.5,39.7 67.0,39.5ZM22.5,40.0L22.5,40.8 22.0,40.8 22.0,40.5 22.5,40.0ZM29.5,39.8L32.0,39.6 32.4,40.0 30.0,41.5 29.5,41.2 29.3,40.0ZM68.5,40.5L68.5,41.7 68.0,41.7 67.5,42.1 67.3,41.5 68.0,41.4 68.5,40.5ZM35.5,40.6L36.0,40.7 36.6,41.5 36.5,42.2 35.5,42.3 35.3,42.0 35.4,41.0ZM38.0,40.8L38.5,41.1 38.5,41.7 38.0,41.9 37.8,41.0ZM61.5,40.8L62.3,41.5 61.4,43.0 61.9,44.5 61.8,45.0 61.0,45.5 60.2,44.5 59.9,43.5 61.4,41.0ZM28.5,41.4L29.0,41.5 29.0,42.3 28.5,42.4 28.2,42.0 28.4,41.5ZM34.0,41.3L34.3,42.0 34.0,42.3 33.4,42.5 33.3,42.0 33.7,41.5ZM46.5,41.4L46.5,41.7 46.2,41.5ZM21.0,41.9L21.5,42.0 21.5,42.7 22.5,43.5 21.8,44.0 21.6,45.0 23.2,46.5 22.5,47.7 22.0,47.8 21.7,46.5 20.7,45.5 20.4,44.0 20.9,42.0ZM24.0,42.4L24.5,43.5 24.7,43.0 25.3,43.0 25.6,44.0 27.2,45.0 27.1,46.0 28.9,47.0 28.7,48.0 28.0,48.3 25.9,47.5 26.1,46.5 24.7,44.5 24.5,43.5 23.6,43.0 23.9,42.5ZM26.5,42.5L27.0,42.1 27.5,42.2 27.9,42.5 27.5,42.8 27.0,43.0 26.5,42.5ZM49.0,42.0L50.5,42.3 51.6,43.0 51.9,43.5 51.7,44.0 50.5,43.9 49.5,42.9 48.6,42.5ZM32.0,42.7L32.3,43.0 31.7,43.0ZM36.5,42.6L37.5,42.5 38.5,42.9 39.5,44.0 40.5,43.4 40.5,45.3 39.5,44.0 38.5,44.1 38.3,45.0 37.5,45.5 35.6,45.0 37.1,44.0 37.0,43.3 36.5,43.4 36.3,43.0ZM32.5,43.4L33.4,44.5 32.5,45.4 31.5,45.3 31.0,45.6 29.0,44.8 27.7,45.0 27.3,44.5 28.0,44.2 29.5,44.1 31.5,44.8 32.5,43.5ZM64.0,43.6L65.0,44.1 65.2,44.5 64.9,45.0 64.5,45.2 63.5,44.7 63.5,44.0ZM49.0,44.4L50.0,45.2 50.5,45.3 50.7,46.0 50.5,46.2 48.5,45.4 48.3,45.0 48.8,44.5ZM46.0,45.9L47.0,45.6 47.8,46.5 47.5,47.0 46.5,46.8 45.9,46.0ZM63.5,45.8L63.8,46.0 63.8,46.5 63.0,46.6 63.2,46.0ZM29.5,46.1L30.8,47.0 32.3,49.0 31.0,50.7 29.0,50.8 28.1,50.5 29.5,48.5 30.1,49.0 30.7,49.0 30.8,48.0 30.0,47.1 29.0,46.5ZM34.0,46.4L34.2,46.5 33.9,46.5ZM43.0,46.4L43.5,46.1 43.9,46.5 43.8,47.5 43.5,48.0 42.2,47.5 43.0,46.5ZM52.0,46.3L52.5,46.5 52.6,47.5 53.0,47.7 54.0,47.3 54.3,48.0 55.6,48.5 55.8,49.0 54.0,50.0 54.0,50.6 53.0,50.9 52.5,50.5 52.9,49.5 52.3,48.0 51.7,47.5 51.7,46.5ZM37.0,46.9L38.0,47.0 38.4,48.5 38.0,48.8 37.0,48.4 36.2,47.5 36.5,47.0ZM40.5,47.0L41.0,47.5 41.0,48.5 41.9,48.5 42.2,49.0 41.5,49.9 41.0,49.8 39.5,50.7 39.1,50.5 39.0,50.0 40.1,49.0 39.4,48.5 39.4,48.0 40.5,47.0ZM64.5,46.9L64.5,48.0 64.3,48.0 64.4,47.0ZM61.0,47.2L61.6,47.5 61.5,48.2 60.9,48.0 60.7,47.5ZM33.5,47.9L34.0,48.0 34.0,49.0 33.3,48.5 33.4,48.0ZM21.0,48.3L21.3,48.5 21.0,48.8 21.0,48.5ZM35.5,48.5L36.0,48.8 36.4,50.5 35.7,52.5 33.4,52.5 32.0,51.9 31.3,51.0 31.5,50.8 32.0,51.2 33.5,50.5 33.6,51.5 34.5,52.0 35.2,51.5 35.9,49.5 35.4,49.0 35.5,48.5ZM43.5,48.2L43.6,48.5 45.0,49.0 46.0,48.7 46.2,50.0 45.5,51.4 45.0,51.2 43.0,50.0 42.9,49.5 43.5,49.0 43.4,48.5ZM63.5,48.4L64.0,48.1 64.1,48.5 63.5,49.1 63.1,49.0 63.4,48.5ZM22.0,48.8L23.0,48.5 23.4,49.0 23.3,50.0 23.0,50.1 21.6,49.5 21.7,49.0ZM47.5,49.4L48.0,49.0 48.5,49.3 50.0,49.4 50.9,50.0 51.0,50.9 50.0,51.3 48.5,50.1 48.0,50.2 47.5,49.5ZM62.0,49.0L62.8,49.5 62.0,50.1 61.6,50.0 61.6,49.5ZM25.5,49.7L26.0,49.8 26.5,50.5 27.9,50.5 27.0,51.9 26.5,51.9 26.0,51.3 25.0,52.0 24.8,50.5 25.1,50.0ZM47.0,50.9L47.5,51.3 47.8,52.0 47.5,53.0 46.8,53.0 47.3,52.0 46.9,51.0ZM38.0,51.2L39.0,51.1 39.8,52.0 39.0,52.4 38.5,52.3 37.8,51.5ZM52.0,51.5L52.5,51.3 53.3,52.0 52.5,52.1 51.6,52.0 51.8,51.5ZM28.5,52.3L29.5,52.1 29.9,52.5 29.7,53.0 28.5,53.1 28.3,52.5ZM40.0,52.2L40.5,52.1 41.0,52.5 41.3,53.5 40.5,54.1 40.3,53.0 39.8,52.5ZM22.0,59.5L23.4,59.5 22.5,61.4 22.0,61.6 21.1,60.5 22.0,59.5ZM24.5,59.5L25.9,59.5 25.0,60.6 23.6,60.0 24.2,59.5ZM27.0,60.4L28.0,60.5 28.1,61.0 26.5,61.5 25.7,62.5 26.3,63.5 25.5,64.4 24.7,63.5 25.4,62.5 24.9,62.0 24.8,61.5 25.0,61.2 26.0,61.0 26.8,60.5ZM29.5,60.4L30.5,60.5 30.5,62.0 29.5,61.5 29.1,60.5ZM19.5,61.7L19.8,62.0 19.5,62.6 19.4,62.0ZM21.0,62.0L22.0,62.5 22.3,63.0 22.4,63.5 22.0,64.4 21.5,64.1 21.6,63.5 20.9,62.5 21.0,62.0ZM28.5,62.8L29.3,63.0 29.4,63.5 29.0,67.5 28.5,67.9 27.3,67.5 28.3,65.5 27.6,64.0 28.1,63.0ZM23.5,63.1L24.2,63.5 23.3,63.5ZM19.5,63.8L20.1,64.0 20.3,64.5 20.0,64.6 19.5,64.0ZM24.0,64.6L25.5,64.6 26.3,65.5 26.1,66.0 25.5,66.0 25.0,66.5 24.0,66.1 23.7,65.0ZM21.0,65.6L21.5,66.0 21.0,66.0ZM22.0,66.8L22.8,67.0 22.7,67.5 22.0,67.0Z" fill="#000" fill-rule="evenodd"/>
<path d="M4.8,-2.0L4.0,-1.0 2.0,-0.4 0.2,-1.0 -1.0,-2.0M99.6,-2.0L98.3,1.0 97.0,2.3 96.0,2.6 95.4,2.0 94.3,-2.0M104.2,-2.0L102.9,-2.0M-2.0,25.4L0.0,25.7 0.5,26.5 -0.5,28.5 -2.0,29.4M124.5,33.5L120.0,34.0 118.2,35.0 116.8,38.0 117.5,41.1 113.0,46.1 111.0,46.8 107.0,46.2 104.5,46.6 99.5,49.2 95.6,50.5 92.5,53.0 89.5,52.6 87.0,51.5 86.4,50.0 86.5,45.0 86.1,43.5 84.5,41.9 82.5,43.0 81.6,42.5 81.3,41.5 81.8,39.0 81.7,38.0 80.6,37.0 79.5,36.8 78.2,37.0 77.7,37.5 77.9,41.0 77.0,43.0 70.5,48.5 68.9,50.5 67.5,53.4 66.5,54.1 63.5,54.5 60.5,55.9 58.5,56.4 53.5,55.6 50.0,55.7 48.5,56.3 46.1,58.5 44.5,58.8 40.0,56.0 38.0,51.4 37.0,50.5 36.0,50.5 30.2,53.5 29.1,56.0 24.0,56.9 23.0,57.4 22.5,58.2 22.7,60.0 24.5,62.3 31.7,65.5 33.2,66.5 33.4,67.0 33.0,68.0 29.5,70.9 28.6,70.5 27.4,68.5 26.3,67.5 25.0,67.0 23.0,67.1 20.9,68.0 22.0,69.5 22.2,70.5 21.5,71.8 20.0,72.2 18.9,71.5 18.0,69.6 17.5,69.4 14.5,69.9 11.5,69.0 7.5,68.9 3.5,68.0 2.4,67.0 1.9,65.5 3.1,60.0 5.8,57.5 6.3,56.5 6.2,54.5 4.5,52.0 8.0,45.0 8.9,42.0 10.0,40.0 10.2,35.5 11.9,32.0 11.8,30.0 10.5,25.0 11.2,21.0 11.2,17.5 12.0,16.0 15.0,13.9 16.0,13.8 22.5,15.0 26.5,14.0 30.5,14.6 32.0,14.0 34.0,12.4 35.5,12.2 39.0,12.9 42.0,14.6 43.5,14.8 44.5,14.4 46.5,12.5 51.0,13.7 55.5,11.7 59.0,11.8 60.5,10.9 64.0,7.4 66.5,6.6 68.0,7.3 70.0,9.5 74.5,13.5 77.0,14.6 79.5,14.7 82.5,14.3 85.5,15.3 90.0,14.4 94.0,15.2 95.9,14.5 98.5,11.7 99.5,11.2 100.2,11.5 101.3,15.0 103.0,15.8 108.0,15.5 112.0,14.6 120.5,15.6 121.5,16.4 122.9,18.5 123.0,21.2 124.5,21.9M-2.0,51.7L-1.0,52.0 -0.1,53.0 -0.5,54.0 -2.0,55.2M-2.0,56.6L-1.5,57.0 -1.2,58.0 -2.0,58.6M-0.3,93.0L1.2,91.5 4.5,90.5 7.0,91.3 8.0,93.0M122.8,93.0L123.5,92.1 124.5,91.8M11.0,4.2L12.0,4.1 13.5,4.7 13.9,5.5 13.5,6.5 12.5,7.0 11.0,6.5 10.5,5.5 10.7,4.5ZM110.5,4.4L111.0,4.4 112.8,8.0 112.7,9.5 112.0,10.5 111.0,10.9 109.0,10.9 106.5,12.4 105.5,12.5 104.0,11.5 102.0,9.5 102.6,7.5 104.0,6.1 105.0,5.8 108.0,6.6 110.3,4.5ZM83.5,5.4L85.0,5.5 85.4,6.5 83.0,8.2 81.0,10.3 80.2,9.5 80.4,8.5 82.0,6.2 83.2,5.5ZM2.0,6.5L3.5,6.1 4.6,6.5 5.0,8.0 4.0,9.6 3.0,9.9 2.0,8.9 1.5,7.5 2.0,6.5ZM119.5,9.8L120.5,10.1 121.0,11.0 121.1,12.5 120.5,13.4 119.0,13.1 118.1,12.0 118.2,11.0 119.0,10.0ZM3.0,15.0L3.6,16.0 3.0,17.3 1.6,17.0 1.9,16.0 2.9,15.0ZM49.5,18.2L49.5,19.1 50.0,19.0 50.0,18.3ZM4.5,23.8L5.5,23.6 7.0,24.2 7.5,25.0 7.0,26.2 5.5,26.5 4.4,26.0 3.8,25.0 4.3,24.0ZM9.0,79.5L10.0,79.8 10.9,81.0 11.1,82.0 10.5,83.2 9.5,83.6 8.5,82.8 8.1,81.5 8.5,80.0Z" fill="none" stroke="#0000ff" stroke-width="0.70" stroke-linejoin="round"/>
<path d="M7.3,-2.0L7.0,-0.1 6.5,0.3 2.5,0.9 -2.0,0.0M14.3,-2.0L15.1,-0.5 18.0,0.1 18.8,1.0 18.3,3.5 16.2,6.0 15.8,7.0 17.3,10.0 18.0,13.1 19.0,13.7 20.0,13.8 21.8,13.0 20.4,10.5 20.5,8.5 21.0,7.4 22.0,6.5 22.4,4.5 24.0,0.6 25.5,0.1 26.5,0.5 26.7,1.0 25.9,3.5 26.0,4.5 27.0,5.6 29.1,6.5 29.2,7.0 28.8,8.5 28.0,9.1 26.5,9.2 24.3,8.5 24.4,12.0 27.0,12.4 30.5,14.1 31.5,13.5 32.5,10.6 34.0,9.9 36.5,11.1 39.0,11.2 43.5,12.4 44.8,7.5 43.9,4.5 44.5,1.0 47.8,1.5 47.8,3.5 46.6,7.0 47.4,10.5 49.0,12.0 50.5,12.4 51.8,12.0 52.0,11.5 51.1,9.0 51.2,8.0 54.0,6.4 55.0,6.8 56.5,8.6 60.0,10.2 60.8,9.5 61.1,8.5 59.7,6.0 60.0,4.6 63.0,2.9 65.0,4.2 66.0,4.1 67.8,1.0 67.7,0.0 66.5,-1.3 63.5,-0.6 62.5,-2.0M33.2,-2.0L32.9,-1.0 32.0,-0.5 30.5,-1.0 29.4,-2.0M42.5,-2.0L43.6,0.0 43.5,0.7 41.9,0.0 42.0,-1.4 42.5,-2.0M57.4,-2.0L57.2,0.0 56.5,0.8 55.4,0.0 55.4,-2.0M75.6,-2.0L75.3,-1.0 74.5,-0.1 70.5,-0.6 68.9,0.5 69.0,1.5 70.5,3.6 73.5,4.8 74.5,4.4 76.0,3.0 78.0,3.0 79.5,1.9 82.2,1.0 82.3,0.5 81.8,-0.5 79.5,-0.7 78.8,-2.0M86.4,-2.0L85.7,1.0 87.0,1.7 88.5,1.1 89.5,1.4 89.5,2.5 88.7,3.5 89.8,6.5 88.5,8.5 83.5,9.5 83.2,10.0 83.3,11.0 86.0,14.7 90.0,13.2 93.5,15.0 94.5,14.9 95.5,14.1 97.9,10.0 104.0,3.4 105.0,2.9 107.0,4.4 108.3,4.0 109.8,0.5 111.5,-1.0 111.8,-2.0M107.6,-2.0L107.0,-0.5 106.0,0.2 100.6,0.0 96.7,5.0 94.5,6.3 93.5,6.0 92.5,4.5 92.6,3.5 94.2,1.0 92.8,-2.0M115.3,-2.0L115.1,0.5 113.2,3.5 113.4,5.0 114.5,5.6 117.5,3.6 120.0,3.8 122.0,3.5 121.8,5.5 123.1,7.5 122.4,10.0 123.4,12.0 122.7,15.5 123.5,16.7 124.5,17.2M124.5,3.0L122.5,2.7 122.0,1.8 121.5,0.0 121.9,-2.0M-2.0,5.4L1.0,4.4 3.5,4.2 7.5,1.0 13.5,2.1 13.5,1.5 12.3,0.0 12.2,-2.0M-2.0,15.6L-0.5,15.4 0.7,14.5 1.3,11.5 0.8,10.0 -2.0,8.2M-2.0,21.7L2.3,21.5 0.0,19.6 -2.0,19.7M35.5,0.5L38.5,0.0 40.0,0.5 40.3,3.0 41.8,5.0 41.5,6.0 40.0,7.1 39.0,6.8 37.0,4.2 36.0,3.5 33.5,5.3 30.2,6.0 30.2,5.0 32.5,1.3 35.4,0.5ZM7.5,4.8L6.9,5.5 7.0,8.0 5.3,10.5 4.8,12.0 6.2,17.5 5.2,20.5 5.4,21.5 10.6,21.5 9.7,18.0 9.9,16.5 11.0,15.1 13.1,14.0 13.6,13.0 12.5,9.5 9.5,8.8 8.4,8.0 8.5,5.5 8.0,4.9ZM78.5,5.3L76.0,6.6 74.0,8.4 73.0,8.6 71.0,8.2 70.9,8.5 72.4,10.5 75.5,13.3 80.0,14.2 80.5,14.0 80.6,13.0 78.5,11.2 78.0,10.0 78.1,9.0 79.6,6.5 79.5,5.8 79.0,5.3ZM116.0,6.5L115.0,7.0 114.2,10.0 112.5,13.0 113.0,13.7 114.0,14.0 115.2,13.5 116.4,10.5 119.3,7.0 118.5,6.5 116.5,6.5ZM102.0,11.9L101.5,12.7 101.3,14.5 101.8,15.5 103.0,15.9 104.5,15.6 104.8,15.0 102.5,11.9ZM109.0,12.4L108.0,12.9 107.4,14.0 107.5,14.5 108.5,15.1 109.5,14.8 110.3,14.0 110.2,13.0 109.4,12.5ZM117.5,14.3L117.4,15.0 118.5,15.6 119.0,15.2 119.0,14.7 118.0,14.2ZM49.5,17.8L48.9,18.5 49.5,19.8 50.0,19.8 50.4,19.0 50.0,17.9Z" fill="none" stroke="#0000ff" stroke-width="0.70" stroke-linejoin="round"/>
<path d="M3.6,93.0L4.0,92.4 5.0,92.0 5.7,93.0M34.0,17.5L35.0,17.2 35.5,17.4 37.0,20.0 36.9,21.0 36.0,22.2 35.0,22.7 34.0,22.6 31.7,21.0 32.5,19.2 34.0,17.5ZM89.0,17.5L91.0,19.4 94.5,19.2 102.0,20.0 104.0,21.2 108.0,21.5 110.0,22.5 113.0,22.9 114.1,24.0 113.8,25.5 112.0,27.7 109.0,29.9 106.5,31.0 104.0,30.8 102.0,32.0 101.0,32.0 98.0,31.0 94.5,33.1 91.0,32.3 85.5,34.0 77.5,32.3 74.5,31.0 73.8,30.0 74.7,28.5 75.4,24.5 76.2,23.0 77.5,21.8 80.0,20.7 83.5,19.8 87.5,19.7 88.7,18.0ZM57.5,18.3L58.1,18.5 58.0,19.3 57.5,19.4 57.1,18.5ZM39.0,19.9L40.0,19.8 40.0,20.8 39.5,21.0 39.0,20.7 39.0,20.0ZM57.0,20.3L58.0,20.0 61.0,20.8 67.5,21.1 72.0,23.2 72.5,24.0 70.3,27.5 68.0,28.6 60.5,29.7 55.5,28.1 53.7,26.5 53.8,24.0 54.5,21.9 56.8,20.5ZM19.5,20.9L20.5,20.7 21.3,21.5 21.8,24.5 22.8,26.0 22.4,27.0 21.5,27.3 20.5,27.1 18.2,25.0 18.1,23.0 19.4,21.0ZM14.0,24.5L14.6,25.5 14.5,26.1 14.0,26.3 13.3,25.5 13.5,24.7 14.0,24.5ZM17.0,28.9L18.0,29.4 20.5,32.8 24.0,34.0 23.5,37.5 22.5,37.4 19.5,35.2 17.0,36.1 16.0,35.6 15.5,31.0 16.7,29.0ZM39.5,29.0L41.0,28.9 42.3,30.0 43.3,32.5 43.1,35.0 40.4,38.5 35.3,47.0 33.0,48.7 28.5,50.2 25.5,50.6 24.0,50.1 21.4,46.5 21.5,45.5 23.7,44.0 25.0,40.5 29.1,39.5 30.3,36.0 33.1,34.5 33.6,31.5 34.5,30.1 36.0,29.4 39.4,29.0ZM24.0,30.6L25.0,30.7 25.6,31.5 25.5,32.5 25.0,33.0 24.0,33.0 23.6,31.0ZM50.0,33.0L51.5,34.1 55.0,34.3 57.5,35.1 58.2,36.0 58.1,39.0 58.5,39.3 62.0,37.0 63.5,36.6 69.0,38.5 70.0,39.3 70.8,40.5 71.3,43.0 70.5,44.5 68.5,46.0 66.5,48.3 59.0,53.1 57.5,53.2 55.5,52.1 54.3,50.0 53.5,47.5 51.1,50.5 47.5,52.8 45.0,53.5 42.5,53.1 39.9,50.0 39.5,47.5 40.4,45.0 47.4,37.5 48.5,34.6 49.9,33.0ZM11.0,55.3L12.5,55.2 13.4,56.0 13.4,59.0 12.5,60.3 7.5,62.7 6.5,62.7 5.9,62.0 6.5,61.1 8.5,60.7 9.6,60.0 10.1,59.0 10.1,56.5 10.8,55.5ZM17.5,57.4L18.0,57.7 18.7,59.5 21.0,61.5 21.2,63.0 19.5,63.7 18.0,63.4 17.0,62.7 15.8,59.5 17.4,57.5ZM9.0,65.4L9.5,65.5 9.6,66.0 9.1,66.5 8.5,66.0 8.8,65.5Z" fill="none" stroke="#ee00ee" stroke-width="0.70" stroke-linejoin="round"/>
</g>
<polyline points="20.6,-3.0 4.8,75.6 25.1,78.8 124.0,91.2" fill="none" stroke="#000" stroke-width="0.9"/>
<line x1="30.55" y1="0" x2="30.55" y2="91.0" stroke="#c8c8c8" stroke-width="0.55" stroke-dasharray="1.3 1.0"/>
<line x1="61.10" y1="0" x2="61.10" y2="91.0" stroke="#c8c8c8" stroke-width="0.55" stroke-dasharray="1.3 1.0"/>
<line x1="91.65" y1="0" x2="91.65" y2="91.0" stroke="#c8c8c8" stroke-width="0.55" stroke-dasharray="1.3 1.0"/>
<line x1="0" y1="30.33" x2="122.2" y2="30.33" stroke="#c8c8c8" stroke-width="0.55" stroke-dasharray="1.3 1.0"/>
<line x1="0" y1="60.67" x2="122.2" y2="60.67" stroke="#c8c8c8" stroke-width="0.55" stroke-dasharray="1.3 1.0"/>
<rect x="0" y="0" width="122.2" height="91.0" fill="none" stroke="#555" stroke-width="0.90"/>
</g></g>
<line x1="24.4" y1="259.1" x2="26.4" y2="259.1" stroke="#333" stroke-width="0.6"/>
<text x="21.8" y="261.6" font-size="6.90" text-anchor="end" fill="#262626" stroke="#262626" stroke-width="0.18">36.5</text>
<line x1="24.4" y1="287.2" x2="26.4" y2="287.2" stroke="#333" stroke-width="0.6"/>
<text x="21.8" y="289.7" font-size="6.90" text-anchor="end" fill="#262626" stroke="#262626" stroke-width="0.18">36</text>
<line x1="24.4" y1="315.3" x2="26.4" y2="315.3" stroke="#333" stroke-width="0.6"/>
<text x="21.8" y="317.8" font-size="6.90" text-anchor="end" fill="#262626" stroke="#262626" stroke-width="0.18">35.5</text>
<line x1="24.4" y1="343.4" x2="26.4" y2="343.4" stroke="#333" stroke-width="0.6"/>
<text x="21.8" y="345.9" font-size="6.90" text-anchor="end" fill="#262626" stroke="#262626" stroke-width="0.18">35</text>
<line x1="26.4" y1="343.4" x2="26.4" y2="345.4" stroke="#333" stroke-width="0.6"/>
<text x="26.4" y="353.5" font-size="6.60" text-anchor="middle" fill="#262626" stroke="#262626" stroke-width="0.18">132.0</text>
<line x1="56.8" y1="343.4" x2="56.8" y2="345.4" stroke="#333" stroke-width="0.6"/>
<text x="56.8" y="353.5" font-size="6.60" text-anchor="middle" fill="#262626" stroke="#262626" stroke-width="0.18">132.5</text>
<line x1="87.3" y1="343.4" x2="87.3" y2="345.4" stroke="#333" stroke-width="0.6"/>
<text x="87.3" y="353.5" font-size="6.60" text-anchor="middle" fill="#262626" stroke="#262626" stroke-width="0.18">133.0</text>
<line x1="117.8" y1="343.4" x2="117.8" y2="345.4" stroke="#333" stroke-width="0.6"/>
<text x="117.8" y="353.5" font-size="6.60" text-anchor="middle" fill="#262626" stroke="#262626" stroke-width="0.18">133.5</text>
<line x1="148.2" y1="343.4" x2="148.2" y2="345.4" stroke="#333" stroke-width="0.6"/>
<text x="148.2" y="353.5" font-size="6.60" text-anchor="middle" fill="#262626" stroke="#262626" stroke-width="0.18">134.0</text>
<text x="80.5" y="254.6" font-size="8.00" text-anchor="middle" fill="#262626" stroke="#262626" stroke-width="0.18">(g) Filter for VV</text>
<g transform="translate(213.40 257.90) scale(1.0393 0.9407)"><g clip-path="url(#clipframe)">
<rect x="0" y="0" width="122.2" height="91.0" fill="#fff"/>
<g clip-path="url(#clipswath)">
<polygon points="9.8,92.0 11.1,90.6 17.3,86.7 21.6,83.2 24.7,80.1 26.8,78.8 30.3,77.1 33.8,74.9 37.3,73.2 39.9,70.1 40.8,67.5 39.1,65.7 40.8,64.4 45.4,62.0 50.2,60.8 56.2,59.6 60.8,57.5 64.6,55.8 71.8,55.4 76.5,55.5 79.0,56.2 77.2,58.0 79.6,60.4 83.8,62.2 87.4,61.6 92.2,59.4 98.2,59.0 105.4,59.4 112.6,59.4 124.0,59.0 124.0,92.0" fill="#000"/>
<polygon points="78.0,53.2 92.0,52.6 124.0,52.2 124.0,54.6 92.0,55.0 78.0,55.6" fill="#000"/>
<ellipse cx="77.3" cy="14.8" rx="8.2" ry="6.9" fill="#000"/>
<ellipse cx="63.3" cy="25.1" rx="5.8" ry="5.8" fill="#000"/>
<path d="M56 11.5 L71 10.8 M53.5 15.5 L71 15.2" stroke="#000" stroke-width="0.9" fill="none"/>
<path d="M36.5,25.5L37.0,25.5 37.8,26.0 37.2,27.0 37.1,28.0 37.5,28.5 35.9,29.0 36.9,31.5 36.5,32.2 34.6,30.5 34.1,28.5 36.0,27.0 34.7,26.5 34.4,26.0 36.5,25.5ZM39.0,26.5L39.0,26.8 38.9,26.5ZM39.5,26.9L40.0,26.9 40.5,27.5 39.5,29.3 38.9,29.5 39.5,29.7 40.2,31.0 40.3,31.5 39.5,32.0 38.2,30.5 38.3,29.5 37.8,29.0 38.5,28.0 39.3,27.5 39.1,27.0ZM33.0,27.8L33.7,28.0 33.0,28.5 33.0,28.0ZM21.5,30.0L21.9,30.5 21.5,31.4 21.0,31.8 20.0,30.5 21.0,30.5 21.5,30.0ZM41.5,30.4L42.0,30.1 42.1,30.5 41.7,32.0 42.0,33.0 41.6,34.0 41.5,35.2 41.0,35.8 40.5,35.5 40.0,36.0 39.5,37.1 39.0,37.0 38.5,36.0 38.8,35.0 40.0,32.9 41.2,32.5 40.8,31.5 41.5,30.5ZM19.5,31.0L19.8,31.0 19.5,31.0ZM23.0,30.9L23.5,31.1 22.7,31.0ZM34.0,31.8L34.3,32.0 34.0,34.0 33.5,33.9 33.2,33.0 33.6,32.0ZM20.5,32.5L21.0,32.3 21.3,33.0 20.5,34.0 20.0,33.5 20.5,32.5ZM23.5,32.2L24.0,32.2 24.0,32.5 23.6,33.0 23.6,33.5 23.0,33.8 22.4,33.0 23.0,33.0 23.3,32.5ZM36.0,32.8L36.5,32.7 36.9,33.5 36.3,35.0 36.0,35.1 34.7,34.0 35.6,33.0ZM38.0,33.2L38.4,33.5 38.0,34.2 37.6,33.5ZM31.5,34.0L30.5,37.6 32.0,37.6 32.5,38.1 33.4,38.0 33.5,37.4 32.5,37.3 32.2,36.5 33.0,35.6 33.9,35.5 34.0,34.8 34.0,36.2 35.5,36.3 36.3,37.0 36.0,37.4 35.5,37.1 35.0,37.5 34.9,38.0 33.9,39.0 34.0,39.2 34.5,38.8 35.1,39.0 35.3,40.0 35.0,40.4 33.5,40.6 33.3,40.0 33.7,39.5 33.5,39.3 33.0,39.7 32.0,38.6 31.5,38.6 30.1,41.0 31.0,41.9 31.9,41.5 32.0,41.1 33.5,41.6 34.2,43.0 33.5,43.3 31.5,43.1 31.1,43.5 31.5,44.6 29.5,44.8 28.1,45.5 26.2,47.0 26.0,47.9 24.5,47.8 23.5,48.2 23.0,50.1 22.0,49.8 21.4,48.5 20.5,47.7 20.5,46.4 22.0,47.9 22.4,47.5 22.3,47.0 23.0,46.8 23.5,46.2 24.5,46.9 25.5,47.2 26.1,46.5 25.6,45.5 25.9,45.0 27.0,45.2 28.0,44.0 26.5,43.3 25.5,43.9 25.0,43.8 24.5,42.6 22.5,42.7 21.8,43.0 21.6,43.5 22.5,44.2 23.7,44.5 24.2,45.5 24.0,45.8 23.5,46.0 22.5,44.8 21.0,44.4 20.5,44.7 21.0,42.0 21.5,41.2 22.0,41.7 23.0,41.7 24.8,40.5 26.0,40.8 26.5,40.6 27.0,41.0 26.7,41.5 28.0,42.8 30.0,43.8 30.3,43.5 29.3,41.5 29.3,40.5 27.8,39.5 28.0,39.0 29.0,39.4 29.6,39.0 29.9,38.5 28.9,36.0 30.8,35.5 30.9,34.5 31.5,34.0ZM25.7,42.5L26.0,43.2 26.5,42.5 26.0,42.0ZM38.0,36.3L38.0,36.6 37.5,36.5ZM49.5,36.5L50.5,36.4 50.8,37.0 50.2,37.5 50.5,38.5 50.0,39.2 49.5,39.1 47.4,37.5 49.0,37.0 49.3,36.5ZM43.0,37.0L43.5,37.0 43.1,37.5 43.5,37.8 44.5,38.2 45.0,37.5 46.0,36.9 46.4,37.0 47.8,39.5 47.0,40.2 46.5,39.9 46.4,39.0 45.5,38.5 45.0,38.6 44.5,39.2 43.3,39.0 43.1,39.5 43.5,40.0 43.5,42.0 44.3,43.0 44.3,43.5 43.5,44.7 43.0,44.7 42.1,44.0 42.2,43.0 42.9,42.0 42.6,41.5 39.5,40.0 40.3,39.0 40.5,38.0 40.7,38.5 42.0,39.2 42.3,38.5 42.0,37.2 42.7,37.0ZM53.0,37.0L54.0,36.9 54.5,37.4 55.6,37.5 54.5,37.8 54.0,38.5 53.5,38.4 52.5,37.0ZM26.0,37.4L27.5,37.7 28.0,37.3 28.5,37.5 28.5,38.3 28.0,38.9 27.9,38.5 27.0,37.8 26.5,38.5 26.0,38.6 25.6,38.0 25.9,37.5ZM36.5,37.6L37.7,38.0 38.3,39.5 37.1,39.5 35.9,38.5 36.1,38.0ZM60.0,38.4L60.5,38.9 61.6,39.0 61.9,40.5 61.5,42.0 61.8,42.5 62.5,42.8 63.5,42.0 62.3,41.0 62.5,40.5 63.0,40.6 63.5,41.5 63.5,42.0 65.0,43.2 65.5,42.2 65.8,43.0 66.7,44.0 66.5,45.5 66.0,45.2 65.5,44.2 64.0,44.0 63.3,44.5 63.0,45.8 62.0,45.5 61.5,45.8 61.2,45.0 61.7,44.0 61.5,43.7 60.2,43.5 60.0,43.0 59.0,43.2 58.0,42.9 57.6,43.0 57.6,44.0 58.0,44.5 57.5,45.6 55.2,45.0 55.7,44.5 55.8,43.5 57.4,43.0 56.0,42.1 53.5,41.7 53.3,41.0 52.6,40.5 52.7,40.0 54.0,38.6 54.5,39.5 53.7,40.0 53.8,40.5 56.0,41.0 56.5,40.0 56.4,39.0 57.5,39.0 58.0,39.5 58.5,41.0 58.0,41.5 59.4,42.5 59.5,42.9 60.0,43.0 60.7,41.0 61.4,40.0 61.0,39.4 60.5,39.5 60.0,40.1 58.9,40.0 58.9,39.0 59.6,38.5ZM65.0,38.4L66.0,38.3 67.0,39.0 67.0,39.4 66.0,39.7 64.6,38.5ZM23.5,38.9L24.5,38.6 24.7,39.0 24.5,40.0 24.0,40.1 23.1,39.5 23.4,39.0ZM51.5,38.6L52.0,38.6 52.3,39.0 51.6,40.0 52.4,40.5 51.6,42.0 53.0,42.4 53.5,42.2 54.5,43.5 54.4,44.5 53.5,44.3 52.5,43.1 51.6,43.5 51.6,44.5 51.0,44.7 50.5,45.7 49.7,45.5 49.0,44.6 48.9,45.5 49.2,46.5 49.8,47.0 49.5,47.7 49.0,47.7 47.8,46.5 48.1,45.5 47.0,43.8 45.7,43.0 45.5,41.7 44.4,41.0 44.5,40.2 48.5,41.2 48.9,41.5 48.2,42.0 48.1,43.5 49.5,44.6 50.6,44.0 50.7,43.5 49.9,42.5 50.5,41.5 50.7,40.5 51.3,40.0 51.0,39.0ZM63.0,39.0L63.0,39.6 62.9,39.0ZM67.5,39.5L68.4,40.5 68.0,40.8 67.3,40.5 67.1,39.5ZM22.5,39.9L22.5,40.6 22.0,40.8 21.9,40.5 22.4,40.0ZM37.5,40.7L38.5,41.8 39.5,40.7 40.7,42.0 40.7,42.5 39.0,42.3 38.0,41.9 36.5,43.2 36.1,42.5 36.0,41.0 36.5,41.6 37.1,41.0ZM67.0,40.9L67.9,41.5 67.8,42.0 67.5,42.4 67.0,41.0ZM40.5,43.3L41.4,45.0 41.0,45.4 40.5,44.6 39.0,44.0 40.1,43.5ZM45.0,43.1L45.5,43.2 45.6,43.5 45.0,43.7 44.6,43.5ZM33.5,43.9L34.1,45.0 33.0,45.0 32.5,44.5 33.4,44.0ZM35.5,43.9L38.5,43.6 39.2,44.5 38.8,46.0 37.0,45.5 36.3,45.0 36.0,44.1 35.2,44.0ZM58.5,44.3L59.0,44.6 58.0,44.5ZM52.5,44.9L53.0,45.0 53.0,46.0 52.4,46.5 52.5,47.1 53.5,47.7 54.0,47.6 54.5,46.5 55.0,46.3 56.0,48.5 56.5,48.5 57.0,47.3 57.5,47.4 58.0,46.2 59.0,46.4 60.5,45.8 61.3,46.0 61.2,46.5 60.6,47.0 60.5,47.5 59.2,48.5 59.5,49.2 61.3,50.0 60.5,50.6 59.2,50.5 58.5,50.1 58.1,49.0 58.5,48.1 58.9,48.0 58.5,47.5 58.3,48.0 57.5,48.0 57.1,48.5 57.3,50.0 57.0,50.4 56.5,49.7 55.1,50.0 55.1,51.0 56.3,51.5 54.5,51.6 54.0,52.0 53.4,52.0 53.2,51.5 53.7,51.0 53.6,50.5 52.0,50.3 51.7,50.0 53.0,48.6 54.0,49.7 54.9,49.5 54.0,48.3 52.5,48.4 50.6,47.0 50.8,46.0 52.0,45.8 52.4,45.0ZM54.5,44.6L54.7,45.0 54.4,45.0ZM30.5,45.3L31.0,46.4 32.0,46.7 31.8,48.5 32.5,49.2 34.1,47.0 34.0,46.5 34.5,45.6 35.5,45.9 35.7,46.5 37.0,46.8 37.4,48.0 37.0,49.1 36.0,48.5 35.5,47.8 35.0,47.9 33.9,49.5 34.5,49.4 35.1,50.0 36.2,52.0 36.1,52.5 35.0,52.2 34.8,51.5 33.5,50.7 32.9,51.5 33.4,52.5 32.0,52.5 32.0,51.7 31.5,51.2 30.5,52.4 29.5,53.0 28.7,53.0 28.6,51.0 29.0,50.7 30.0,51.6 30.3,51.5 31.5,50.9 31.7,50.0 30.0,47.6 29.5,47.4 29.0,47.5 28.5,48.7 28.0,48.5 27.7,48.0 27.6,46.5 28.0,46.1 29.5,46.3 30.4,45.5ZM32.9,50.0L33.5,50.1 33.0,49.9ZM44.0,45.4L44.5,45.2 45.7,46.5 46.0,47.2 47.0,47.2 48.5,48.8 49.5,48.7 50.5,49.5 51.0,49.3 51.0,49.6 50.5,49.5 50.0,50.7 49.0,50.0 48.5,51.3 47.5,51.2 47.2,50.0 47.8,49.0 46.0,47.6 44.9,48.5 45.6,49.5 45.5,49.9 44.5,50.3 43.5,50.1 42.7,51.5 42.0,51.7 41.5,51.0 41.8,49.5 41.2,49.0 41.3,48.5 41.5,48.0 42.0,48.2 42.5,49.5 43.4,49.0 44.2,47.0 43.5,46.5 43.0,47.0 42.8,46.5 43.5,46.5 43.9,45.5ZM39.5,45.9L40.8,46.0 40.3,48.0 40.9,49.0 40.1,50.0 40.0,50.5 40.4,51.0 40.2,51.5 39.8,51.5 39.5,51.1 39.2,51.5 39.6,52.5 39.0,53.6 38.5,53.7 37.5,53.0 37.8,52.0 36.9,51.5 37.1,51.0 38.3,50.5 39.3,49.5 39.3,49.0 39.0,48.6 38.0,48.0 39.1,47.0 39.1,46.0ZM66.0,45.7L66.1,46.5 64.5,48.1 63.5,47.5 63.3,47.0 63.5,46.7 65.0,46.7 65.9,46.0ZM61.5,47.3L62.0,48.7 61.1,48.0 61.2,47.5ZM26.0,48.1L26.5,48.3 27.1,50.0 26.5,50.1 24.8,49.5 25.7,48.5ZM62.5,48.8L62.5,49.1 62.1,49.0ZM24.5,50.6L25.4,51.0 25.3,52.0 24.0,51.5 24.0,51.0ZM27.5,50.9L27.2,52.5 26.9,51.5 27.3,51.0ZM45.0,50.9L46.5,51.5 46.3,52.5 45.5,52.7 44.4,52.0 45.0,51.0ZM51.0,50.9L52.0,51.5 51.7,52.0 50.9,52.0 50.5,51.0ZM49.5,51.4L50.5,52.5 47.8,52.5 48.0,52.1 49.4,51.5ZM43.5,52.3L44.1,52.5 43.7,53.0 44.0,53.5 42.5,53.5 43.1,52.5ZM31.5,52.8L32.0,52.5 32.0,53.0 31.3,53.0ZM40.5,52.8L41.0,52.7 42.0,53.5 40.6,53.5 40.0,53.0ZM21.5,60.0L23.0,59.7 23.8,60.5 22.5,61.2 22.0,62.2 21.0,62.7 20.2,62.5 20.1,62.0 21.2,60.5 21.0,60.0ZM28.0,60.0L29.0,59.9 29.5,60.5 30.6,60.5 30.7,61.0 29.8,63.0 30.5,64.0 30.0,64.6 29.0,64.6 28.0,65.3 27.8,64.5 28.4,64.0 28.3,63.0 28.0,62.8 27.5,63.4 25.0,62.8 23.9,64.0 24.0,64.5 24.5,64.5 25.5,63.8 25.6,65.0 26.3,65.5 26.0,66.0 25.5,66.0 24.0,64.5 23.9,65.0 23.0,65.4 22.6,65.0 22.6,63.5 23.0,62.7 23.8,62.5 24.1,62.0 26.5,60.5 26.8,61.0 26.5,61.3 26.0,61.2 25.8,62.0 26.5,62.3 27.5,62.0 28.2,61.0 27.9,60.0ZM28.7,61.5L29.0,62.1 29.8,61.5 29.0,61.3ZM19.5,60.4L19.8,60.5 19.6,61.0 19.4,60.5ZM19.5,63.3L20.0,63.8 21.0,63.5 21.7,64.0 20.5,65.3 19.4,64.0 19.5,63.5ZM21.5,65.9L22.0,65.8 23.9,67.5 22.5,67.6 21.4,66.5 21.4,66.0ZM25.0,66.3L26.2,67.0 26.0,67.5 26.3,68.0 25.5,67.6 24.3,67.5 24.1,67.0 24.7,66.5ZM28.0,66.3L28.5,66.5 28.0,67.0 28.0,67.7 27.9,66.5Z" fill="#000" fill-rule="evenodd"/>
<path d="M4.8,-2.0L4.0,-1.0 2.0,-0.4 0.2,-1.0 -1.0,-2.0M99.6,-2.0L98.3,1.0 97.0,2.3 96.0,2.6 95.4,2.0 94.3,-2.0M104.2,-2.0L102.9,-2.0M-2.0,25.4L0.0,25.7 0.5,26.5 -0.5,28.5 -2.0,29.4M124.5,33.5L120.0,34.0 118.2,35.0 116.8,38.0 117.5,41.1 113.0,46.1 111.0,46.8 107.0,46.2 104.5,46.6 99.5,49.2 95.6,50.5 92.5,53.0 89.5,52.6 87.0,51.5 86.4,50.0 86.5,45.0 86.1,43.5 84.5,41.9 82.5,43.0 81.6,42.5 81.3,41.5 81.8,39.0 81.7,38.0 80.6,37.0 79.5,36.8 78.2,37.0 77.7,37.5 77.9,41.0 77.0,43.0 70.5,48.5 68.9,50.5 67.5,53.4 66.5,54.1 63.5,54.5 60.5,55.9 58.5,56.4 53.5,55.6 50.0,55.7 48.5,56.3 46.1,58.5 44.5,58.8 40.0,56.0 38.0,51.4 37.0,50.5 36.0,50.5 30.2,53.5 29.1,56.0 24.0,56.9 23.0,57.4 22.5,58.2 22.7,60.0 24.5,62.3 31.7,65.5 33.2,66.5 33.4,67.0 33.0,68.0 29.5,70.9 28.6,70.5 27.4,68.5 26.3,67.5 25.0,67.0 23.0,67.1 20.9,68.0 22.0,69.5 22.2,70.5 21.5,71.8 20.0,72.2 18.9,71.5 18.0,69.6 17.5,69.4 14.5,69.9 11.5,69.0 7.5,68.9 3.5,68.0 2.4,67.0 1.9,65.5 3.1,60.0 5.8,57.5 6.3,56.5 6.2,54.5 4.5,52.0 8.0,45.0 8.9,42.0 10.0,40.0 10.2,35.5 11.9,32.0 11.8,30.0 10.5,25.0 11.2,21.0 11.2,17.5 12.0,16.0 15.0,13.9 16.0,13.8 22.5,15.0 26.5,14.0 30.5,14.6 32.0,14.0 34.0,12.4 35.5,12.2 39.0,12.9 42.0,14.6 43.5,14.8 44.5,14.4 46.5,12.5 51.0,13.7 55.5,11.7 59.0,11.8 60.5,10.9 64.0,7.4 66.5,6.6 68.0,7.3 70.0,9.5 74.5,13.5 77.0,14.6 79.5,14.7 82.5,14.3 85.5,15.3 90.0,14.4 94.0,15.2 95.9,14.5 98.5,11.7 99.5,11.2 100.2,11.5 101.3,15.0 103.0,15.8 108.0,15.5 112.0,14.6 120.5,15.6 121.5,16.4 122.9,18.5 123.0,21.2 124.5,21.9M-2.0,51.7L-1.0,52.0 -0.1,53.0 -0.5,54.0 -2.0,55.2M-2.0,56.6L-1.5,57.0 -1.2,58.0 -2.0,58.6M-0.3,93.0L1.2,91.5 4.5,90.5 7.0,91.3 8.0,93.0M122.8,93.0L123.5,92.1 124.5,91.8M11.0,4.2L12.0,4.1 13.5,4.7 13.9,5.5 13.5,6.5 12.5,7.0 11.0,6.5 10.5,5.5 10.7,4.5ZM110.5,4.4L111.0,4.4 112.8,8.0 112.7,9.5 112.0,10.5 111.0,10.9 109.0,10.9 106.5,12.4 105.5,12.5 104.0,11.5 102.0,9.5 102.6,7.5 104.0,6.1 105.0,5.8 108.0,6.6 110.3,4.5ZM83.5,5.4L85.0,5.5 85.4,6.5 83.0,8.2 81.0,10.3 80.2,9.5 80.4,8.5 82.0,6.2 83.2,5.5ZM2.0,6.5L3.5,6.1 4.6,6.5 5.0,8.0 4.0,9.6 3.0,9.9 2.0,8.9 1.5,7.5 2.0,6.5ZM119.5,9.8L120.5,10.1 121.0,11.0 121.1,12.5 120.5,13.4 119.0,13.1 118.1,12.0 118.2,11.0 119.0,10.0ZM3.0,15.0L3.6,16.0 3.0,17.3 1.6,17.0 1.9,16.0 2.9,15.0ZM49.5,18.2L49.5,19.1 50.0,19.0 50.0,18.3ZM4.5,23.8L5.5,23.6 7.0,24.2 7.5,25.0 7.0,26.2 5.5,26.5 4.4,26.0 3.8,25.0 4.3,24.0ZM9.0,79.5L10.0,79.8 10.9,81.0 11.1,82.0 10.5,83.2 9.5,83.6 8.5,82.8 8.1,81.5 8.5,80.0Z" fill="none" stroke="#0000ff" stroke-width="0.70" stroke-linejoin="round"/>
<path d="M7.3,-2.0L7.0,-0.1 6.5,0.3 2.5,0.9 -2.0,0.0M14.3,-2.0L15.1,-0.5 18.0,0.1 18.8,1.0 18.3,3.5 16.2,6.0 15.8,7.0 17.3,10.0 18.0,13.1 19.0,13.7 20.0,13.8 21.8,13.0 20.4,10.5 20.5,8.5 21.0,7.4 22.0,6.5 22.4,4.5 24.0,0.6 25.5,0.1 26.5,0.5 26.7,1.0 25.9,3.5 26.0,4.5 27.0,5.6 29.1,6.5 29.2,7.0 28.8,8.5 28.0,9.1 26.5,9.2 24.3,8.5 24.4,12.0 27.0,12.4 30.5,14.1 31.5,13.5 32.5,10.6 34.0,9.9 36.5,11.1 39.0,11.2 43.5,12.4 44.8,7.5 43.9,4.5 44.5,1.0 47.8,1.5 47.8,3.5 46.6,7.0 47.4,10.5 49.0,12.0 50.5,12.4 51.8,12.0 52.0,11.5 51.1,9.0 51.2,8.0 54.0,6.4 55.0,6.8 56.5,8.6 60.0,10.2 60.8,9.5 61.1,8.5 59.7,6.0 60.0,4.6 63.0,2.9 65.0,4.2 66.0,4.1 67.8,1.0 67.7,0.0 66.5,-1.3 63.5,-0.6 62.5,-2.0M33.2,-2.0L32.9,-1.0 32.0,-0.5 30.5,-1.0 29.4,-2.0M42.5,-2.0L43.6,0.0 43.5,0.7 41.9,0.0 42.0,-1.4 42.5,-2.0M57.4,-2.0L57.2,0.0 56.5,0.8 55.4,0.0 55.4,-2.0M75.6,-2.0L75.3,-1.0 74.5,-0.1 70.5,-0.6 68.9,0.5 69.0,1.5 70.5,3.6 73.5,4.8 74.5,4.4 76.0,3.0 78.0,3.0 79.5,1.9 82.2,1.0 82.3,0.5 81.8,-0.5 79.5,-0.7 78.8,-2.0M86.4,-2.0L85.7,1.0 87.0,1.7 88.5,1.1 89.5,1.4 89.5,2.5 88.7,3.5 89.8,6.5 88.5,8.5 83.5,9.5 83.2,10.0 83.3,11.0 86.0,14.7 90.0,13.2 93.5,15.0 94.5,14.9 95.5,14.1 97.9,10.0 104.0,3.4 105.0,2.9 107.0,4.4 108.3,4.0 109.8,0.5 111.5,-1.0 111.8,-2.0M107.6,-2.0L107.0,-0.5 106.0,0.2 100.6,0.0 96.7,5.0 94.5,6.3 93.5,6.0 92.5,4.5 92.6,3.5 94.2,1.0 92.8,-2.0M115.3,-2.0L115.1,0.5 113.2,3.5 113.4,5.0 114.5,5.6 117.5,3.6 120.0,3.8 122.0,3.5 121.8,5.5 123.1,7.5 122.4,10.0 123.4,12.0 122.7,15.5 123.5,16.7 124.5,17.2M124.5,3.0L122.5,2.7 122.0,1.8 121.5,0.0 121.9,-2.0M-2.0,5.4L1.0,4.4 3.5,4.2 7.5,1.0 13.5,2.1 13.5,1.5 12.3,0.0 12.2,-2.0M-2.0,15.6L-0.5,15.4 0.7,14.5 1.3,11.5 0.8,10.0 -2.0,8.2M-2.0,21.7L2.3,21.5 0.0,19.6 -2.0,19.7M35.5,0.5L38.5,0.0 40.0,0.5 40.3,3.0 41.8,5.0 41.5,6.0 40.0,7.1 39.0,6.8 37.0,4.2 36.0,3.5 33.5,5.3 30.2,6.0 30.2,5.0 32.5,1.3 35.4,0.5ZM7.5,4.8L6.9,5.5 7.0,8.0 5.3,10.5 4.8,12.0 6.2,17.5 5.2,20.5 5.4,21.5 10.6,21.5 9.7,18.0 9.9,16.5 11.0,15.1 13.1,14.0 13.6,13.0 12.5,9.5 9.5,8.8 8.4,8.0 8.5,5.5 8.0,4.9ZM78.5,5.3L76.0,6.6 74.0,8.4 73.0,8.6 71.0,8.2 70.9,8.5 72.4,10.5 75.5,13.3 80.0,14.2 80.5,14.0 80.6,13.0 78.5,11.2 78.0,10.0 78.1,9.0 79.6,6.5 79.5,5.8 79.0,5.3ZM116.0,6.5L115.0,7.0 114.2,10.0 112.5,13.0 113.0,13.7 114.0,14.0 115.2,13.5 116.4,10.5 119.3,7.0 118.5,6.5 116.5,6.5ZM102.0,11.9L101.5,12.7 101.3,14.5 101.8,15.5 103.0,15.9 104.5,15.6 104.8,15.0 102.5,11.9ZM109.0,12.4L108.0,12.9 107.4,14.0 107.5,14.5 108.5,15.1 109.5,14.8 110.3,14.0 110.2,13.0 109.4,12.5ZM117.5,14.3L117.4,15.0 118.5,15.6 119.0,15.2 119.0,14.7 118.0,14.2ZM49.5,17.8L48.9,18.5 49.5,19.8 50.0,19.8 50.4,19.0 50.0,17.9Z" fill="none" stroke="#0000ff" stroke-width="0.70" stroke-linejoin="round"/>
<path d="M3.6,93.0L4.0,92.4 5.0,92.0 5.7,93.0M34.0,17.5L35.0,17.2 35.5,17.4 37.0,20.0 36.9,21.0 36.0,22.2 35.0,22.7 34.0,22.6 31.7,21.0 32.5,19.2 34.0,17.5ZM89.0,17.5L91.0,19.4 94.5,19.2 102.0,20.0 104.0,21.2 108.0,21.5 110.0,22.5 113.0,22.9 114.1,24.0 113.8,25.5 112.0,27.7 109.0,29.9 106.5,31.0 104.0,30.8 102.0,32.0 101.0,32.0 98.0,31.0 94.5,33.1 91.0,32.3 85.5,34.0 77.5,32.3 74.5,31.0 73.8,30.0 74.7,28.5 75.4,24.5 76.2,23.0 77.5,21.8 80.0,20.7 83.5,19.8 87.5,19.7 88.7,18.0ZM57.5,18.3L58.1,18.5 58.0,19.3 57.5,19.4 57.1,18.5ZM39.0,19.9L40.0,19.8 40.0,20.8 39.5,21.0 39.0,20.7 39.0,20.0ZM57.0,20.3L58.0,20.0 61.0,20.8 67.5,21.1 72.0,23.2 72.5,24.0 70.3,27.5 68.0,28.6 60.5,29.7 55.5,28.1 53.7,26.5 53.8,24.0 54.5,21.9 56.8,20.5ZM19.5,20.9L20.5,20.7 21.3,21.5 21.8,24.5 22.8,26.0 22.4,27.0 21.5,27.3 20.5,27.1 18.2,25.0 18.1,23.0 19.4,21.0ZM14.0,24.5L14.6,25.5 14.5,26.1 14.0,26.3 13.3,25.5 13.5,24.7 14.0,24.5ZM17.0,28.9L18.0,29.4 20.5,32.8 24.0,34.0 23.5,37.5 22.5,37.4 19.5,35.2 17.0,36.1 16.0,35.6 15.5,31.0 16.7,29.0ZM39.5,29.0L41.0,28.9 42.3,30.0 43.3,32.5 43.1,35.0 40.4,38.5 35.3,47.0 33.0,48.7 28.5,50.2 25.5,50.6 24.0,50.1 21.4,46.5 21.5,45.5 23.7,44.0 25.0,40.5 29.1,39.5 30.3,36.0 33.1,34.5 33.6,31.5 34.5,30.1 36.0,29.4 39.4,29.0ZM24.0,30.6L25.0,30.7 25.6,31.5 25.5,32.5 25.0,33.0 24.0,33.0 23.6,31.0ZM50.0,33.0L51.5,34.1 55.0,34.3 57.5,35.1 58.2,36.0 58.1,39.0 58.5,39.3 62.0,37.0 63.5,36.6 69.0,38.5 70.0,39.3 70.8,40.5 71.3,43.0 70.5,44.5 68.5,46.0 66.5,48.3 59.0,53.1 57.5,53.2 55.5,52.1 54.3,50.0 53.5,47.5 51.1,50.5 47.5,52.8 45.0,53.5 42.5,53.1 39.9,50.0 39.5,47.5 40.4,45.0 47.4,37.5 48.5,34.6 49.9,33.0ZM11.0,55.3L12.5,55.2 13.4,56.0 13.4,59.0 12.5,60.3 7.5,62.7 6.5,62.7 5.9,62.0 6.5,61.1 8.5,60.7 9.6,60.0 10.1,59.0 10.1,56.5 10.8,55.5ZM17.5,57.4L18.0,57.7 18.7,59.5 21.0,61.5 21.2,63.0 19.5,63.7 18.0,63.4 17.0,62.7 15.8,59.5 17.4,57.5ZM9.0,65.4L9.5,65.5 9.6,66.0 9.1,66.5 8.5,66.0 8.8,65.5Z" fill="none" stroke="#ee00ee" stroke-width="0.70" stroke-linejoin="round"/>
</g>
<polyline points="20.6,-3.0 4.8,75.6 25.1,78.8 124.0,91.2" fill="none" stroke="#000" stroke-width="0.9"/>
<line x1="30.55" y1="0" x2="30.55" y2="91.0" stroke="#c8c8c8" stroke-width="0.55" stroke-dasharray="1.3 1.0"/>
<line x1="61.10" y1="0" x2="61.10" y2="91.0" stroke="#c8c8c8" stroke-width="0.55" stroke-dasharray="1.3 1.0"/>
<line x1="91.65" y1="0" x2="91.65" y2="91.0" stroke="#c8c8c8" stroke-width="0.55" stroke-dasharray="1.3 1.0"/>
<line x1="0" y1="30.33" x2="122.2" y2="30.33" stroke="#c8c8c8" stroke-width="0.55" stroke-dasharray="1.3 1.0"/>
<line x1="0" y1="60.67" x2="122.2" y2="60.67" stroke="#c8c8c8" stroke-width="0.55" stroke-dasharray="1.3 1.0"/>
<rect x="0" y="0" width="122.2" height="91.0" fill="none" stroke="#555" stroke-width="0.90"/>
</g></g>
<line x1="211.4" y1="257.9" x2="213.4" y2="257.9" stroke="#333" stroke-width="0.6"/>
<text x="208.8" y="260.4" font-size="6.90" text-anchor="end" fill="#262626" stroke="#262626" stroke-width="0.18">36.5</text>
<line x1="211.4" y1="286.4" x2="213.4" y2="286.4" stroke="#333" stroke-width="0.6"/>
<text x="208.8" y="288.9" font-size="6.90" text-anchor="end" fill="#262626" stroke="#262626" stroke-width="0.18">36</text>
<line x1="211.4" y1="315.0" x2="213.4" y2="315.0" stroke="#333" stroke-width="0.6"/>
<text x="208.8" y="317.5" font-size="6.90" text-anchor="end" fill="#262626" stroke="#262626" stroke-width="0.18">35.5</text>
<line x1="211.4" y1="343.5" x2="213.4" y2="343.5" stroke="#333" stroke-width="0.6"/>
<text x="208.8" y="346.0" font-size="6.90" text-anchor="end" fill="#262626" stroke="#262626" stroke-width="0.18">35</text>
<line x1="213.4" y1="343.5" x2="213.4" y2="345.5" stroke="#333" stroke-width="0.6"/>
<text x="213.4" y="353.6" font-size="6.60" text-anchor="middle" fill="#262626" stroke="#262626" stroke-width="0.18">132.0</text>
<line x1="245.2" y1="343.5" x2="245.2" y2="345.5" stroke="#333" stroke-width="0.6"/>
<text x="245.2" y="353.6" font-size="6.60" text-anchor="middle" fill="#262626" stroke="#262626" stroke-width="0.18">132.5</text>
<line x1="276.9" y1="343.5" x2="276.9" y2="345.5" stroke="#333" stroke-width="0.6"/>
<text x="276.9" y="353.6" font-size="6.60" text-anchor="middle" fill="#262626" stroke="#262626" stroke-width="0.18">133.0</text>
<line x1="308.6" y1="343.5" x2="308.6" y2="345.5" stroke="#333" stroke-width="0.6"/>
<text x="308.6" y="353.6" font-size="6.60" text-anchor="middle" fill="#262626" stroke="#262626" stroke-width="0.18">133.5</text>
<line x1="340.4" y1="343.5" x2="340.4" y2="345.5" stroke="#333" stroke-width="0.6"/>
<text x="340.4" y="353.6" font-size="6.60" text-anchor="middle" fill="#262626" stroke="#262626" stroke-width="0.18">134.0</text>
<text x="269.8" y="254.2" font-size="8.10" text-anchor="middle" fill="#262626" stroke="#262626" stroke-width="0.18">(h) Filter for VH</text>
<g transform="translate(399.90 258.90) scale(1.0123 0.9165)"><g clip-path="url(#clipframe)">
<rect x="0" y="0" width="122.2" height="91.0" fill="#fff"/>
<g clip-path="url(#clipswath)">
<polygon points="9.8,92.0 11.1,90.6 17.3,86.7 21.6,83.2 24.7,80.1 26.8,78.8 30.3,77.1 33.8,74.9 37.3,73.2 39.9,70.1 40.8,67.5 39.1,65.7 40.8,64.4 45.4,62.0 50.2,60.8 56.2,59.6 60.8,57.5 64.6,55.8 71.8,55.4 76.5,55.5 79.0,56.2 77.2,58.0 79.6,60.4 83.8,62.2 87.4,61.6 92.2,59.4 98.2,59.0 105.4,59.4 112.6,59.4 124.0,59.0 124.0,92.0" fill="#000"/>
<polygon points="60.0,56.0 78.0,54.2 92.0,53.2 124.0,52.8 124.0,64.0 60.0,64.0" fill="#000"/>
<ellipse cx="78.5" cy="14.3" rx="8.6" ry="6.3" fill="#000"/>
<ellipse cx="64.6" cy="26.8" rx="7.5" ry="5.5" fill="#000"/>
<path d="M56 11.5 L71 10.8 M53.5 15.5 L71 15.2" stroke="#000" stroke-width="1.6" fill="none"/>
<path d="M94.5,-2.0L95.0,-2.0 95.0,-1.5 94.5,-1.5 94.1,-2.0ZM47.5,1.1L47.8,1.5 47.3,1.5ZM4.5,8.8L5.0,9.0 4.9,9.5 4.0,10.5 3.2,10.5 3.2,10.0 4.2,9.0ZM82.0,10.8L82.9,12.0 82.5,12.4 82.0,12.5 81.5,12.0 81.6,11.0ZM-1.8,11.5L-2.0,12.0 -2.0,11.1ZM106.0,16.5L106.6,16.5 106.6,17.0 105.6,18.0 106.0,16.5ZM44.0,17.4L44.5,17.3 45.1,18.0 44.5,18.9 43.4,18.5 43.9,17.5ZM35.5,25.5L36.5,25.1 38.0,26.2 40.8,27.0 41.4,27.5 42.6,31.0 41.6,32.5 41.2,34.0 42.0,36.0 44.0,37.3 48.0,36.2 49.5,36.7 51.0,36.5 54.0,37.2 56.0,37.0 58.0,38.2 64.0,39.3 66.0,38.4 68.9,40.5 69.0,42.0 66.8,44.5 66.5,46.0 64.6,47.5 63.5,50.0 61.0,51.4 58.0,51.3 56.5,52.4 54.0,50.6 53.3,51.0 52.5,52.4 47.0,52.1 46.5,52.5 47.0,53.6 45.5,54.2 44.0,53.0 42.0,54.0 40.5,53.8 39.0,54.3 38.3,53.0 37.5,52.7 34.0,53.2 31.0,52.6 30.0,53.3 28.5,53.4 26.0,52.3 24.5,51.2 21.5,51.1 20.4,48.5 20.6,48.0 19.8,47.0 20.2,43.5 21.3,43.0 21.5,42.5 20.7,41.0 20.8,40.0 22.0,38.7 24.0,38.8 26.0,38.2 27.0,37.2 29.2,36.0 31.0,34.0 32.6,33.5 33.3,31.5 32.6,26.5 33.5,25.7 34.5,25.9 35.5,25.5ZM124.5,26.0L124.5,26.8 123.4,26.5 124.1,26.0ZM19.5,30.2L23.0,30.1 24.2,31.5 24.2,32.0 23.1,32.5 22.0,34.3 20.5,34.5 19.1,34.0 18.7,33.5 18.7,31.5 19.1,30.5ZM87.0,36.8L87.8,37.5 87.1,37.5 86.8,37.0ZM66.5,37.2L66.8,37.5 66.5,38.2 66.2,38.0 66.3,37.5ZM80.5,37.9L80.5,38.2 80.1,38.0ZM77.5,39.2L78.3,40.0 78.1,40.5 77.3,40.5 77.2,39.5ZM3.0,39.8L3.5,40.5 3.0,40.5 3.0,40.0ZM117.5,43.3L117.8,43.5 117.5,44.1 117.2,43.5ZM88.0,51.7L89.5,51.9 89.5,52.6 88.0,53.1 87.4,52.5 87.7,52.0ZM81.5,54.8L82.0,55.0 81.7,55.5 80.8,55.5 81.2,55.0ZM124.5,55.5L124.5,57.1 123.7,56.5 123.7,56.0 124.5,55.5ZM23.5,57.4L24.2,57.5 24.7,58.5 26.0,59.3 27.5,58.8 30.0,60.0 31.3,60.0 31.3,63.5 30.2,64.5 29.3,68.0 28.0,68.7 27.0,68.4 26.0,68.8 24.8,68.0 24.5,66.7 22.5,67.8 21.7,67.0 22.1,65.0 21.0,64.2 20.0,64.9 19.6,64.5 19.4,63.5 20.2,62.5 19.7,61.0 20.1,60.0 22.7,59.0 23.4,57.5ZM28.4,64.5L28.5,65.0 29.0,65.0 29.4,64.5 29.0,64.0 28.5,64.3ZM116.5,61.4L117.5,61.2 117.9,61.5 117.8,62.5 116.5,63.9 115.9,64.0 115.2,63.0 115.5,62.0 116.3,61.5ZM-1.8,65.0L-2.0,65.8 -2.0,64.8ZM-2.0,75.0L-2.0,75.7 -2.0,75.0ZM16.5,80.7L17.3,81.5 17.0,82.1 16.5,82.1 16.0,81.0ZM119.0,80.9L119.5,80.9 119.5,81.2 118.9,81.0ZM64.5,90.4L64.5,91.1 64.3,90.5ZM2.0,92.5L2.4,93.0 1.7,93.0ZM98.0,92.6L98.5,92.5 98.7,93.0 97.9,93.0Z" fill="#000" fill-rule="evenodd"/>
<path d="M4.8,-2.0L4.0,-1.0 2.0,-0.4 0.2,-1.0 -1.0,-2.0M99.6,-2.0L98.3,1.0 97.0,2.3 96.0,2.6 95.4,2.0 94.3,-2.0M104.2,-2.0L102.9,-2.0M-2.0,25.4L0.0,25.7 0.5,26.5 -0.5,28.5 -2.0,29.4M124.5,33.5L120.0,34.0 118.2,35.0 116.8,38.0 117.5,41.1 113.0,46.1 111.0,46.8 107.0,46.2 104.5,46.6 99.5,49.2 95.6,50.5 92.5,53.0 89.5,52.6 87.0,51.5 86.4,50.0 86.5,45.0 86.1,43.5 84.5,41.9 82.5,43.0 81.6,42.5 81.3,41.5 81.8,39.0 81.7,38.0 80.6,37.0 79.5,36.8 78.2,37.0 77.7,37.5 77.9,41.0 77.0,43.0 70.5,48.5 68.9,50.5 67.5,53.4 66.5,54.1 63.5,54.5 60.5,55.9 58.5,56.4 53.5,55.6 50.0,55.7 48.5,56.3 46.1,58.5 44.5,58.8 40.0,56.0 38.0,51.4 37.0,50.5 36.0,50.5 30.2,53.5 29.1,56.0 24.0,56.9 23.0,57.4 22.5,58.2 22.7,60.0 24.5,62.3 31.7,65.5 33.2,66.5 33.4,67.0 33.0,68.0 29.5,70.9 28.6,70.5 27.4,68.5 26.3,67.5 25.0,67.0 23.0,67.1 20.9,68.0 22.0,69.5 22.2,70.5 21.5,71.8 20.0,72.2 18.9,71.5 18.0,69.6 17.5,69.4 14.5,69.9 11.5,69.0 7.5,68.9 3.5,68.0 2.4,67.0 1.9,65.5 3.1,60.0 5.8,57.5 6.3,56.5 6.2,54.5 4.5,52.0 8.0,45.0 8.9,42.0 10.0,40.0 10.2,35.5 11.9,32.0 11.8,30.0 10.5,25.0 11.2,21.0 11.2,17.5 12.0,16.0 15.0,13.9 16.0,13.8 22.5,15.0 26.5,14.0 30.5,14.6 32.0,14.0 34.0,12.4 35.5,12.2 39.0,12.9 42.0,14.6 43.5,14.8 44.5,14.4 46.5,12.5 51.0,13.7 55.5,11.7 59.0,11.8 60.5,10.9 64.0,7.4 66.5,6.6 68.0,7.3 70.0,9.5 74.5,13.5 77.0,14.6 79.5,14.7 82.5,14.3 85.5,15.3 90.0,14.4 94.0,15.2 95.9,14.5 98.5,11.7 99.5,11.2 100.2,11.5 101.3,15.0 103.0,15.8 108.0,15.5 112.0,14.6 120.5,15.6 121.5,16.4 122.9,18.5 123.0,21.2 124.5,21.9M-2.0,51.7L-1.0,52.0 -0.1,53.0 -0.5,54.0 -2.0,55.2M-2.0,56.6L-1.5,57.0 -1.2,58.0 -2.0,58.6M-0.3,93.0L1.2,91.5 4.5,90.5 7.0,91.3 8.0,93.0M122.8,93.0L123.5,92.1 124.5,91.8M11.0,4.2L12.0,4.1 13.5,4.7 13.9,5.5 13.5,6.5 12.5,7.0 11.0,6.5 10.5,5.5 10.7,4.5ZM110.5,4.4L111.0,4.4 112.8,8.0 112.7,9.5 112.0,10.5 111.0,10.9 109.0,10.9 106.5,12.4 105.5,12.5 104.0,11.5 102.0,9.5 102.6,7.5 104.0,6.1 105.0,5.8 108.0,6.6 110.3,4.5ZM83.5,5.4L85.0,5.5 85.4,6.5 83.0,8.2 81.0,10.3 80.2,9.5 80.4,8.5 82.0,6.2 83.2,5.5ZM2.0,6.5L3.5,6.1 4.6,6.5 5.0,8.0 4.0,9.6 3.0,9.9 2.0,8.9 1.5,7.5 2.0,6.5ZM119.5,9.8L120.5,10.1 121.0,11.0 121.1,12.5 120.5,13.4 119.0,13.1 118.1,12.0 118.2,11.0 119.0,10.0ZM3.0,15.0L3.6,16.0 3.0,17.3 1.6,17.0 1.9,16.0 2.9,15.0ZM49.5,18.2L49.5,19.1 50.0,19.0 50.0,18.3ZM4.5,23.8L5.5,23.6 7.0,24.2 7.5,25.0 7.0,26.2 5.5,26.5 4.4,26.0 3.8,25.0 4.3,24.0ZM9.0,79.5L10.0,79.8 10.9,81.0 11.1,82.0 10.5,83.2 9.5,83.6 8.5,82.8 8.1,81.5 8.5,80.0Z" fill="none" stroke="#0000ff" stroke-width="0.70" stroke-linejoin="round"/>
<path d="M7.3,-2.0L7.0,-0.1 6.5,0.3 2.5,0.9 -2.0,0.0M14.3,-2.0L15.1,-0.5 18.0,0.1 18.8,1.0 18.3,3.5 16.2,6.0 15.8,7.0 17.3,10.0 18.0,13.1 19.0,13.7 20.0,13.8 21.8,13.0 20.4,10.5 20.5,8.5 21.0,7.4 22.0,6.5 22.4,4.5 24.0,0.6 25.5,0.1 26.5,0.5 26.7,1.0 25.9,3.5 26.0,4.5 27.0,5.6 29.1,6.5 29.2,7.0 28.8,8.5 28.0,9.1 26.5,9.2 24.3,8.5 24.4,12.0 27.0,12.4 30.5,14.1 31.5,13.5 32.5,10.6 34.0,9.9 36.5,11.1 39.0,11.2 43.5,12.4 44.8,7.5 43.9,4.5 44.5,1.0 47.8,1.5 47.8,3.5 46.6,7.0 47.4,10.5 49.0,12.0 50.5,12.4 51.8,12.0 52.0,11.5 51.1,9.0 51.2,8.0 54.0,6.4 55.0,6.8 56.5,8.6 60.0,10.2 60.8,9.5 61.1,8.5 59.7,6.0 60.0,4.6 63.0,2.9 65.0,4.2 66.0,4.1 67.8,1.0 67.7,0.0 66.5,-1.3 63.5,-0.6 62.5,-2.0M33.2,-2.0L32.9,-1.0 32.0,-0.5 30.5,-1.0 29.4,-2.0M42.5,-2.0L43.6,0.0 43.5,0.7 41.9,0.0 42.0,-1.4 42.5,-2.0M57.4,-2.0L57.2,0.0 56.5,0.8 55.4,0.0 55.4,-2.0M75.6,-2.0L75.3,-1.0 74.5,-0.1 70.5,-0.6 68.9,0.5 69.0,1.5 70.5,3.6 73.5,4.8 74.5,4.4 76.0,3.0 78.0,3.0 79.5,1.9 82.2,1.0 82.3,0.5 81.8,-0.5 79.5,-0.7 78.8,-2.0M86.4,-2.0L85.7,1.0 87.0,1.7 88.5,1.1 89.5,1.4 89.5,2.5 88.7,3.5 89.8,6.5 88.5,8.5 83.5,9.5 83.2,10.0 83.3,11.0 86.0,14.7 90.0,13.2 93.5,15.0 94.5,14.9 95.5,14.1 97.9,10.0 104.0,3.4 105.0,2.9 107.0,4.4 108.3,4.0 109.8,0.5 111.5,-1.0 111.8,-2.0M107.6,-2.0L107.0,-0.5 106.0,0.2 100.6,0.0 96.7,5.0 94.5,6.3 93.5,6.0 92.5,4.5 92.6,3.5 94.2,1.0 92.8,-2.0M115.3,-2.0L115.1,0.5 113.2,3.5 113.4,5.0 114.5,5.6 117.5,3.6 120.0,3.8 122.0,3.5 121.8,5.5 123.1,7.5 122.4,10.0 123.4,12.0 122.7,15.5 123.5,16.7 124.5,17.2M124.5,3.0L122.5,2.7 122.0,1.8 121.5,0.0 121.9,-2.0M-2.0,5.4L1.0,4.4 3.5,4.2 7.5,1.0 13.5,2.1 13.5,1.5 12.3,0.0 12.2,-2.0M-2.0,15.6L-0.5,15.4 0.7,14.5 1.3,11.5 0.8,10.0 -2.0,8.2M-2.0,21.7L2.3,21.5 0.0,19.6 -2.0,19.7M35.5,0.5L38.5,0.0 40.0,0.5 40.3,3.0 41.8,5.0 41.5,6.0 40.0,7.1 39.0,6.8 37.0,4.2 36.0,3.5 33.5,5.3 30.2,6.0 30.2,5.0 32.5,1.3 35.4,0.5ZM7.5,4.8L6.9,5.5 7.0,8.0 5.3,10.5 4.8,12.0 6.2,17.5 5.2,20.5 5.4,21.5 10.6,21.5 9.7,18.0 9.9,16.5 11.0,15.1 13.1,14.0 13.6,13.0 12.5,9.5 9.5,8.8 8.4,8.0 8.5,5.5 8.0,4.9ZM78.5,5.3L76.0,6.6 74.0,8.4 73.0,8.6 71.0,8.2 70.9,8.5 72.4,10.5 75.5,13.3 80.0,14.2 80.5,14.0 80.6,13.0 78.5,11.2 78.0,10.0 78.1,9.0 79.6,6.5 79.5,5.8 79.0,5.3ZM116.0,6.5L115.0,7.0 114.2,10.0 112.5,13.0 113.0,13.7 114.0,14.0 115.2,13.5 116.4,10.5 119.3,7.0 118.5,6.5 116.5,6.5ZM102.0,11.9L101.5,12.7 101.3,14.5 101.8,15.5 103.0,15.9 104.5,15.6 104.8,15.0 102.5,11.9ZM109.0,12.4L108.0,12.9 107.4,14.0 107.5,14.5 108.5,15.1 109.5,14.8 110.3,14.0 110.2,13.0 109.4,12.5ZM117.5,14.3L117.4,15.0 118.5,15.6 119.0,15.2 119.0,14.7 118.0,14.2ZM49.5,17.8L48.9,18.5 49.5,19.8 50.0,19.8 50.4,19.0 50.0,17.9Z" fill="none" stroke="#0000ff" stroke-width="0.70" stroke-linejoin="round"/>
<path d="M3.6,93.0L4.0,92.4 5.0,92.0 5.7,93.0M34.0,17.5L35.0,17.2 35.5,17.4 37.0,20.0 36.9,21.0 36.0,22.2 35.0,22.7 34.0,22.6 31.7,21.0 32.5,19.2 34.0,17.5ZM89.0,17.5L91.0,19.4 94.5,19.2 102.0,20.0 104.0,21.2 108.0,21.5 110.0,22.5 113.0,22.9 114.1,24.0 113.8,25.5 112.0,27.7 109.0,29.9 106.5,31.0 104.0,30.8 102.0,32.0 101.0,32.0 98.0,31.0 94.5,33.1 91.0,32.3 85.5,34.0 77.5,32.3 74.5,31.0 73.8,30.0 74.7,28.5 75.4,24.5 76.2,23.0 77.5,21.8 80.0,20.7 83.5,19.8 87.5,19.7 88.7,18.0ZM57.5,18.3L58.1,18.5 58.0,19.3 57.5,19.4 57.1,18.5ZM39.0,19.9L40.0,19.8 40.0,20.8 39.5,21.0 39.0,20.7 39.0,20.0ZM57.0,20.3L58.0,20.0 61.0,20.8 67.5,21.1 72.0,23.2 72.5,24.0 70.3,27.5 68.0,28.6 60.5,29.7 55.5,28.1 53.7,26.5 53.8,24.0 54.5,21.9 56.8,20.5ZM19.5,20.9L20.5,20.7 21.3,21.5 21.8,24.5 22.8,26.0 22.4,27.0 21.5,27.3 20.5,27.1 18.2,25.0 18.1,23.0 19.4,21.0ZM14.0,24.5L14.6,25.5 14.5,26.1 14.0,26.3 13.3,25.5 13.5,24.7 14.0,24.5ZM17.0,28.9L18.0,29.4 20.5,32.8 24.0,34.0 23.5,37.5 22.5,37.4 19.5,35.2 17.0,36.1 16.0,35.6 15.5,31.0 16.7,29.0ZM39.5,29.0L41.0,28.9 42.3,30.0 43.3,32.5 43.1,35.0 40.4,38.5 35.3,47.0 33.0,48.7 28.5,50.2 25.5,50.6 24.0,50.1 21.4,46.5 21.5,45.5 23.7,44.0 25.0,40.5 29.1,39.5 30.3,36.0 33.1,34.5 33.6,31.5 34.5,30.1 36.0,29.4 39.4,29.0ZM24.0,30.6L25.0,30.7 25.6,31.5 25.5,32.5 25.0,33.0 24.0,33.0 23.6,31.0ZM50.0,33.0L51.5,34.1 55.0,34.3 57.5,35.1 58.2,36.0 58.1,39.0 58.5,39.3 62.0,37.0 63.5,36.6 69.0,38.5 70.0,39.3 70.8,40.5 71.3,43.0 70.5,44.5 68.5,46.0 66.5,48.3 59.0,53.1 57.5,53.2 55.5,52.1 54.3,50.0 53.5,47.5 51.1,50.5 47.5,52.8 45.0,53.5 42.5,53.1 39.9,50.0 39.5,47.5 40.4,45.0 47.4,37.5 48.5,34.6 49.9,33.0ZM11.0,55.3L12.5,55.2 13.4,56.0 13.4,59.0 12.5,60.3 7.5,62.7 6.5,62.7 5.9,62.0 6.5,61.1 8.5,60.7 9.6,60.0 10.1,59.0 10.1,56.5 10.8,55.5ZM17.5,57.4L18.0,57.7 18.7,59.5 21.0,61.5 21.2,63.0 19.5,63.7 18.0,63.4 17.0,62.7 15.8,59.5 17.4,57.5ZM9.0,65.4L9.5,65.5 9.6,66.0 9.1,66.5 8.5,66.0 8.8,65.5Z" fill="none" stroke="#ee00ee" stroke-width="0.70" stroke-linejoin="round"/>
</g>
<polyline points="20.6,-3.0 4.8,75.6 25.1,78.8 124.0,91.2" fill="none" stroke="#000" stroke-width="0.9"/>
<line x1="30.55" y1="0" x2="30.55" y2="91.0" stroke="#c8c8c8" stroke-width="0.55" stroke-dasharray="1.3 1.0"/>
<line x1="61.10" y1="0" x2="61.10" y2="91.0" stroke="#c8c8c8" stroke-width="0.55" stroke-dasharray="1.3 1.0"/>
<line x1="91.65" y1="0" x2="91.65" y2="91.0" stroke="#c8c8c8" stroke-width="0.55" stroke-dasharray="1.3 1.0"/>
<line x1="0" y1="30.33" x2="122.2" y2="30.33" stroke="#c8c8c8" stroke-width="0.55" stroke-dasharray="1.3 1.0"/>
<line x1="0" y1="60.67" x2="122.2" y2="60.67" stroke="#c8c8c8" stroke-width="0.55" stroke-dasharray="1.3 1.0"/>
<rect x="0" y="0" width="122.2" height="91.0" fill="none" stroke="#555" stroke-width="0.90"/>
</g></g>
<line x1="397.9" y1="258.9" x2="399.9" y2="258.9" stroke="#333" stroke-width="0.6"/>
<text x="395.3" y="261.4" font-size="6.90" text-anchor="end" fill="#262626" stroke="#262626" stroke-width="0.18">36.5</text>
<line x1="397.9" y1="286.7" x2="399.9" y2="286.7" stroke="#333" stroke-width="0.6"/>
<text x="395.3" y="289.2" font-size="6.90" text-anchor="end" fill="#262626" stroke="#262626" stroke-width="0.18">36</text>
<line x1="397.9" y1="314.5" x2="399.9" y2="314.5" stroke="#333" stroke-width="0.6"/>
<text x="395.3" y="317.0" font-size="6.90" text-anchor="end" fill="#262626" stroke="#262626" stroke-width="0.18">35.5</text>
<line x1="397.9" y1="342.3" x2="399.9" y2="342.3" stroke="#333" stroke-width="0.6"/>
<text x="395.3" y="344.8" font-size="6.90" text-anchor="end" fill="#262626" stroke="#262626" stroke-width="0.18">35</text>
<line x1="399.9" y1="342.3" x2="399.9" y2="344.3" stroke="#333" stroke-width="0.6"/>
<text x="399.9" y="352.4" font-size="6.60" text-anchor="middle" fill="#262626" stroke="#262626" stroke-width="0.18">132.0</text>
<line x1="430.8" y1="342.3" x2="430.8" y2="344.3" stroke="#333" stroke-width="0.6"/>
<text x="430.8" y="352.4" font-size="6.60" text-anchor="middle" fill="#262626" stroke="#262626" stroke-width="0.18">132.5</text>
<line x1="461.8" y1="342.3" x2="461.8" y2="344.3" stroke="#333" stroke-width="0.6"/>
<text x="461.8" y="352.4" font-size="6.60" text-anchor="middle" fill="#262626" stroke="#262626" stroke-width="0.18">133.0</text>
<line x1="492.7" y1="342.3" x2="492.7" y2="344.3" stroke="#333" stroke-width="0.6"/>
<text x="492.7" y="352.4" font-size="6.60" text-anchor="middle" fill="#262626" stroke="#262626" stroke-width="0.18">133.5</text>
<line x1="523.6" y1="342.3" x2="523.6" y2="344.3" stroke="#333" stroke-width="0.6"/>
<text x="523.6" y="352.4" font-size="6.60" text-anchor="middle" fill="#262626" stroke="#262626" stroke-width="0.18">134.0</text>
<text x="456.8" y="254.4" font-size="7.90" text-anchor="middle" fill="#262626" stroke="#262626" stroke-width="0.18">(i) DualPol Filter</text></svg></body></html>
